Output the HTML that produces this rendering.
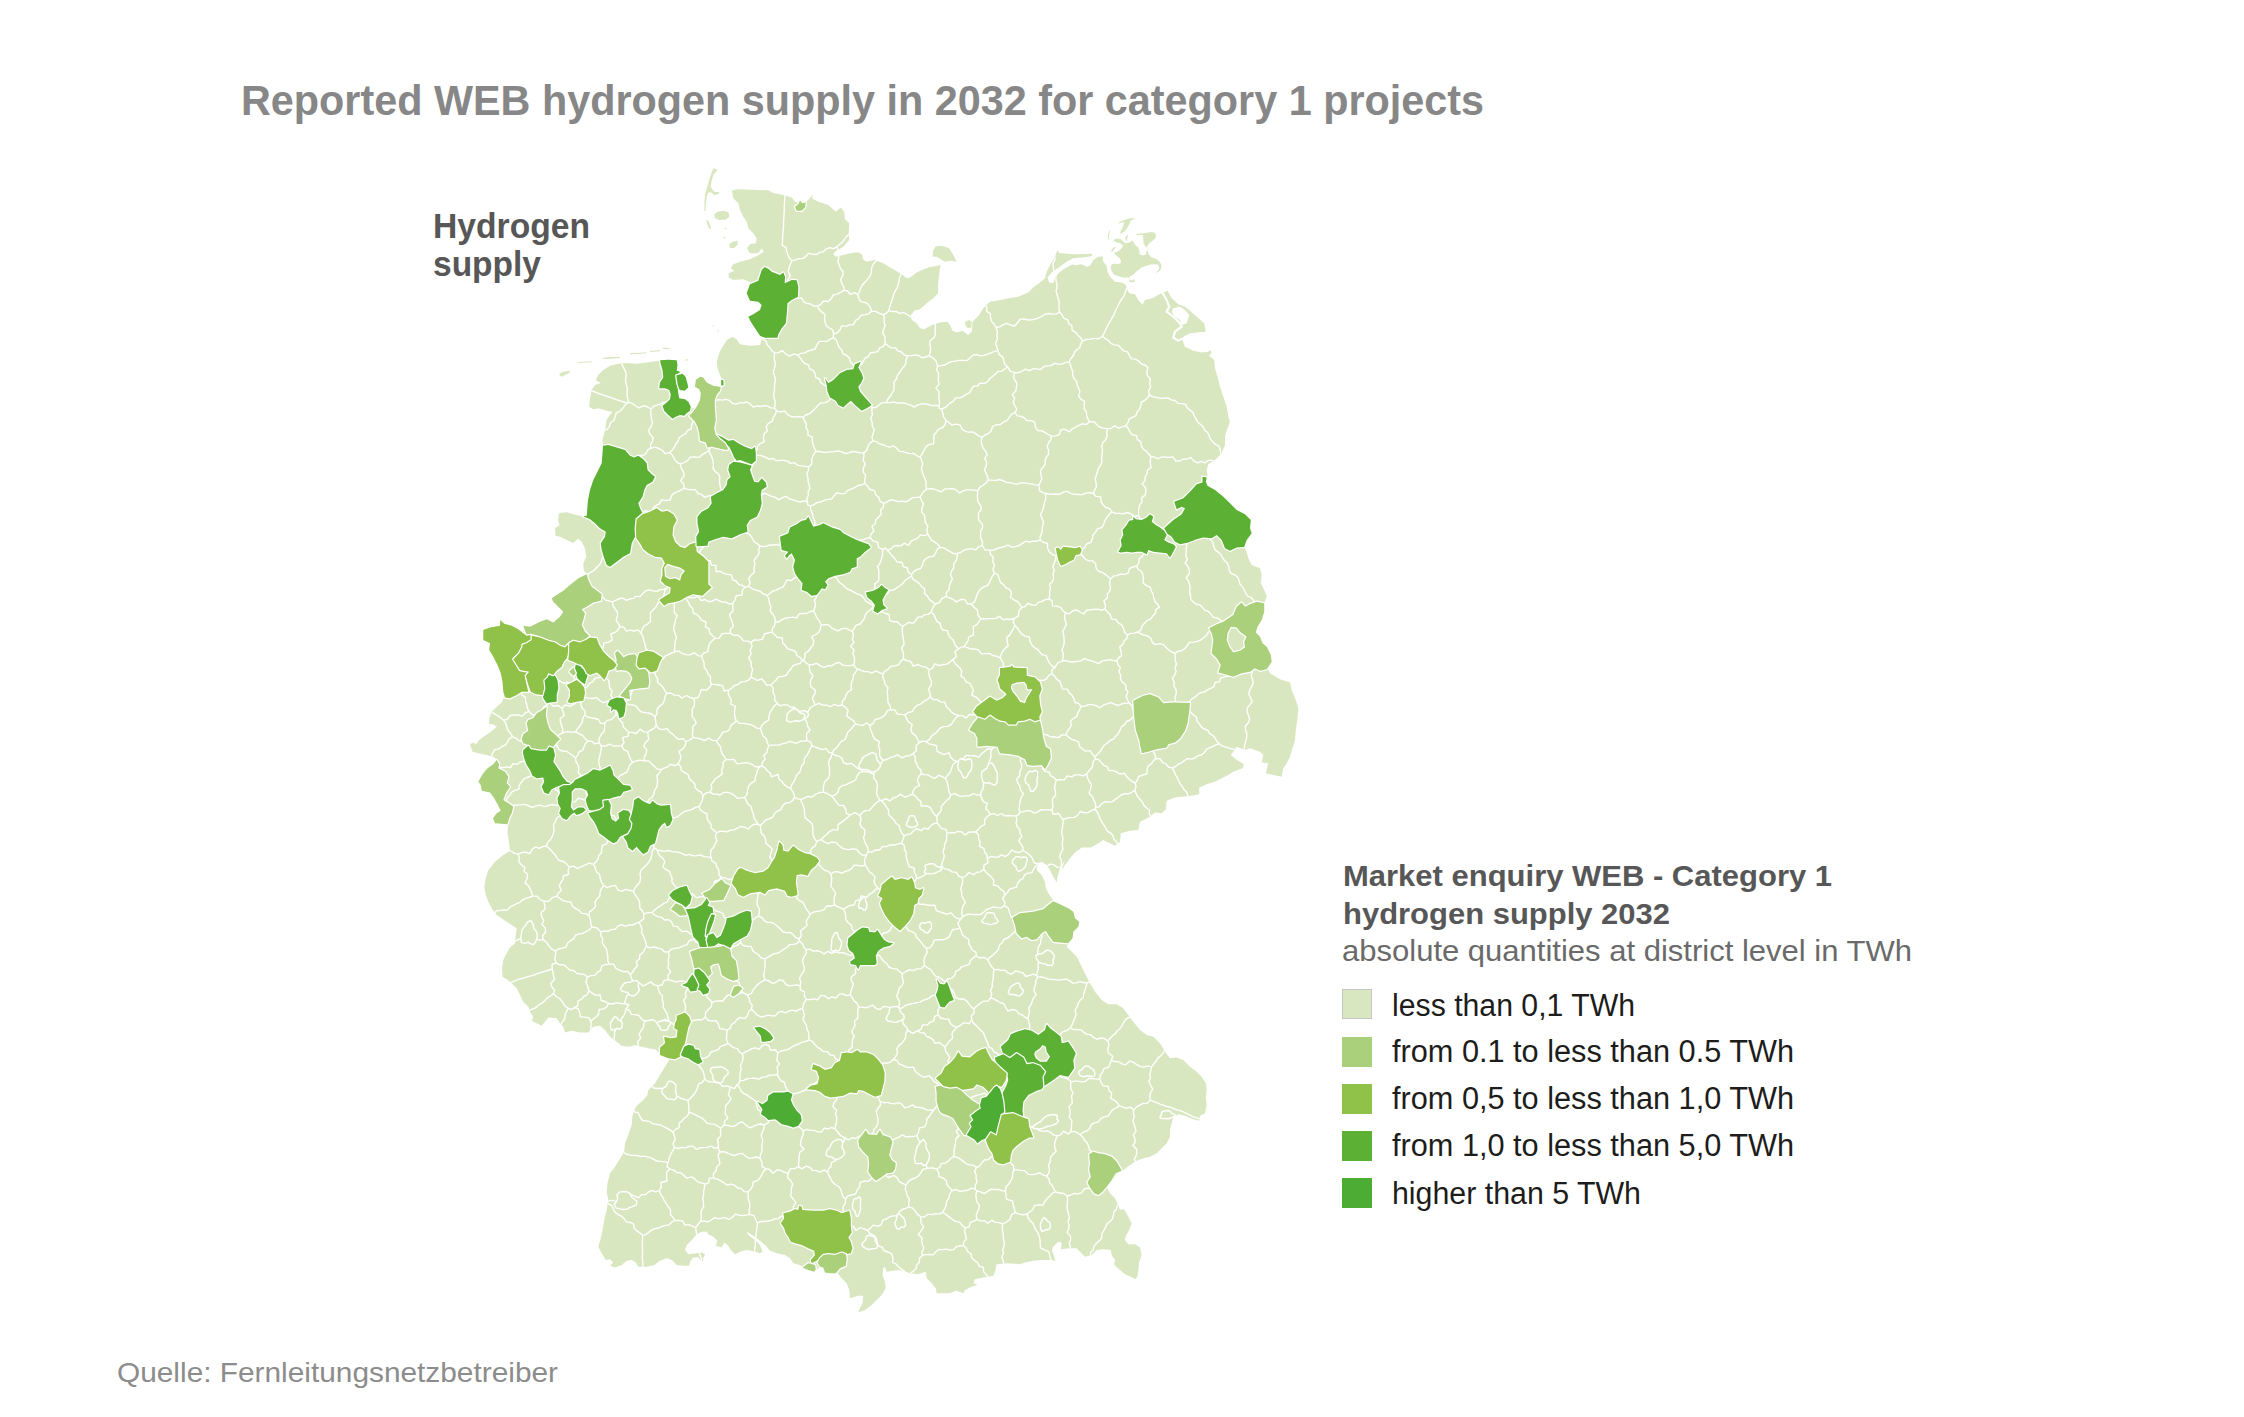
<!DOCTYPE html><html><head><meta charset="utf-8"><title>Reported WEB hydrogen supply</title>
<style>html,body{margin:0;padding:0;background:#fff}body{width:2244px;height:1417px;position:relative;overflow:hidden;font-family:"Liberation Sans",sans-serif}.t{position:absolute;white-space:nowrap;line-height:1;transform-origin:0 0}.sw{position:absolute;left:1342px;width:30px;height:30px}</style></head><body>
<svg width="2244" height="1417" viewBox="0 0 2244 1417" style="position:absolute;left:0;top:0">
<defs><clipPath id="land"><path d="M732.0 190.5 L736.7 189.2 L746.7 189.5 L758.3 190.0 L768.3 190.3 L773.3 193.0 L783.3 195.0 L791.7 197.5 L795.0 201.7 L801.7 203.3 L808.3 200.0 L813.3 193.7 L811.7 198.3 L818.3 201.7 L828.3 205.0 L835.8 211.7 L840.8 207.5 L844.2 211.7 L845.0 219.2 L849.2 223.3 L848.7 233.3 L849.2 240.0 L843.3 246.7 L835.0 251.7 L833.3 254.2 L835.8 256.7 L843.3 255.0 L851.7 253.0 L858.3 252.2 L862.5 255.0 L863.0 259.2 L866.7 261.7 L874.2 260.0 L883.3 263.3 L893.3 269.2 L901.7 274.2 L906.7 278.3 L910.0 277.5 L916.7 272.5 L923.3 269.2 L930.0 267.0 L935.0 266.3 L940.8 265.0 L939.7 270.0 L938.3 281.7 L938.0 293.3 L933.3 298.3 L926.7 303.3 L920.0 309.2 L915.0 310.3 L910.8 315.0 L911.7 320.0 L916.7 323.3 L920.0 328.3 L924.2 329.2 L931.7 325.0 L940.0 322.5 L947.5 321.7 L950.0 325.0 L952.5 330.8 L956.7 332.5 L962.5 330.8 L968.3 335.0 L971.7 331.7 L972.5 321.7 L975.0 319.2 L979.2 315.0 L983.3 308.3 L990.0 301.7 L1000.0 300.0 L1010.0 298.0 L1018.3 296.7 L1028.3 292.5 L1033.3 287.5 L1040.0 282.5 L1045.0 278.3 L1046.7 271.7 L1050.0 265.0 L1055.0 256.7 L1057.5 250.0 L1059.2 253.0 L1073.3 254.2 L1092.5 253.7 L1091.7 256.3 L1081.7 257.5 L1073.3 258.3 L1066.7 261.7 L1060.0 266.7 L1052.5 271.7 L1047.5 277.5 L1049.2 282.5 L1053.3 283.3 L1055.0 278.3 L1058.3 273.3 L1065.0 268.3 L1072.5 264.2 L1075.0 265.3 L1081.7 264.2 L1086.7 266.7 L1090.0 265.8 L1093.3 260.0 L1098.3 256.7 L1102.5 256.2 L1103.3 261.7 L1106.7 265.8 L1107.5 271.7 L1110.0 276.7 L1115.0 281.7 L1121.7 282.5 L1125.8 285.0 L1127.5 290.0 L1129.2 293.3 L1135.0 294.2 L1138.3 300.0 L1142.5 304.7 L1145.0 300.0 L1153.3 298.0 L1159.2 294.2 L1162.5 293.0 L1167.5 290.8 L1171.7 298.3 L1178.3 304.2 L1185.0 306.7 L1190.0 310.8 L1196.7 316.7 L1204.2 323.3 L1205.8 331.7 L1196.7 332.5 L1190.0 333.3 L1185.0 335.8 L1181.7 338.3 L1185.0 346.7 L1193.3 350.8 L1201.7 352.5 L1208.3 351.7 L1210.0 350.0 L1211.7 352.5 L1209.2 355.8 L1214.2 360.0 L1215.0 368.3 L1217.5 376.7 L1220.0 386.7 L1223.3 396.7 L1226.7 406.7 L1228.3 416.7 L1230.0 421.7 L1227.5 428.3 L1225.0 436.0 L1225.0 436.7 L1225.0 445.0 L1221.7 453.3 L1215.0 460.0 L1208.3 464.2 L1206.7 470.0 L1207.5 475.8 L1205.8 481.7 L1207.5 485.8 L1215.0 490.0 L1223.3 496.7 L1230.0 503.3 L1236.7 510.0 L1245.0 514.2 L1250.8 520.0 L1250.0 528.3 L1251.7 533.3 L1246.7 540.0 L1244.2 546.7 L1246.7 551.7 L1248.3 558.3 L1251.7 565.0 L1260.0 568.3 L1261.7 575.0 L1260.8 583.3 L1265.0 591.7 L1266.7 596.7 L1264.2 603.3 L1264.2 611.7 L1261.7 620.0 L1257.5 626.7 L1255.8 632.5 L1260.0 636.7 L1262.5 643.3 L1266.7 650.0 L1270.0 656.0 L1270.8 655.0 L1271.7 661.7 L1267.5 668.3 L1270.0 673.3 L1280.0 679.2 L1290.0 682.5 L1291.7 690.0 L1295.8 700.0 L1298.3 708.3 L1297.5 718.3 L1295.8 730.0 L1295.0 740.0 L1292.5 748.3 L1290.0 756.7 L1286.7 763.3 L1283.3 768.3 L1281.7 776.7 L1273.3 775.0 L1265.8 773.3 L1268.3 763.3 L1261.7 762.5 L1263.3 755.0 L1260.0 751.7 L1250.0 748.3 L1245.0 750.0 L1236.7 746.7 L1230.8 755.0 L1236.7 760.0 L1244.2 764.2 L1242.5 768.3 L1233.3 771.7 L1228.3 775.0 L1221.7 778.3 L1215.0 781.7 L1206.7 784.2 L1199.2 787.5 L1199.2 794.2 L1191.7 795.8 L1181.7 796.7 L1175.0 797.5 L1166.7 800.8 L1165.8 809.2 L1161.7 813.3 L1155.0 812.5 L1150.0 816.7 L1145.0 819.2 L1140.0 821.7 L1138.3 830.0 L1130.0 830.8 L1120.8 833.3 L1120.0 841.7 L1115.0 845.8 L1108.3 842.5 L1103.3 840.0 L1096.7 844.2 L1090.8 847.5 L1081.7 847.5 L1075.0 852.5 L1070.0 858.3 L1065.0 865.0 L1060.8 871.7 L1065.0 860.0 L1060.0 868.3 L1057.5 876.7 L1056.7 882.5 L1053.3 876.7 L1050.0 870.0 L1046.7 865.0 L1041.7 861.7 L1037.5 863.3 L1036.7 870.0 L1041.7 875.0 L1045.0 881.7 L1045.8 888.3 L1048.3 893.3 L1052.5 899.2 L1055.0 901.7 L1060.0 904.2 L1068.3 908.3 L1073.3 911.7 L1075.0 918.3 L1079.2 921.7 L1078.3 926.7 L1073.3 931.7 L1072.5 938.3 L1068.3 943.3 L1066.7 946.7 L1071.7 951.7 L1076.7 956.7 L1080.0 963.3 L1083.3 970.0 L1086.7 976.7 L1090.0 983.3 L1095.0 991.7 L1101.7 1000.0 L1108.3 1004.2 L1116.7 1004.2 L1123.3 1008.3 L1128.3 1015.0 L1133.3 1021.7 L1140.0 1030.0 L1146.7 1035.0 L1153.3 1036.7 L1160.0 1043.3 L1165.0 1051.7 L1170.0 1058.3 L1176.7 1057.5 L1183.3 1060.0 L1190.0 1066.7 L1196.7 1071.7 L1201.7 1076.7 L1205.8 1083.3 L1206.7 1090.0 L1205.8 1096.7 L1206.7 1105.0 L1205.0 1113.3 L1200.0 1115.8 L1199.2 1120.8 L1193.3 1119.2 L1185.0 1115.8 L1178.3 1114.2 L1173.3 1116.7 L1171.7 1123.3 L1170.0 1130.0 L1170.0 1136.7 L1166.7 1143.3 L1161.7 1148.3 L1156.7 1153.3 L1150.0 1156.7 L1143.3 1158.3 L1136.7 1160.8 L1130.0 1165.0 L1123.3 1170.0 L1116.7 1175.0 L1111.7 1180.0 L1106.7 1186.7 L1110.0 1193.3 L1115.0 1198.3 L1118.3 1205.0 L1120.0 1210.0 L1124.2 1209.2 L1128.3 1216.7 L1131.7 1223.3 L1129.2 1230.0 L1125.8 1235.8 L1125.0 1240.0 L1128.3 1244.2 L1135.0 1244.2 L1140.0 1247.5 L1141.7 1255.0 L1139.2 1261.7 L1138.3 1270.0 L1137.5 1276.7 L1135.0 1279.2 L1130.8 1276.7 L1125.0 1274.2 L1120.0 1270.0 L1114.2 1265.0 L1115.0 1260.0 L1111.7 1255.0 L1110.8 1250.0 L1103.3 1249.2 L1096.7 1250.0 L1091.7 1255.0 L1085.0 1256.7 L1080.0 1251.7 L1076.7 1248.3 L1068.3 1248.3 L1060.8 1249.2 L1061.7 1242.5 L1058.3 1241.7 L1053.3 1246.7 L1051.7 1250.0 L1054.2 1256.7 L1055.8 1260.8 L1050.0 1260.0 L1043.3 1260.0 L1033.3 1260.8 L1025.0 1262.5 L1020.0 1264.2 L1006.7 1263.3 L996.7 1264.2 L995.0 1271.7 L993.3 1275.8 L983.3 1277.5 L975.0 1279.2 L973.3 1283.3 L977.5 1285.0 L971.7 1286.7 L965.0 1290.0 L963.3 1293.3 L956.7 1290.8 L949.2 1293.3 L936.7 1293.3 L935.8 1288.3 L931.7 1283.3 L926.7 1278.3 L925.8 1271.7 L918.3 1274.2 L910.0 1273.3 L900.0 1270.0 L893.3 1270.8 L886.7 1271.7 L885.0 1266.7 L883.3 1268.3 L882.5 1275.0 L885.0 1281.7 L885.8 1288.3 L881.7 1295.0 L876.7 1300.0 L871.7 1305.0 L865.0 1310.0 L858.3 1312.5 L860.0 1308.3 L862.5 1303.3 L863.3 1295.8 L858.3 1295.8 L850.0 1298.3 L849.2 1290.0 L846.7 1283.3 L841.7 1278.3 L837.5 1273.3 L833.3 1274.2 L825.0 1272.5 L823.3 1267.5 L820.0 1266.7 L815.0 1271.7 L808.3 1270.0 L802.5 1267.5 L800.0 1265.0 L793.3 1263.3 L790.0 1258.3 L785.0 1255.0 L776.7 1253.3 L770.0 1250.8 L765.8 1245.8 L760.0 1240.8 L753.3 1235.8 L746.7 1231.7 L748.3 1235.0 L755.0 1240.0 L760.0 1245.0 L762.5 1251.7 L760.0 1253.3 L751.7 1250.8 L746.7 1250.0 L740.0 1251.7 L735.0 1254.2 L730.8 1250.0 L728.3 1245.8 L724.2 1242.5 L721.7 1247.5 L715.8 1245.8 L717.5 1240.8 L713.3 1236.7 L708.3 1234.2 L706.7 1231.7 L701.7 1231.7 L696.7 1234.2 L691.7 1240.0 L686.7 1245.0 L685.0 1250.0 L688.3 1254.2 L696.7 1253.3 L701.7 1252.5 L705.0 1254.2 L703.3 1258.3 L702.5 1261.7 L698.3 1257.5 L693.3 1257.5 L690.0 1261.7 L689.2 1265.8 L683.3 1265.8 L676.7 1265.0 L671.7 1260.0 L666.7 1258.3 L660.0 1260.8 L654.2 1265.0 L646.7 1266.7 L638.3 1266.7 L635.8 1262.5 L631.7 1260.0 L626.7 1260.8 L621.7 1265.0 L615.0 1267.5 L610.0 1265.8 L613.3 1262.5 L610.0 1259.2 L605.8 1260.0 L601.7 1253.3 L598.3 1246.7 L600.8 1238.3 L602.5 1230.0 L604.2 1220.0 L606.7 1210.0 L608.3 1200.0 L606.7 1191.7 L607.5 1183.3 L610.0 1173.3 L615.0 1166.7 L619.2 1160.0 L624.2 1151.7 L625.0 1143.3 L628.3 1135.0 L631.7 1125.0 L632.5 1115.0 L635.8 1106.7 L643.3 1100.0 L647.5 1095.0 L648.3 1090.0 L655.0 1083.3 L660.0 1075.0 L665.0 1066.7 L669.2 1060.0 L663.3 1056.7 L660.0 1055.0 L658.3 1051.7 L655.0 1049.2 L648.3 1048.3 L641.7 1046.7 L635.0 1045.0 L628.3 1046.7 L621.7 1045.8 L616.7 1041.7 L610.0 1036.7 L605.0 1030.0 L600.0 1025.8 L593.3 1026.7 L588.3 1032.5 L580.0 1032.5 L571.7 1030.8 L565.0 1032.5 L563.3 1026.7 L560.0 1023.3 L556.7 1018.3 L548.3 1017.5 L545.0 1021.7 L541.7 1025.8 L535.0 1022.5 L531.7 1020.8 L533.3 1016.7 L530.8 1013.3 L528.3 1006.7 L523.3 1001.7 L520.0 995.0 L516.7 988.3 L511.7 983.3 L506.7 979.2 L502.5 976.7 L502.0 968.3 L503.3 960.0 L506.7 953.3 L510.0 947.5 L515.0 943.3 L515.8 935.0 L516.7 928.3 L511.7 925.0 L505.0 920.8 L496.7 915.0 L491.7 908.3 L488.3 901.7 L485.8 895.0 L484.2 886.7 L485.8 878.3 L488.3 870.0 L490.0 868.3 L495.0 861.7 L503.3 855.0 L510.0 850.8 L509.2 843.3 L507.5 833.3 L508.0 824.7 L495.0 823.3 L493.0 818.3 L496.7 813.3 L500.8 810.8 L497.5 804.2 L494.2 798.3 L490.0 792.5 L481.7 790.8 L480.8 785.0 L478.3 781.7 L482.5 774.2 L487.5 768.3 L493.3 764.2 L497.5 760.0 L493.3 756.7 L486.7 755.0 L478.3 753.3 L472.5 751.7 L470.0 744.2 L473.3 742.5 L475.8 744.2 L479.2 740.0 L483.3 736.7 L490.0 732.5 L496.7 726.7 L493.3 724.2 L489.2 724.2 L489.2 718.3 L491.7 711.7 L496.7 706.7 L501.7 702.5 L504.2 696.7 L503.3 690.0 L502.5 681.7 L500.8 673.3 L497.5 665.0 L493.3 656.7 L489.2 650.0 L490.0 643.3 L483.3 640.0 L483.3 630.0 L490.0 627.5 L500.0 625.8 L500.3 620.0 L504.2 623.7 L511.7 625.8 L518.3 629.2 L523.3 633.3 L523.3 625.8 L530.0 626.7 L540.0 621.7 L546.7 619.2 L553.3 622.5 L560.0 616.7 L563.3 611.7 L558.3 606.7 L553.3 601.7 L551.7 598.3 L556.7 595.0 L563.3 590.8 L570.0 585.0 L578.3 578.3 L586.7 574.2 L583.7 570.0 L583.3 563.3 L586.3 556.7 L585.0 548.3 L581.7 541.7 L578.0 538.7 L573.3 543.0 L565.0 539.2 L560.0 536.7 L555.5 535.8 L555.0 528.3 L559.7 525.0 L558.0 520.0 L559.2 513.0 L566.7 512.2 L573.3 514.2 L582.5 516.3 L586.7 516.3 L588.0 500.0 L590.0 490.0 L593.3 480.0 L597.5 471.7 L601.7 463.3 L602.5 453.3 L603.0 445.0 L602.5 440.0 L605.0 430.0 L606.7 420.0 L609.2 415.8 L612.5 412.0 L606.7 410.8 L598.3 408.3 L593.3 409.2 L589.2 407.0 L590.0 398.3 L591.7 390.0 L595.0 385.0 L600.8 383.0 L595.8 380.3 L598.3 375.0 L603.3 370.0 L610.0 365.8 L618.3 363.7 L626.7 363.0 L636.7 363.7 L646.7 362.5 L658.3 360.8 L668.3 359.7 L676.7 360.3 L677.5 365.0 L677.0 370.0 L680.3 371.3 L682.5 374.2 L685.0 377.5 L686.7 383.3 L687.5 387.5 L684.2 390.0 L680.0 391.7 L679.2 396.7 L682.5 399.2 L688.3 401.7 L690.8 406.7 L692.5 408.3 L696.7 406.7 L700.0 400.0 L700.8 393.3 L699.2 389.2 L695.0 387.5 L695.3 380.8 L699.7 376.7 L703.3 377.5 L706.7 382.5 L713.3 385.8 L720.8 387.0 L722.5 380.0 L720.0 375.0 L717.5 368.3 L716.7 361.7 L719.2 353.3 L722.5 346.7 L726.7 340.0 L732.5 336.7 L736.7 339.2 L740.0 344.2 L750.0 345.8 L760.0 345.0 L762.0 338.7 L762.5 339.2 L760.0 335.8 L755.0 328.3 L750.8 321.7 L748.3 316.7 L753.3 314.2 L760.0 310.0 L761.7 305.0 L758.3 301.7 L750.0 300.8 L746.7 293.3 L750.0 284.2 L750.0 282.0 L743.3 279.2 L733.3 280.0 L728.7 277.5 L728.7 273.3 L734.2 270.8 L730.8 268.3 L733.3 264.2 L740.0 261.7 L750.0 259.2 L758.3 255.3 L763.7 251.7 L761.7 248.3 L758.3 253.3 L750.0 253.3 L747.0 248.3 L750.0 244.2 L755.8 243.3 L756.7 238.3 L753.3 233.3 L748.3 228.3 L746.7 221.7 L743.3 216.7 L740.0 210.0 L738.3 203.3 L733.3 198.3 L732.0 190.8Z"/></clipPath></defs>
<g fill="#d9e7c1" stroke="none">
<path d="M732.0 190.5 L736.7 189.2 L746.7 189.5 L758.3 190.0 L768.3 190.3 L773.3 193.0 L783.3 195.0 L791.7 197.5 L795.0 201.7 L801.7 203.3 L808.3 200.0 L813.3 193.7 L811.7 198.3 L818.3 201.7 L828.3 205.0 L835.8 211.7 L840.8 207.5 L844.2 211.7 L845.0 219.2 L849.2 223.3 L848.7 233.3 L849.2 240.0 L843.3 246.7 L835.0 251.7 L833.3 254.2 L835.8 256.7 L843.3 255.0 L851.7 253.0 L858.3 252.2 L862.5 255.0 L863.0 259.2 L866.7 261.7 L874.2 260.0 L883.3 263.3 L893.3 269.2 L901.7 274.2 L906.7 278.3 L910.0 277.5 L916.7 272.5 L923.3 269.2 L930.0 267.0 L935.0 266.3 L940.8 265.0 L939.7 270.0 L938.3 281.7 L938.0 293.3 L933.3 298.3 L926.7 303.3 L920.0 309.2 L915.0 310.3 L910.8 315.0 L911.7 320.0 L916.7 323.3 L920.0 328.3 L924.2 329.2 L931.7 325.0 L940.0 322.5 L947.5 321.7 L950.0 325.0 L952.5 330.8 L956.7 332.5 L962.5 330.8 L968.3 335.0 L971.7 331.7 L972.5 321.7 L975.0 319.2 L979.2 315.0 L983.3 308.3 L990.0 301.7 L1000.0 300.0 L1010.0 298.0 L1018.3 296.7 L1028.3 292.5 L1033.3 287.5 L1040.0 282.5 L1045.0 278.3 L1046.7 271.7 L1050.0 265.0 L1055.0 256.7 L1057.5 250.0 L1059.2 253.0 L1073.3 254.2 L1092.5 253.7 L1091.7 256.3 L1081.7 257.5 L1073.3 258.3 L1066.7 261.7 L1060.0 266.7 L1052.5 271.7 L1047.5 277.5 L1049.2 282.5 L1053.3 283.3 L1055.0 278.3 L1058.3 273.3 L1065.0 268.3 L1072.5 264.2 L1075.0 265.3 L1081.7 264.2 L1086.7 266.7 L1090.0 265.8 L1093.3 260.0 L1098.3 256.7 L1102.5 256.2 L1103.3 261.7 L1106.7 265.8 L1107.5 271.7 L1110.0 276.7 L1115.0 281.7 L1121.7 282.5 L1125.8 285.0 L1127.5 290.0 L1129.2 293.3 L1135.0 294.2 L1138.3 300.0 L1142.5 304.7 L1145.0 300.0 L1153.3 298.0 L1159.2 294.2 L1162.5 293.0 L1167.5 290.8 L1171.7 298.3 L1178.3 304.2 L1185.0 306.7 L1190.0 310.8 L1196.7 316.7 L1204.2 323.3 L1205.8 331.7 L1196.7 332.5 L1190.0 333.3 L1185.0 335.8 L1181.7 338.3 L1185.0 346.7 L1193.3 350.8 L1201.7 352.5 L1208.3 351.7 L1210.0 350.0 L1211.7 352.5 L1209.2 355.8 L1214.2 360.0 L1215.0 368.3 L1217.5 376.7 L1220.0 386.7 L1223.3 396.7 L1226.7 406.7 L1228.3 416.7 L1230.0 421.7 L1227.5 428.3 L1225.0 436.0 L1225.0 436.7 L1225.0 445.0 L1221.7 453.3 L1215.0 460.0 L1208.3 464.2 L1206.7 470.0 L1207.5 475.8 L1205.8 481.7 L1207.5 485.8 L1215.0 490.0 L1223.3 496.7 L1230.0 503.3 L1236.7 510.0 L1245.0 514.2 L1250.8 520.0 L1250.0 528.3 L1251.7 533.3 L1246.7 540.0 L1244.2 546.7 L1246.7 551.7 L1248.3 558.3 L1251.7 565.0 L1260.0 568.3 L1261.7 575.0 L1260.8 583.3 L1265.0 591.7 L1266.7 596.7 L1264.2 603.3 L1264.2 611.7 L1261.7 620.0 L1257.5 626.7 L1255.8 632.5 L1260.0 636.7 L1262.5 643.3 L1266.7 650.0 L1270.0 656.0 L1270.8 655.0 L1271.7 661.7 L1267.5 668.3 L1270.0 673.3 L1280.0 679.2 L1290.0 682.5 L1291.7 690.0 L1295.8 700.0 L1298.3 708.3 L1297.5 718.3 L1295.8 730.0 L1295.0 740.0 L1292.5 748.3 L1290.0 756.7 L1286.7 763.3 L1283.3 768.3 L1281.7 776.7 L1273.3 775.0 L1265.8 773.3 L1268.3 763.3 L1261.7 762.5 L1263.3 755.0 L1260.0 751.7 L1250.0 748.3 L1245.0 750.0 L1236.7 746.7 L1230.8 755.0 L1236.7 760.0 L1244.2 764.2 L1242.5 768.3 L1233.3 771.7 L1228.3 775.0 L1221.7 778.3 L1215.0 781.7 L1206.7 784.2 L1199.2 787.5 L1199.2 794.2 L1191.7 795.8 L1181.7 796.7 L1175.0 797.5 L1166.7 800.8 L1165.8 809.2 L1161.7 813.3 L1155.0 812.5 L1150.0 816.7 L1145.0 819.2 L1140.0 821.7 L1138.3 830.0 L1130.0 830.8 L1120.8 833.3 L1120.0 841.7 L1115.0 845.8 L1108.3 842.5 L1103.3 840.0 L1096.7 844.2 L1090.8 847.5 L1081.7 847.5 L1075.0 852.5 L1070.0 858.3 L1065.0 865.0 L1060.8 871.7 L1065.0 860.0 L1060.0 868.3 L1057.5 876.7 L1056.7 882.5 L1053.3 876.7 L1050.0 870.0 L1046.7 865.0 L1041.7 861.7 L1037.5 863.3 L1036.7 870.0 L1041.7 875.0 L1045.0 881.7 L1045.8 888.3 L1048.3 893.3 L1052.5 899.2 L1055.0 901.7 L1060.0 904.2 L1068.3 908.3 L1073.3 911.7 L1075.0 918.3 L1079.2 921.7 L1078.3 926.7 L1073.3 931.7 L1072.5 938.3 L1068.3 943.3 L1066.7 946.7 L1071.7 951.7 L1076.7 956.7 L1080.0 963.3 L1083.3 970.0 L1086.7 976.7 L1090.0 983.3 L1095.0 991.7 L1101.7 1000.0 L1108.3 1004.2 L1116.7 1004.2 L1123.3 1008.3 L1128.3 1015.0 L1133.3 1021.7 L1140.0 1030.0 L1146.7 1035.0 L1153.3 1036.7 L1160.0 1043.3 L1165.0 1051.7 L1170.0 1058.3 L1176.7 1057.5 L1183.3 1060.0 L1190.0 1066.7 L1196.7 1071.7 L1201.7 1076.7 L1205.8 1083.3 L1206.7 1090.0 L1205.8 1096.7 L1206.7 1105.0 L1205.0 1113.3 L1200.0 1115.8 L1199.2 1120.8 L1193.3 1119.2 L1185.0 1115.8 L1178.3 1114.2 L1173.3 1116.7 L1171.7 1123.3 L1170.0 1130.0 L1170.0 1136.7 L1166.7 1143.3 L1161.7 1148.3 L1156.7 1153.3 L1150.0 1156.7 L1143.3 1158.3 L1136.7 1160.8 L1130.0 1165.0 L1123.3 1170.0 L1116.7 1175.0 L1111.7 1180.0 L1106.7 1186.7 L1110.0 1193.3 L1115.0 1198.3 L1118.3 1205.0 L1120.0 1210.0 L1124.2 1209.2 L1128.3 1216.7 L1131.7 1223.3 L1129.2 1230.0 L1125.8 1235.8 L1125.0 1240.0 L1128.3 1244.2 L1135.0 1244.2 L1140.0 1247.5 L1141.7 1255.0 L1139.2 1261.7 L1138.3 1270.0 L1137.5 1276.7 L1135.0 1279.2 L1130.8 1276.7 L1125.0 1274.2 L1120.0 1270.0 L1114.2 1265.0 L1115.0 1260.0 L1111.7 1255.0 L1110.8 1250.0 L1103.3 1249.2 L1096.7 1250.0 L1091.7 1255.0 L1085.0 1256.7 L1080.0 1251.7 L1076.7 1248.3 L1068.3 1248.3 L1060.8 1249.2 L1061.7 1242.5 L1058.3 1241.7 L1053.3 1246.7 L1051.7 1250.0 L1054.2 1256.7 L1055.8 1260.8 L1050.0 1260.0 L1043.3 1260.0 L1033.3 1260.8 L1025.0 1262.5 L1020.0 1264.2 L1006.7 1263.3 L996.7 1264.2 L995.0 1271.7 L993.3 1275.8 L983.3 1277.5 L975.0 1279.2 L973.3 1283.3 L977.5 1285.0 L971.7 1286.7 L965.0 1290.0 L963.3 1293.3 L956.7 1290.8 L949.2 1293.3 L936.7 1293.3 L935.8 1288.3 L931.7 1283.3 L926.7 1278.3 L925.8 1271.7 L918.3 1274.2 L910.0 1273.3 L900.0 1270.0 L893.3 1270.8 L886.7 1271.7 L885.0 1266.7 L883.3 1268.3 L882.5 1275.0 L885.0 1281.7 L885.8 1288.3 L881.7 1295.0 L876.7 1300.0 L871.7 1305.0 L865.0 1310.0 L858.3 1312.5 L860.0 1308.3 L862.5 1303.3 L863.3 1295.8 L858.3 1295.8 L850.0 1298.3 L849.2 1290.0 L846.7 1283.3 L841.7 1278.3 L837.5 1273.3 L833.3 1274.2 L825.0 1272.5 L823.3 1267.5 L820.0 1266.7 L815.0 1271.7 L808.3 1270.0 L802.5 1267.5 L800.0 1265.0 L793.3 1263.3 L790.0 1258.3 L785.0 1255.0 L776.7 1253.3 L770.0 1250.8 L765.8 1245.8 L760.0 1240.8 L753.3 1235.8 L746.7 1231.7 L748.3 1235.0 L755.0 1240.0 L760.0 1245.0 L762.5 1251.7 L760.0 1253.3 L751.7 1250.8 L746.7 1250.0 L740.0 1251.7 L735.0 1254.2 L730.8 1250.0 L728.3 1245.8 L724.2 1242.5 L721.7 1247.5 L715.8 1245.8 L717.5 1240.8 L713.3 1236.7 L708.3 1234.2 L706.7 1231.7 L701.7 1231.7 L696.7 1234.2 L691.7 1240.0 L686.7 1245.0 L685.0 1250.0 L688.3 1254.2 L696.7 1253.3 L701.7 1252.5 L705.0 1254.2 L703.3 1258.3 L702.5 1261.7 L698.3 1257.5 L693.3 1257.5 L690.0 1261.7 L689.2 1265.8 L683.3 1265.8 L676.7 1265.0 L671.7 1260.0 L666.7 1258.3 L660.0 1260.8 L654.2 1265.0 L646.7 1266.7 L638.3 1266.7 L635.8 1262.5 L631.7 1260.0 L626.7 1260.8 L621.7 1265.0 L615.0 1267.5 L610.0 1265.8 L613.3 1262.5 L610.0 1259.2 L605.8 1260.0 L601.7 1253.3 L598.3 1246.7 L600.8 1238.3 L602.5 1230.0 L604.2 1220.0 L606.7 1210.0 L608.3 1200.0 L606.7 1191.7 L607.5 1183.3 L610.0 1173.3 L615.0 1166.7 L619.2 1160.0 L624.2 1151.7 L625.0 1143.3 L628.3 1135.0 L631.7 1125.0 L632.5 1115.0 L635.8 1106.7 L643.3 1100.0 L647.5 1095.0 L648.3 1090.0 L655.0 1083.3 L660.0 1075.0 L665.0 1066.7 L669.2 1060.0 L663.3 1056.7 L660.0 1055.0 L658.3 1051.7 L655.0 1049.2 L648.3 1048.3 L641.7 1046.7 L635.0 1045.0 L628.3 1046.7 L621.7 1045.8 L616.7 1041.7 L610.0 1036.7 L605.0 1030.0 L600.0 1025.8 L593.3 1026.7 L588.3 1032.5 L580.0 1032.5 L571.7 1030.8 L565.0 1032.5 L563.3 1026.7 L560.0 1023.3 L556.7 1018.3 L548.3 1017.5 L545.0 1021.7 L541.7 1025.8 L535.0 1022.5 L531.7 1020.8 L533.3 1016.7 L530.8 1013.3 L528.3 1006.7 L523.3 1001.7 L520.0 995.0 L516.7 988.3 L511.7 983.3 L506.7 979.2 L502.5 976.7 L502.0 968.3 L503.3 960.0 L506.7 953.3 L510.0 947.5 L515.0 943.3 L515.8 935.0 L516.7 928.3 L511.7 925.0 L505.0 920.8 L496.7 915.0 L491.7 908.3 L488.3 901.7 L485.8 895.0 L484.2 886.7 L485.8 878.3 L488.3 870.0 L490.0 868.3 L495.0 861.7 L503.3 855.0 L510.0 850.8 L509.2 843.3 L507.5 833.3 L508.0 824.7 L495.0 823.3 L493.0 818.3 L496.7 813.3 L500.8 810.8 L497.5 804.2 L494.2 798.3 L490.0 792.5 L481.7 790.8 L480.8 785.0 L478.3 781.7 L482.5 774.2 L487.5 768.3 L493.3 764.2 L497.5 760.0 L493.3 756.7 L486.7 755.0 L478.3 753.3 L472.5 751.7 L470.0 744.2 L473.3 742.5 L475.8 744.2 L479.2 740.0 L483.3 736.7 L490.0 732.5 L496.7 726.7 L493.3 724.2 L489.2 724.2 L489.2 718.3 L491.7 711.7 L496.7 706.7 L501.7 702.5 L504.2 696.7 L503.3 690.0 L502.5 681.7 L500.8 673.3 L497.5 665.0 L493.3 656.7 L489.2 650.0 L490.0 643.3 L483.3 640.0 L483.3 630.0 L490.0 627.5 L500.0 625.8 L500.3 620.0 L504.2 623.7 L511.7 625.8 L518.3 629.2 L523.3 633.3 L523.3 625.8 L530.0 626.7 L540.0 621.7 L546.7 619.2 L553.3 622.5 L560.0 616.7 L563.3 611.7 L558.3 606.7 L553.3 601.7 L551.7 598.3 L556.7 595.0 L563.3 590.8 L570.0 585.0 L578.3 578.3 L586.7 574.2 L583.7 570.0 L583.3 563.3 L586.3 556.7 L585.0 548.3 L581.7 541.7 L578.0 538.7 L573.3 543.0 L565.0 539.2 L560.0 536.7 L555.5 535.8 L555.0 528.3 L559.7 525.0 L558.0 520.0 L559.2 513.0 L566.7 512.2 L573.3 514.2 L582.5 516.3 L586.7 516.3 L588.0 500.0 L590.0 490.0 L593.3 480.0 L597.5 471.7 L601.7 463.3 L602.5 453.3 L603.0 445.0 L602.5 440.0 L605.0 430.0 L606.7 420.0 L609.2 415.8 L612.5 412.0 L606.7 410.8 L598.3 408.3 L593.3 409.2 L589.2 407.0 L590.0 398.3 L591.7 390.0 L595.0 385.0 L600.8 383.0 L595.8 380.3 L598.3 375.0 L603.3 370.0 L610.0 365.8 L618.3 363.7 L626.7 363.0 L636.7 363.7 L646.7 362.5 L658.3 360.8 L668.3 359.7 L676.7 360.3 L677.5 365.0 L677.0 370.0 L680.3 371.3 L682.5 374.2 L685.0 377.5 L686.7 383.3 L687.5 387.5 L684.2 390.0 L680.0 391.7 L679.2 396.7 L682.5 399.2 L688.3 401.7 L690.8 406.7 L692.5 408.3 L696.7 406.7 L700.0 400.0 L700.8 393.3 L699.2 389.2 L695.0 387.5 L695.3 380.8 L699.7 376.7 L703.3 377.5 L706.7 382.5 L713.3 385.8 L720.8 387.0 L722.5 380.0 L720.0 375.0 L717.5 368.3 L716.7 361.7 L719.2 353.3 L722.5 346.7 L726.7 340.0 L732.5 336.7 L736.7 339.2 L740.0 344.2 L750.0 345.8 L760.0 345.0 L762.0 338.7 L762.5 339.2 L760.0 335.8 L755.0 328.3 L750.8 321.7 L748.3 316.7 L753.3 314.2 L760.0 310.0 L761.7 305.0 L758.3 301.7 L750.0 300.8 L746.7 293.3 L750.0 284.2 L750.0 282.0 L743.3 279.2 L733.3 280.0 L728.7 277.5 L728.7 273.3 L734.2 270.8 L730.8 268.3 L733.3 264.2 L740.0 261.7 L750.0 259.2 L758.3 255.3 L763.7 251.7 L761.7 248.3 L758.3 253.3 L750.0 253.3 L747.0 248.3 L750.0 244.2 L755.8 243.3 L756.7 238.3 L753.3 233.3 L748.3 228.3 L746.7 221.7 L743.3 216.7 L740.0 210.0 L738.3 203.3 L733.3 198.3 L732.0 190.8Z"/>
<path d="M713.4 168.3 L717.5 170.0 L713.4 174.7 L711.6 181.1 L710.6 186.6 L712.9 190.3 L715.2 192.1 L719.8 192.1 L717.5 194.4 L714.3 194.9 L711.6 192.5 L708.5 192.5 L706.8 196.0 L706.0 203.0 L705.4 211.0 L704.3 211.0 L704.6 200.0 L705.1 194.0 L707.0 187.5 L709.7 178.3 L712.9 169.2Z"/>
<path d="M714.2 214.2 L717.5 211.7 L724.2 210.8 L728.7 212.5 L729.2 216.7 L725.8 219.7 L719.2 220.0 L715.0 218.3Z"/>
<path d="M706.3 220.3 L708.3 220.8 L710.0 225.0 L711.3 229.2 L709.2 228.3 L707.2 224.2Z"/>
<path d="M729.2 244.2 L732.5 241.7 L737.5 240.8 L737.5 245.0 L734.2 248.0 L730.0 248.0Z"/>
<path d="M724.7 227.5 L726.7 228.3 L725.3 229.7Z"/>
<path d="M723.3 236.7 L725.8 237.5 L724.2 238.7Z"/>
<path d="M712.5 325.0 L714.2 325.8 L713.0 327.0Z"/>
<path d="M717.5 330.0 L719.2 330.3 L718.0 332.0Z"/>
<path d="M559.2 373.7 L563.3 371.7 L570.0 370.8 L569.2 373.0 L565.0 375.0 L562.5 376.7 L560.0 375.8Z"/>
<path d="M578.3 362.0 L591.7 361.3 L591.7 362.3 L578.3 363.0Z"/>
<path d="M602.5 358.0 L610.8 357.0 L620.0 356.7 L620.0 358.0 L610.8 358.7 L602.5 359.0Z"/>
<path d="M630.0 353.3 L646.7 352.2 L646.7 353.3 L630.0 354.5Z"/>
<path d="M650.0 351.0 L660.0 350.0 L660.0 351.2 L650.0 352.0Z"/>
<path d="M662.5 348.0 L666.7 347.5 L670.8 348.7 L666.7 349.3 L663.0 349.0Z"/>
<path d="M685.0 359.7 L688.3 359.0 L688.3 360.3 L685.3 360.8Z"/>
<path d="M932.5 256.7 L933.3 250.0 L935.8 246.3 L941.7 245.8 L949.2 248.3 L953.3 255.0 L956.7 261.7 L950.0 260.8 L945.0 261.7 L940.8 259.2 L936.7 256.7Z"/>
<path d="M965.0 321.7 L969.2 320.0 L971.7 321.7 L971.3 327.5 L967.5 328.3 L965.3 325.0Z"/>
<path d="M1113.4 239.9 L1116.6 238.6 L1120.4 238.9 L1123.0 241.1 L1124.9 243.0 L1128.0 243.0 L1130.6 241.8 L1132.5 240.5 L1133.8 243.0 L1135.7 245.6 L1138.2 247.5 L1139.5 251.3 L1139.5 254.5 L1143.3 255.4 L1145.8 254.5 L1146.8 250.7 L1147.1 248.1 L1147.7 251.3 L1149.0 254.5 L1150.9 257.0 L1154.1 258.3 L1156.6 258.9 L1158.5 260.8 L1160.4 262.7 L1161.4 265.3 L1161.1 268.4 L1159.8 271.0 L1157.3 272.6 L1156.0 272.3 L1158.5 270.4 L1159.2 267.2 L1157.9 264.6 L1155.4 264.3 L1150.9 264.6 L1145.8 265.9 L1142.0 267.2 L1139.5 269.1 L1136.9 271.0 L1134.4 273.5 L1131.8 275.4 L1129.3 276.7 L1129.6 279.9 L1131.8 280.5 L1133.1 279.3 L1135.0 279.9 L1134.4 282.1 L1131.2 282.4 L1129.3 281.8 L1128.7 277.3 L1125.5 277.7 L1121.7 277.3 L1117.9 276.1 L1114.1 274.8 L1111.5 271.0 L1110.6 267.2 L1111.5 264.6 L1114.1 263.7 L1117.9 264.0 L1120.4 263.4 L1121.0 260.8 L1119.8 258.3 L1117.9 257.0 L1115.3 254.5 L1114.1 252.6 L1116.6 251.9 L1119.1 250.7 L1121.7 248.1 L1123.0 246.2 L1121.7 244.3 L1119.8 243.0 L1116.6 242.4 L1114.1 241.1Z"/>
<path d="M1110.9 251.3 L1113.4 247.5 L1116.0 246.8 L1114.7 248.8 L1112.2 251.9Z"/>
<path d="M1136.3 234.1 L1143.3 233.2 L1152.2 231.9 L1155.4 232.9 L1156.0 236.7 L1154.7 239.2 L1152.2 241.1 L1149.6 243.0 L1147.7 245.6 L1146.8 248.1 L1145.2 245.6 L1143.6 244.3 L1143.3 239.9 L1143.0 235.1 L1139.5 235.1 L1136.3 235.1Z"/>
<path d="M1117.2 223.7 L1120.4 221.4 L1125.5 219.5 L1130.6 218.3 L1135.0 217.9 L1133.1 219.5 L1130.6 220.8 L1129.6 223.3 L1128.0 226.5 L1126.1 229.7 L1123.6 232.2 L1120.4 234.1 L1120.4 231.6 L1122.3 228.4 L1123.6 224.6 L1124.2 222.1 L1120.4 223.0Z"/>
<path d="M1107.7 239.2 L1108.0 234.1 L1109.3 230.3 L1109.9 231.0 L1109.0 235.4 L1108.7 239.5Z"/>
<path d="M1125.5 237.3 L1128.0 234.1 L1127.7 236.7 L1126.8 240.5 L1125.8 241.1Z"/>
</g>
<g clip-path="url(#land)" fill="none" stroke="#fff" stroke-width="1.35" stroke-linejoin="round" stroke-linecap="round">
<path d="M-1954.1 -500.2 L-1950.8 -499.0 L-1947.5 -497.9 L-1944.2 -496.8 L-1940.9 -495.5 L-1937.6 -494.4 L-1934.2 -493.5 L-1931.0 -492.1 L-1927.7 -490.9 L-1924.4 -489.8 L-1921.1 -488.6 L-1917.8 -487.3 L-1914.6 -486.0 L-1911.2 -485.0 L-1907.8 -484.1 L-1904.6 -482.6 L-1901.3 -481.6 L-1897.8 -480.9 L-1894.6 -479.5 L-1891.3 -478.3 L-1888.0 -477.2 L-1884.7 -476.1 L-1881.4 -474.9 L-1878.3 -473.2 L-1874.9 -472.2 L-1871.5 -471.4 L-1868.3 -469.7 L-1865.0 -468.6 L-1861.6 -467.9 L-1858.3 -466.8 L-1855.0 -465.6 L-1851.7 -464.4 L-1848.3 -463.5 L-1844.9 -462.5 L-1841.8 -460.7 L-1838.5 -459.6 L-1835.1 -458.8 L-1832.0 -457.1 L-1828.7 -455.7 L-1825.3 -454.9 L-1822.0 -453.8 L-1818.6 -452.7 L-1815.4 -451.3 L-1812.0 -450.6 L-1808.5 -450.0 L-1805.4 -448.1 L-1802.1 -446.9 L-1798.6 -446.4 L-1795.5 -444.8 L-1792.3 -443.2 L-1789.0 -442.0 L-1785.7 -441.0 L-1782.3 -440.0 L-1779.2 -438.2 L-1775.8 -437.4 L-1772.2 -437.1 L-1769.1 -435.4 L-1765.8 -434.2 L-1762.3 -433.7 L-1759.0 -432.4 L-1755.8 -431.0 L-1752.6 -429.4 L-1749.3 -428.4 L-1745.8 -427.6 L-1742.9 -425.4 L-1739.6 -424.3 L-1735.9 -424.1 L-1732.8 -422.5 L-1729.5 -421.2 L-1726.0 -420.5 L-1722.6 -419.7 L-1719.3 -418.7 L-1716.2 -416.8 L-1712.8 -415.9 L-1709.3 -415.4 L-1706.4 -413.1 L-1703.2 -411.5 L-1699.7 -411.1 L-1696.4 -409.7 L-1693.3 -408.2 L-1689.9 -407.2 L-1686.4 -406.5 L-1682.9 -406.0 L-1679.9 -404.1 L-1676.5 -403.1 L-1672.8 -403.0 L-1669.8 -401.0 L-1666.7 -399.2 L-1663.3 -398.5 L-1660.0 -397.2 L-1656.8 -395.7 L-1653.7 -394.1 L-1650.3 -393.2 L-1646.6 -393.0 L-1643.6 -391.1 L-1640.3 -389.9 L-1636.5 -390.1 L-1633.4 -388.6 L-1630.2 -386.9 L-1626.9 -385.9 L-1623.5 -384.9 L-1620.2 -383.7 L-1617.3 -381.5 L-1614.0 -380.3 L-1610.3 -380.2 L-1607.3 -378.2 L-1604.2 -376.6 L-1600.4 -376.7 L-1597.1 -375.7 L-1593.8 -374.3 L-1590.6 -373.1 L-1587.1 -372.3 L-1583.6 -371.7 L-1580.7 -369.4 L-1577.6 -367.7 L-1573.9 -367.7 L-1570.9 -365.7 L-1567.9 -363.7 L-1564.3 -363.3 L-1560.9 -362.4 L-1557.5 -361.4 L-1554.4 -359.9 L-1550.9 -359.1 L-1547.2 -359.2 L-1544.2 -357.1 L-1541.1 -355.3 L-1537.4 -355.3 L-1534.3 -353.6 L-1531.3 -351.5 L-1528.0 -350.3 L-1524.7 -349.4 L-1521.2 -348.6 L-1518.2 -346.7 L-1514.9 -345.5 L-1511.0 -346.1 L-1507.8 -344.5 L-1504.8 -342.6 L-1501.1 -342.5 L-1497.8 -341.5 L-1494.7 -339.7 L-1491.6 -337.9 L-1488.3 -336.7 L-1484.7 -336.3 L-1481.8 -334.0 L-1478.7 -332.2 L-1474.9 -332.7 L-1471.6 -331.4 L-1468.5 -329.5 L-1464.9 -329.2 L-1461.4 -328.6 L-1458.1 -327.6 L-1455.1 -325.7 L-1451.9 -324.2 L-1448.1 -324.2 L-1445.2 -322.0 L-1442.4 -319.5 L-1438.6 -319.6 L-1435.3 -318.4 L-1432.3 -316.6 L-1428.9 -315.7 L-1425.4 -315.1 L-1421.7 -314.9 L-1418.7 -313.0 L-1415.5 -311.4 L-1411.6 -311.9 L-1408.6 -310.1 L-1405.8 -307.5 L-1402.2 -307.0 L-1398.9 -305.9 L-1395.8 -304.2 L-1392.7 -302.5 L-1389.3 -301.5 L-1385.5 -301.7 L-1382.4 -300.0 L-1379.4 -298.1 L-1375.4 -298.8 L-1372.1 -297.8 L-1369.2 -295.5 L-1365.8 -294.6 L-1362.4 -293.6 L-1359.1 -292.4 L-1356.2 -290.1 L-1353.1 -288.3 L-1349.3 -288.7 L-1346.1 -287.1 L-1343.3 -284.7 L-1339.4 -285.2 L-1335.9 -284.7 L-1332.7 -283.0 L-1329.4 -281.9 L-1326.0 -280.9 L-1322.5 -280.6 L-1319.5 -278.3 L-1316.7 -275.9 L-1312.9 -276.1 L-1309.7 -274.6 L-1306.9 -271.9 L-1303.3 -271.6 L-1299.8 -271.1 L-1296.5 -270.1 L-1293.2 -268.7 L-1289.9 -267.6 L-1286.0 -268.1 L-1282.9 -266.4 L-1280.2 -263.6 L-1276.4 -263.8 L-1273.1 -262.6 L-1270.3 -259.9 L-1267.0 -258.7 L-1263.6 -257.8 L-1260.2 -257.2 L-1257.0 -255.5 L-1253.9 -253.8 L-1249.9 -254.7 L-1246.5 -253.7 L-1243.7 -251.1 L-1240.0 -251.1 L-1236.5 -250.5 L-1233.6 -248.4 L-1230.5 -246.6 L-1227.3 -245.1 L-1223.7 -244.8 L-1220.6 -242.9 L-1217.8 -240.3 L-1213.9 -241.0 L-1210.4 -240.5 L-1207.5 -238.1 L-1203.9 -237.8 L-1200.3 -237.5 L-1196.9 -236.4 L-1193.9 -234.6 L-1190.9 -232.6 L-1187.1 -232.7 L-1184.0 -231.0 L-1181.4 -227.8 L-1177.7 -227.8 L-1174.2 -227.3 L-1171.2 -225.1 L-1167.8 -224.2 L-1164.3 -223.7 L-1160.6 -223.6 L-1157.4 -222.1 L-1154.5 -219.9 L-1150.6 -220.4 L-1147.3 -219.3 L-1144.8 -215.9 L-1141.3 -215.2 L-1137.8 -214.6 L-1134.8 -212.7 L-1131.6 -211.1 L-1128.4 -209.8 L-1124.5 -210.2 L-1121.2 -209.2 L-1118.3 -206.6 L-1114.4 -207.2 L-1110.8 -207.0 L-1108.1 -204.2 L-1104.8 -203.0 L-1101.3 -202.2 L-1098.1 -200.9 L-1095.1 -198.9 L-1092.2 -196.6 L-1088.3 -197.0 L-1084.9 -196.2 L-1082.2 -193.2 L-1078.4 -193.4 L-1074.6 -193.7 L-1071.6 -191.8 L-1068.3 -190.5 L-1065.0 -189.5 L-1061.4 -189.1 L-1058.3 -187.3 L-1055.7 -184.2 L-1052.0 -184.3 L-1048.5 -183.6 L-1045.9 -180.4 L-1042.4 -179.8 L-1038.7 -179.9 L-1035.4 -178.7 L-1032.1 -177.5 L-1028.8 -176.1 L-1025.0 -176.5 L-1021.6 -175.6 L-1019.1 -172.2 L-1015.5 -171.9 L-1011.9 -171.6 L-1009.3 -168.5 L-1006.1 -167.0 L-1002.6 -166.4 L-999.1 -165.7 L-995.9 -164.4 L-992.9 -162.3 L-988.9 -163.0 L-985.3 -162.9 L-982.6 -159.8 L-979.1 -159.4 L-975.4 -159.4 L-972.5 -157.1 L-969.4 -155.1 L-966.3 -153.5 L-962.7 -153.1 L-959.5 -151.8 L-956.8 -148.8 L-953.0 -149.1 L-949.1 -149.6 L-946.3 -146.9 L-942.9 -146.1 L-939.1 -146.3 L-935.8 -145.1 L-932.7 -143.4 L-929.8 -141.2 L-926.2 -140.9 L-922.8 -140.0 L-920.3 -136.4 L-916.8 -135.8 L-913.0 -136.2 L-910.1 -133.8 L-906.8 -132.7 L-903.2 -132.4 L-899.6 -132.2 L-896.2 -131.2 L-893.4 -128.6 L-889.7 -128.5 L-886.1 -128.4 L-883.6 -124.7 L-880.4 -123.3 L-876.7 -123.3 L-873.7 -121.3 L-870.6 -119.7 L-867.3 -118.4 L-863.5 -118.6 L-859.9 -118.2 L-857.2 -115.4 L-853.5 -115.4 L-849.6 -116.0 L-846.9 -113.1 L-843.8 -111.4 L-840.2 -110.9 L-837.0 -109.4 L-834.0 -107.6 L-831.1 -105.2 L-827.4 -105.1 L-823.7 -105.1 L-821.1 -102.1 L-817.5 -101.6 L-813.5 -102.6 L-810.4 -100.7 L-807.3 -99.1 L-803.9 -98.2 L-800.4 -97.5 L-797.1 -96.2 L-794.6 -92.9 L-791.1 -92.3 L-787.3 -92.5 L-784.7 -89.3 L-781.5 -88.0 L-777.6 -88.6 L-774.2 -87.5 L-771.0 -86.2 L-767.7 -84.9 L-764.0 -84.8 L-760.4 -84.5 L-757.9 -81.1 L-754.6 -80.0 L-750.8 -80.3 L-748.1 -77.4 L-745.1 -75.3 L-741.5 -74.9 L-738.1 -74.2 L-734.7 -73.2 L-731.7 -71.1 L-728.0 -71.2 L-724.1 -71.9 L-721.4 -68.9 L-718.2 -67.5 L-714.3 -68.0 L-711.3 -65.9 L-708.4 -63.6 L-705.2 -62.1 L-701.8 -61.4 L-698.3 -60.6 L-695.6 -57.7 L-692.1 -57.2 L-688.0 -58.4 L-685.1 -56.0 L-681.9 -54.5 L-678.0 -54.9 L-674.7 -53.8 L-671.6 -52.1 L-668.7 -49.9 L-665.3 -49.1 L-661.7 -48.8 L-659.1 -45.3 L-656.0 -43.8 L-651.9 -44.8 L-648.9 -42.8 L-645.8 -41.1 L-642.1 -41.1 L-638.5 -40.7 L-635.1 -40.0 L-632.2 -37.5 L-628.8 -36.6 L-625.0 -37.0 L-622.4 -33.8 L-619.5 -31.5 L-615.7 -31.8 L-612.5 -30.1 L-609.5 -28.3 L-606.2 -27.1 L-602.5 -26.9 L-598.8 -27.1 L-596.0 -24.5 L-592.6 -23.5 L-588.5 -24.6 L-585.7 -22.1 L-582.8 -19.7 L-579.2 -19.4 L-576.0 -18.0 L-572.9 -16.3 L-570.0 -14.0 L-566.5 -13.2 L-562.6 -13.8 L-559.8 -11.3 L-556.6 -9.8 L-552.4 -11.1 L-549.2 -9.7 L-546.2 -7.6 L-542.8 -6.8 L-539.4 -5.9 L-536.1 -4.9 L-533.4 -1.9 L-530.2 -0.3 L-526.3 -1.0 L-523.5 1.5 L-520.5 3.7 L-516.5 2.9 L-513.1 3.6 L-509.9 5.1 L-506.6 6.3 L-503.1 6.9 L-499.4 6.9 L-496.7 9.8 L-493.7 11.9 L-489.8 11.3 L-486.9 13.6 L-484.1 16.2 L-480.5 16.5 L-477.0 17.2 L-473.6 18.1 L-470.5 19.9 L-467.1 20.6 L-463.0 19.6 L-460.1 21.9 L-457.2 24.2 L-453.3 23.6 L-450.2 25.3 L-447.4 27.9 L-444.1 29.2 L-440.8 30.2 L-437.2 30.7 L-434.4 33.1 L-431.1 34.5 L-426.9 33.2 L-423.8 34.8 L-420.9 37.1 L-417.0 36.6 L-413.6 37.5 L-410.6 39.3 L-407.5 41.3 L-404.3 42.7 L-400.6 42.8 L-397.9 45.5 L-395.0 47.8 L-390.9 46.8 L-387.6 48.1 L-384.7 50.3 L-381.0 50.4 L-377.4 50.7 L-374.0 51.4 L-371.0 53.5 L-367.9 55.2 L-364.0 54.6 L-361.1 57.1 L-358.5 60.1 L-354.7 59.9 L-351.4 61.0 L-348.4 63.1 L-345.0 64.1 L-341.5 64.6 L-337.7 64.4 L-334.7 66.3 L-331.6 68.2 L-327.5 67.1 L-324.4 68.8 L-321.8 71.9 L-318.2 72.3 L-314.9 73.3 L-311.8 75.1 L-308.8 77.1 L-305.5 78.3 L-301.6 77.7 L-298.5 79.5 L-295.5 81.7 L-291.5 80.6 L-288.0 81.4 L-285.2 83.8 L-281.8 84.7 L-278.4 85.6 L-275.0 86.7 L-272.2 89.1 L-269.2 91.3 L-265.3 90.7 L-262.2 92.3 L-259.4 95.0 L-255.5 94.5 L-251.9 94.8 L-248.8 96.4 L-245.5 97.6 L-242.1 98.5 L-238.4 98.5 L-235.4 100.7 L-232.7 103.5 L-228.9 103.1 L-225.6 104.5 L-223.0 107.6 L-219.4 108.0 L-215.9 108.4 L-212.5 109.5 L-209.3 110.9 L-206.0 112.1 L-202.1 111.3 L-198.9 112.8 L-196.2 115.7 L-192.4 115.5 L-189.0 116.4 L-186.3 119.2 L-183.1 120.6 L-179.7 121.6 L-176.2 122.2 L-173.1 124.0 L-170.1 125.9 L-166.0 124.9 L-162.6 125.7 L-159.8 128.4 L-156.1 128.4 L-152.5 128.8 L-149.5 130.8 L-146.4 132.6 L-143.3 134.2 L-139.7 134.5 L-136.6 136.3 L-133.9 139.1 L-130.0 138.6 L-126.4 139.0 L-123.6 141.5 L-120.0 141.9 L-116.4 142.1 L-113.0 143.0 L-109.9 144.7 L-106.8 146.7 L-103.1 146.6 L-99.9 148.1 L-97.4 151.4 L-93.7 151.6 L-90.2 152.1 L-87.2 154.3 L-83.9 155.4 L-80.4 156.0 L-76.7 156.0 L-73.5 157.3 L-70.5 159.6 L-66.7 159.1 L-63.3 160.0 L-60.7 163.1 L-57.3 164.0 L-53.8 164.7 L-50.7 166.5 L-47.6 168.2 L-44.4 169.6 L-40.6 169.4 L-37.2 170.4 L-34.4 172.9 L-30.6 172.5 L-26.9 172.6 L-24.1 175.1 L-20.8 176.3 L-17.3 177.1 L-14.0 178.3 L-11.0 180.2 L-8.1 182.5 L-4.4 182.5 L-0.9 183.3 L1.8 186.1 L5.5 186.2 L9.2 186.1 L12.3 187.7 L15.6 189.0 L19.0 190.0 L22.5 190.4 L25.7 191.9 L28.4 194.8 L32.0 195.0 L35.5 195.7 L38.2 198.6 L41.6 199.5 L45.2 199.7 L48.6 200.8 L51.8 202.0 L55.1 203.4 L58.8 203.3 L62.3 204.0 L65.0 206.9 L68.5 207.4 L72.1 207.8 L74.9 210.4 L78.0 212.0 L81.4 212.9 L84.9 213.7 L88.1 215.0 L91.1 217.0 L94.9 216.8 L98.6 216.9 L101.4 219.5 L104.8 220.2 L108.5 220.4 L111.5 222.2 L114.6 224.0 L117.8 225.5 L121.3 226.2 L124.6 227.4 L127.4 230.0 L131.0 230.3 L134.7 230.2 L137.6 232.5 L141.0 233.4 L144.7 233.6 L148.0 234.6 L151.2 236.0 L154.3 238.0 L157.8 238.5 L161.2 239.4 L163.9 242.3 L167.3 243.3 L170.9 243.4 L174.0 245.3 L177.2 246.6 L180.7 247.2 L184.3 247.7 L187.6 248.6 L190.6 250.7 L194.2 251.2 L197.8 251.5 L200.5 254.2 L203.7 255.6 L207.3 256.1 L210.4 257.7 L213.6 259.3 L216.8 260.7 L220.4 261.1 L223.9 261.6 L226.8 263.8 L230.4 264.3 L234.1 264.2 L237.1 266.4 L240.2 267.9 L243.7 268.6 L247.0 269.9 L250.1 271.4 L253.1 273.5 L256.6 274.1 L260.2 274.5 L263.1 276.8 L266.5 277.7 L270.2 277.6 L273.4 279.1 L276.7 280.4 L280.0 281.4 L283.5 282.2 L286.8 283.4 L289.6 285.8 L293.0 286.8 L296.6 287.1 L299.5 289.4 L302.7 290.8 L306.3 291.0 L309.7 292.1 L313.0 293.3 L316.2 294.6 L319.7 295.1 L323.3 295.7 L326.2 298.0 L329.4 299.2 L333.0 299.5 L336.0 301.6 L339.2 303.3 L342.6 304.1 L345.9 305.1 L349.3 306.2 L352.4 307.9 L355.9 308.5 L359.6 308.6 L362.6 310.6 L365.8 311.9 L369.4 312.2 L372.6 313.7 L375.7 315.4 L378.9 316.8 L382.3 317.8 L385.7 318.7 L388.7 320.7 L392.0 321.7 L395.7 321.8 L398.9 323.5 L402.1 324.8 L405.7 325.2 L409.0 326.3 L412.2 327.6 L415.4 329.2 L418.7 330.3 L422.2 331.0 L425.2 333.1 L428.4 334.5 L432.0 334.8 L435.2 336.3 L438.4 337.7 L441.8 338.5 L445.2 339.3 L448.6 340.2 L451.8 341.9 L455.1 343.0 L458.6 343.4 L461.7 345.3 L464.8 347.0 L468.3 347.6 L471.6 348.9 L474.8 350.4 L478.0 351.6 L481.4 352.5 L484.9 353.1 L488.1 354.7 L491.4 355.9 L495.0 356.2 L498.1 357.8 L501.3 359.3 L504.7 360.2 L508.0 361.4 L511.2 362.8 L514.4 364.3 L517.7 365.4 L521.2 366.0 L524.4 367.6 L527.6 368.9 L531.2 369.4 L534.5 370.5 L537.7 371.9 L541.0 373.0 L544.4 374.0 L547.7 375.1 L550.9 376.7 L554.1 378.0 L557.6 378.8 L560.8 380.2 L564.0 381.6 L567.4 382.4 L570.8 383.5 L574.0 384.7 L577.3 385.9 L580.7 386.9 L584.1 387.8 L587.3 389.3 L590.5 390.6 L593.9 391.5 L597.2 392.8 L600.4 394.1 L603.7 395.2 L607.1 396.3 L610.4 397.4 L613.7 398.6 L617.0 399.8 L620.3 400.8 L623.6 402.0 L626.9 403.2 M571.5 469.8 L573.8 467.0 L575.1 463.4 L578.1 461.2 L580.8 458.7 L582.4 455.3 L586.1 453.8 L588.8 451.3 L590.0 447.6 L593.2 445.6 L594.4 441.9 L594.6 437.4 L598.7 436.0 L601.7 433.8 L603.3 430.5 L607.3 429.1 L609.5 426.3 L610.6 422.5 L613.8 420.5 L615.2 416.9 L616.2 413.0 L619.7 411.3 L622.4 408.8 L624.5 405.9 L626.9 403.2 M626.9 403.2 L628.6 402.3 M628.6 402.3 L627.8 398.9 L627.1 395.4 L627.1 391.8 L627.3 388.2 L626.4 384.8 L625.6 381.3 L625.6 377.8 L626.3 374.1 L625.2 370.7 L623.4 367.4 L621.9 364.0 L622.9 360.3 L622.8 356.8 L622.1 353.3 L620.3 350.0 L621.7 346.2 L622.3 342.6 L622.3 339.0 L619.2 335.8 L618.7 332.3 L618.4 328.8 L619.4 325.1 L616.8 321.9 L616.2 318.4 L616.0 314.9 L618.4 311.0 L617.3 307.6 L616.3 304.1 L614.4 300.8 L615.6 297.1 L614.7 293.7 L613.8 290.2 L611.5 287.0 L612.3 283.3 L612.7 279.7 L613.0 276.1 L611.3 272.7 L611.1 269.2 L610.9 265.6 L610.8 262.1 L609.7 258.7 L609.2 255.2 M628.6 402.3 L632.3 403.4 L635.7 406.0 L639.1 407.9 L643.9 405.7 L647.6 407.0 L651.0 409.0 M696.0 329.9 L696.9 333.5 L695.2 337.2 L694.9 340.9 L696.0 344.5 L695.7 348.2 L698.7 351.8 L695.7 355.5 L694.3 359.1 L695.7 362.8 L695.0 366.5 L698.1 370.1 L696.7 373.8 L695.2 377.4 L695.8 381.1 L696.0 384.8 M651.0 409.1 L653.6 406.2 L657.2 405.2 L660.7 403.9 L663.9 402.2 L667.7 401.6 L670.9 399.7 L673.9 397.7 L677.2 396.0 L679.1 391.9 L681.8 389.2 L686.2 389.6 L689.9 388.8 L693.0 386.9 L696.0 384.8 M1019.5 -20.8 L1019.9 -17.3 L1020.2 -13.8 L1020.8 -10.3 L1021.6 -6.8 L1022.0 -3.3 L1022.0 0.2 L1021.1 3.9 L1022.2 7.3 L1024.3 10.6 L1024.6 14.1 L1024.4 17.7 L1023.8 21.3 L1024.3 24.8 L1025.5 28.2 L1025.1 31.8 L1026.8 35.2 L1028.3 38.6 L1027.3 42.2 L1026.4 45.9 L1025.8 49.5 L1028.4 52.8 L1031.0 56.0 L1029.7 59.7 L1029.4 63.3 L1029.5 66.8 L1029.6 70.4 L1030.5 73.8 L1030.7 77.4 L1033.4 80.6 L1034.5 84.0 L1031.4 87.9 L1030.8 91.6 L1032.1 95.0 L1034.9 98.2 L1036.6 101.5 L1034.4 105.4 L1034.9 108.9 L1035.5 112.3 L1034.3 116.0 L1035.7 119.4 L1037.3 122.8 L1039.7 126.1 L1039.3 129.7 L1035.4 133.7 L1036.4 137.1 L1039.2 140.3 L1040.6 143.7 L1041.3 147.2 L1039.8 150.9 L1040.6 154.4 L1040.7 157.9 L1039.0 161.7 L1041.7 164.9 L1044.4 168.1 L1044.7 171.7 L1043.2 175.4 L1040.5 179.3 L1043.0 182.5 L1045.7 185.8 L1045.3 189.4 L1046.2 192.8 L1045.9 196.4 L1045.9 200.0 L1045.5 203.6 L1044.7 207.2 L1048.4 210.3 L1050.4 213.6 L1048.7 217.4 L1047.6 221.1 L1047.0 224.7 L1049.4 228.0 L1051.0 231.3 L1050.3 235.0 L1051.7 238.4 L1051.7 241.9 L1050.7 245.6 L1050.8 249.1 L1051.5 252.6 L1054.5 255.8 L1055.1 259.3 L1053.0 263.1 L1053.2 266.6 L1053.9 270.1 L1055.1 273.5 L1055.9 276.9 L1055.9 280.5 L1057.0 283.9 L1056.9 287.5 L1056.1 291.1 L1057.0 294.6 L1058.1 298.0 L1059.1 301.4 L1059.1 305.0 L1058.9 308.6 L1059.6 312.0 M1059.6 312.0 L1056.3 313.8 L1052.6 314.1 L1048.8 313.5 L1045.2 314.1 L1041.9 316.2 L1038.6 318.0 L1035.1 319.0 L1031.6 319.9 L1027.9 320.0 L1023.9 318.8 L1020.2 319.2 L1017.4 323.0 L1014.4 326.0 L1010.4 324.9 L1006.3 323.3 L1002.9 324.8 L999.6 326.8 L996.0 327.5 M996.0 327.5 L994.2 324.2 L991.5 321.4 L990.5 317.8 L990.3 313.6 L986.7 311.4 L986.9 307.0 L983.7 304.5 L980.3 302.1 L979.8 298.2 L976.8 295.6 L975.8 291.9 L974.5 288.3 L972.5 285.1 M1185.5 404.3 L1187.1 407.5 L1189.7 410.0 L1192.7 412.1 L1194.1 415.5 L1195.9 418.6 L1197.5 421.9 L1200.3 424.3 L1203.1 426.6 L1204.4 430.0 L1207.4 432.2 L1209.1 435.4 L1210.3 438.9 L1212.7 441.6 L1215.1 444.2 L1218.7 446.0 L1220.1 449.3 L1220.7 453.3 L1223.4 455.7 L1225.9 458.3 L1228.5 460.8 L1230.2 463.9 M784.1 293.4 L784.0 289.5 L783.9 285.6 L787.5 282.7 L788.4 279.0 L790.2 275.6 L788.2 271.3 L789.2 267.7 L790.3 264.1 L792.0 260.7 M784.1 293.4 L780.6 295.5 L777.6 298.4 L774.9 301.7 L771.1 303.6 M792.0 260.7 L789.3 258.1 L787.9 254.7 L786.6 251.3 L786.0 247.4 L782.3 245.5 M752.3 325.2 L755.0 322.8 L757.8 320.5 L759.3 317.0 L762.1 314.7 L763.2 310.9 L765.5 308.2 L769.6 306.9 L771.1 303.6 M933.0 -2416.8 L932.7 -2413.3 L932.5 -2409.8 L932.4 -2406.3 L932.2 -2402.8 L931.9 -2399.3 L931.9 -2395.8 L931.8 -2392.3 L931.4 -2388.8 L931.2 -2385.3 L931.0 -2381.8 L930.7 -2378.3 L930.5 -2374.8 L930.1 -2371.4 L930.0 -2367.9 L930.1 -2364.3 L929.7 -2360.9 L929.6 -2357.4 L929.6 -2353.8 L929.4 -2350.3 L929.2 -2346.8 L928.8 -2343.4 L928.5 -2339.9 L928.5 -2336.4 L928.1 -2332.9 L927.6 -2329.4 L927.6 -2325.9 L927.5 -2322.4 L927.4 -2318.9 L927.3 -2315.4 L927.0 -2311.9 L927.2 -2308.4 L927.0 -2304.8 L926.4 -2301.4 L926.3 -2297.9 L926.1 -2294.4 L925.7 -2290.9 L925.4 -2287.4 L924.9 -2283.9 L925.0 -2280.4 L925.2 -2276.9 L924.7 -2273.4 L924.6 -2269.9 L924.8 -2266.4 L924.6 -2262.9 L924.5 -2259.4 L923.9 -2255.9 L923.5 -2252.4 L923.6 -2248.9 L923.0 -2245.4 L922.5 -2241.9 L922.6 -2238.4 L922.5 -2234.9 L922.5 -2231.4 L922.3 -2227.9 L922.0 -2224.4 L922.4 -2220.9 L922.2 -2217.4 L921.5 -2213.9 L921.4 -2210.4 L921.1 -2206.9 L920.8 -2203.4 L920.4 -2199.9 L919.7 -2196.5 L920.0 -2192.9 L920.2 -2189.4 L919.7 -2185.9 L919.8 -2182.4 L919.9 -2178.9 L919.8 -2175.4 L919.7 -2171.9 L918.8 -2168.4 L918.6 -2164.9 L918.7 -2161.4 L917.9 -2158.0 L917.4 -2154.5 L917.5 -2151.0 L917.4 -2147.5 L917.6 -2143.9 L917.3 -2140.4 L917.1 -2137.0 L917.7 -2133.4 L917.3 -2129.9 L916.6 -2126.5 L916.5 -2122.9 L916.0 -2119.5 L915.8 -2116.0 L915.4 -2112.5 L914.6 -2109.0 L915.1 -2105.5 L915.3 -2102.0 L914.7 -2098.5 L914.9 -2095.0 L915.0 -2091.4 L914.9 -2087.9 L914.8 -2084.4 L913.8 -2081.0 L913.6 -2077.5 L913.8 -2074.0 L912.8 -2070.5 L912.4 -2067.0 L912.5 -2063.5 L912.5 -2060.0 L912.8 -2056.5 L912.3 -2053.0 L912.2 -2049.5 L912.9 -2045.9 L912.4 -2042.5 L911.7 -2039.0 L911.5 -2035.5 L911.0 -2032.0 L910.9 -2028.5 L910.3 -2025.0 L909.5 -2021.6 L910.2 -2018.0 L910.3 -2014.5 L909.8 -2011.0 L910.0 -2007.5 L910.0 -2004.0 L910.1 -2000.5 L909.9 -1997.0 L908.8 -1993.5 L908.7 -1990.0 L908.8 -1986.5 L907.8 -1983.1 L907.5 -1979.6 L907.4 -1976.1 L907.5 -1972.5 L907.9 -1969.0 L907.3 -1965.5 L907.3 -1962.0 L908.1 -1958.5 L907.4 -1955.0 L906.8 -1951.5 L906.5 -1948.0 L906.0 -1944.5 L906.0 -1941.0 L905.2 -1937.6 L904.5 -1934.1 L905.3 -1930.6 L905.3 -1927.0 L904.8 -1923.6 L905.1 -1920.0 L905.1 -1916.5 L905.3 -1913.0 L905.0 -1909.5 L903.7 -1906.1 L903.9 -1902.6 L903.8 -1899.0 L902.7 -1895.6 L902.5 -1892.1 L902.3 -1888.6 L902.6 -1885.1 L903.0 -1881.5 L902.3 -1878.1 L902.4 -1874.6 L903.2 -1871.0 L902.5 -1867.5 L901.9 -1864.1 L901.5 -1860.6 L901.0 -1857.1 L901.1 -1853.6 L900.1 -1850.1 L899.4 -1846.7 L900.4 -1843.1 L900.3 -1839.6 L900.0 -1836.1 L900.2 -1832.6 L900.1 -1829.1 L900.6 -1825.5 L900.1 -1822.0 L898.7 -1818.6 L899.0 -1815.1 L898.8 -1811.6 L897.7 -1808.1 L897.5 -1804.6 L897.3 -1801.1 L897.7 -1797.6 L898.1 -1794.1 L897.2 -1790.6 L897.6 -1787.1 L898.3 -1783.5 L897.5 -1780.1 L897.0 -1776.6 L896.5 -1773.1 L896.1 -1769.6 L896.2 -1766.1 L895.0 -1762.7 L894.5 -1759.2 L895.5 -1755.6 L895.3 -1752.1 L895.1 -1748.6 L895.3 -1745.1 L895.2 -1741.6 L895.8 -1738.1 L895.0 -1734.6 L893.7 -1731.2 L894.1 -1727.6 L893.7 -1724.1 L892.8 -1720.7 L892.5 -1717.2 L892.2 -1713.7 L892.9 -1710.1 L893.2 -1706.6 L892.2 -1703.2 L892.8 -1699.6 L893.4 -1696.1 L892.6 -1692.6 L892.2 -1689.1 L891.4 -1685.7 L891.1 -1682.2 L891.3 -1678.7 L889.9 -1675.2 L889.6 -1671.7 L890.5 -1668.2 L890.3 -1664.7 L890.3 -1661.2 L890.3 -1657.7 L890.2 -1654.1 L891.0 -1650.6 L890.0 -1647.1 L888.8 -1643.7 L889.2 -1640.2 L888.7 -1636.7 L887.8 -1633.2 L887.5 -1629.7 L887.1 -1626.2 L888.0 -1622.7 L888.2 -1619.2 L887.2 -1615.7 L888.0 -1612.2 L888.4 -1608.6 L887.7 -1605.2 L887.3 -1601.7 L886.3 -1598.2 L886.2 -1594.7 L886.3 -1591.2 L884.8 -1587.8 L884.7 -1584.3 L885.6 -1580.7 L885.3 -1577.2 L885.4 -1573.7 L885.3 -1570.2 L885.3 -1566.7 L886.2 -1563.1 L884.9 -1559.7 L883.8 -1556.2 L884.3 -1552.7 L883.6 -1549.2 L882.9 -1545.8 L882.5 -1542.3 L882.1 -1538.8 L883.2 -1535.2 L883.2 -1531.7 L882.3 -1528.2 L883.2 -1524.7 L883.4 -1521.2 L882.8 -1517.7 L882.3 -1514.2 L881.2 -1510.8 L881.3 -1507.2 L881.3 -1503.7 L879.7 -1500.3 L879.8 -1496.8 L880.6 -1493.2 L880.4 -1489.7 L880.6 -1486.2 L880.3 -1482.7 L880.5 -1479.2 L881.3 -1475.7 L879.9 -1472.2 L878.9 -1468.8 L879.3 -1465.2 L878.5 -1461.8 L878.0 -1458.3 L877.5 -1454.8 L877.2 -1451.3 L878.4 -1447.7 L878.2 -1444.2 L877.4 -1440.8 L878.4 -1437.2 L878.4 -1433.7 L877.9 -1430.2 L877.3 -1426.7 L876.2 -1423.3 L876.5 -1419.8 L876.3 -1416.3 L874.6 -1412.9 L874.9 -1409.3 L875.6 -1405.8 L875.5 -1402.3 L875.7 -1398.8 L875.2 -1395.3 L875.7 -1391.7 L876.4 -1388.2 L874.8 -1384.8 L874.1 -1381.3 L874.3 -1377.8 L873.5 -1374.3 L873.1 -1370.8 L872.4 -1367.4 L872.2 -1363.9 L873.6 -1360.3 L873.1 -1356.8 L872.5 -1353.3 L873.5 -1349.8 L873.4 -1346.2 L873.1 -1342.8 L872.3 -1339.3 L871.1 -1335.8 L871.6 -1332.3 L871.2 -1328.8 L869.6 -1325.4 L870.1 -1321.9 L870.5 -1318.3 L870.6 -1314.8 L870.8 -1311.3 L870.2 -1307.8 L870.8 -1304.3 L871.4 -1300.7 L869.7 -1297.3 L869.2 -1293.8 L869.3 -1290.3 L868.5 -1286.9 L868.3 -1283.4 L867.3 -1279.9 L867.3 -1276.4 L868.7 -1272.8 L868.1 -1269.3 L867.7 -1265.9 L868.6 -1262.3 L868.4 -1258.8 L868.2 -1255.3 L867.3 -1251.8 L866.1 -1248.4 L866.8 -1244.8 L866.1 -1241.4 L864.7 -1237.9 L865.2 -1234.4 L865.5 -1230.9 L865.7 -1227.4 L865.9 -1223.8 L865.2 -1220.4 L866.0 -1216.8 L866.4 -1213.3 L864.7 -1209.9 L864.3 -1206.4 L864.2 -1202.9 L863.6 -1199.4 L863.3 -1195.9 L862.2 -1192.5 L862.5 -1188.9 L863.8 -1185.3 L863.1 -1181.9 L862.9 -1178.4 L863.6 -1174.8 L863.4 -1171.3 L863.4 -1167.8 L862.2 -1164.4 L861.2 -1160.9 L861.9 -1157.4 L861.0 -1153.9 L859.8 -1150.5 L860.3 -1146.9 L860.5 -1143.4 L860.9 -1139.9 L860.9 -1136.4 L860.2 -1132.9 L861.2 -1129.3 L861.4 -1125.8 L859.7 -1122.4 L859.4 -1118.9 L859.1 -1115.4 L858.6 -1111.9 L858.4 -1108.4 L857.2 -1105.0 L857.7 -1101.5 L858.9 -1097.9 L858.0 -1094.4 L858.0 -1090.9 L858.6 -1087.4 L858.4 -1083.9 L858.5 -1080.4 L857.1 -1076.9 L856.2 -1073.5 L857.0 -1069.9 L855.9 -1066.5 L854.9 -1063.0 L855.4 -1059.5 L855.5 -1056.0 L856.1 -1052.4 L855.9 -1048.9 L855.2 -1045.5 L856.4 -1041.9 L856.3 -1038.4 L854.8 -1034.9 L854.5 -1031.5 L854.0 -1028.0 L853.8 -1024.5 L853.4 -1021.0 L852.1 -1017.5 L852.9 -1014.0 L853.9 -1010.4 L853.1 -1007.0 L853.2 -1003.4 L853.6 -999.9 L853.5 -996.4 L853.6 -992.9 L852.0 -989.5 L851.3 -986.0 L852.1 -982.5 L850.9 -979.0 L850.1 -975.6 L850.4 -972.0 L850.5 -968.5 L851.3 -965.0 L850.9 -961.5 L850.3 -958.0 L851.6 -954.4 L851.2 -950.9 L849.8 -947.5 L849.6 -944.0 L849.0 -940.5 L848.9 -937.0 L848.4 -933.5 L847.1 -930.1 L848.1 -926.5 L848.9 -923.0 L848.1 -919.5 L848.4 -916.0 L848.5 -912.5 L848.6 -909.0 L848.6 -905.4 L846.9 -902.0 L846.5 -898.5 L847.1 -895.0 L845.8 -891.6 L845.2 -888.1 L845.4 -884.6 L845.6 -881.0 L846.5 -877.5 L845.9 -874.0 L845.4 -870.5 L846.7 -866.9 L846.1 -863.5 L844.9 -860.0 L844.6 -856.5 L843.9 -853.1 L844.0 -849.5 L843.4 -846.1 L842.2 -842.6 L843.3 -839.1 L843.9 -835.5 L843.2 -832.0 L843.5 -828.5 L843.5 -825.0 L843.7 -821.5 L843.6 -818.0 L841.8 -814.6 L841.6 -811.1 L842.1 -807.5 L840.8 -804.1 L840.4 -800.6 L840.4 -797.1 L840.7 -793.6 L841.6 -790.0 L840.8 -786.6 L840.6 -783.1 L841.7 -779.5 L841.0 -776.0 L840.0 -772.6 L839.6 -769.1 L838.9 -765.6 L839.2 -762.1 L838.4 -758.6 L837.3 -755.2 L838.5 -751.6 L838.8 -748.1 L838.3 -744.6 L838.6 -741.1 L838.4 -737.6 L838.8 -734.0 L838.6 -730.5 L836.8 -727.1 L836.8 -723.6 L837.0 -720.1 L835.8 -716.6 L835.6 -713.1 L835.4 -709.6 L835.8 -706.1 L836.7 -702.6 L835.7 -699.1 L835.7 -695.6 L836.7 -692.0 L835.9 -688.6 L835.2 -685.1 L834.6 -681.6 L833.9 -678.1 L834.3 -674.6 L833.3 -671.2 L832.4 -667.7 L833.6 -664.1 L833.8 -660.6 L833.5 -657.1 L833.7 -653.6 L833.4 -650.1 L834.0 -646.6 L833.5 -643.1 L831.8 -639.7 L831.9 -636.1 L831.9 -632.6 L830.9 -629.2 L830.7 -625.7 L830.4 -622.2 L831.0 -618.6 L831.7 -615.1 L830.7 -611.6 L830.9 -608.1 L831.7 -604.6 L830.9 -601.1 L830.3 -597.6 L829.5 -594.2 L829.0 -590.7 L829.4 -587.2 L828.3 -583.7 L827.6 -580.2 L828.7 -576.7 L828.8 -573.1 L828.6 -569.6 L828.7 -566.1 L828.4 -562.6 L829.1 -559.1 L828.4 -555.6 L826.8 -552.2 L827.1 -548.7 L826.9 -545.2 L826.0 -541.7 L825.8 -538.2 L825.4 -534.7 L826.2 -531.2 L826.8 -527.6 L825.7 -524.2 L826.0 -520.7 L826.7 -517.1 L825.9 -513.6 L825.4 -510.2 L824.5 -506.7 L824.1 -503.2 L824.5 -499.7 L823.3 -496.2 L822.8 -492.8 L823.8 -489.2 L823.8 -485.7 L823.8 -482.2 L823.7 -478.7 L823.4 -475.2 L824.1 -471.6 L823.3 -468.2 L821.9 -464.7 L822.2 -461.2 L821.8 -457.7 L821.2 -454.3 L820.9 -450.8 L820.5 -447.3 L821.4 -443.7 L821.7 -440.2 L820.7 -436.7 L821.2 -433.2 L821.6 -429.7 L820.9 -426.2 L820.4 -422.7 L819.4 -419.3 L819.2 -415.8 L819.6 -412.2 L818.3 -408.8 L818.0 -405.3 L818.9 -401.7 L818.8 -398.2 L818.9 -394.7 L818.6 -391.2 L818.5 -387.7 L819.2 -384.2 L818.2 -380.7 L817.0 -377.3 L817.3 -373.8 L816.8 -370.3 L816.3 -366.8 L816.0 -363.3 L815.6 -359.8 L816.5 -356.2 L816.7 -352.7 L815.8 -349.3 L816.3 -345.7 L816.5 -342.2 L815.9 -338.7 L815.5 -335.2 L814.4 -331.8 L814.4 -328.3 L814.6 -324.8 L813.3 -321.3 L813.3 -317.8 L813.9 -314.3 L813.8 -310.8 L814.0 -307.3 L813.6 -303.8 L813.5 -300.3 L814.2 -296.7 L813.1 -293.3 L812.1 -289.8 L812.3 -286.3 L811.8 -282.8 L811.5 -279.3 L811.1 -275.8 L810.7 -272.3 L811.7 -268.8 L811.6 -265.3 L810.9 -261.8 L811.4 -258.3 L811.4 -254.8 L810.9 -251.3 L810.5 -247.8 L809.4 -244.3 L809.5 -240.8 L809.6 -237.3 L808.4 -233.9 L808.5 -230.4 L808.9 -226.8 L808.9 -223.3 L809.1 -219.8 L808.5 -216.3 L808.6 -212.8 L809.1 -209.3 L808.0 -205.8 L807.3 -202.3 L807.3 -198.8 L806.8 -195.4 L806.6 -191.9 L806.1 -188.4 L805.8 -184.9 L806.8 -181.3 L806.6 -177.8 L806.0 -174.3 L806.4 -170.8 L806.3 -167.3 L806.0 -163.8 L805.4 -160.3 L804.5 -156.9 L804.7 -153.4 L804.6 -149.9 L803.5 -146.4 L803.7 -142.9 L803.9 -139.4 L804.0 -135.8 L804.1 -132.3 L803.5 -128.9 L803.7 -125.3 L804.0 -121.8 L803.0 -118.4 L802.4 -114.9 L802.3 -111.4 L801.9 -107.9 L801.8 -104.4 L801.2 -100.9 L801.0 -97.4 L801.8 -93.9 L801.5 -90.4 L801.1 -86.9 L801.4 -83.4 L801.2 -79.9 L801.0 -76.4 L800.4 -72.9 L799.5 -69.4 L799.8 -65.9 L799.6 -62.4 L798.7 -58.9 L798.9 -55.4 L799.0 -51.9 L799.1 -48.4 L799.1 -44.9 L798.5 -41.4 L798.7 -37.9 L798.9 -34.4 L797.9 -30.9 L797.5 -27.4 L797.3 -23.9 L797.0 -20.4 L796.9 -16.9 L796.3 -13.4 L796.2 -9.9 L796.9 -6.4 L796.5 -2.9 L796.2 0.6 L796.3 4.1 L796.1 7.6 L796.0 11.1 L795.4 14.6 L794.7 18.0 L794.9 21.6 L794.6 25.1 L793.9 28.5 L794.0 32.0 L794.0 35.6 L794.1 39.1 L794.1 42.6 L793.5 46.1 L793.8 49.6 L793.8 53.1 L793.0 56.6 L792.6 60.0 L792.4 63.5 L792.1 67.0 L792.0 70.5 L791.4 74.0 L791.4 77.5 L791.8 81.1 L791.5 84.5 L791.3 88.0 L791.3 91.6 L791.1 95.1 L791.0 98.6 L790.4 102.0 L789.8 105.5 L790.0 109.0 L789.6 112.5 L789.2 116.0 L789.2 119.5 L789.1 123.0 L789.2 126.5 L789.0 130.0 L788.6 133.5 L788.7 137.0 L788.6 140.5 L788.0 144.0 L787.7 147.5 L787.5 151.0 L787.3 154.5 L787.1 158.0 L786.6 161.5 L786.6 165.0 L786.8 168.5 L786.5 172.0 L786.3 175.5 L786.2 179.0 L786.0 182.5 L785.9 186.0 L785.4 189.5 L785.0 193.0 L785.0 196.5 L784.7 200.0 L784.4 203.5 L784.3 207.0 L784.2 210.5 L784.1 214.0 L783.9 217.5 L783.6 221.0 L783.6 224.5 L783.4 228.0 L783.0 231.5 L782.8 235.0 L782.6 238.5 L782.4 242.0 L782.3 245.5 M757.4 1223.1 L757.2 1226.6 L756.5 1230.1 L756.2 1233.6 L755.6 1237.1 L755.2 1240.6 L755.5 1244.2 L754.8 1247.7 L754.6 1251.2 L755.6 1254.9 L754.6 1258.3 L753.5 1261.8 L754.2 1265.4 L753.0 1268.8 L751.5 1272.2 L751.8 1275.8 L751.1 1279.3 L751.0 1282.9 L751.5 1286.5 L750.8 1289.9 L751.6 1293.6 L752.1 1297.2 L749.9 1300.5 L749.8 1304.1 L750.3 1307.7 L747.6 1311.0 L747.0 1314.4 L748.0 1318.1 L746.9 1321.5 L747.1 1325.1 L747.9 1328.7 L747.4 1332.3 L748.2 1335.9 L747.4 1339.4 L745.5 1342.7 L746.3 1346.4 L745.2 1349.8 L742.5 1353.1 L743.7 1356.8 L744.2 1360.4 L742.6 1363.8 L743.7 1367.4 L744.5 1371.1 L743.6 1374.5 L743.8 1378.1 L742.6 1381.5 L741.5 1385.0 L741.9 1388.6 L739.9 1391.9 L738.9 1395.4 L740.7 1399.1 L739.8 1402.6 L738.9 1406.1 L740.7 1409.8 L740.3 1413.3 L739.1 1416.7 L739.2 1420.3 L738.2 1423.8 L737.4 1427.2 L737.1 1430.8 L735.9 1434.2 L736.1 1437.8 L736.7 1441.4 L735.6 1444.8 L735.8 1448.4 L736.4 1452.0 L735.3 1455.5 L734.8 1459.0 L734.7 1462.5 L733.9 1466.0 L733.5 1469.5 L733.4 1473.0 M757.4 1223.1 L760.7 1221.4 L764.3 1221.5 L767.9 1221.0 L771.4 1220.4 L774.7 1218.8 L778.3 1218.6 L781.4 1216.1 L785.1 1216.4 L788.9 1216.9 L792.2 1215.2 L795.6 1214.2 M737.8 1577.5 L738.7 1574.1 L740.1 1570.8 L740.6 1567.3 L740.9 1563.8 L742.2 1560.5 L742.9 1557.0 L744.5 1553.8 L746.0 1550.6 L745.8 1546.9 L746.5 1543.4 L747.2 1540.0 L748.3 1536.6 L750.4 1533.5 L751.4 1530.2 L751.8 1526.6 L751.5 1522.9 L752.4 1519.5 L754.1 1516.3 L755.3 1513.0 L757.5 1510.0 L757.2 1506.3 L756.4 1502.4 L758.4 1499.3 L758.8 1495.8 L761.1 1492.8 L763.4 1489.7 L761.8 1485.7 L762.6 1482.2 L763.3 1478.8 L764.0 1475.3 L767.4 1472.6 L768.2 1469.2 L767.8 1465.4 L768.0 1461.8 L768.1 1458.2 L770.3 1455.2 L772.3 1452.1 L773.9 1448.9 L773.6 1445.2 L772.6 1441.2 L774.4 1438.1 L775.2 1434.7 L777.6 1431.7 L780.1 1428.7 L778.1 1424.5 L778.7 1421.1 L779.7 1417.7 L780.0 1414.1 L784.1 1411.6 L784.8 1408.1 L783.7 1404.2 L784.7 1400.8 L784.2 1397.1 L786.4 1394.0 L789.2 1391.1 L789.9 1387.6 L790.0 1384.0 L789.2 1380.2 L790.2 1376.8 L791.9 1373.6 L794.1 1370.6 L796.1 1367.5 L794.7 1363.5 L794.9 1359.9 L796.2 1356.6 L796.5 1353.0 L800.3 1350.4 L801.1 1347.0 L799.9 1343.0 L801.2 1339.8 L800.8 1336.0 L802.6 1332.8 L805.8 1330.1 L805.7 1326.4 L806.2 1322.9 L806.1 1319.2 L806.4 1315.7 L808.6 1312.6 L810.4 1309.4 L811.7 1306.2 L811.4 1302.4 L811.4 1298.8 L812.6 1295.5 L813.5 1292.1 L816.1 1289.1 L817.0 1285.7 L816.4 1281.9 L817.6 1278.6 L817.7 1275.0 L819.1 1271.8 L821.6 1268.8 L821.7 1265.2 L822.3 1261.7 L823.0 1258.2 L823.3 1254.7 L825.0 1251.5 L826.3 1248.2 L827.1 1244.8 L827.8 1241.3 L828.5 1237.9 L829.5 1234.5 M795.6 1214.2 L798.7 1216.1 L802.3 1217.0 L805.5 1218.6 L809.0 1219.9 L810.9 1223.7 L812.5 1228.0 L816.5 1228.4 L820.7 1228.3 L823.7 1230.3 L826.9 1232.0 L829.5 1234.5 M909.0 1277.6 L907.4 1274.1 L904.8 1271.4 L901.7 1269.3 L898.7 1267.0 L896.3 1264.2 L892.6 1262.5 L893.0 1257.3 L891.4 1253.7 L887.8 1252.0 L883.8 1250.5 L882.1 1247.1 L878.1 1245.7 L877.1 1241.7 L876.1 1237.7 L873.4 1235.0 L869.8 1233.3 L867.6 1230.3 M867.6 1230.3 L864.0 1229.0 L860.4 1227.5 L856.0 1230.5 L853.0 1226.1 L849.2 1225.7 L845.4 1225.3 L841.5 1225.3 M841.5 1225.3 L839.0 1228.2 L835.2 1229.5 L831.8 1231.2 L829.5 1234.5 M757.4 1223.1 L755.5 1219.5 L753.9 1215.6 L749.5 1214.4 M765.8 1168.8 L769.6 1169.3 L772.8 1173.2 L777.3 1169.9 L781.1 1170.5 L784.7 1172.3 L788.4 1173.2 M765.8 1168.8 L763.3 1171.5 L761.7 1174.8 L759.9 1178.0 L757.4 1180.7 L753.2 1182.0 L752.5 1186.1 L750.8 1189.3 L748.1 1191.8 M795.6 1214.2 L793.8 1210.6 L793.1 1206.9 L795.8 1202.6 L793.4 1199.2 L790.6 1195.9 L791.4 1191.9 L791.4 1188.0 L792.7 1184.0 L790.4 1180.5 L787.5 1177.2 L788.4 1173.2 M749.5 1214.4 L749.0 1210.6 L749.8 1206.8 L749.5 1203.1 L748.5 1199.3 L748.0 1195.6 L748.1 1191.8 M908.8 1206.8 L905.6 1208.5 L902.0 1209.5 L899.2 1212.0 L897.2 1215.8 L892.9 1215.8 L889.4 1216.9 L886.4 1219.0 L882.8 1220.1 L881.2 1224.6 L877.9 1226.3 L873.1 1225.1 L870.6 1228.1 L867.6 1230.3 M908.8 1206.8 L912.7 1208.2 L915.2 1211.1 L917.5 1214.4 L920.7 1216.7 M909.0 1277.6 L909.7 1273.7 L913.0 1271.4 L915.9 1268.8 L916.7 1264.9 L919.3 1262.2 L919.6 1258.0 L922.5 1255.4 M922.5 1255.4 L921.8 1251.9 L923.9 1248.3 L922.5 1244.8 L921.9 1241.3 L921.9 1237.8 L918.3 1234.4 L921.0 1230.8 L923.8 1227.1 L921.2 1223.7 L920.8 1220.2 L920.7 1216.7 M-2285.8 1855.9 L-2282.5 1854.8 L-2279.1 1853.9 L-2275.7 1852.9 L-2272.4 1851.8 L-2269.0 1850.8 L-2265.7 1849.6 L-2262.5 1848.3 L-2259.0 1847.7 L-2255.7 1846.6 L-2252.3 1845.5 L-2248.9 1844.8 L-2245.7 1843.2 L-2242.4 1842.1 L-2239.0 1841.2 L-2235.6 1840.2 L-2232.3 1839.2 L-2228.8 1838.7 L-2225.6 1837.1 L-2222.4 1835.8 L-2218.9 1835.1 L-2215.7 1833.5 L-2212.2 1833.1 L-2208.8 1832.3 L-2205.5 1831.0 L-2202.3 1829.7 L-2198.8 1828.8 L-2195.7 1827.1 L-2192.2 1826.6 L-2188.6 1826.3 L-2185.5 1824.5 L-2182.0 1824.0 L-2178.8 1822.4 L-2175.6 1820.9 L-2172.2 1820.1 L-2168.7 1819.7 L-2165.4 1818.3 L-2161.9 1817.8 L-2158.6 1816.6 L-2155.7 1814.3 L-2152.1 1814.2 L-2148.8 1812.9 L-2145.4 1812.1 L-2141.8 1811.6 L-2138.6 1810.4 L-2135.5 1808.4 L-2132.1 1807.7 L-2128.7 1806.6 L-2125.5 1805.2 L-2121.6 1805.8 L-2118.6 1803.9 L-2115.3 1802.6 L-2112.0 1801.6 L-2108.8 1800.0 L-2105.4 1799.0 L-2101.7 1799.1 L-2098.4 1798.0 L-2095.3 1796.2 L-2091.7 1796.0 L-2088.9 1793.2 L-2085.4 1792.8 L-2081.8 1792.6 L-2078.5 1791.3 L-2075.0 1790.6 L-2071.7 1789.6 L-2068.7 1787.5 L-2065.4 1786.0 L-2061.7 1786.4 L-2058.6 1784.4 L-2054.9 1784.7 L-2051.5 1783.6 L-2048.6 1781.2 L-2045.2 1780.3 L-2041.8 1779.4 L-2038.5 1778.2 L-2035.0 1777.9 L-2031.3 1777.9 L-2028.6 1774.9 L-2025.0 1774.6 L-2021.8 1772.9 L-2018.7 1771.4 L-2014.8 1771.9 L-2011.4 1771.0 L-2008.3 1769.4 L-2004.9 1768.3 L-2001.7 1767.1 L-1998.8 1764.5 L-1994.8 1765.6 L-1991.5 1764.4 L-1988.2 1763.1 L-1984.6 1763.0 L-1981.8 1760.3 L-1978.5 1758.9 L-1975.0 1758.5 L-1971.4 1758.1 L-1968.2 1756.6 L-1964.4 1757.2 L-1961.6 1754.3 L-1958.5 1752.6 L-1954.8 1752.6 L-1951.8 1750.6 L-1948.0 1750.9 L-1944.5 1750.5 L-1941.3 1748.7 L-1938.4 1746.5 L-1934.7 1746.4 L-1931.8 1744.0 L-1928.1 1744.0 L-1924.3 1744.6 L-1921.5 1741.9 L-1917.9 1741.5 L-1914.8 1739.7 L-1911.7 1737.8 L-1908.2 1737.3 L-1904.3 1738.0 L-1901.3 1735.8 L-1897.8 1735.5 L-1894.5 1734.2 L-1891.9 1730.8 L-1888.0 1731.6 L-1884.6 1730.6 L-1881.2 1729.8 L-1877.7 1729.4 L-1874.4 1728.2 L-1871.7 1725.0 L-1868.1 1724.9 L-1864.6 1724.3 L-1861.5 1722.5 L-1857.3 1724.1 L-1854.4 1721.5 L-1851.3 1719.7 L-1848.0 1718.7 L-1844.7 1717.4 L-1841.5 1716.1 L-1837.4 1717.2 L-1834.2 1715.9 L-1831.3 1713.3 L-1827.6 1713.6 L-1825.0 1710.2 L-1821.3 1710.0 L-1817.5 1710.4 L-1814.2 1709.3 L-1811.0 1707.9 L-1807.5 1707.3 L-1804.7 1704.5 L-1801.6 1702.9 L-1797.4 1704.5 L-1794.5 1701.9 L-1790.7 1702.5 L-1787.4 1701.3 L-1784.6 1698.3 L-1781.3 1697.2 L-1777.7 1697.1 L-1774.4 1695.8 L-1770.8 1695.6 L-1767.0 1696.1 L-1764.7 1691.8 L-1761.0 1691.8 L-1757.8 1690.3 L-1754.6 1688.7 L-1750.6 1689.7 L-1747.2 1689.1 L-1744.2 1686.7 L-1741.0 1685.4 L-1737.6 1684.6 L-1734.9 1681.4 L-1730.5 1683.5 L-1727.2 1682.3 L-1724.1 1680.6 L-1720.5 1680.3 L-1717.7 1677.6 L-1714.6 1675.8 L-1710.9 1676.1 L-1707.1 1676.2 L-1704.2 1673.9 L-1700.2 1675.1 L-1697.6 1671.5 L-1694.6 1669.4 L-1690.7 1670.1 L-1687.6 1668.4 L-1683.9 1668.5 L-1680.3 1668.3 L-1677.2 1666.3 L-1674.5 1663.1 L-1670.6 1664.0 L-1667.8 1661.3 L-1664.0 1661.7 L-1660.0 1662.7 L-1657.4 1659.4 L-1654.0 1658.5 L-1650.8 1657.0 L-1647.7 1655.2 L-1644.2 1654.5 L-1640.0 1656.4 L-1637.3 1653.3 L-1633.8 1652.8 L-1630.4 1651.6 L-1628.0 1647.8 L-1623.9 1649.0 L-1620.4 1648.5 L-1617.0 1647.6 L-1613.6 1646.7 L-1610.2 1645.9 L-1607.8 1641.7 L-1604.0 1642.2 L-1600.4 1642.2 L-1597.4 1640.1 L-1593.1 1641.9 L-1590.3 1639.1 L-1587.4 1636.7 L-1584.1 1635.7 L-1580.5 1635.3 L-1577.4 1633.5 L-1573.2 1635.3 L-1570.0 1633.7 L-1567.4 1630.2 L-1563.5 1630.9 L-1560.9 1627.5 L-1557.3 1627.5 L-1553.3 1628.3 L-1550.0 1627.4 L-1547.1 1624.9 L-1543.5 1624.7 L-1540.7 1621.7 L-1537.6 1620.0 L-1533.1 1622.5 L-1530.3 1619.7 L-1526.6 1619.9 L-1523.3 1618.6 L-1520.6 1615.6 L-1517.4 1614.0 L-1513.4 1615.0 L-1510.2 1613.6 L-1506.7 1613.1 L-1502.8 1613.9 L-1500.7 1608.7 L-1497.0 1608.8 L-1493.7 1607.8 L-1490.4 1606.5 L-1486.5 1607.2 L-1482.9 1607.1 L-1480.3 1603.8 L-1477.1 1602.3 L-1473.4 1602.2 L-1470.9 1598.6 L-1466.3 1601.4 L-1463.0 1600.3 L-1460.1 1598.0 L-1456.6 1597.3 L-1453.6 1595.1 L-1450.7 1592.9 L-1446.7 1593.8 L-1442.8 1594.4 L-1440.2 1591.2 L-1436.1 1592.5 L-1433.6 1588.7 L-1430.6 1586.5 L-1426.6 1587.6 L-1423.3 1586.5 L-1419.8 1585.9 L-1416.1 1585.9 L-1413.2 1583.7 L-1410.7 1579.8 L-1406.5 1581.7 L-1403.6 1579.0 L-1399.8 1579.4 L-1395.8 1580.4 L-1393.2 1577.0 L-1390.1 1575.3 L-1386.7 1574.3 L-1383.5 1572.9 L-1380.1 1571.9 L-1375.6 1574.6 L-1373.2 1570.7 L-1369.8 1569.8 L-1366.4 1568.8 L-1363.9 1565.2 L-1359.9 1566.4 L-1356.1 1566.7 L-1352.8 1565.3 L-1349.7 1563.7 L-1346.1 1563.5 L-1343.9 1558.6 L-1339.9 1559.7 L-1336.1 1560.1 L-1333.2 1557.8 L-1329.1 1559.2 L-1326.2 1556.6 L-1323.5 1553.7 L-1320.1 1552.7 L-1316.2 1553.4 L-1313.3 1551.0 L-1309.0 1553.1 L-1305.9 1551.2 L-1303.5 1547.1 L-1299.6 1547.9 L-1296.8 1545.2 L-1293.1 1545.1 L-1289.2 1546.0 L-1285.7 1545.4 L-1283.2 1541.7 L-1279.4 1542.0 L-1276.7 1539.1 L-1273.5 1537.4 L-1268.9 1540.4 L-1266.1 1537.6 L-1262.6 1537.1 L-1259.4 1535.7 L-1256.5 1533.0 L-1253.5 1531.0 L-1249.2 1533.1 L-1246.0 1531.4 L-1242.7 1530.5 L-1238.7 1531.3 L-1236.8 1525.9 L-1233.1 1525.9 L-1229.5 1525.5 L-1226.2 1524.6 L-1222.5 1524.5 L-1218.7 1525.0 L-1216.3 1520.9 L-1213.2 1519.2 L-1209.3 1519.8 L-1206.7 1516.3 L-1202.2 1519.1 L-1198.8 1518.1 L-1196.0 1515.4 L-1192.8 1514.0 L-1189.5 1512.8 L-1186.6 1510.2 L-1182.5 1511.5 L-1178.5 1512.5 L-1176.2 1508.4 L-1172.1 1509.7 L-1169.6 1505.9 L-1166.6 1503.8 L-1162.5 1505.0 L-1158.9 1504.8 L-1155.8 1503.3 L-1152.1 1503.2 L-1149.1 1501.1 L-1146.8 1496.7 L-1142.3 1499.3 L-1139.4 1497.0 L-1135.7 1497.1 L-1131.8 1497.8 L-1129.1 1494.5 L-1126.3 1492.0 L-1122.7 1491.8 L-1119.3 1490.8 L-1116.0 1489.5 L-1111.4 1492.5 L-1109.1 1488.0 L-1105.9 1486.7 L-1102.4 1486.0 L-1099.7 1483.0 L-1095.8 1483.8 L-1091.8 1484.7 L-1088.7 1483.0 L-1085.8 1480.5 L-1082.0 1480.9 L-1079.9 1475.9 L-1075.8 1477.2 L-1071.9 1478.1 L-1069.0 1475.7 L-1065.1 1476.2 L-1062.2 1474.0 L-1059.5 1470.8 L-1056.1 1469.9 L-1051.9 1471.6 L-1049.2 1468.6 L-1044.9 1470.6 L-1041.8 1468.6 L-1039.5 1464.2 L-1035.6 1464.9 L-1032.5 1463.2 L-1029.0 1462.8 L-1025.1 1463.5 L-1021.5 1463.2 L-1019.3 1458.4 L-1015.4 1459.1 L-1012.5 1456.7 L-1009.4 1455.1 L-1004.7 1458.2 L-1001.9 1455.6 L-998.7 1454.1 L-995.4 1452.7 L-992.4 1450.7 L-989.5 1448.2 L-984.9 1451.2 L-981.8 1449.3 L-978.6 1447.7 L-974.8 1448.4 L-972.7 1443.2 L-969.1 1443.0 L-965.3 1443.3 L-961.8 1442.8 L-958.5 1441.7 L-954.6 1442.5 L-952.4 1437.9 L-949.2 1436.2 L-945.1 1437.5 L-942.5 1434.3 L-938.1 1436.7 L-934.7 1435.7 L-932.0 1432.7 L-928.9 1430.7 L-925.3 1430.5 L-922.5 1427.8 L-918.4 1429.2 L-914.3 1430.4 L-912.1 1425.7 L-908.2 1426.5 L-905.5 1423.3 L-902.5 1421.5 L-898.5 1422.5 L-894.6 1423.1 L-891.7 1420.5 L-888.1 1420.3 L-885.1 1418.4 L-882.8 1413.9 L-878.2 1416.9 L-875.1 1415.1 L-871.5 1414.7 L-867.8 1414.9 L-865.0 1412.0 L-862.4 1408.8 L-858.5 1409.3 L-855.0 1408.9 L-851.9 1407.1 L-847.3 1410.0 L-845.1 1405.4 L-842.0 1403.7 L-838.4 1403.2 L-835.4 1401.1 L-831.7 1401.3 L-827.6 1402.6 L-824.6 1400.5 L-821.9 1397.3 L-818.0 1398.2 L-815.8 1393.5 L-811.7 1394.9 L-807.7 1396.0 L-804.8 1393.6 L-801.3 1393.0 L-798.1 1391.3 L-795.4 1388.2 L-792.1 1387.3 L-787.6 1389.8 L-785.0 1386.3 L-780.9 1387.8 L-777.8 1385.8 L-775.5 1381.5 L-771.7 1382.0 L-768.2 1381.4 L-764.8 1380.6 L-761.0 1380.9 L-757.4 1380.8 L-755.4 1375.3 L-751.4 1376.3 L-748.3 1374.5 L-745.1 1373.0 L-740.7 1375.6 L-737.7 1373.4 L-734.7 1371.1 L-731.5 1369.7 L-728.2 1368.5 L-725.4 1365.7 L-720.7 1369.1 L-717.6 1367.1 L-714.7 1364.9 L-710.9 1365.3 L-708.6 1360.8 L-705.1 1360.3 L-701.1 1361.1 L-697.6 1360.9 L-694.5 1358.8 L-690.6 1359.8 L-688.4 1355.1 L-685.2 1353.5 L-681.0 1355.2 L-678.2 1352.5 L-674.0 1354.0 L-670.7 1353.0 L-667.9 1350.0 L-665.1 1347.4 L-661.1 1348.4 L-658.3 1345.7 L-654.2 1346.9 L-650.2 1347.9 L-648.1 1343.0 L-644.4 1343.3 L-641.4 1340.9 L-638.2 1339.3 L-634.4 1340.0 L-630.3 1341.2 L-627.7 1337.7 L-624.2 1337.2 L-621.0 1335.7 L-618.7 1331.5 L-614.1 1334.5 L-610.8 1333.2 L-607.4 1332.2 L-603.9 1331.7 L-600.9 1329.6 L-598.4 1325.9 L-594.4 1327.0 L-590.7 1326.9 L-587.8 1324.7 L-583.3 1327.2 L-581.0 1322.7 L-578.0 1320.7 L-574.4 1320.5 L-571.1 1319.4 L-567.6 1318.7 L-563.5 1320.2 L-560.6 1317.9 L-558.0 1314.2 L-554.0 1315.5 L-551.6 1311.4 L-547.5 1312.6 L-543.5 1313.6 L-540.6 1311.3 L-537.4 1309.6 L-534.1 1308.7 L-531.3 1305.8 L-527.9 1304.8 L-523.4 1307.7 L-520.8 1304.0 L-516.9 1304.8 L-513.9 1302.9 L-511.4 1299.1 L-507.7 1299.2 L-503.9 1299.6 L-500.6 1298.4 L-497.0 1298.0 L-493.4 1298.0 L-491.4 1292.5 L-487.4 1293.5 L-484.1 1292.4 L-480.9 1291.0 L-476.7 1292.8 L-473.5 1291.0 L-470.8 1288.0 L-467.6 1286.7 L-464.0 1286.4 L-461.2 1283.4 L-456.5 1286.7 L-453.5 1284.7 L-450.7 1282.1 L-447.0 1282.0 L-444.4 1278.7 L-441.0 1277.9 L-437.0 1278.9 L-433.3 1278.8 L-430.6 1275.8 L-426.6 1276.8 L-424.3 1272.5 L-421.1 1271.0 L-416.8 1272.9 L-413.8 1270.7 L-410.1 1271.1 L-406.7 1270.2 L-403.9 1267.4 L-401.1 1264.5 L-396.9 1266.3 L-394.0 1263.7 L-390.1 1264.4 L-386.2 1265.1 L-384.0 1260.5 L-380.5 1260.1 L-377.3 1258.6 L-374.0 1257.4 L-370.3 1257.4 L-366.2 1258.9 L-363.8 1254.9 L-360.3 1254.1 L-357.0 1253.1 L-354.4 1249.5 L-350.0 1251.9 L-346.6 1251.1 L-343.4 1249.6 L-340.1 1248.4 L-336.8 1247.1 L-334.3 1243.3 L-330.2 1244.7 L-326.5 1244.9 L-323.6 1242.4 L-319.4 1244.0 L-317.0 1240.1 L-314.0 1238.0 L-310.4 1237.9 L-306.8 1237.7 L-303.5 1236.2 L-299.5 1237.5 L-296.5 1235.1 L-294.0 1231.4 L-290.0 1232.7 L-287.3 1229.6 L-283.4 1230.3 L-279.5 1230.9 L-276.4 1229.0 L-273.6 1226.4 L-270.0 1226.0 L-267.1 1223.6 L-263.8 1222.6 L-259.2 1225.3 L-256.7 1221.7 L-253.1 1221.6 L-249.9 1219.9 L-247.2 1216.9 L-243.6 1216.6 L-239.6 1217.6 L-236.5 1216.1 L-233.1 1215.1 L-229.4 1215.1 L-227.3 1210.0 L-223.4 1210.9 L-219.9 1210.3 L-216.6 1209.1 L-212.7 1209.7 L-209.5 1208.4 L-206.8 1205.1 L-203.5 1204.0 L-199.8 1204.3 L-197.0 1201.4 L-192.5 1204.0 L-189.4 1202.1 L-186.6 1199.3 L-183.1 1198.8 L-180.1 1196.7 L-176.8 1195.6 L-172.8 1196.5 L-169.2 1196.5 L-166.6 1192.9 L-162.7 1193.7 L-160.2 1190.1 L-156.9 1188.8 L-152.7 1190.4 L-149.6 1188.8 L-146.1 1188.1 L-142.7 1187.2 L-139.8 1184.8 L-137.0 1181.9 L-132.7 1184.0 L-129.8 1181.7 L-126.1 1181.8 L-122.3 1182.0 L-119.9 1178.1 L-116.5 1177.1 L-113.1 1176.4 L-109.7 1175.5 L-106.2 1174.9 L-102.1 1176.2 L-99.7 1172.1 L-96.4 1171.2 L-92.9 1170.5 L-90.1 1167.7 L-85.9 1169.3 L-82.4 1168.8 L-79.3 1167.0 L-76.2 1165.2 L-72.7 1164.6 L-70.2 1161.1 L-66.1 1162.4 L-62.4 1162.6 L-59.5 1160.0 L-55.6 1160.7 L-52.9 1157.6 L-49.9 1155.6 L-46.3 1155.4 L-42.5 1155.7 L-39.4 1153.7 L-35.5 1154.6 L-32.6 1152.3 L-29.9 1148.9 L-25.9 1150.0 L-22.9 1147.8 L-19.2 1147.9 L-15.5 1148.0 L-12.4 1146.4 L-9.6 1143.4 L-6.0 1143.4 L-2.9 1141.5 L0.5 1140.5 L4.8 1142.5 L7.4 1139.4 L10.8 1138.5 L14.1 1137.1 L17.1 1135.0 L20.5 1134.1 L24.5 1135.4 L27.7 1133.6 L30.9 1132.1 L34.5 1132.1 L36.9 1127.9 L40.7 1128.4 L44.3 1128.1 L47.6 1127.0 L51.1 1126.6 L54.5 1125.7 L57.2 1122.5 L60.6 1121.5 L64.4 1122.0 L67.3 1119.5 L71.4 1121.1 L74.6 1119.3 L77.4 1116.7 L80.8 1115.9 L84.2 1114.8 L87.4 1113.4 L91.2 1114.0 L94.8 1113.7 L97.4 1110.3 L101.2 1110.6 L104.0 1107.9 L107.3 1106.8 L111.3 1107.7 L114.6 1106.6 L117.8 1105.1 L121.2 1104.2 L124.3 1102.4 L127.2 1099.8 L131.4 1101.5 L134.5 1099.6 L138.0 1099.1 L141.5 1098.7 L144.3 1095.8 L147.5 1094.4 L151.1 1094.2 L154.5 1093.4 L157.9 1092.3 L161.8 1093.1 L164.3 1089.6 L167.7 1088.5 L171.2 1088.0 L174.2 1086.0 L178.1 1086.6 L181.6 1086.1 L184.7 1084.2 L187.8 1082.3 L191.3 1082.1 L194.1 1079.2 L198.0 1080.0 L201.7 1079.9 L204.6 1077.6 L208.2 1077.3 L211.2 1075.2 L214.3 1073.4 L217.9 1073.0 L221.7 1073.4 L224.7 1071.2 L228.4 1071.4 L231.5 1069.5 L234.3 1066.8 L238.1 1067.3 L241.3 1065.9 L244.9 1065.4 L248.4 1065.0 L251.6 1063.7 L254.4 1060.8 L258.1 1060.9 L261.4 1059.5 L264.7 1058.4 L268.6 1059.3 L271.5 1056.9 L274.8 1055.6 L278.1 1054.4 L281.4 1053.1 L284.7 1051.9 L288.6 1052.7 L291.7 1050.9 L294.9 1049.3 L298.4 1049.0 L301.2 1046.1 L304.8 1046.0 L308.4 1045.7 L311.7 1044.6 L315.1 1043.5 L318.5 1042.8 L321.4 1040.2 L324.8 1039.3 L328.5 1039.5 L331.6 1037.6 L335.3 1037.9 L338.5 1036.4 L341.6 1034.3 L344.9 1033.3 L348.4 1032.7 L351.6 1031.3 L355.2 1031.2 L358.7 1030.6 L361.6 1027.9 L365.2 1027.7 L368.3 1025.9 L371.6 1024.9 L375.3 1024.9 L378.7 1024.0 L381.8 1022.3 L385.2 1021.3 L388.5 1020.0 L391.5 1018.1 L395.4 1018.7 L398.6 1017.3 L402.0 1016.3 L405.4 1015.4 L408.5 1013.6 L411.7 1012.2 L415.3 1011.9 L418.7 1011.1 L421.9 1009.7 L425.6 1009.6 L428.5 1007.3 L431.8 1006.2 L435.3 1005.5 L438.6 1004.3 L442.1 1003.7 L445.5 1003.1 L448.7 1001.5 L451.9 999.9 L455.4 999.4 L458.5 997.7 L462.1 997.4 L465.6 996.8 L468.7 995.1 L472.1 994.2 L475.4 992.9 L478.6 991.6 L482.1 990.8 L485.6 990.4 L488.8 988.8 L492.2 988.1 L495.5 986.8 L498.7 985.2 L502.2 984.7 L505.5 983.7 L508.9 982.7 L512.3 981.8 L515.6 980.7 L518.8 979.1 L522.2 978.4 L525.6 977.3 L528.9 976.3 L532.3 975.6 L535.6 974.3 L538.9 973.1 L542.3 972.1 L545.6 971.1 L549.0 970.0 L552.3 969.0 M555.6 951.2 L551.8 949.1 L548.9 945.9 L546.5 942.2 L543.1 939.6 M555.6 951.2 L555.6 955.1 L554.8 959.1 L556.2 962.9 M439.1 939.6 L442.7 940.3 L446.3 939.5 L449.9 939.2 L453.5 939.1 L457.1 939.3 L460.6 938.0 L464.2 938.6 L467.8 941.8 L471.4 939.8 L475.0 939.9 L478.6 942.3 L482.1 939.5 L485.7 938.2 L489.3 938.3 L492.9 939.0 L496.5 938.5 L500.1 938.0 L503.6 942.0 L507.2 941.2 L510.8 939.1 L514.4 941.4 L518.0 939.9 L521.6 938.1 L525.2 938.5 L528.7 939.2 L532.3 939.6 L535.9 939.1 L539.5 940.1 L543.1 939.6 M552.3 969.0 L552.0 964.5 L556.2 962.9 M2704.8 1683.1 L2701.5 1682.0 L2698.2 1680.8 L2695.0 1679.3 L2691.7 1678.2 L2688.4 1677.0 L2685.2 1675.5 L2681.9 1674.2 L2678.8 1672.7 L2675.4 1671.6 L2671.9 1671.0 L2668.7 1669.5 L2665.4 1668.3 L2662.0 1667.5 L2658.7 1666.3 L2655.3 1665.4 L2652.3 1663.5 L2649.2 1661.7 L2645.8 1660.9 L2642.6 1659.4 L2639.5 1657.8 L2636.2 1656.6 L2632.9 1655.3 L2629.3 1655.1 L2625.8 1654.2 L2622.8 1652.3 L2619.3 1651.7 L2616.0 1650.6 L2612.7 1649.3 L2609.5 1647.8 L2606.7 1645.3 L2603.4 1644.2 L2599.9 1643.6 L2596.9 1641.6 L2593.6 1640.5 L2590.2 1639.5 L2586.7 1638.9 L2582.9 1638.9 L2579.9 1637.0 L2576.8 1635.3 L2573.3 1634.8 L2570.1 1633.1 L2567.0 1631.6 L2564.1 1629.4 L2561.1 1627.2 L2557.4 1627.3 L2554.1 1626.2 L2551.0 1624.4 L2547.4 1623.9 L2544.0 1623.0 L2540.3 1623.0 L2536.9 1622.0 L2534.2 1619.1 L2530.8 1618.2 L2527.5 1617.1 L2524.5 1615.1 L2521.4 1613.5 L2518.6 1611.0 L2515.1 1610.4 L2511.2 1610.9 L2508.1 1608.9 L2504.7 1608.0 L2501.2 1607.5 L2497.8 1606.7 L2494.1 1606.4 L2491.4 1603.7 L2488.6 1601.1 L2485.0 1600.8 L2482.0 1598.9 L2478.9 1597.1 L2475.8 1595.5 L2472.6 1593.9 L2468.5 1594.9 L2465.0 1594.2 L2462.1 1592.1 L2458.4 1591.8 L2455.1 1590.8 L2451.7 1589.9 L2448.5 1588.3 L2446.2 1584.6 L2442.8 1583.6 L2439.3 1583.1 L2436.4 1580.9 L2433.0 1579.8 L2429.8 1578.3 L2426.1 1578.3 L2422.0 1579.3 L2419.1 1577.0 L2416.0 1575.4 L2412.4 1575.0 L2409.3 1573.3 L2406.0 1572.1 L2403.4 1569.0 L2400.7 1566.2 L2396.8 1566.8 L2393.5 1565.4 L2390.4 1563.8 L2386.9 1563.2 L2383.5 1562.2 L2379.4 1563.3 L2375.9 1562.5 L2373.4 1559.1 L2370.0 1558.4 L2366.7 1557.1 L2363.7 1555.2 L2360.6 1553.4 L2358.2 1549.9 L2354.6 1549.6 L2350.6 1550.3 L2347.6 1548.3 L2344.1 1547.7 L2340.6 1547.0 L2337.0 1546.6 L2333.0 1547.2 L2330.5 1543.8 L2327.8 1541.1 L2324.2 1540.8 L2321.3 1538.6 L2318.1 1537.1 L2315.3 1534.7 L2312.3 1532.6 L2307.9 1534.4 L2304.4 1533.8 L2301.4 1531.8 L2297.7 1531.7 L2294.4 1530.5 L2290.7 1530.5 L2287.5 1528.9 L2285.5 1524.4 L2282.1 1523.4 L2278.6 1522.6 L2275.7 1520.4 L2272.4 1519.4 L2269.5 1517.1 L2265.6 1517.5 L2261.2 1519.1 L2258.4 1516.8 L2255.1 1515.5 L2251.6 1514.9 L2248.5 1513.3 L2244.9 1512.8 L2242.6 1508.9 L2240.1 1505.8 L2236.1 1506.3 L2233.0 1504.7 L2229.7 1503.4 L2226.3 1502.5 L2223.1 1501.1 L2218.6 1503.2 L2215.1 1502.5 L2212.6 1499.3 L2209.1 1498.6 L2206.0 1496.9 L2202.8 1495.5 L2199.7 1493.6 L2197.6 1489.2 L2194.0 1489.0 L2190.0 1489.6 L2187.0 1487.7 L2183.4 1487.3 L2180.1 1486.1 L2176.3 1486.2 L2172.1 1487.5 L2169.7 1484.0 L2166.9 1481.4 L2163.4 1480.7 L2160.5 1478.4 L2157.2 1477.3 L2154.7 1474.2 L2151.8 1471.7 L2147.4 1473.7 L2143.9 1473.0 L2140.6 1471.6 L2137.0 1471.3 L2133.8 1469.9 L2129.7 1470.8 L2126.6 1469.2 L2124.6 1464.5 L2121.2 1463.5 L2118.0 1462.1 L2114.9 1460.3 L2111.6 1459.2 L2109.1 1456.0 L2105.1 1456.7 L2100.7 1458.5 L2097.7 1456.4 L2094.3 1455.6 L2091.0 1454.4 L2087.6 1453.3 L2083.9 1453.4 L2081.8 1449.0 L2079.3 1445.8 L2075.5 1445.9 L2072.4 1444.1 L2069.0 1443.3 L2065.8 1441.7 L2062.7 1440.1 L2058.0 1442.7 L2054.4 1442.1 L2051.7 1439.4 L2048.3 1438.7 L2045.3 1436.6 L2041.8 1436.0 L2038.8 1433.9 L2036.9 1429.0 L2033.3 1428.6 L2029.5 1428.7 L2026.4 1427.2 L2022.7 1427.0 L2019.7 1425.0 L2015.7 1425.7 L2011.4 1427.3 L2008.9 1424.0 L2005.9 1421.8 L2002.7 1420.5 L1999.8 1418.4 L1996.2 1417.8 L1994.0 1413.9 L1991.2 1411.2 L1986.8 1412.9 L1983.4 1412.1 L1979.9 1411.4 L1976.4 1410.7 L1973.3 1409.1 L1968.9 1410.8 L1965.7 1409.3 L1963.6 1404.9 L1960.4 1403.7 L1957.4 1401.7 L1954.1 1400.5 L1950.9 1399.1 L1948.6 1395.3 L1944.5 1396.0 L1940.2 1397.6 L1937.1 1395.9 L1933.5 1395.5 L1930.4 1393.8 L1926.9 1393.2 L1923.0 1393.7 L1920.9 1389.2 L1918.3 1386.1 L1914.8 1385.5 L1911.8 1383.6 L1908.2 1383.3 L1905.3 1381.0 L1902.2 1379.3 L1897.4 1382.0 L1893.9 1381.4 L1890.9 1379.5 L1887.5 1378.5 L1884.6 1376.2 L1880.8 1376.3 L1877.9 1374.2 L1876.0 1369.2 L1872.5 1368.5 L1869.0 1367.9 L1865.7 1366.9 L1862.0 1366.6 L1859.3 1364.1 L1855.1 1365.0 L1850.8 1366.7 L1848.1 1363.9 L1845.0 1362.2 L1842.0 1360.2 L1838.9 1358.4 L1835.3 1358.2 L1833.2 1353.9 L1830.4 1351.2 L1826.3 1352.2 L1822.9 1351.3 L1819.2 1351.2 L1815.9 1349.9 L1812.8 1348.4 L1808.2 1350.5 L1805.0 1349.0 L1802.7 1345.4 L1799.5 1343.9 L1796.7 1341.4 L1793.2 1340.8 L1790.0 1339.1 L1787.9 1335.0 L1783.9 1335.5 L1779.8 1336.4 L1776.5 1335.4 L1772.8 1335.2 L1769.9 1333.0 L1766.2 1332.9 L1762.2 1333.6 L1760.0 1329.4 L1757.3 1326.7 L1754.1 1325.3 L1751.0 1323.4 L1747.3 1323.4 L1744.7 1320.5 L1741.6 1318.8 L1737.0 1321.0 L1733.5 1320.4 L1730.1 1319.4 L1726.8 1318.1 L1724.0 1315.8 L1720.0 1316.5 L1717.1 1314.3 L1715.0 1309.7 L1711.7 1308.7 L1708.5 1307.3 L1704.9 1306.8 L1701.4 1306.3 L1698.7 1303.3 L1694.6 1304.4 L1690.4 1305.7 L1687.4 1303.6 L1684.1 1302.3 L1681.3 1299.8 L1678.1 1298.5 L1674.4 1298.3 L1672.3 1294.1 L1669.5 1291.5 L1665.7 1291.6 L1662.3 1290.6 L1658.5 1290.9 L1655.4 1289.2 L1652.2 1287.7 L1647.7 1289.7 L1644.5 1288.4 L1641.7 1285.7 L1638.6 1284.0 L1635.9 1281.3 L1632.3 1281.0 L1629.2 1279.2 L1627.0 1275.1 L1623.2 1275.3 L1619.4 1275.4 L1615.9 1274.9 L1612.2 1274.8 L1609.4 1272.3 L1605.6 1272.5 L1601.6 1273.0 L1599.2 1269.5 L1596.3 1267.2 L1593.3 1265.1 L1590.2 1263.5 L1586.5 1263.5 L1583.9 1260.3 L1580.8 1258.6 L1576.5 1260.1 L1573.0 1259.5 L1569.4 1259.1 L1566.3 1257.6 L1563.3 1255.4 L1559.3 1256.2 L1556.3 1254.1 L1554.0 1250.3 L1550.8 1248.9 L1547.8 1247.0 L1544.1 1246.8 L1540.7 1245.9 L1538.0 1243.0 L1534.0 1243.7 L1530.0 1244.4 L1526.8 1243.1 L1523.4 1242.1 L1520.7 1239.4 L1517.3 1238.4 L1513.6 1238.2 L1511.3 1234.4 L1508.5 1232.1 L1505.0 1231.3 L1501.7 1230.2 L1497.8 1230.6 L1494.8 1228.6 L1491.6 1227.2 L1487.3 1228.7 L1484.0 1227.5 L1480.9 1225.8 L1477.9 1223.9 L1475.1 1221.2 L1471.4 1221.1 L1468.4 1219.2 L1466.0 1215.7 L1462.4 1215.2 L1458.9 1214.6 L1455.2 1214.5 L1451.6 1214.1 L1448.8 1211.7 L1445.0 1211.8 L1441.2 1212.0 L1438.4 1209.4 L1435.4 1207.6 L1432.5 1205.1 L1429.3 1203.7 L1425.7 1203.5 L1423.1 1200.5 L1419.9 1198.9 L1416.0 1199.3 L1412.5 1198.6 L1408.8 1198.6 L1405.7 1196.8 L1402.7 1195.0 L1398.7 1195.5 L1395.7 1193.6 L1393.0 1190.9 L1389.9 1189.2 L1386.9 1187.0 L1383.3 1186.8 L1380.0 1185.7 L1377.2 1183.1 L1373.4 1183.3 L1369.7 1183.2 L1366.2 1182.4 L1362.8 1181.6 L1360.0 1179.0 L1356.6 1178.2 L1353.0 1177.7 L1350.4 1174.7 L1347.4 1172.8 L1344.2 1171.3 L1340.9 1170.2 L1337.1 1170.3 L1334.1 1168.3 L1330.9 1167.0 L1326.9 1167.5 L1323.6 1166.5 L1320.3 1165.4 L1317.2 1163.5 L1314.3 1161.2 L1310.7 1161.0 L1307.6 1159.1 L1304.9 1156.5 L1301.5 1155.5 L1298.2 1154.4 L1294.5 1154.1 L1291.1 1153.4 L1288.1 1151.3 L1284.4 1151.1 L1280.9 1150.7 L1277.8 1148.9 L1274.6 1147.5 L1271.7 1145.2 L1268.4 1143.9 L1264.9 1143.3 L1262.1 1140.9 L1258.9 1139.5 L1255.4 1138.9 L1251.9 1138.0 L1248.3 1137.7 L1245.2 1136.1 L1242.0 1134.6 L1238.4 1134.4 L1235.2 1132.8 L1232.1 1131.0 L1229.0 1129.4 L1225.9 1127.5 L1222.4 1126.9 L1219.2 1125.6 L1216.1 1123.8 L1212.6 1123.1 L1209.2 1122.3 L1205.8 1121.5 L1202.4 1120.5 L1199.4 1118.6 L1196.0 1117.6 L1192.6 1116.7 L1189.6 1114.8 L1186.4 1113.4 L1183.2 1111.9 L1179.9 1110.7 L1176.4 1109.9 L1173.3 1108.4 L1170.0 1107.2 L1166.5 1106.4 L1163.2 1105.2 L1159.9 1104.1 L1156.7 1102.6 L1153.5 1101.3 L1150.2 1100.1 M1150.2 1100.1 L1149.8 1096.4 L1150.5 1092.7 L1152.8 1089.1 L1150.5 1085.3 L1148.9 1081.5 L1150.4 1077.9 L1149.8 1074.2 L1150.8 1070.5 L1151.6 1066.8 M1151.6 1066.8 L1153.7 1064.0 L1156.1 1061.3 L1157.8 1058.1 L1160.7 1055.9 L1163.0 1053.1 L1164.8 1050.0 L1168.3 1048.3 L1169.8 1044.9 L1171.9 1042.0 L1175.0 1039.9 L1175.4 1035.7 L1178.4 1033.5 L1180.8 1030.9 L1181.5 1026.9 L1185.8 1025.8 L1187.4 1022.5 L1189.4 1019.5 L1193.8 1018.5 L1194.2 1014.2 L1197.1 1012.0 L1200.1 1009.8 L1199.8 1004.9 L1203.7 1003.5 L1205.2 1000.2 L1206.1 996.3 L1210.9 995.6 L1211.6 991.5 L1214.4 989.2 L1218.5 988.0 L1218.6 983.5 L1222.4 982.0 L1224.5 979.1 L1224.8 974.7 L1228.8 973.4 L1229.6 969.5 L1231.5 966.3 L1235.4 965.0 L1236.2 961.0 L1239.5 959.1 L1242.5 956.9 L1243.5 953.2 L1247.0 951.4 L1248.7 948.2 L1250.3 944.9 L1253.3 942.7 L1254.7 939.3 L1257.1 936.7 L1259.7 934.2 L1261.9 931.4 M936.7 319.4 L933.0 318.9 L929.2 318.7 L925.9 315.8 L922.0 316.2 L918.2 316.3 L914.7 314.7 L910.5 316.7 L907.1 314.5 L903.6 312.7 L899.7 313.4 L896.2 311.3 L892.4 311.5 L888.7 310.9 M941.8 147.4 L940.5 150.6 L939.7 154.1 L938.8 157.5 L937.7 160.8 L936.6 164.1 L936.0 167.6 L935.0 171.0 L933.5 174.2 L931.5 177.2 L930.4 180.6 L929.4 183.9 L928.3 187.3 L926.7 190.4 L926.1 193.9 L926.0 197.6 L925.8 201.2 L924.1 204.3 L922.9 207.6 L921.9 211.0 L921.0 214.4 L918.6 217.3 L916.7 220.4 L915.5 223.7 L915.4 227.3 L914.2 230.6 L913.2 234.0 L912.4 237.4 L912.8 241.2 L911.8 244.6 L910.2 247.8 L908.1 250.8 L907.4 254.3 L906.0 257.5 L904.3 260.6 L902.3 263.7 L902.0 267.3 L901.6 270.8 L901.0 274.3 L899.5 277.5 L899.0 281.0 L898.2 284.5 L897.2 287.8 L895.2 290.9 L893.9 294.1 L892.7 297.4 L891.9 300.8 L890.5 304.1 L889.5 307.5 L888.7 310.9 M836.9 246.8 L839.5 244.5 L842.3 242.3 L844.4 239.5 L846.4 236.5 L849.2 234.4 L851.7 231.9 L854.6 229.8 L856.8 227.1 L860.0 225.4 L863.7 224.2 L865.7 221.2 L868.2 218.8 L870.3 215.9 L873.0 213.7 L875.1 210.8 L876.2 206.8 L879.4 205.1 L882.1 202.8 L885.1 201.0 L887.7 198.6 L890.4 196.4 L894.6 195.7 L896.6 192.7 L898.8 189.9 L900.9 187.1 L903.3 184.5 L905.9 182.2 L907.0 178.3 L909.9 176.2 L913.0 174.4 L915.8 172.2 L918.7 170.2 L921.0 167.6 L924.4 166.1 L926.9 163.6 L929.0 160.7 L931.4 158.2 L933.8 155.6 L936.4 153.3 M836.9 246.8 L833.7 248.6 L829.6 247.7 L826.2 249.1 L823.3 251.8 L819.7 252.4 L816.5 254.5 L812.7 254.4 L808.6 253.1 L805.8 256.4 L802.7 258.6 L798.9 258.7 L795.5 259.9 L792.0 260.7 M724.1 1125.0 L724.6 1121.2 L727.9 1117.8 L725.2 1113.5 L725.4 1109.6 L725.5 1105.8 L728.7 1102.4 L731.1 1098.9 L728.3 1094.5 L729.5 1090.8 L730.4 1087.1 M724.1 1125.0 L722.5 1126.8 L720.6 1128.0 M687.9 1100.4 L690.8 1097.8 L693.5 1095.0 L695.7 1091.9 L697.4 1088.3 L698.5 1084.2 L702.2 1082.3 L704.7 1079.3 M687.9 1100.4 L688.7 1104.3 L688.9 1108.3 L689.0 1112.2 M689.0 1112.2 L692.3 1113.4 L695.5 1114.9 L698.6 1116.7 L701.9 1117.9 L704.6 1120.4 L707.1 1123.2 L710.8 1123.9 L714.6 1124.2 L717.6 1126.1 L720.6 1128.0 M704.7 1079.3 L708.0 1081.5 L712.0 1081.8 L715.7 1082.6 L719.6 1083.0 L722.6 1086.5 L726.8 1085.8 L730.4 1087.1 M724.1 1125.0 L727.7 1125.4 L731.4 1126.5 L735.0 1126.0 L738.7 1123.0 L742.3 1121.9 L746.0 1125.1 L749.6 1127.8 L753.2 1126.7 L756.9 1124.7 L760.5 1124.0 L764.2 1125.0 M764.2 1125.0 L768.3 1122.6 L770.2 1118.2 M730.4 1087.1 L734.6 1088.7 L736.8 1084.8 M770.2 1118.2 L768.4 1114.8 L766.0 1112.0 L761.6 1111.4 L757.9 1109.9 L756.9 1105.8 L756.0 1101.6 L753.2 1099.2 L750.1 1097.2 L747.1 1095.1 L743.7 1093.4 L741.0 1090.9 L739.5 1087.3 L736.8 1084.8 M845.4 1199.3 L843.0 1196.6 L841.7 1193.1 L840.7 1189.5 L838.8 1186.5 L835.2 1184.5 L832.5 1182.0 L830.7 1178.9 L829.2 1175.6 L827.6 1172.3 M845.4 1199.3 L847.6 1196.2 L851.5 1195.0 L855.6 1194.0 L857.1 1190.1 L859.4 1187.1 L860.3 1182.4 L864.1 1181.1 L869.0 1181.0 L871.7 1178.5 L874.7 1176.3 L876.1 1172.2 L879.4 1170.2 M827.6 1172.3 L828.6 1168.9 L831.1 1166.2 L831.5 1162.5 L835.7 1160.7 L835.7 1156.7 L837.2 1153.6 L838.0 1150.1 L839.6 1146.9 L841.0 1143.7 L843.8 1141.2 L844.9 1137.8 M879.4 1170.2 L879.2 1166.5 L879.3 1162.8 L876.7 1159.6 L873.7 1156.4 L876.8 1152.2 L876.4 1148.5 L875.8 1144.9 L874.1 1141.6 M844.9 1137.8 L848.2 1140.0 L852.0 1137.8 L855.5 1138.5 L859.3 1136.0 L862.5 1140.3 L866.0 1140.7 L869.5 1141.1 L873.2 1140.4 M874.1 1141.6 L873.2 1140.4 M788.4 1173.2 L790.3 1168.7 L795.1 1168.6 L798.5 1166.5 M798.5 1166.5 L801.8 1168.9 L806.1 1166.2 L809.7 1167.3 L812.8 1170.4 L816.6 1170.7 L820.0 1172.2 L824.3 1169.9 L827.6 1172.3 M841.5 1225.3 L842.9 1221.7 L843.1 1218.0 L842.9 1214.1 L843.1 1210.4 L843.0 1206.6 L845.5 1203.1 L845.4 1199.3 M906.0 1185.0 L902.6 1183.4 L899.2 1181.6 L897.1 1177.6 L893.9 1175.4 L888.4 1177.5 L885.3 1175.3 L882.2 1172.9 L879.4 1170.2 M906.0 1185.0 L905.3 1188.8 L906.3 1192.4 L907.3 1195.9 L909.5 1199.3 L908.7 1203.1 L908.8 1206.8 M733.4 1473.0 L732.9 1469.5 L732.5 1466.0 L732.2 1462.4 L730.6 1459.1 L729.9 1455.6 L730.4 1452.0 L729.7 1448.5 L729.7 1444.9 L729.3 1441.4 L726.9 1438.1 L726.4 1434.6 L727.1 1430.9 L726.6 1427.4 L726.9 1423.8 L725.9 1420.3 L723.4 1417.1 L723.1 1413.6 L723.7 1409.9 L723.7 1406.3 L723.9 1402.7 L722.3 1399.3 L720.2 1396.1 L719.8 1392.5 L720.2 1388.9 L721.0 1385.2 L720.7 1381.6 L718.6 1378.4 L717.3 1375.0 L716.4 1371.5 L716.7 1367.9 L718.4 1364.0 L717.2 1360.6 L715.1 1357.4 L714.4 1353.9 L712.9 1350.5 L713.5 1346.8 L715.6 1342.9 L713.6 1339.6 L711.8 1336.3 L711.4 1332.8 L709.4 1329.5 L710.5 1325.7 L712.5 1321.8 L710.0 1318.7 L708.7 1315.3 L708.2 1311.7 L706.1 1308.5 L707.6 1304.6 L709.1 1300.8 L706.4 1297.6 L705.6 1294.2 L704.9 1290.7 L703.0 1287.4 L704.7 1283.6 L705.4 1279.9 L703.1 1276.6 L702.5 1273.1 L701.5 1269.7 L700.3 1266.3 L701.5 1262.5 L701.5 1258.9 L700.0 1255.6 L699.3 1252.1 L698.3 1248.6 L697.7 1245.1 L698.1 1241.5 L697.7 1238.0 L696.8 1234.5 L696.1 1231.0 L695.6 1227.5 M749.5 1214.4 L746.1 1215.1 L742.6 1215.7 L739.0 1215.2 L735.3 1214.2 L732.2 1217.5 L728.9 1219.5 L725.1 1217.7 L721.6 1218.2 L718.1 1218.6 L714.4 1217.6 L711.2 1220.0 L707.9 1221.8 L704.2 1220.9 L700.7 1221.3 M695.6 1227.5 L698.0 1224.3 L700.7 1221.3 M439.1 939.6 L442.5 938.3 L445.5 936.5 L449.1 935.8 L452.4 934.3 L455.5 932.5 L457.8 929.2 L461.4 928.3 L464.7 927.1 L468.3 926.3 L470.9 923.6 L474.9 923.7 L478.5 923.0 L481.9 922.0 L484.0 918.0 L487.3 916.5 L490.5 914.9 L493.9 914.0 L496.4 910.9 L500.1 910.4 L503.8 910.0 L507.7 909.9 L510.2 906.9 L513.4 905.3 L516.6 903.6 L519.9 902.4 L522.6 899.8 L525.9 898.4 L529.3 897.3 L532.7 896.0 M543.1 939.6 L542.6 935.7 L545.6 932.0 L545.3 928.1 L542.0 924.2 L543.8 920.4 L541.6 916.5 L541.2 912.6 L545.2 908.9 L544.6 905.0 L543.9 901.1 M532.7 896.0 L537.1 896.1 L540.1 899.5 L543.9 901.1 M687.9 1100.4 L684.4 1099.4 L680.8 1098.4 L677.8 1096.3 L674.5 1094.8 L671.2 1093.0 L667.9 1091.5 L664.6 1090.0 L661.4 1088.2 L657.3 1088.5 L653.6 1088.0 L651.0 1084.7 L647.4 1083.7 L643.7 1083.1 L641.1 1080.0 L637.6 1078.7 L634.0 1078.0 M672.9 1132.1 L675.4 1129.4 L679.1 1127.7 L679.2 1123.1 L682.1 1120.8 L684.5 1118.0 L687.6 1115.8 L689.0 1112.2 M672.9 1132.1 L670.0 1129.9 L666.8 1128.2 L663.6 1126.5 L660.4 1124.9 L656.6 1124.3 L653.0 1123.7 L649.9 1121.7 L646.3 1120.8 L642.5 1120.5 L640.1 1117.0 L638.2 1112.8 L634.7 1111.8 L631.1 1111.0 L628.4 1108.1 L625.1 1106.8 L620.8 1107.2 L617.2 1106.4 L613.9 1104.9 L610.5 1103.8 L607.7 1101.3 L605.0 1098.6 L601.7 1097.2 L598.4 1095.7 L595.1 1094.2 M704.7 1079.3 L704.2 1075.4 L703.2 1071.6 L701.2 1068.2 L698.6 1065.0 L698.4 1060.9 M742.4 1054.0 L739.4 1051.9 L737.4 1048.6 L733.6 1047.6 L730.7 1045.6 L727.9 1043.3 M742.4 1054.0 L743.2 1057.9 L742.3 1061.7 L740.4 1065.3 L741.3 1069.3 L740.0 1073.0 L740.0 1076.9 L739.9 1080.7 M739.9 1080.7 L739.0 1083.3 L736.8 1084.8 M698.4 1060.9 L701.5 1058.6 L705.4 1057.8 L708.8 1056.0 L710.9 1052.1 L714.6 1050.8 L718.3 1049.5 L720.8 1046.2 L724.7 1045.2 L727.9 1043.3 M634.0 1078.0 L636.4 1074.8 L639.9 1073.4 L643.8 1072.6 L646.1 1069.4 L650.1 1068.7 L654.1 1067.9 L655.1 1062.7 L657.8 1060.2 L661.7 1059.3 L663.3 1055.1 L666.8 1053.6 L671.5 1053.9 L674.1 1051.1 L677.1 1048.8 L680.0 1046.6 M698.4 1060.9 L694.7 1059.4 L693.3 1054.9 L689.4 1053.5 L684.7 1053.2 L683.4 1048.5 L680.0 1046.6 M747.1 994.8 L749.3 998.1 L749.6 1001.9 L752.2 1005.1 L751.4 1009.2 M747.1 994.8 L745.0 993.7 L742.9 992.5 M751.4 1009.2 L748.7 1011.6 L747.5 1015.6 L745.1 1018.3 L739.7 1017.5 L736.8 1019.6 L734.7 1022.6 L731.6 1024.5 L730.1 1028.2 L727.2 1030.3 M742.9 992.5 L739.4 993.4 L736.0 994.8 L732.5 995.6 L728.4 994.8 L725.5 997.5 L722.8 1001.0 L719.0 1000.8 L715.3 1001.2 L711.9 1002.4 M711.9 1002.4 L711.4 1006.6 L708.3 1009.6 L705.5 1012.8 L705.3 1017.2 M705.3 1017.2 L707.8 1020.0 L711.4 1021.1 L715.9 1020.7 L718.4 1023.7 L719.6 1028.7 L723.6 1029.2 L727.2 1030.3 M751.4 1009.2 L754.5 1012.2 L757.5 1015.2 L761.4 1017.1 M742.4 1054.0 L745.3 1051.9 L748.6 1050.6 L751.6 1048.6 L755.1 1047.8 L759.5 1049.1 L762.0 1045.9 L765.1 1044.1 M727.2 1030.3 L726.8 1034.7 L726.4 1039.0 L727.9 1043.3 M765.8 1168.8 L761.9 1166.4 L761.9 1161.9 L760.0 1158.4 M760.0 1158.4 L760.4 1154.7 L762.1 1151.1 L761.8 1147.3 L762.1 1143.6 L762.7 1139.9 L761.2 1135.9 L762.2 1132.3 L764.0 1128.7 L764.2 1125.0 M798.5 1166.5 L798.7 1162.9 L798.9 1159.4 L799.1 1155.8 L799.8 1152.3 L803.9 1149.2 L800.4 1145.2 L800.8 1141.6 L801.6 1138.1 L803.2 1134.7 L803.2 1131.2 M770.2 1118.2 L774.0 1117.2 L777.4 1115.2 L780.4 1112.2 L784.8 1112.8 M803.2 1131.2 L800.8 1128.2 L797.8 1126.1 L796.1 1122.5 L793.0 1120.3 L789.1 1119.1 L788.1 1114.8 L784.8 1112.8 M844.9 1137.8 L840.7 1135.7 L837.9 1132.3 L835.1 1128.8 M803.2 1131.2 L806.6 1129.3 L810.2 1130.1 L813.8 1130.4 L817.5 1131.7 L821.1 1132.2 L824.3 1128.2 L828.0 1129.0 L831.4 1127.5 L835.1 1128.8 M659.2 1190.7 L660.6 1194.1 L662.7 1197.3 L664.3 1200.7 L666.4 1203.8 L668.4 1207.0 L670.6 1210.1 L670.4 1214.5 L673.0 1217.4 L675.0 1220.5 M659.2 1190.7 L655.7 1191.9 L651.7 1190.4 L648.4 1192.1 L645.2 1194.7 L641.5 1194.6 L638.5 1197.9 L634.3 1195.8 L630.3 1194.3 L627.2 1197.1 L623.6 1197.9 L620.4 1200.0 L617.1 1201.8 L613.0 1200.3 L609.4 1200.6 L606.0 1202.1 M675.0 1220.5 L671.8 1222.0 L669.2 1224.9 L665.5 1225.4 L662.0 1226.3 L658.8 1228.0 L655.2 1228.6 L651.8 1229.9 L648.9 1232.2 L646.0 1234.3 L642.5 1235.3 M606.0 1202.1 L608.9 1204.2 L612.1 1205.9 L613.5 1209.6 L615.6 1212.6 L618.4 1214.7 L621.6 1216.4 L624.3 1218.7 L626.2 1221.9 L630.4 1222.5 L633.6 1224.2 L634.3 1228.6 L637.0 1230.9 L640.0 1232.9 L642.5 1235.3 M642.5 2652.4 L642.4 2648.9 L642.5 2645.4 L642.6 2641.9 L642.3 2638.4 L642.4 2634.9 L642.7 2631.4 L642.8 2627.9 L642.6 2624.4 L642.5 2620.9 L642.4 2617.4 L642.5 2613.9 L642.5 2610.4 L642.1 2606.8 L642.0 2603.3 L642.8 2599.8 L643.1 2596.3 L642.5 2592.8 L642.5 2589.3 L642.9 2585.8 L642.7 2582.3 L642.2 2578.8 L642.0 2575.3 L642.0 2571.8 L642.5 2568.3 L642.8 2564.8 L642.4 2561.2 L642.4 2557.7 L643.3 2554.2 L643.3 2550.7 L642.1 2547.2 L641.9 2543.7 L642.5 2540.2 L642.4 2536.7 L642.0 2533.2 L642.2 2529.7 L642.6 2526.2 L643.3 2522.7 L643.4 2519.2 L642.4 2515.6 L642.1 2512.1 L642.9 2508.6 L642.6 2505.1 L641.3 2501.6 L641.7 2498.1 L642.8 2494.6 L643.0 2491.1 L642.8 2487.6 L642.7 2484.1 L642.8 2480.6 L643.1 2477.1 L642.8 2473.5 L641.4 2470.0 L641.3 2466.5 L642.8 2463.0 L642.8 2459.5 L641.8 2456.0 L642.6 2452.5 L643.7 2449.0 L643.4 2445.5 L642.6 2442.0 L642.0 2438.5 L641.9 2435.0 L642.4 2431.5 L642.4 2427.9 L641.3 2424.4 L642.0 2420.9 L643.9 2417.4 L643.6 2413.9 L642.2 2410.4 L642.6 2406.9 L643.1 2403.4 L642.4 2399.9 L641.6 2396.4 L641.4 2392.9 L641.9 2389.4 L643.2 2385.9 L643.3 2382.3 L642.2 2378.8 L642.7 2375.3 L644.1 2371.8 L643.0 2368.3 L641.1 2364.8 L641.6 2361.3 L642.4 2357.8 L642.2 2354.3 L642.1 2350.8 L642.3 2347.3 L643.0 2343.8 L644.1 2340.3 L643.5 2336.7 L641.6 2333.2 L641.8 2329.7 L643.1 2326.2 L642.0 2322.7 L640.7 2319.2 L642.0 2315.7 L643.4 2312.2 L643.4 2308.7 L643.1 2305.2 L642.6 2301.7 L642.7 2298.2 L643.3 2294.7 L642.2 2291.1 L640.4 2287.6 L641.5 2284.1 L643.5 2280.6 L642.8 2277.1 L641.9 2273.6 L643.3 2270.1 L644.0 2266.6 L643.2 2263.1 L642.2 2259.6 L641.3 2256.1 L641.6 2252.6 L642.7 2249.1 L642.2 2245.5 L641.1 2242.0 L642.9 2238.5 L644.8 2235.0 L643.4 2231.5 L641.9 2228.0 L642.5 2224.5 L642.7 2221.0 L641.9 2217.5 L641.3 2214.0 L641.2 2210.5 L642.4 2207.0 L644.1 2203.5 L643.4 2199.9 L641.9 2196.4 L643.2 2192.9 L644.1 2189.4 L641.9 2185.9 L640.5 2182.4 L641.6 2178.9 L642.5 2175.4 L642.5 2171.9 L642.5 2168.4 L642.5 2164.9 L643.5 2161.4 L644.5 2157.9 L642.7 2154.3 L640.7 2150.8 L642.0 2147.3 L643.0 2143.8 L641.4 2140.3 L641.0 2136.8 L642.9 2133.3 L643.9 2129.8 L643.7 2126.3 L643.0 2122.8 L642.1 2119.3 L642.5 2115.8 L643.1 2112.3 L641.2 2108.7 L640.1 2105.2 L642.5 2101.7 L644.1 2098.2 L642.7 2094.7 L642.4 2091.2 L643.7 2087.7 L643.7 2084.2 L642.7 2080.7 L641.5 2077.2 L640.7 2073.7 L641.9 2070.2 L643.2 2066.7 L642.0 2063.1 L641.5 2059.6 L644.1 2056.1 L644.9 2052.6 L642.6 2049.1 L641.6 2045.6 L642.3 2042.1 L642.2 2038.6 L641.8 2035.1 L641.4 2031.6 L641.4 2028.1 L643.4 2024.6 L644.7 2021.1 L642.9 2017.5 L641.8 2014.0 L643.5 2010.5 L643.4 2007.0 L640.9 2003.5 L640.5 2000.0 L642.0 1996.5 L642.8 1993.0 L643.1 1989.5 L642.8 1986.0 L642.6 1982.5 L644.0 1979.0 L644.2 1975.5 L641.4 1971.9 L640.3 1968.4 L642.4 1964.9 L642.8 1961.4 L641.3 1957.9 L641.9 1954.4 L643.6 1950.9 L644.1 1947.4 L643.7 1943.9 L642.4 1940.4 L641.5 1936.9 L642.6 1933.4 L642.7 1929.9 L640.6 1926.3 L640.7 1922.8 L643.6 1919.3 L644.2 1915.8 L642.6 1912.3 L642.7 1908.8 L643.5 1905.3 L643.1 1901.8 L642.2 1898.3 L640.9 1894.8 L640.6 1891.3 L642.7 1887.8 L643.6 1884.2 L641.9 1880.7 L642.3 1877.2 L644.7 1873.7 L644.1 1870.2 L641.7 1866.7 L641.4 1863.2 L642.0 1859.7 L642.1 1856.2 L642.0 1852.7 L641.6 1849.2 L642.1 1845.7 L644.4 1842.2 L644.5 1838.6 L642.0 1835.1 L641.8 1831.6 L643.4 1828.1 L642.4 1824.6 L640.6 1821.1 L641.1 1817.6 L642.5 1814.1 L643.3 1810.6 L643.6 1807.1 L642.7 1803.6 L642.6 1800.1 L644.0 1796.6 L643.2 1793.0 L640.4 1789.5 L640.7 1786.0 L642.9 1782.5 L642.6 1779.0 L641.7 1775.5 L642.7 1772.0 L643.8 1768.5 L644.0 1765.0 L643.2 1761.5 L641.5 1758.0 L641.2 1754.5 L642.8 1751.0 L642.3 1747.4 L640.5 1743.9 L641.9 1740.4 L644.4 1736.9 L643.8 1733.4 L642.5 1729.9 L642.7 1726.4 L642.9 1722.9 L642.6 1719.4 L641.8 1715.9 L640.6 1712.4 L641.3 1708.9 L643.7 1705.4 L643.5 1701.8 L641.9 1698.3 L643.0 1694.8 L644.4 1691.3 L643.0 1687.8 L641.3 1684.3 L641.4 1680.8 L641.9 1677.3 L642.4 1673.8 L642.4 1670.3 L641.9 1666.8 L642.9 1663.3 L644.7 1659.8 L643.6 1656.2 L641.4 1652.7 L642.0 1649.2 L643.0 1645.7 L641.8 1642.2 L641.0 1638.7 L641.9 1635.2 L643.0 1631.7 L643.7 1628.2 L643.5 1624.7 L642.3 1621.2 L642.6 1617.7 L643.7 1614.2 L642.1 1610.6 L640.3 1607.1 L641.7 1603.6 L643.2 1600.1 L642.6 1596.6 L642.3 1593.1 L643.1 1589.6 L643.5 1586.1 L643.5 1582.6 L642.5 1579.1 L641.0 1575.6 L641.6 1572.1 L643.0 1568.6 L642.1 1565.0 L641.2 1561.5 L643.0 1558.0 L644.3 1554.5 L643.2 1551.0 L642.4 1547.5 L642.4 1544.0 L642.4 1540.5 L642.4 1537.0 L641.7 1533.5 L641.0 1530.0 L642.4 1526.5 L644.0 1523.0 L643.0 1519.4 L642.1 1515.9 L643.2 1512.4 L643.6 1508.9 L642.1 1505.4 L641.3 1501.9 L641.6 1498.4 L642.2 1494.9 L642.8 1491.4 L642.6 1487.9 L642.2 1484.4 L643.3 1480.9 L644.2 1477.4 L642.5 1473.8 L641.3 1470.3 L642.3 1466.8 L642.6 1463.3 L641.8 1459.8 L641.8 1456.3 L642.5 1452.8 L643.2 1449.3 L643.6 1445.8 L642.9 1442.3 L642.0 1438.8 L642.6 1435.3 L643.0 1431.8 L641.6 1428.2 L641.1 1424.7 L642.5 1421.2 L643.2 1417.7 L642.7 1414.2 L642.7 1410.7 L642.9 1407.2 L643.1 1403.7 L643.0 1400.2 L642.0 1396.7 L641.3 1393.2 L642.3 1389.7 L643.0 1386.2 L642.1 1382.6 L642.1 1379.1 L643.3 1375.6 L643.5 1372.1 L642.7 1368.6 L642.3 1365.1 L642.2 1361.6 L642.3 1358.1 L642.4 1354.6 L641.9 1351.1 L641.8 1347.6 L643.0 1344.1 L643.5 1340.6 L642.6 1337.0 L642.3 1333.5 L642.9 1330.0 L642.7 1326.5 L642.1 1323.0 L641.9 1319.5 L642.1 1316.0 L642.6 1312.5 L642.9 1309.0 L642.5 1305.5 L642.4 1302.0 L643.0 1298.5 L643.0 1294.9 L642.2 1291.4 L642.0 1287.9 L642.5 1284.4 L642.5 1280.9 L642.3 1277.4 L642.4 1273.9 L642.6 1270.4 L642.8 1266.9 L642.8 1263.4 L642.5 1259.9 L642.3 1256.4 L642.6 1252.9 L642.5 1249.3 L642.3 1245.8 L642.4 1242.3 L642.6 1238.8 L642.5 1235.3 M695.6 1227.5 L692.2 1226.1 L688.9 1224.6 L684.9 1225.2 L682.5 1220.9 L678.9 1220.3 L675.0 1220.5 M668.2 1162.6 L669.1 1158.5 L670.5 1154.6 L672.5 1151.1 L674.6 1147.5 M668.2 1162.6 L666.9 1166.4 L669.9 1169.1 M669.9 1169.1 L673.7 1170.1 L676.8 1172.5 L680.8 1172.8 L683.9 1175.4 L686.8 1178.2 L691.5 1176.9 L694.8 1178.9 L697.7 1181.9 L701.4 1182.9 L705.1 1184.2 M674.6 1147.5 L678.2 1148.5 L681.9 1147.4 L685.5 1147.9 L689.2 1146.3 L692.8 1145.9 L696.5 1149.6 L700.1 1147.7 L703.8 1147.6 L707.4 1147.4 L711.1 1146.2 L714.7 1148.1 L718.4 1147.5 M720.3 1151.8 L717.9 1155.2 L719.1 1159.5 L719.9 1163.7 L716.7 1166.9 L716.1 1170.7 L713.3 1174.0 L713.7 1178.1 M720.3 1151.8 L718.6 1150.0 L718.4 1147.5 M713.7 1178.1 L709.5 1178.2 L708.4 1182.8 L705.1 1184.2 M672.9 1132.1 L674.4 1135.8 L675.3 1139.6 L672.8 1143.8 L674.6 1147.5 M535.2 1132.2 L538.8 1132.6 L542.2 1133.9 L545.6 1135.2 L549.0 1136.4 L552.6 1136.5 L556.4 1136.3 L559.9 1137.2 L563.4 1137.7 L566.8 1139.2 L570.3 1139.8 L573.5 1141.9 L576.8 1143.4 L580.5 1143.5 L584.3 1143.1 L588.2 1142.1 L591.4 1144.0 L594.8 1145.4 L598.0 1147.3 L601.5 1148.1 L605.0 1149.0 L608.4 1150.3 L612.3 1149.4 L615.9 1149.4 L619.7 1149.3 L622.8 1151.8 L626.0 1154.0 L629.4 1154.9 L633.0 1155.5 L636.7 1155.3 L640.1 1156.3 L643.9 1156.2 L647.4 1156.9 L650.8 1157.9 L654.1 1159.6 L657.4 1161.1 L661.1 1161.3 L664.6 1161.8 L668.2 1162.6 M700.7 1221.3 L701.5 1217.6 L700.9 1213.8 L701.5 1210.1 L703.7 1206.6 L703.5 1202.8 L702.7 1199.0 L703.5 1195.3 L703.7 1191.5 L704.3 1187.8 L705.1 1184.2 M659.2 1190.7 L661.2 1187.2 L660.9 1182.5 L666.9 1181.0 L666.5 1176.3 L666.8 1172.0 L669.9 1169.1 M720.6 1128.0 L720.4 1131.9 L720.8 1135.9 L717.3 1139.5 L718.3 1143.5 L718.4 1147.5 M760.0 1158.4 L756.5 1157.0 L752.7 1158.0 L748.9 1158.2 L745.6 1156.1 L742.3 1153.4 L738.5 1153.9 L734.5 1155.7 L731.0 1154.5 L727.5 1153.0 L724.0 1151.7 L720.3 1151.8 M748.1 1191.8 L744.2 1191.6 L741.4 1188.6 L737.6 1188.0 L734.7 1185.3 L731.2 1184.2 L726.9 1185.0 L723.8 1182.7 L720.7 1180.6 L717.3 1179.2 L713.7 1178.1 M922.5 1255.4 L925.9 1254.7 L929.5 1254.5 L933.2 1254.9 L936.0 1251.8 L939.0 1249.3 L942.7 1249.7 L946.2 1249.1 L950.1 1250.2 L953.5 1249.7 L956.4 1246.7 L959.8 1245.9 L963.3 1245.5 M920.7 1216.7 L924.5 1216.9 L927.8 1214.2 L931.7 1214.7 L935.3 1213.6 L939.2 1214.1 L942.6 1212.3 M963.3 1245.5 L963.8 1242.0 L966.3 1238.7 L965.7 1235.0 L964.4 1231.2 L965.4 1227.8 M942.6 1212.3 L945.9 1214.4 L949.0 1216.9 L952.1 1219.3 L955.4 1221.4 L959.6 1222.2 L962.2 1225.4 L965.4 1227.8 M1002.6 1224.0 L1006.5 1222.0 L1010.0 1219.5 L1011.4 1214.6 L1015.4 1212.7 M1002.6 1224.0 L1002.3 1227.7 L1002.6 1231.3 L1003.4 1235.0 L1003.4 1238.6 L1004.2 1242.3 L1004.0 1246.0 L1002.8 1249.7 L1003.5 1253.3 L1001.8 1257.0 L1003.1 1260.7 L1003.8 1264.3 L1003.4 1268.0 L1006.2 1271.6 L1003.8 1275.3 L1005.7 1278.9 L1003.9 1282.7 L1003.8 1286.3 L1004.5 1290.0 L1003.9 1293.7 L1004.8 1297.3 M1027.3 1214.0 L1028.0 1217.7 L1030.1 1220.7 L1032.9 1223.3 L1034.3 1226.6 L1035.9 1229.9 L1038.0 1232.9 L1039.2 1236.3 L1040.1 1239.9 L1040.1 1243.9 L1040.5 1247.8 L1044.4 1249.8 L1048.7 1251.7 L1049.7 1255.3 L1050.5 1258.9 L1052.4 1262.0 L1053.3 1265.6 L1054.1 1269.2 L1054.7 1273.0 L1055.7 1276.5 L1059.4 1278.7 L1063.1 1280.9 L1063.9 1284.5 L1064.6 1288.2 L1066.2 1291.5 L1067.6 1294.8 L1069.2 1298.0 M1027.3 1214.0 L1023.2 1214.9 L1019.3 1214.2 L1015.4 1212.7 M963.3 1245.5 L966.2 1247.9 L967.6 1251.5 L970.9 1253.7 L971.7 1257.7 L974.3 1260.4 L977.5 1262.5 L979.1 1266.0 L983.3 1267.3 L983.6 1271.8 L986.3 1274.4 L988.1 1277.6 L990.1 1280.8 L994.1 1282.3 L995.6 1285.8 L998.4 1288.2 L1000.2 1291.5 L1002.0 1294.8 L1004.8 1297.3 M965.4 1227.8 L969.1 1226.8 L970.3 1222.3 L973.9 1221.1 L977.0 1219.3 M977.0 1219.3 L980.5 1220.9 L984.3 1220.8 L987.6 1223.3 L991.9 1220.4 L995.4 1222.3 L999.1 1222.7 L1002.6 1224.0 M1072.1 1286.8 L1072.0 1283.1 L1071.0 1279.6 L1071.8 1275.9 L1070.7 1272.3 L1070.6 1268.7 L1072.2 1264.9 L1071.1 1261.3 L1070.4 1257.7 L1069.4 1254.1 L1069.5 1250.5 L1070.4 1246.8 L1069.2 1243.2 L1070.8 1239.5 L1070.4 1235.9 L1067.0 1232.4 L1068.8 1228.7 L1069.1 1225.0 L1068.0 1221.5 L1069.4 1217.7 L1068.5 1214.1 L1067.6 1210.6 L1067.2 1206.9 L1067.2 1203.3 L1067.7 1199.6 L1067.1 1196.0 M1055.5 1191.9 L1059.5 1193.0 L1063.7 1193.5 L1067.1 1196.0 M1055.5 1191.9 L1052.1 1193.3 L1049.8 1196.3 L1047.1 1198.6 L1044.8 1201.5 L1043.0 1205.1 L1038.2 1204.8 L1034.4 1205.6 L1032.8 1209.5 L1030.0 1211.7 L1027.3 1214.0 M906.0 1185.0 L908.2 1181.6 L911.3 1179.4 L915.2 1178.0 L918.4 1176.0 L920.9 1172.9 L922.9 1169.3 L927.1 1168.4 M874.1 1141.6 L877.7 1140.8 L881.2 1139.8 L885.0 1141.1 L888.7 1141.5 L892.1 1139.8 L895.6 1138.6 L899.1 1137.1 L902.4 1134.9 L906.4 1137.1 L909.9 1136.3 L913.6 1136.6 L917.1 1135.4 M927.1 1168.4 L926.1 1164.7 L924.9 1161.1 L924.6 1157.1 L923.5 1153.5 L920.0 1150.5 L919.1 1146.8 L920.2 1142.5 L918.0 1139.1 L917.1 1135.4 M977.0 1219.3 L976.2 1215.8 L977.2 1212.2 L979.0 1208.7 L979.3 1205.2 L976.8 1201.6 L976.2 1198.1 L975.8 1194.5 L977.0 1191.0 M1015.4 1212.7 L1014.4 1208.8 L1013.2 1205.0 L1012.5 1200.9 L1006.6 1199.3 L1006.0 1195.2 L1005.5 1191.0 M1005.5 1191.0 L1002.0 1190.6 L998.4 1189.3 L994.8 1189.7 L991.3 1189.1 L987.7 1191.2 L984.1 1193.6 L980.6 1191.9 L977.0 1191.0 M1055.5 1191.9 L1053.8 1188.8 L1052.3 1185.4 L1049.6 1182.8 L1049.1 1179.0 L1046.7 1176.2 M1046.8 1176.2 L1043.2 1175.0 L1039.8 1172.9 L1035.8 1174.2 L1031.9 1174.6 L1028.2 1174.3 L1025.1 1170.9 L1021.4 1170.4 L1017.7 1169.8 L1014.0 1169.6 M1005.5 1191.0 L1005.9 1187.0 L1008.8 1184.1 L1010.8 1180.7 L1012.4 1177.2 L1012.7 1173.2 L1014.0 1169.6 M1005.0 1117.0 L1005.1 1120.5 L1004.4 1124.0 L1002.0 1127.3 L1003.1 1130.9 L1003.9 1134.5 L1002.7 1137.9 L1004.9 1141.6 L1003.3 1145.0 L1002.3 1148.4 M1005.0 1117.0 L1008.6 1118.0 L1011.8 1119.9 L1014.9 1122.2 L1018.8 1122.4 L1023.0 1121.7 L1026.3 1123.5 L1029.2 1126.4 L1032.8 1127.4 L1036.4 1128.4 L1039.5 1130.7 L1043.2 1131.4 L1047.3 1130.8 L1050.7 1132.4 L1053.7 1135.1 L1057.3 1135.9 M1046.8 1176.2 L1048.8 1172.8 L1049.4 1169.0 L1048.6 1164.9 L1050.3 1161.4 L1050.5 1157.6 L1052.8 1154.3 L1056.1 1151.2 L1054.6 1146.9 L1054.7 1143.0 L1055.8 1139.4 L1057.3 1135.9 M1014.0 1169.6 L1013.3 1165.4 L1010.0 1162.6 L1008.5 1158.8 L1005.9 1155.7 L1005.2 1151.5 L1002.3 1148.4 M532.7 896.0 L531.7 892.4 L530.1 889.1 L528.5 885.7 L525.1 882.9 L527.1 878.3 L527.6 874.3 L524.2 871.5 L524.8 867.4 L521.2 864.7 L518.8 861.6 L519.3 857.5 L518.2 854.0 M543.9 901.1 L548.8 901.4 L552.3 897.7 L556.6 896.3 M518.2 854.0 L521.6 852.6 L525.2 852.0 L529.5 853.7 L532.1 849.6 L535.2 846.9 L539.3 848.3 L542.7 846.7 L546.3 846.0 M546.3 846.0 L549.2 848.6 L551.9 851.3 L554.6 854.2 L556.7 857.6 L559.2 860.6 L563.6 861.5 L566.6 864.0 L569.2 866.9 M556.6 896.3 L558.2 893.2 L561.4 890.6 L559.4 885.9 L560.7 882.6 L562.9 879.7 L563.4 876.0 L568.5 874.3 L568.2 870.3 L569.2 866.9 M553.6 993.6 L556.5 996.7 L560.1 999.0 L562.7 1002.3 L564.9 1006.0 L568.4 1008.4 M553.6 993.6 L550.8 995.7 L547.7 997.5 L545.3 1000.1 L542.8 1002.6 L539.7 1004.3 L537.0 1006.6 L534.1 1008.6 L530.5 1009.7 L527.7 1011.8 L525.7 1015.0 L522.6 1016.7 L520.3 1019.5 L517.9 1022.2 L514.5 1023.6 L510.6 1024.2 L508.6 1027.4 L505.0 1028.5 L502.5 1031.0 L500.7 1034.4 L498.5 1037.4 L494.4 1037.8 L492.3 1040.9 L488.6 1041.8 L484.9 1042.8 L482.5 1045.4 L481.1 1049.4 L477.5 1050.5 L475.7 1054.0 L473.2 1056.4 L468.9 1056.6 L465.3 1057.6 L463.3 1060.9 L459.9 1062.2 L457.5 1064.8 L456.6 1069.5 L453.2 1070.9 L449.5 1071.8 L446.9 1074.1 L443.4 1075.4 L439.1 1075.5 L438.3 1080.3 L435.9 1083.0 L433.1 1085.1 L430.6 1087.7 L428.4 1090.5 L422.8 1088.9 L420.6 1091.9 L417.9 1094.2 L415.2 1096.4 L412.7 1099.0 L412.2 1104.2 L407.6 1103.9 L404.5 1105.6 L401.5 1107.5 L397.9 1108.6 L394.2 1109.5 L393.8 1114.8 L391.1 1117.0 L388.0 1118.8 L386.0 1121.9 L382.5 1123.2 L377.6 1122.5 L375.4 1125.4 L373.4 1128.6 L369.9 1129.8 L368.7 1134.2 L366.7 1137.3 L362.6 1137.7 L358.8 1138.5 L356.8 1141.7 L352.1 1141.3 L350.2 1144.6 L348.8 1148.6 L346.4 1151.3 L342.6 1152.1 L341.1 1156.0 L336.4 1155.6 L332.8 1156.6 L330.5 1159.4 L328.6 1162.8 L325.0 1163.9 L324.2 1168.6 L321.1 1170.4 L317.0 1170.8 L313.8 1172.4 L311.4 1175.0 L307.4 1175.5 L305.6 1179.0 L304.1 1182.9 L300.8 1184.3 L297.8 1186.2 L295.3 1188.7 L291.3 1189.3 L287.8 1190.4 L286.2 1194.2 L283.3 1196.2 L280.7 1198.6 L278.6 1201.7 L275.7 1203.7 L271.5 1204.0 L269.2 1206.8 L266.0 1208.4 L263.1 1210.4 L260.8 1213.2 L258.9 1216.4 L255.3 1217.5 L252.7 1220.0 L249.7 1221.8 L246.5 1223.3 L243.5 1225.3 L241.3 1228.2 L238.3 1230.1 L235.6 1232.3 L232.7 1234.3 M568.4 1008.4 L566.5 1011.4 L565.1 1014.7 L564.8 1018.5 L562.7 1021.5 L560.7 1024.5 L558.4 1027.3 L557.1 1030.7 L554.3 1033.3 L555.3 1037.7 L554.8 1041.5 L551.3 1043.7 L550.4 1047.3 L547.2 1049.7 L545.1 1052.6 L543.9 1056.0 L545.7 1060.9 L543.1 1063.6 L540.8 1066.4 L540.1 1070.0 L534.9 1071.5 L534.3 1075.2 L534.3 1079.1 L534.5 1083.2 L531.7 1085.8 L531.1 1089.5 L528.1 1092.0 L523.5 1093.7 L524.9 1098.4 L523.5 1101.7 L522.8 1105.3 L521.5 1108.6 L520.0 1111.9 L515.9 1113.9 L514.0 1116.9 L514.6 1121.2 L512.1 1123.9 L512.2 1127.9 L510.6 1131.1 L508.0 1133.8 L505.6 1136.6 L504.6 1140.1 L503.3 1143.4 L501.8 1146.7 M552.3 969.0 L552.9 972.5 L553.6 976.0 L554.5 979.5 L550.9 983.2 L551.7 986.7 L554.6 990.1 L553.6 993.6 M608.5 1003.5 L605.1 1001.5 L601.1 1000.5 L600.1 994.8 L595.2 995.1 L591.9 992.9 L588.7 990.6 M608.5 1003.5 L606.8 1006.8 L603.8 1008.9 L599.2 1009.4 L598.7 1014.0 L596.3 1016.7 L593.5 1018.8 L590.8 1021.2 M588.7 990.6 L587.5 994.5 L584.0 996.3 L581.6 999.1 L578.0 1001.0 L577.8 1005.6 L574.3 1007.5 M590.8 1021.2 L588.9 1017.9 L584.8 1017.2 L580.4 1016.9 L579.6 1012.3 L578.1 1008.6 L574.3 1007.5 M556.2 962.9 L559.5 964.9 L563.8 964.7 L566.8 967.3 L569.7 970.0 L573.7 970.6 L576.6 973.3 L580.5 974.0 L584.5 974.4 L587.5 977.1 M587.5 977.1 L585.8 981.8 L587.8 986.2 L588.7 990.6 M568.4 1008.4 L571.6 1009.6 L574.3 1007.5 M599.3 1069.1 L598.2 1065.5 L597.0 1061.9 L598.5 1057.9 L597.6 1054.2 L595.1 1050.9 L595.5 1047.0 L594.5 1043.4 L593.0 1039.8 L594.8 1035.7 L593.7 1032.1 L590.6 1028.9 L591.2 1025.0 L590.8 1021.2 M599.3 1069.1 L600.5 1065.6 L602.4 1062.4 L604.3 1059.3 L603.9 1055.1 L605.9 1051.9 L609.5 1049.5 L610.0 1045.7 L611.2 1042.2 L614.0 1039.4 L614.5 1035.7 L614.6 1031.7 L616.5 1028.5 L618.9 1025.5 L620.2 1022.1 L621.6 1018.6 L623.9 1015.6 L625.2 1012.2 L626.2 1008.6 M628.6 1079.1 L629.6 1075.7 L630.8 1072.3 L629.9 1068.4 L632.0 1065.3 L632.2 1061.7 L634.6 1058.7 L638.2 1056.0 L636.3 1051.8 L637.9 1048.6 L638.0 1044.9 L637.9 1041.2 L640.7 1038.3 L639.2 1034.2 L640.9 1031.0 L643.2 1027.9 L643.9 1024.4 L644.8 1021.0 M626.2 1008.6 L629.4 1010.6 L631.4 1014.3 L635.7 1014.6 L639.3 1015.8 L641.6 1019.0 L644.7 1021.0 M608.5 1003.5 L612.5 1004.0 L616.5 1002.7 L620.5 1003.7 L624.5 1003.5 M626.2 1008.6 L629.0 1004.9 L624.5 1003.5 M571.5 469.8 L575.0 470.8 L578.4 471.9 L582.0 472.9 L584.0 477.2 L586.6 480.2 L591.2 478.8 L595.1 479.1 L598.1 481.2 L601.1 483.2 M651.0 409.1 L650.8 412.6 L651.1 416.2 L651.7 419.7 L652.3 423.3 L650.9 426.8 L648.5 430.4 L649.8 433.9 L653.0 437.5 L652.6 441.0 L650.4 444.6 L651.0 448.1 M601.1 483.2 L603.7 480.6 L606.7 478.7 L610.3 477.5 L613.6 476.1 L616.1 473.3 L618.0 469.8 L620.9 467.7 L624.8 467.0 L628.2 465.6 L631.1 463.4 L633.4 460.5 L635.4 457.1 L638.6 455.4 L643.0 455.5 L646.0 453.5 L647.8 449.8 L651.0 448.1 M696.0 384.8 L699.3 387.2 L698.5 392.4 L703.9 393.5 L704.6 397.7 M704.6 397.7 L703.6 402.7 L705.1 407.6 M705.1 407.6 L703.2 410.7 L700.9 413.4 L697.0 415.0 L696.1 418.9 L693.2 421.1 L691.8 424.6 L691.3 428.8 L687.5 430.3 L685.8 433.6 L682.4 435.5 L679.2 437.6 L678.1 441.2 L675.8 444.0 L674.3 447.4 L672.1 450.3 L669.5 452.7 M669.5 452.7 L665.3 453.7 L662.2 450.2 L658.8 448.5 L655.2 447.1 L651.0 448.1 M601.1 483.2 L603.9 485.9 L605.4 489.5 L608.3 492.0 L610.4 495.1 L612.7 498.1 L615.4 500.7 L618.1 503.4 L621.4 505.5 L621.9 510.0 L623.4 513.6 L627.9 514.8 L630.0 517.9 L632.0 521.1 M632.0 521.1 L635.2 519.4 L638.4 517.7 L641.4 515.6 L643.0 511.4 L647.0 511.0 L651.8 511.8 L653.4 507.5 L656.2 505.2 L659.6 503.7 L661.4 499.9 L666.0 500.3 L670.1 500.0 L671.6 495.6 L674.3 493.1 L677.6 491.6 L681.0 490.1 L684.0 488.2 M669.5 452.7 L672.6 455.2 L674.3 459.1 L676.8 462.2 L680.5 464.2 M680.5 464.2 L681.2 468.1 L683.3 471.9 L684.2 475.9 L680.6 480.5 L683.8 484.1 L684.0 488.2 M1243.9 755.4 L1240.4 753.8 L1236.6 752.5 L1233.8 749.4 L1230.0 748.3 L1226.2 747.1 L1222.4 746.2 L1219.2 743.8 M1219.2 743.8 L1215.7 744.8 L1212.7 746.6 L1209.4 747.8 L1206.3 749.4 L1204.1 752.9 L1201.3 755.0 L1197.8 755.8 L1194.9 758.0 L1191.6 759.1 L1187.4 758.7 L1184.4 760.5 L1181.6 762.8 L1178.4 764.1 L1175.6 766.4 L1172.5 768.1 M1172.5 768.1 L1174.1 771.3 L1175.3 774.6 L1177.3 777.5 L1178.6 780.8 L1180.2 783.9 L1182.4 786.7 L1184.1 789.8 L1186.9 792.3 L1187.8 795.8 L1188.5 799.4 L1190.3 802.4 L1191.1 806.0 L1193.2 808.8 L1194.1 812.3 L1195.6 815.5 L1199.2 817.6 L1200.8 820.7 L1203.2 823.4 L1203.9 827.0 L1204.7 830.5 L1207.2 833.2 L1207.1 837.2 L1208.5 840.4 L1210.0 843.6 L1212.0 846.5 L1215.9 848.4 L1216.8 851.9 L1218.7 854.9 L1220.5 857.9 L1221.4 861.4 L1223.5 864.3 L1222.9 868.5 L1224.3 871.8 L1226.8 874.4 L1228.6 877.4 L1231.6 879.8 L1232.4 883.3 L1234.6 886.2 L1237.1 888.8 L1237.5 892.6 L1238.9 895.8 L1239.3 899.6 L1241.1 902.6 L1243.6 905.2 L1244.7 908.6 L1247.0 911.4 L1248.7 914.4 L1250.7 917.4 L1252.5 920.4 L1253.3 923.9 L1254.9 927.0 L1256.6 930.1 M857.8 294.8 L858.9 298.5 L860.7 301.6 L865.3 302.4 L868.4 304.5 L870.3 307.5 L871.4 311.2 M857.8 294.8 L854.7 292.6 L850.3 294.3 L847.6 291.0 L844.1 290.1 M871.4 311.2 L868.7 313.8 L864.9 314.7 L861.0 315.3 L858.7 318.6 L855.5 320.4 L853.6 324.5 L849.5 324.8 L846.1 326.3 L841.6 325.9 L839.8 330.2 L837.1 332.8 L833.5 333.9 M844.1 290.1 L840.8 292.2 L837.4 294.1 L833.3 294.8 L831.1 298.8 L828.2 301.5 L823.5 301.1 L820.8 304.3 L817.4 306.2 M817.4 306.2 L819.0 309.3 L821.6 311.9 L824.9 314.2 L824.5 318.5 L825.1 322.3 L826.3 325.7 L829.5 328.0 L832.9 330.1 L833.5 333.9 M936.4 153.3 L934.9 156.5 L933.5 159.7 L932.0 162.9 L930.0 165.8 L927.8 168.6 L925.8 171.6 L924.0 174.6 L921.6 177.3 L919.3 180.0 L918.8 183.8 L919.6 188.2 L918.3 191.6 L914.7 193.6 L911.8 196.0 L910.7 199.4 L908.9 202.4 L905.6 204.6 L903.3 207.4 L903.4 211.4 L903.7 215.7 L902.8 219.1 L900.6 222.0 L897.6 224.3 L894.4 226.6 L892.3 229.4 L891.2 232.8 L889.3 235.8 L887.0 238.6 L886.7 242.4 L887.6 247.0 L886.3 250.3 L882.1 252.0 L878.6 254.1 L877.4 257.4 L876.2 260.8 L873.8 263.5 L872.0 266.5 L871.5 270.2 L870.9 274.0 L869.4 277.1 L867.1 279.9 L864.6 282.5 L862.2 285.2 L860.6 288.3 L859.3 291.7 L857.8 294.8 M888.7 310.9 L886.3 313.1 L883.4 314.8 M883.4 314.8 L879.4 313.3 L875.7 311.3 L871.4 311.2 M836.9 246.8 L838.2 250.3 L838.7 253.9 L838.8 257.6 L837.8 261.5 L839.3 265.0 L840.4 268.5 L843.2 271.7 L842.8 275.5 L840.6 279.6 L841.7 283.1 L843.6 286.5 L844.1 290.1 M784.1 293.4 L787.1 295.5 L791.1 295.2 L794.5 296.2 L797.5 298.3 L801.5 297.8 L803.7 301.9 L807.0 303.3 L810.6 304.0 L813.7 306.0 L817.4 306.2 M777.3 1074.7 L778.9 1077.9 L781.1 1080.7 L784.6 1082.6 L785.3 1086.4 L787.1 1089.5 L788.8 1092.6 L791.3 1095.2 M777.3 1074.7 L778.0 1071.1 L776.9 1067.4 L779.3 1063.8 L776.8 1060.1 L777.3 1056.5 L777.8 1052.9 M791.3 1095.2 L794.6 1093.6 L798.3 1092.9 L801.7 1091.5 L805.1 1090.2 L807.8 1087.3 L810.7 1084.7 L814.2 1083.6 L817.3 1081.6 L821.5 1082.0 L825.2 1081.3 L828.2 1079.0 L831.7 1077.9 L834.5 1075.2 L838.0 1073.9 M777.8 1052.9 L781.1 1051.0 L784.9 1050.2 L788.6 1049.4 L791.7 1046.9 L795.1 1045.4 L798.6 1044.0 L801.9 1042.2 L805.7 1041.4 L809.1 1039.8 M809.1 1039.8 L812.4 1041.5 L814.7 1044.5 L817.4 1047.1 L820.5 1049.1 L823.2 1051.5 L827.5 1051.7 L829.9 1054.8 L833.9 1055.4 L835.7 1059.1 L839.1 1060.7 L841.5 1063.6 L844.7 1065.4 M844.7 1065.4 L843.6 1069.2 L839.6 1070.6 L838.0 1073.9 M739.9 1080.7 L743.7 1080.3 L747.3 1078.6 L751.1 1078.4 L754.8 1078.1 L758.8 1079.1 L762.3 1077.1 L766.1 1076.9 L769.7 1075.1 L773.5 1075.2 L777.3 1074.7 M784.8 1112.8 L787.8 1109.9 L786.8 1105.5 L788.0 1102.0 L789.8 1098.6 L791.3 1095.2 M765.1 1044.1 L768.8 1045.5 L770.3 1050.1 L775.2 1049.8 L777.8 1052.9 M835.1 1128.8 L835.7 1125.1 L836.5 1121.5 L836.7 1117.8 L835.5 1114.1 L836.7 1110.5 L833.0 1106.7 L833.9 1103.0 L836.8 1099.5 L836.8 1095.9 L839.4 1092.3 L837.7 1088.6 L838.5 1085.0 L838.7 1081.3 L836.8 1077.5 L838.0 1073.9 M761.4 1017.1 L764.8 1016.1 L768.2 1015.2 L771.9 1015.9 L775.5 1015.8 L778.3 1012.3 L781.7 1011.4 L785.6 1012.9 L788.8 1011.1 L792.2 1010.1 L796.0 1011.2 L799.1 1009.3 L802.5 1008.4 M802.5 1008.4 L803.6 1011.8 L804.4 1015.3 L802.9 1019.3 L804.7 1022.5 L806.5 1025.8 L807.0 1029.3 L808.7 1032.6 L808.8 1036.3 L809.1 1039.8 M1150.2 1100.1 L1147.5 1103.2 L1143.2 1103.4 L1139.7 1105.2 L1136.3 1107.1 L1133.6 1110.1 M1133.6 1110.1 L1133.5 1113.6 L1134.3 1117.1 L1132.9 1120.7 L1134.0 1124.2 L1135.2 1127.7 L1136.1 1131.2 L1133.3 1134.8 L1134.8 1138.3 L1135.3 1141.8 L1132.9 1145.4 L1136.4 1148.8 L1136.9 1152.3 L1136.1 1155.9 L1134.4 1159.5 L1136.4 1163.0 L1135.6 1166.5 L1135.0 1170.1 L1137.8 1173.5 L1136.9 1177.1 L1136.6 1180.6 L1136.9 1184.2 M1072.1 1286.8 L1073.7 1283.6 L1075.9 1280.8 L1077.9 1277.8 L1079.0 1274.3 L1080.6 1271.1 L1082.5 1268.1 L1083.6 1264.7 L1086.4 1262.2 L1089.0 1259.5 L1090.4 1256.2 L1090.7 1252.3 L1093.3 1249.7 L1094.1 1246.1 L1096.4 1243.3 L1099.3 1240.8 L1101.8 1238.1 L1101.7 1234.0 L1103.5 1230.9 L1105.3 1227.9 L1106.5 1224.5 L1109.2 1221.9 L1112.1 1219.5 L1113.3 1216.0 L1113.7 1212.2 L1116.2 1209.5 L1117.3 1206.0 L1119.5 1203.2 L1121.9 1200.4 L1124.1 1197.6 L1124.8 1193.9 L1126.7 1190.9 L1128.5 1187.8 L1130.3 1184.8 M1067.1 1196.0 L1070.7 1195.0 L1074.1 1193.5 L1078.0 1193.9 L1081.6 1192.9 L1084.2 1189.0 L1087.8 1188.2 L1092.0 1189.1 L1095.1 1186.9 L1098.7 1185.9 L1102.9 1187.0 L1106.0 1184.7 L1109.0 1181.8 L1112.8 1181.7 L1116.4 1180.8 M873.2 1140.4 L873.7 1136.9 L872.9 1133.0 L874.0 1129.6 L876.6 1126.4 L877.8 1122.9 L878.0 1119.3 L877.3 1115.5 L876.2 1111.6 L877.9 1108.2 L880.6 1105.0 L880.1 1101.3 M917.1 1135.4 L918.6 1131.9 L919.4 1127.9 L924.7 1126.8 L926.4 1123.5 L926.8 1119.2 L929.3 1116.3 L931.3 1113.1 L933.7 1110.2 M880.1 1101.3 L883.6 1102.6 L887.3 1102.3 L890.8 1103.4 L894.4 1103.9 L898.3 1102.6 L901.7 1104.1 L904.7 1107.8 L908.5 1106.8 L912.5 1104.9 L915.8 1107.4 L919.5 1107.3 L923.0 1108.2 L926.4 1109.9 L930.0 1110.1 L933.7 1110.2 M976.5 1167.6 L974.5 1171.0 L976.1 1174.7 L976.1 1178.3 L977.1 1182.0 L975.1 1185.4 L975.2 1189.1 M976.5 1167.6 L973.6 1165.3 L969.8 1164.8 L966.3 1163.8 L963.4 1161.4 L960.4 1159.2 L957.3 1157.3 L953.7 1156.6 M975.2 1189.1 L971.3 1188.1 L967.6 1190.5 L963.8 1190.7 L960.0 1191.6 L956.0 1189.5 L952.2 1190.6 M952.2 1190.6 L949.7 1187.7 L947.0 1185.0 L946.4 1180.8 L943.4 1178.2 L939.0 1176.7 L938.6 1172.4 L936.7 1169.0 M936.7 1169.0 L939.9 1167.4 L941.3 1163.4 L945.4 1163.1 L948.2 1161.0 L950.7 1158.5 L953.7 1156.6 M1002.3 1148.4 L998.9 1149.8 L996.4 1152.4 L994.6 1156.0 L990.9 1157.0 L988.4 1159.6 L984.3 1160.0 L981.9 1162.8 L979.7 1165.8 L976.5 1167.6 M977.0 1191.0 L975.2 1189.1 M992.0 1094.5 L988.3 1095.9 L984.5 1093.2 L980.9 1094.3 L977.2 1095.1 L973.6 1096.3 L970.0 1098.1 L966.1 1095.3 L962.5 1096.4 M992.0 1094.5 L994.5 1097.3 L996.0 1100.7 L997.2 1104.4 L998.9 1107.6 L1000.2 1111.2 L1003.5 1113.6 L1005.0 1117.0 M962.5 1096.4 L961.8 1099.9 L960.6 1103.3 L962.2 1107.2 L959.9 1110.5 L961.1 1114.3 L959.4 1117.6 L957.8 1121.0 L957.6 1124.6 L958.4 1128.3 L956.4 1131.7 L959.0 1135.7 L955.9 1138.8 L955.5 1142.4 L955.0 1145.9 L954.1 1149.4 L954.1 1153.0 L953.7 1156.6 M942.6 1212.3 L944.6 1208.9 L946.2 1205.2 L946.6 1201.1 L948.9 1197.8 L949.7 1193.8 L952.2 1190.6 M927.1 1168.4 L932.0 1167.8 L936.7 1169.0 M962.5 1096.4 L960.3 1096.5 L958.5 1095.3 M933.7 1110.2 L936.0 1107.0 L939.1 1105.3 L943.6 1105.6 L946.7 1103.9 L949.6 1101.7 L951.8 1098.3 L954.5 1095.8 L958.5 1095.3 M747.1 994.8 L751.2 993.7 L753.1 989.9 L755.6 986.8 L758.3 984.0 L761.5 981.8 L765.0 979.9 M802.5 1008.4 L803.6 1003.6 L806.3 999.4 M806.3 999.4 L804.4 996.2 L804.5 992.0 L800.3 989.8 L800.1 985.8 M800.1 985.8 L796.6 984.9 L792.9 985.3 L789.2 985.9 L785.9 984.4 L782.9 980.5 L779.4 979.8 L775.3 982.8 L771.7 983.0 L768.5 980.6 L765.0 979.9 M742.9 992.5 L740.8 989.3 L740.1 985.4 L738.5 982.0 L734.3 980.1 L732.2 977.0 L731.0 973.3 L727.8 970.9 L727.0 966.9 L726.9 962.6 L723.8 960.1 L721.4 957.1 M740.6 942.3 L737.7 945.2 L733.6 946.4 L730.8 949.4 L726.4 950.3 L724.8 954.9 L721.4 957.1 M740.6 942.3 L743.0 945.3 L746.8 946.3 L751.2 946.4 L752.7 950.8 L755.6 953.0 L758.8 954.8 L761.1 958.0 L765.0 958.9 M765.0 979.9 L763.7 975.7 L764.4 971.5 L764.8 967.3 L765.0 963.1 L765.0 958.9 M800.1 985.8 L800.8 982.2 L799.5 978.3 L801.3 974.8 L803.6 971.5 L804.4 967.9 L803.4 964.1 L802.5 960.2 L804.0 956.8 L806.3 953.4 L805.9 949.7 M765.0 958.9 L768.0 957.1 L771.1 955.3 L774.2 953.6 L777.9 953.2 L780.9 951.2 L783.8 949.1 L786.9 947.5 L789.5 944.7 L793.2 944.3 L796.8 943.6 L799.5 941.0 M799.5 941.0 L802.2 943.4 L803.7 946.8 L805.9 949.7 M711.9 1002.4 L709.7 999.5 L706.9 997.0 L706.3 993.2 L704.7 990.0 L703.7 986.4 L702.4 983.0 L699.8 980.3 L697.6 977.5 M721.4 957.1 L717.5 959.3 L713.8 955.0 L710.0 956.7 M697.6 977.5 L699.8 974.1 L700.3 969.7 L704.9 967.8 L706.0 963.7 L708.3 960.4 L710.0 956.7 M680.0 1046.6 L679.2 1042.8 L680.7 1039.1 L680.5 1035.4 L680.2 1031.7 L680.0 1027.9 M644.8 1021.0 L648.8 1020.5 L652.8 1019.5 L656.8 1022.5 L660.9 1022.6 L664.9 1019.3 L668.9 1021.0 M668.9 1021.0 L672.4 1023.6 L676.3 1025.6 L680.0 1027.9 M705.3 1017.2 L702.0 1019.8 L697.7 1019.6 L693.8 1020.4 L690.1 1021.9 L686.3 1023.1 L682.9 1025.4 M682.9 1025.4 L680.0 1027.9 M697.6 977.5 L694.3 979.5 L691.0 981.8 L687.0 982.5 M682.9 1025.4 L683.2 1021.8 L683.2 1018.2 L683.1 1014.6 L685.0 1011.2 L685.6 1007.6 L685.1 1004.0 L683.6 1000.2 L686.2 996.8 L685.3 993.2 L687.3 989.7 L687.0 986.1 L687.0 982.5 M587.5 977.1 L590.8 975.7 L594.8 975.3 L597.2 972.3 L600.5 970.7 L601.8 965.9 L605.2 964.5 L609.2 964.1 M609.2 964.1 L613.6 964.2 L615.9 968.4 L619.4 970.2 L623.2 971.6 L627.6 971.5 L630.5 974.7 M624.5 1003.5 L625.6 999.7 L626.6 995.8 L631.2 993.4 L631.1 989.1 L631.5 985.0 L633.3 981.5 M630.5 974.7 L631.4 978.3 L633.3 981.5 M668.9 1021.0 L668.0 1017.4 L667.1 1013.8 L665.2 1010.5 L663.2 1007.3 L663.3 1003.3 L662.3 999.8 L662.4 995.9 L659.6 992.9 L658.4 989.4 L657.6 985.7 M633.3 981.5 L636.8 981.8 L640.1 983.4 L643.2 986.0 L647.2 983.8 L651.1 981.9 L654.2 984.9 L657.6 985.7 M687.0 982.5 L683.4 981.0 L679.6 981.2 L675.7 982.2 L672.1 980.7 L668.5 979.6 M657.6 985.7 L662.0 985.0 L664.2 980.4 L668.5 979.6 M555.6 951.2 L558.5 948.9 L562.3 948.2 L566.0 947.1 L567.7 943.1 L570.4 940.7 L573.6 938.9 L575.5 935.2 L579.0 933.8 L583.1 933.4 L586.2 931.5 L589.4 929.8 L591.8 926.8 M556.6 896.3 L559.8 898.3 L562.9 900.6 L566.7 901.6 L570.8 902.0 L572.6 906.5 L575.8 908.6 L579.1 910.4 L581.7 913.4 L586.0 913.6 L589.1 915.8 M589.1 915.8 L590.3 919.4 L590.9 923.2 L591.8 926.8 M609.2 964.1 L607.7 960.7 L607.9 956.7 L607.1 953.1 L606.6 949.4 L604.4 946.2 L602.2 942.9 L602.7 939.0 L600.9 935.6 L600.7 931.8 M591.8 926.8 L597.0 928.0 L600.7 931.8 M527.4 599.0 L530.9 598.1 L534.3 596.9 L537.9 596.1 L541.1 594.0 L545.2 595.5 L549.0 595.8 L551.4 590.6 L555.3 591.3 L558.9 590.9 L562.4 589.6 L566.4 590.6 L569.5 588.1 L572.6 585.9 L576.4 586.2 L580.0 585.4 M632.0 521.1 L634.6 522.9 L633.1 525.6 M633.1 525.6 L630.3 528.0 L628.3 531.1 L626.7 534.6 L623.9 536.9 L620.3 538.6 L617.9 541.3 L615.8 544.3 L613.8 547.4 L612.4 551.0 L610.0 553.7 L605.7 554.8 L602.6 556.8 L601.6 560.9 L600.0 564.3 L597.3 566.8 L595.0 569.5 L591.9 571.7 L588.5 573.5 L586.8 576.9 L585.5 580.5 L582.7 582.9 L580.0 585.4 M673.3 564.0 L670.1 561.9 L667.8 559.0 L665.4 556.2 L662.4 553.9 L661.2 549.8 L656.9 548.9 L654.7 545.9 L651.1 544.3 L648.7 541.4 L646.0 538.9 L644.6 535.0 L641.1 533.3 L639.0 530.1 L635.7 528.3 L633.1 525.6 M673.3 564.0 L673.9 567.6 L672.5 571.0 L670.9 574.4 L670.7 577.9 L670.4 581.4 L671.0 585.1 M580.0 585.4 L583.3 586.9 L586.4 588.8 L590.3 589.1 L593.9 590.1 L596.5 593.0 L598.3 597.4 L602.5 597.1 L605.3 599.8 L608.8 600.8 L612.3 601.9 M671.0 585.1 L669.0 586.5 L667.0 587.9 M612.3 601.9 L615.6 600.3 L618.9 599.0 L622.2 597.9 L626.5 600.3 L629.8 598.9 L633.3 598.3 L636.3 596.1 L640.1 596.6 L642.9 593.4 L645.9 590.7 L649.3 589.8 L653.2 590.9 L656.9 591.3 L660.2 589.6 L663.7 589.4 L667.0 587.9 M752.3 325.2 L754.4 328.1 L756.6 330.9 L760.0 332.7 L761.5 336.0 L763.2 339.2 L766.2 341.3 L767.3 345.0 L769.9 347.5 L771.7 350.6 L774.5 352.9 M704.6 397.7 L708.2 397.7 L711.6 399.0 L714.9 400.9 L718.6 399.7 L722.1 400.1 L725.8 399.3 L729.3 400.3 L732.4 403.4 L735.8 404.1 L739.6 402.8 L743.1 402.9 L746.8 402.0 L750.1 404.0 L753.2 407.1 L757.0 405.9 L760.5 406.5 L764.2 405.6 L767.7 406.1 L771.0 407.9 L774.5 408.1 M774.5 408.1 L775.1 404.4 L775.1 400.8 L773.8 397.1 L773.8 393.4 L774.6 389.7 L774.5 386.0 L774.8 382.3 L775.4 378.7 L774.2 375.0 L773.3 371.3 L774.7 367.6 L775.4 363.9 L774.4 360.2 L774.2 356.6 L774.5 352.9 M833.3 337.6 L833.5 333.9 M833.3 337.6 L830.1 339.4 L827.0 341.1 L823.0 341.3 L819.1 341.4 L816.9 345.1 L814.9 349.1 L811.3 350.0 L807.8 351.1 L804.7 352.8 L800.9 353.3 L797.9 355.3 M774.5 352.9 L778.5 352.7 L782.6 350.7 L786.2 354.4 L789.9 356.1 L794.1 353.9 L797.9 355.3 M1125.9 425.7 L1122.3 426.9 L1118.7 428.2 L1114.5 425.9 L1111.1 428.3 L1107.3 428.6 M1125.9 425.7 L1127.9 422.8 L1129.1 419.2 L1132.4 417.3 L1136.0 415.6 L1137.1 412.0 L1139.5 409.4 L1140.6 405.8 L1141.6 402.1 L1144.9 400.2 L1147.6 397.8 L1149.5 394.8 M1107.3 428.6 L1103.4 428.1 L1099.7 427.2 L1096.6 424.6 L1093.6 421.6 L1089.4 421.9 M1089.4 421.9 L1087.9 418.7 L1086.7 415.4 L1086.3 411.8 L1084.3 408.8 L1084.2 405.1 L1084.5 401.3 L1080.6 398.9 L1078.5 395.9 L1079.9 391.7 L1078.7 388.4 L1077.2 385.2 L1076.7 381.6 L1074.2 378.8 L1072.7 375.5 L1072.8 371.8 L1071.6 368.5 L1070.5 365.2 L1069.2 361.9 M1147.9 367.6 L1146.9 371.6 L1147.3 375.5 L1150.5 379.2 L1149.6 383.1 L1150.7 387.0 L1148.5 391.0 L1149.5 394.8 M1147.9 367.6 L1145.2 365.0 L1141.5 364.0 L1138.8 361.3 L1135.8 359.2 L1131.6 358.9 L1129.4 355.5 L1127.5 351.9 L1123.7 350.8 L1121.0 348.3 L1118.5 345.4 L1114.4 344.9 L1110.9 343.4 L1108.4 340.5 L1105.3 338.6 L1102.4 336.2 M1069.2 361.9 L1070.7 358.7 L1073.1 356.0 L1074.4 352.5 L1076.7 349.7 L1079.9 347.5 L1080.7 343.8 L1082.7 340.9 M1102.4 336.2 L1098.9 338.7 L1094.6 338.5 L1090.6 339.2 L1086.5 339.3 L1082.7 340.9 M1185.5 404.3 L1181.8 403.7 L1178.0 403.3 L1174.9 400.5 L1171.2 399.9 L1167.9 397.9 L1164.0 398.1 L1160.2 398.3 L1156.6 397.3 L1152.9 396.8 L1149.5 394.8 M1230.2 463.9 L1226.6 463.5 L1222.9 464.1 L1219.3 463.5 L1215.7 463.7 L1212.4 460.3 L1208.8 460.1 L1204.8 462.9 L1201.4 461.4 L1197.6 462.9 L1194.1 461.2 L1190.8 457.5 L1187.0 459.1 L1183.4 459.0 L1179.6 461.0 L1175.9 461.2 L1172.7 456.8 L1169.0 457.4 L1165.4 457.2 L1161.8 457.0 L1158.0 458.6 L1154.5 457.1 L1150.9 456.5 M1150.9 456.5 L1148.6 453.7 L1146.1 451.1 L1143.1 448.9 L1141.4 445.6 L1140.6 441.6 L1137.4 439.6 L1136.5 435.7 L1132.0 434.7 L1129.8 431.8 L1128.2 428.5 L1125.9 425.7 M2446.6 -2262.6 L2445.0 -2259.5 L2443.3 -2256.4 L2441.7 -2253.3 L2440.4 -2250.0 L2438.7 -2246.9 L2437.0 -2243.9 L2435.1 -2240.9 L2433.7 -2237.7 L2432.1 -2234.6 L2430.6 -2231.4 L2429.1 -2228.2 L2427.6 -2225.1 L2425.5 -2222.2 L2423.6 -2219.2 L2422.4 -2215.9 L2421.2 -2212.6 L2419.6 -2209.5 L2417.6 -2206.6 L2416.1 -2203.4 L2414.1 -2200.5 L2412.6 -2197.3 L2411.0 -2194.2 L2410.3 -2190.6 L2408.3 -2187.7 L2406.3 -2184.8 L2404.1 -2182.0 L2403.1 -2178.5 L2401.5 -2175.4 L2400.1 -2172.2 L2398.7 -2169.0 L2397.1 -2165.9 L2394.8 -2163.1 L2392.7 -2160.3 L2391.8 -2156.8 L2390.8 -2153.4 L2389.3 -2150.2 L2386.8 -2147.5 L2385.5 -2144.3 L2383.4 -2141.4 L2382.0 -2138.2 L2380.3 -2135.1 L2380.0 -2131.3 L2377.8 -2128.5 L2375.6 -2125.7 L2373.3 -2123.0 L2372.5 -2119.4 L2371.1 -2116.2 L2369.6 -2113.0 L2368.2 -2109.8 L2366.5 -2106.8 L2364.1 -2104.0 L2361.8 -2101.3 L2361.4 -2097.6 L2360.3 -2094.2 L2358.9 -2091.0 L2356.1 -2088.5 L2354.9 -2085.1 L2352.6 -2082.4 L2351.4 -2079.1 L2349.8 -2076.0 L2349.7 -2072.1 L2347.3 -2069.3 L2344.9 -2066.7 L2342.5 -2064.0 L2342.0 -2060.3 L2340.7 -2057.0 L2339.1 -2053.9 L2337.7 -2050.7 L2335.8 -2047.7 L2333.5 -2044.9 L2331.0 -2042.3 L2330.9 -2038.4 L2329.9 -2034.9 L2328.5 -2031.7 L2325.3 -2029.5 L2324.2 -2026.1 L2322.0 -2023.3 L2320.9 -2019.9 L2319.2 -2016.8 L2319.3 -2012.8 L2316.8 -2010.2 L2314.1 -2007.6 L2311.7 -2004.9 L2311.4 -2001.1 L2310.3 -1997.7 L2308.5 -1994.7 L2307.2 -1991.5 L2305.1 -1988.6 L2302.9 -1985.8 L2300.2 -1983.2 L2300.5 -1979.1 L2299.5 -1975.7 L2298.0 -1972.5 L2294.5 -1970.4 L2293.5 -1967.0 L2291.3 -1964.2 L2290.4 -1960.7 L2288.7 -1957.6 L2288.8 -1953.6 L2286.2 -1951.0 L2283.2 -1948.6 L2281.0 -1945.8 L2280.8 -1942.0 L2280.0 -1938.5 L2277.9 -1935.6 L2276.6 -1932.3 L2274.4 -1929.6 L2272.2 -1926.7 L2269.5 -1924.2 L2270.1 -1919.9 L2269.0 -1916.5 L2267.5 -1913.4 L2263.7 -1911.4 L2262.8 -1907.9 L2260.7 -1905.0 L2259.9 -1901.6 L2258.3 -1898.4 L2258.3 -1894.5 L2255.6 -1891.9 L2252.4 -1889.6 L2250.4 -1886.7 L2250.3 -1882.8 L2249.7 -1879.2 L2247.3 -1876.5 L2246.0 -1873.2 L2243.6 -1870.5 L2241.6 -1867.6 L2238.8 -1865.1 L2239.7 -1860.7 L2238.6 -1857.3 L2237.0 -1854.2 L2232.9 -1852.4 L2232.1 -1848.8 L2230.2 -1845.9 L2229.4 -1842.4 L2227.8 -1839.2 L2227.7 -1835.4 L2225.0 -1832.8 L2221.5 -1830.6 L2219.8 -1827.6 L2219.7 -1823.7 L2219.4 -1819.9 L2216.7 -1817.4 L2215.4 -1814.1 L2212.8 -1811.5 L2211.0 -1808.4 L2208.2 -1806.0 L2209.4 -1801.4 L2208.1 -1798.1 L2206.3 -1795.1 L2202.1 -1793.4 L2201.4 -1789.8 L2199.7 -1786.7 L2198.9 -1783.2 L2197.4 -1780.0 L2197.0 -1776.2 L2194.4 -1773.6 L2190.7 -1771.6 L2189.3 -1768.4 L2189.2 -1764.5 L2189.1 -1760.6 L2186.0 -1758.3 L2184.8 -1755.0 L2182.0 -1752.5 L2180.5 -1749.3 L2177.6 -1746.8 L2179.0 -1742.2 L2177.7 -1738.9 L2175.7 -1736.0 L2171.3 -1734.3 L2170.6 -1730.7 L2169.3 -1727.5 L2168.4 -1724.0 L2167.0 -1720.8 L2166.3 -1717.2 L2163.8 -1714.5 L2159.8 -1712.6 L2158.8 -1709.3 L2158.7 -1705.3 L2158.8 -1701.3 L2155.3 -1699.2 L2154.1 -1695.9 L2151.2 -1693.4 L2149.9 -1690.2 L2147.1 -1687.7 L2148.5 -1683.0 L2147.2 -1679.7 L2145.0 -1676.9 L2140.5 -1675.3 L2139.9 -1671.7 L2138.9 -1668.2 L2137.9 -1664.8 L2136.6 -1661.6 L2135.6 -1658.1 L2133.2 -1655.4 L2129.0 -1653.6 L2128.3 -1650.1 L2128.2 -1646.2 L2128.5 -1642.1 L2124.6 -1640.1 L2123.4 -1636.8 L2120.5 -1634.4 L2119.4 -1631.0 L2116.6 -1628.5 L2118.1 -1623.8 L2116.7 -1620.5 L2114.2 -1617.9 L2109.8 -1616.2 L2109.2 -1612.6 L2108.6 -1609.0 L2107.4 -1605.7 L2106.1 -1602.3 L2104.8 -1599.1 L2102.6 -1596.3 L2098.2 -1594.6 L2097.8 -1590.9 L2097.8 -1587.0 L2098.1 -1582.8 L2093.9 -1581.1 L2092.6 -1577.8 L2089.8 -1575.3 L2088.8 -1571.8 L2086.2 -1569.3 L2087.6 -1564.6 L2086.2 -1561.4 L2083.4 -1558.9 L2079.1 -1557.2 L2078.5 -1553.5 L2078.3 -1549.7 L2076.8 -1546.5 L2075.7 -1543.1 L2074.0 -1540.1 L2071.9 -1537.2 L2067.4 -1535.6 L2067.4 -1531.6 L2067.3 -1527.7 L2067.7 -1523.6 L2063.1 -1522.0 L2061.8 -1518.8 L2059.1 -1516.2 L2058.3 -1512.7 L2055.8 -1510.0 L2057.1 -1505.4 L2055.7 -1502.2 L2052.5 -1499.9 L2048.4 -1498.1 L2047.8 -1494.5 L2048.1 -1490.4 L2046.3 -1487.3 L2045.2 -1484.0 L2043.1 -1481.1 L2041.3 -1478.1 L2036.7 -1476.5 L2037.0 -1472.4 L2036.9 -1468.5 L2037.3 -1464.4 L2032.4 -1462.9 L2031.0 -1459.7 L2028.4 -1457.1 L2027.8 -1453.5 L2025.5 -1450.8 L2026.5 -1446.3 L2025.2 -1443.0 L2021.6 -1440.9 L2017.8 -1439.0 L2017.1 -1435.4 L2017.8 -1431.1 L2015.8 -1428.2 L2014.7 -1424.8 L2012.2 -1422.1 L2010.6 -1419.0 L2006.0 -1417.4 L2006.6 -1413.2 L2006.5 -1409.3 L2006.7 -1405.2 L2001.7 -1403.9 L2000.1 -1400.8 L1997.9 -1398.0 L1997.2 -1394.4 L1995.2 -1391.5 L1995.9 -1387.2 L1994.6 -1383.9 L1990.7 -1381.9 L1987.2 -1379.8 L1986.4 -1376.3 L1987.6 -1371.7 L1985.2 -1369.0 L1984.1 -1365.6 L1981.4 -1363.1 L1980.0 -1359.9 L1975.4 -1358.3 L1976.2 -1354.0 L1976.1 -1350.1 L1976.2 -1346.1 L1971.0 -1344.8 L1969.3 -1341.8 L1967.3 -1338.8 L1966.7 -1335.2 L1964.9 -1332.2 L1965.2 -1328.1 L1964.1 -1324.7 L1959.8 -1323.0 L1956.6 -1320.7 L1955.8 -1317.2 L1957.3 -1312.4 L1954.7 -1309.8 L1953.5 -1306.5 L1950.5 -1304.1 L1949.3 -1300.8 L1944.8 -1299.2 L1945.8 -1294.7 L1945.7 -1290.8 L1945.5 -1287.0 L1940.3 -1285.8 L1938.4 -1282.8 L1936.8 -1279.6 L1936.2 -1276.0 L1934.6 -1272.9 L1934.5 -1269.0 L1933.5 -1265.6 L1928.9 -1264.0 L1926.0 -1261.6 L1925.2 -1258.0 L1927.1 -1253.1 L1924.1 -1250.7 L1922.9 -1247.4 L1919.7 -1245.1 L1918.6 -1241.7 L1914.3 -1240.0 L1915.3 -1235.5 L1915.3 -1231.6 L1914.9 -1227.9 L1909.5 -1226.7 L1907.5 -1223.8 L1906.4 -1220.4 L1905.7 -1216.8 L1904.3 -1213.6 L1903.8 -1209.9 L1902.8 -1206.5 L1898.0 -1205.0 L1895.5 -1202.4 L1894.7 -1198.9 L1896.8 -1193.8 L1893.6 -1191.6 L1892.2 -1188.3 L1888.8 -1186.1 L1888.0 -1182.6 L1883.9 -1180.8 L1884.9 -1176.3 L1884.9 -1172.4 L1884.1 -1168.8 L1878.9 -1167.6 L1876.6 -1164.8 L1876.0 -1161.2 L1875.3 -1157.6 L1874.0 -1154.3 L1873.0 -1150.9 L1872.2 -1147.4 L1867.2 -1146.0 L1865.0 -1143.2 L1864.2 -1139.7 L1866.5 -1134.6 L1863.0 -1132.4 L1861.4 -1129.3 L1858.0 -1127.1 L1857.3 -1123.5 L1853.5 -1121.5 L1854.4 -1117.1 L1854.5 -1113.1 L1853.3 -1109.8 L1848.2 -1108.5 L1845.8 -1105.8 L1845.6 -1101.9 L1844.8 -1098.4 L1843.7 -1095.0 L1842.3 -1091.9 L1841.5 -1088.3 L1836.3 -1087.0 L1834.5 -1084.0 L1833.7 -1080.5 L1836.1 -1075.3 L1832.4 -1073.3 L1830.6 -1070.3 L1827.3 -1068.0 L1826.6 -1064.4 L1823.2 -1062.3 L1824.0 -1057.9 L1824.1 -1053.9 L1822.5 -1050.8 L1817.5 -1049.4 L1814.9 -1046.8 L1815.3 -1042.7 L1814.3 -1039.3 L1813.4 -1035.8 L1811.5 -1032.8 L1810.8 -1029.2 L1805.6 -1028.0 L1804.0 -1024.8 L1803.3 -1021.3 L1805.7 -1016.1 L1801.8 -1014.1 L1799.8 -1011.3 L1796.6 -1009.0 L1796.0 -1005.3 L1792.9 -1003.0 L1793.4 -998.8 L1793.6 -994.7 L1791.6 -991.8 L1786.8 -990.3 L1784.1 -987.8 L1785.0 -983.4 L1783.8 -980.1 L1783.0 -976.5 L1780.6 -973.8 L1780.1 -970.2 L1774.8 -968.9 L1773.6 -965.6 L1772.9 -962.0 L1775.3 -956.9 L1771.2 -955.0 L1768.9 -952.3 L1765.9 -949.9 L1765.3 -946.2 L1762.7 -943.7 L1762.9 -939.6 L1763.1 -935.5 L1760.7 -932.8 L1756.2 -931.2 L1753.4 -928.7 L1754.7 -924.1 L1753.4 -920.9 L1752.6 -917.3 L1749.8 -914.8 L1749.3 -911.1 L1744.1 -909.9 L1743.1 -906.4 L1742.6 -902.8 L1744.7 -897.7 L1740.6 -895.9 L1738.0 -893.3 L1735.2 -890.8 L1734.7 -887.1 L1732.4 -884.4 L1732.3 -880.5 L1732.6 -876.4 L1729.8 -873.9 L1725.6 -872.1 L1722.7 -869.7 L1724.4 -864.9 L1722.9 -861.7 L1722.1 -858.1 L1719.0 -855.8 L1718.5 -852.1 L1713.5 -850.7 L1712.7 -847.2 L1712.2 -843.5 L1714.2 -838.6 L1710.0 -836.8 L1707.1 -834.3 L1704.6 -831.7 L1704.1 -828.0 L1702.2 -825.0 L1701.7 -821.3 L1702.1 -817.2 L1698.9 -814.9 L1695.0 -813.0 L1692.0 -810.6 L1694.1 -805.6 L1692.4 -802.5 L1691.5 -799.0 L1688.2 -796.8 L1687.7 -793.1 L1683.0 -791.6 L1682.2 -788.0 L1681.9 -784.2 L1683.5 -779.5 L1679.4 -777.6 L1676.2 -775.4 L1674.1 -772.5 L1673.5 -768.9 L1672.0 -765.7 L1671.1 -762.2 L1671.5 -758.1 L1668.0 -755.9 L1664.4 -753.9 L1661.4 -751.4 L1663.7 -746.3 L1662.0 -743.3 L1660.9 -739.9 L1657.4 -737.8 L1656.9 -734.1 L1652.4 -732.4 L1651.8 -728.8 L1651.6 -725.0 L1652.8 -720.4 L1648.8 -718.5 L1645.3 -716.4 L1643.5 -713.4 L1642.9 -709.7 L1641.8 -706.4 L1640.5 -703.1 L1640.9 -699.0 L1637.1 -697.0 L1633.8 -694.7 L1630.9 -692.3 L1633.4 -687.1 L1631.5 -684.1 L1630.3 -680.8 L1626.6 -678.7 L1626.1 -675.0 L1622.0 -673.2 L1621.3 -669.6 L1621.3 -665.7 L1622.1 -661.3 L1618.2 -659.4 L1614.4 -657.4 L1613.1 -654.2 L1612.4 -650.6 L1611.5 -647.1 L1609.9 -644.0 L1610.2 -639.9 L1606.2 -638.0 L1603.2 -635.6 L1600.4 -633.1 L1603.0 -627.8 L1601.1 -624.9 L1599.6 -621.7 L1595.9 -619.7 L1595.3 -616.0 L1591.6 -614.0 L1590.8 -610.4 L1590.9 -606.4 L1591.3 -602.3 L1587.5 -600.3 L1583.5 -598.5 L1582.6 -595.0 L1581.9 -591.4 L1581.3 -587.8 L1579.2 -584.9 L1579.5 -580.8 L1575.4 -579.0 L1572.6 -576.5 L1570.0 -573.9 L1572.6 -568.6 L1570.6 -565.7 L1568.8 -562.6 L1565.1 -560.6 L1564.5 -557.0 L1561.2 -554.7 L1560.4 -551.2 L1560.6 -547.2 L1560.5 -543.3 L1556.9 -541.2 L1552.7 -539.4 L1552.1 -535.8 L1551.4 -532.2 L1550.9 -528.5 L1548.6 -525.8 L1548.7 -521.7 L1544.6 -520.0 L1542.0 -517.3 L1539.6 -514.7 L1542.1 -509.4 L1540.1 -506.5 L1538.0 -503.6 L1534.4 -501.5 L1533.7 -498.0 L1530.9 -495.5 L1529.9 -492.1 L1530.2 -487.9 L1529.7 -484.3 L1526.2 -482.1 L1521.9 -480.4 L1521.7 -476.6 L1520.9 -473.0 L1520.6 -469.2 L1517.9 -466.7 L1518.0 -462.7 L1513.8 -460.9 L1511.5 -458.2 L1509.2 -455.4 L1511.6 -450.2 L1509.6 -447.3 L1507.2 -444.6 L1503.8 -442.4 L1502.9 -438.9 L1500.6 -436.2 L1499.4 -432.9 L1499.8 -428.7 L1498.8 -425.3 L1495.5 -423.0 L1491.1 -421.4 L1491.3 -417.3 L1490.4 -413.8 L1490.2 -410.0 L1487.2 -407.6 L1487.1 -403.7 L1483.1 -401.8 L1480.9 -399.0 L1478.9 -396.1 L1481.0 -391.1 L1479.1 -388.1 L1476.4 -385.6 L1473.1 -383.3 L1472.2 -379.9 L1470.3 -376.9 L1468.9 -373.7 L1469.3 -369.5 L1468.0 -366.3 L1464.9 -363.9 L1460.4 -362.3 L1460.9 -358.1 L1460.0 -354.6 L1459.7 -350.8 L1456.6 -348.5 L1456.3 -344.7 L1452.4 -342.7 L1450.4 -339.9 L1448.6 -336.8 L1450.5 -331.9 L1448.5 -329.0 L1445.5 -326.6 L1442.5 -324.2 L1441.5 -320.8 L1440.0 -317.6 L1438.4 -314.5 L1438.8 -310.3 L1437.1 -307.3 L1434.2 -304.8 L1429.8 -303.2 L1430.4 -298.9 L1429.5 -295.4 L1429.2 -291.7 L1425.9 -289.4 L1425.4 -285.7 L1421.8 -283.6 L1419.9 -280.7 L1418.3 -277.6 L1419.8 -272.8 L1417.9 -269.9 L1414.7 -267.6 L1411.9 -265.1 L1410.8 -261.7 L1409.7 -258.3 L1407.9 -255.3 L1408.3 -251.2 L1406.2 -248.3 L1403.5 -245.8 L1399.3 -244.0 L1400.0 -239.7 L1399.1 -236.2 L1398.6 -232.5 L1395.2 -230.3 L1394.6 -226.7 L1391.3 -224.5 L1389.4 -221.5 L1388.0 -218.3 L1389.2 -213.7 L1387.3 -210.7 L1383.8 -208.6 L1381.4 -205.9 L1380.2 -202.6 L1379.4 -199.1 L1377.4 -196.1 L1377.6 -192.1 L1375.4 -189.3 L1372.8 -186.7 L1368.8 -184.8 L1369.5 -180.5 L1368.6 -177.0 L1368.0 -173.4 L1364.6 -171.2 L1363.7 -167.7 L1360.7 -165.3 L1358.9 -162.3 L1357.7 -159.0 L1358.5 -154.7 L1356.7 -151.6 L1353.0 -149.6 L1350.8 -146.8 L1349.6 -143.5 L1349.0 -139.8 L1346.9 -137.0 L1347.0 -133.0 L1344.6 -130.3 L1342.2 -127.6 L1338.3 -125.6 L1339.1 -121.3 L1338.2 -117.8 L1337.3 -114.3 L1334.0 -112.1 L1332.9 -108.7 L1330.2 -106.1 L1328.4 -103.2 L1327.4 -99.7 L1327.7 -95.6 L1326.0 -92.5 L1322.3 -90.5 L1320.3 -87.6 L1319.0 -84.3 L1318.6 -80.6 L1316.4 -77.8 L1316.3 -73.9 L1313.8 -71.3 L1311.5 -68.5 L1307.9 -66.4 L1308.6 -62.1 L1307.7 -58.6 L1306.5 -55.3 L1303.3 -53.0 L1302.1 -49.7 L1299.8 -46.9 L1297.9 -44.0 L1297.1 -40.5 L1297.0 -36.6 L1295.3 -33.5 L1291.5 -31.5 L1289.8 -28.4 L1288.5 -25.2 L1288.2 -21.4 L1285.8 -18.6 L1285.6 -14.8 L1283.0 -12.2 L1280.8 -9.4 L1277.6 -7.1 L1278.1 -2.9 L1277.2 0.6 L1275.8 3.8 L1272.7 6.1 L1271.3 9.3 L1269.3 12.3 L1267.4 15.2 L1266.7 18.8 L1266.2 22.5 L1264.6 25.6 L1260.8 27.6 L1259.3 30.8 L1258.0 34.0 L1257.7 37.8 L1255.3 40.5 L1254.8 44.2 L1252.3 46.8 L1250.2 49.7 L1247.3 52.1 L1247.5 56.2 L1246.6 59.7 L1245.0 62.8 L1242.1 65.3 L1240.6 68.4 L1238.9 71.5 L1237.0 74.4 L1236.2 78.0 L1235.4 81.5 L1233.9 84.7 L1230.2 86.7 L1228.8 89.9 L1227.5 93.2 L1227.2 97.0 L1224.8 99.7 L1224.0 103.2 L1221.6 105.9 L1219.6 108.8 L1217.0 111.4 L1217.0 115.4 L1216.0 118.8 L1214.2 121.8 L1211.6 124.4 L1209.9 127.5 L1208.4 130.7 L1206.5 133.6 L1205.7 137.2 L1204.6 140.6 L1203.1 143.7 L1199.7 145.9 L1198.4 149.1 L1197.1 152.4 L1196.6 156.1 L1194.2 158.8 L1193.2 162.3 L1190.9 165.0 L1189.0 168.0 L1186.7 170.7 L1186.4 174.5 L1185.4 177.9 L1183.4 180.9 L1181.0 183.6 L1179.3 186.6 L1177.9 189.9 L1176.1 192.8 L1175.2 196.3 L1173.9 199.6 L1172.3 202.7 L1169.2 205.1 L1167.9 208.4 L1166.6 211.6 L1165.9 215.2 L1163.6 218.0 L1162.4 221.3 L1160.3 224.1 L1158.5 227.1 L1156.4 230.0 L1155.8 233.6 L1154.7 237.0 L1152.7 239.9 L1150.5 242.7 L1148.7 245.8 L1147.5 249.0 L1145.6 252.0 L1144.6 255.4 L1143.1 258.6 L1141.5 261.7 L1138.8 264.3 L1137.5 267.6 L1136.1 270.8 L1135.1 274.2 L1133.1 277.1 L1131.6 280.3 L1129.7 283.3 L1128.0 286.3 L1126.2 289.3 L1125.1 292.7 L1123.8 296.0 L1121.9 298.9 L1120.0 301.9 L1118.3 305.0 L1116.9 308.2 L1115.2 311.3 L1113.9 314.5 L1112.2 317.6 L1110.6 320.7 L1108.6 323.7 L1107.2 326.8 L1105.6 330.0 L1104.1 333.2 L1102.4 336.2 M1059.6 312.0 L1061.9 314.9 L1063.8 318.2 L1067.6 319.8 L1068.8 323.6 L1071.9 325.8 L1072.2 330.4 L1075.7 332.3 L1077.9 335.2 L1080.6 337.8 L1082.7 340.9 M808.4 856.3 L810.8 859.0 L814.1 860.7 L818.1 861.4 L819.5 865.3 L822.0 867.9 L824.8 870.3 L828.4 871.4 L830.9 874.0 M808.4 856.3 L810.3 852.5 L811.6 848.4 L815.3 845.7 L816.7 841.6 M816.7 841.6 L818.8 840.4 L821.2 839.7 M821.2 839.7 L824.3 841.9 L827.7 843.5 L832.0 842.2 L835.8 842.3 L838.7 845.3 L841.7 847.8 L845.2 849.2 L848.9 849.7 L853.0 848.8 L856.7 849.4 L859.4 853.0 L862.5 855.2 L866.5 854.8 M830.9 874.0 L834.0 871.9 L837.6 871.7 L841.7 873.2 L844.9 871.7 L848.3 870.6 L851.4 868.7 L854.1 865.1 L857.9 865.3 L861.7 866.1 L865.1 864.9 M866.5 854.8 L864.5 859.7 L865.1 864.9 M777.8 867.6 L780.1 870.4 L782.2 873.2 L784.1 876.2 L785.8 879.3 L787.0 882.7 L788.9 885.7 L792.5 887.6 L795.8 889.6 L796.5 893.4 L796.6 897.7 L799.0 900.3 L802.5 902.2 L804.6 905.1 L805.9 908.4 L808.1 911.3 L810.1 914.2 M777.8 867.6 L781.4 866.9 L784.2 863.9 L788.1 864.0 L790.9 861.0 L794.8 861.2 L798.8 861.5 L801.7 858.8 L805.2 858.1 L808.4 856.3 M810.1 914.2 L813.3 912.1 L817.0 911.4 L820.8 910.8 L824.3 909.4 L826.9 905.8 L831.0 906.0 L834.7 905.1 M834.7 905.1 L833.9 901.3 L834.4 897.3 L835.6 893.2 L833.2 889.5 L830.8 885.9 L831.5 881.8 L831.7 877.9 L830.9 874.0 M816.7 841.6 L814.5 838.4 L813.1 834.9 L812.7 831.0 L812.7 826.9 L811.7 823.3 L808.4 820.5 L805.2 817.7 L804.5 813.9 L804.5 809.9 L803.4 806.2 L802.1 802.7 L800.3 799.4 M821.2 839.7 L823.7 836.8 L826.7 834.5 L829.3 831.7 L832.8 829.9 L837.7 829.8 L838.2 824.6 L841.3 822.4 L844.3 820.1 L847.3 817.7 L850.1 815.1 M831.9 796.3 L834.3 799.1 L836.5 802.2 L838.8 805.2 L843.7 805.6 L845.6 809.1 L846.5 813.4 L850.1 815.1 M831.9 796.3 L827.8 793.9 L823.4 792.1 M823.4 792.1 L819.3 792.5 L815.6 794.3 L812.2 797.0 L807.7 796.3 L804.2 798.4 L800.3 799.4 M831.9 796.3 L835.3 794.8 L837.9 792.2 L839.2 788.1 L841.9 785.7 L845.8 784.9 L849.1 783.2 L852.5 781.7 L855.6 779.7 L857.1 775.9 L859.2 772.8 L862.8 771.5 M823.4 792.1 L823.2 788.3 L823.8 784.8 L825.0 781.4 L828.2 778.5 L829.6 775.1 L829.4 771.4 L829.6 767.8 L828.5 763.8 L829.2 760.3 L831.2 757.1 L832.3 753.7 M862.8 771.5 L860.0 769.5 L856.8 767.8 L854.1 765.4 L851.3 763.3 L846.8 764.0 L843.5 762.7 L841.9 758.3 L839.0 756.3 L835.5 755.3 L832.3 753.7 M1071.0 1131.3 L1076.0 1131.9 L1080.1 1134.7 M1071.0 1131.3 L1071.4 1127.8 L1071.6 1124.3 L1071.8 1120.7 L1069.3 1117.2 L1070.0 1113.7 L1070.1 1110.1 L1068.9 1106.6 L1072.3 1103.1 L1072.0 1099.5 L1071.6 1096.0 L1073.0 1092.5 L1070.8 1088.9 L1070.6 1085.4 L1071.0 1081.8 M1080.1 1134.7 L1083.0 1132.3 L1086.7 1131.0 L1089.7 1128.8 L1091.3 1124.6 L1094.6 1122.9 L1098.4 1121.8 L1100.7 1118.7 L1104.0 1116.9 L1108.1 1116.1 L1110.3 1112.8 L1112.6 1109.7 L1116.0 1108.0 L1119.1 1105.9 M1119.1 1105.9 L1117.3 1102.6 L1114.3 1100.2 L1110.7 1098.3 L1111.7 1093.0 L1108.9 1090.5 L1108.4 1086.4 L1103.0 1085.8 L1101.2 1082.5 L1099.8 1079.0 M1099.8 1079.0 L1096.2 1079.1 L1092.5 1078.5 L1088.9 1078.5 L1085.5 1081.3 L1081.9 1081.9 L1078.2 1081.1 L1074.6 1081.2 L1071.0 1081.8 M1057.3 1135.9 L1060.8 1134.9 L1063.4 1131.2 L1068.1 1133.9 L1071.0 1131.3 M1116.4 1180.8 L1114.0 1178.0 L1111.4 1175.3 L1109.1 1172.5 L1106.6 1169.8 L1104.2 1167.1 L1104.3 1162.3 L1101.4 1160.0 L1098.9 1157.3 L1096.3 1154.7 L1093.5 1152.2 L1089.7 1150.5 L1088.7 1146.6 L1087.3 1143.0 L1084.7 1140.4 L1082.9 1137.2 L1080.1 1134.7 M1133.6 1110.1 L1130.5 1107.1 L1126.2 1108.3 L1122.7 1106.9 L1119.1 1105.9 M1151.6 1066.8 L1148.0 1065.8 L1144.1 1067.0 L1140.4 1066.7 L1136.9 1064.7 L1133.5 1062.1 L1129.9 1061.1 L1125.6 1064.8 L1122.0 1063.9 L1118.6 1061.8 L1114.9 1061.5 L1111.2 1060.7 M1111.2 1060.7 L1109.8 1064.1 L1108.4 1067.4 L1103.8 1068.7 L1102.5 1072.2 L1100.4 1075.1 L1099.8 1079.0 M527.4 599.0 L530.0 601.3 L532.7 603.5 L535.5 605.7 L538.0 608.1 L541.7 609.3 L542.7 613.4 L545.4 615.6 L547.6 618.4 L551.0 619.8 L552.4 623.6 L557.0 623.7 L559.4 626.2 L562.0 628.5 L563.9 631.7 L567.1 633.3 L568.8 636.8 L571.4 639.1 L574.5 640.9 L577.1 643.2 M577.1 643.2 L576.9 646.8 L575.9 650.3 L576.1 653.9 L575.2 657.4 L575.3 661.0 L577.5 664.8 L576.8 668.3 L573.5 671.7 L573.2 675.2 L574.6 678.9 L574.1 682.5 M458.0 589.4 L460.6 591.8 L461.5 595.6 L464.7 597.5 L466.8 600.4 L469.6 602.6 L472.2 605.1 L474.1 608.1 L474.7 612.2 L478.4 613.7 L479.0 617.8 L483.8 618.4 L485.5 621.6 L487.2 624.8 L489.9 627.1 L490.2 631.4 L493.9 633.0 L496.0 635.8 L498.6 638.2 L500.9 640.9 L502.8 643.9 M502.8 643.9 L505.1 646.7 L508.2 648.7 L511.7 650.2 L514.4 652.5 L516.0 656.2 L519.9 657.3 L520.9 661.5 L523.0 664.6 L526.3 666.4 L529.8 667.8 L531.5 671.3 L536.0 671.7 L538.5 674.4 L540.5 677.5 L543.0 680.1 L545.7 682.5 M574.1 682.5 L570.6 683.5 L567.0 682.4 L563.5 683.2 L559.9 681.0 L556.4 681.7 L552.8 681.1 L549.3 682.9 L545.7 682.5 M777.2 703.4 L774.3 705.9 L772.3 709.1 L770.0 712.1 L769.1 716.1 L768.6 720.2 L764.9 722.3 L762.1 725.0 L760.5 728.4 M777.2 703.4 L780.2 705.8 L784.2 704.7 L787.7 705.2 L790.8 707.3 L794.5 707.2 L797.0 711.2 L800.7 711.1 L804.5 710.7 L807.7 712.3 M807.7 712.3 L808.6 715.8 L805.0 719.3 L807.2 722.9 L807.7 726.4 L810.1 730.0 L806.6 733.4 L806.5 737.0 L807.2 740.5 M807.2 740.5 L803.7 741.1 L800.2 741.2 L796.9 743.3 L793.2 742.3 L789.6 741.5 L786.2 742.9 L782.8 743.7 L779.4 744.9 L775.8 745.1 L772.3 745.1 L768.8 745.6 M768.8 745.6 L767.1 742.2 L766.2 738.4 L762.9 735.7 L761.6 732.1 L760.5 728.4 M777.8 867.6 L775.6 867.4 M799.1 939.0 L801.4 935.7 L800.5 931.1 L803.8 928.3 L806.9 925.5 L806.3 921.0 L808.4 917.7 L810.1 914.2 M799.1 939.0 L795.7 937.7 L793.2 934.8 L790.5 932.4 L786.2 932.6 L782.7 931.5 L780.2 928.7 L777.4 926.3 L774.7 924.0 L771.4 922.3 L767.3 922.4 L764.2 920.7 L761.9 917.5 L758.5 916.2 M775.6 867.4 L772.5 869.3 L770.1 872.0 L766.6 873.4 L764.4 876.4 L761.2 878.1 L758.5 880.4 M758.5 880.4 L758.6 884.0 L759.7 887.6 L760.0 891.1 L758.0 894.7 L757.5 898.3 L757.1 901.9 L757.4 905.4 L759.5 909.0 L759.3 912.6 L758.5 916.2 M740.6 942.3 L740.5 936.8 L743.7 932.4 M799.5 941.0 L799.1 939.0 M743.7 932.4 L746.2 929.7 L750.7 928.9 L750.8 924.0 L752.5 920.6 L755.0 918.0 L758.5 916.2 M518.2 854.0 L514.6 853.4 L511.5 851.3 L508.1 849.9 L504.4 849.7 L500.9 848.9 L497.3 848.2 L493.7 847.8 L490.7 845.0 L487.9 842.1 L483.8 842.9 L479.6 844.4 L476.5 842.2 L473.6 839.4 L470.0 838.6 L466.7 837.2 L463.3 836.1 L459.1 837.3 L455.5 836.7 L452.9 832.9 L449.7 830.9 L445.7 831.7 L442.1 831.3 L438.8 829.6 L435.3 828.6 L431.9 827.4 M546.3 846.0 L547.6 842.6 L550.3 839.7 L552.3 836.6 L553.5 833.1 L554.1 829.3 L553.5 825.0 L555.2 821.8 L556.5 818.3 L560.1 815.8 L562.0 812.7 L563.7 809.4 L564.2 805.6 M564.2 805.6 L560.7 805.5 L557.1 805.3 L553.6 804.6 L550.0 804.8 L546.5 806.3 L542.9 806.2 L539.4 805.1 L535.8 806.2 L532.2 807.4 L528.7 806.0 L525.1 804.5 L521.6 804.7 L518.0 804.8 L514.5 805.2 L510.9 806.2 L507.4 806.1 L503.8 805.5 L500.3 805.6 M500.3 805.6 L496.9 806.9 L493.2 807.0 L490.0 808.9 L486.6 810.1 L483.0 810.4 L480.0 812.8 L476.5 813.8 L473.0 814.5 L469.5 815.4 L465.5 814.6 L462.6 817.5 L459.9 820.6 L455.9 820.0 L452.3 820.6 L448.8 821.4 L445.4 822.4 L442.4 824.7 L438.8 825.3 L435.3 826.2 L431.9 827.4 M577.1 643.2 L581.2 643.7 L584.8 645.9 L589.1 645.6 L592.6 648.3 L596.6 649.1 L600.5 650.1 M612.3 601.9 L613.0 605.6 L615.0 608.8 L617.4 612.0 L617.5 615.8 L616.1 620.2 L618.3 623.4 L620.1 626.7 M600.5 650.1 L603.2 647.4 L603.9 643.0 L608.8 642.1 L612.2 640.0 L610.9 634.0 L615.0 632.4 L618.0 629.9 L620.1 626.7 M667.0 587.9 L664.8 590.9 L664.0 594.7 L662.5 598.2 L659.7 600.9 L657.5 603.9 L655.8 607.3 L653.0 609.9 L650.4 612.8 L650.4 617.1 L650.5 621.4 L647.5 624.0 L643.8 626.2 L642.1 629.5 L640.9 633.1 M620.1 626.7 L623.7 627.2 L626.3 631.2 L630.4 630.1 L634.0 631.0 L638.1 629.9 L640.9 633.1 M1243.9 755.4 L1244.3 751.8 L1244.2 748.1 L1244.8 744.5 L1245.8 741.0 L1246.6 737.4 L1246.9 733.8 L1245.5 730.0 L1245.4 726.3 L1248.2 723.0 L1249.6 719.5 L1248.6 715.7 L1247.2 711.9 L1247.0 708.3 L1249.7 704.9 L1252.2 701.5 L1250.6 697.7 L1248.7 693.9 L1249.7 690.3 L1251.5 686.9 L1253.1 683.4 L1252.7 679.7 L1251.3 675.9 L1252.0 672.3 L1253.5 668.8 L1253.8 665.2 L1254.1 661.6 L1254.3 658.0 M1219.2 743.8 L1216.8 741.2 L1215.1 738.0 L1212.8 735.4 L1209.6 733.6 L1207.9 730.4 L1204.2 729.0 L1201.3 726.9 L1199.4 723.9 L1197.1 721.3 L1196.4 717.1 L1193.5 715.0 L1190.9 712.6 L1188.8 709.8 L1185.7 707.9 L1183.4 705.2 M1254.3 658.0 L1251.2 659.7 L1248.4 662.0 L1244.7 662.8 L1242.4 665.7 L1239.7 668.1 L1236.5 669.6 L1235.0 673.9 L1230.3 673.2 L1228.2 676.4 L1224.3 676.9 L1220.7 677.9 L1219.1 681.9 L1215.2 682.5 L1213.8 686.8 L1210.6 688.4 L1207.4 689.9 L1204.5 691.9 L1200.7 692.7 L1197.6 694.5 L1195.1 697.1 L1192.0 698.8 L1189.6 701.6 L1186.6 703.6 L1183.4 705.2 M802.5 660.4 L800.1 657.5 L796.8 655.5 L795.5 651.3 L791.6 649.9 L787.5 648.8 L785.4 645.5 L782.7 642.9 L782.3 637.8 L777.4 637.5 L774.7 634.8 L772.1 632.1 M802.5 660.4 L800.1 663.3 L796.3 664.3 L792.9 665.8 L790.9 669.2 L788.3 671.8 L786.3 675.3 L782.5 676.4 L778.3 676.9 L776.1 680.0 L773.5 682.6 L770.7 684.9 M770.7 684.9 L766.7 685.3 L764.3 681.7 L761.7 678.8 L757.3 680.5 L754.2 678.7 L751.0 677.3 M751.0 677.3 L751.6 673.4 L752.6 669.5 L751.2 665.7 L751.1 661.8 L748.7 657.9 L751.2 654.0 L750.0 650.1 L752.1 646.3 L751.0 642.4 M751.0 642.4 L754.1 639.9 L758.6 640.1 L762.5 639.2 L764.4 634.0 L768.1 632.8 L772.1 632.1 M728.6 690.0 L731.8 688.2 L734.4 685.4 L738.1 684.5 L740.9 681.9 L745.0 681.6 L748.4 680.2 L751.0 677.3 M728.6 690.0 L728.2 693.7 L729.7 697.0 L731.3 700.2 L730.7 704.0 L735.5 706.4 L734.6 710.2 L734.6 713.9 L734.9 717.4 L736.3 720.7 M777.2 703.4 L774.7 700.1 L774.8 695.9 L773.0 692.3 L773.2 688.1 L770.7 684.9 M736.3 720.7 L739.3 723.3 L743.1 723.3 L746.7 723.9 L750.3 724.6 L753.7 725.9 L756.8 728.2 L760.5 728.4 M680.5 464.2 L684.0 462.5 L687.5 460.6 L690.2 457.1 L694.5 456.9 L699.0 457.4 L702.1 454.7 L705.5 452.8 L708.8 450.6 M684.0 488.2 L687.5 489.4 L691.3 489.7 L695.3 489.6 L698.0 493.5 L701.6 494.4 L704.6 497.3 L709.0 495.7 L713.0 495.3 L716.1 497.9 L719.7 499.0 L722.7 501.9 L726.6 501.8 M726.6 501.8 L726.1 498.1 L725.3 494.6 L722.7 491.7 L720.7 488.5 L719.9 485.0 L719.5 481.3 L719.9 477.4 L718.6 474.0 L714.9 471.4 L713.1 468.2 L713.4 464.3 L713.0 460.6 L711.9 457.2 L710.3 453.9 L708.8 450.6 M705.1 407.6 L706.4 411.1 L708.4 414.4 L707.6 418.7 L710.8 421.5 L710.6 425.5 L713.8 428.4 L713.7 432.3 L715.4 435.7 M715.4 435.7 L714.9 439.9 L711.7 443.0 L710.6 446.9 L708.8 450.6 M673.3 564.0 L677.0 563.7 L680.7 563.3 L682.8 558.9 L686.1 557.5 L689.8 557.2 L693.1 555.7 L696.5 554.7 M726.6 501.8 L728.6 503.2 L730.7 504.5 M730.7 504.5 L730.7 509.1 L728.2 513.4 L729.5 518.0 M696.5 554.7 L699.4 552.5 L701.1 549.4 L703.6 546.9 L705.5 543.8 L707.2 540.6 L711.8 540.0 L714.2 537.4 L714.5 532.9 L717.6 530.9 L719.8 528.2 L722.0 525.5 L725.8 524.1 L727.4 520.8 L729.5 518.0 M1150.9 456.5 L1150.3 459.9 L1150.3 463.6 L1151.2 467.4 L1147.4 470.2 L1147.0 473.7 L1145.2 477.0 L1145.1 480.6 L1142.2 483.6 L1145.6 487.9 L1145.8 491.6 L1145.2 495.1 L1141.5 497.9 L1142.2 501.7 L1139.8 504.8 L1138.9 508.2 L1138.5 511.7 L1138.6 515.4 M1138.6 515.4 L1134.6 516.4 L1131.0 513.8 L1127.3 512.5 L1123.2 513.9 L1119.4 513.4 L1115.5 513.4 L1111.8 511.8 M1107.3 428.6 L1106.7 432.3 L1107.1 436.1 L1105.8 439.6 L1102.7 442.7 L1101.7 446.3 L1102.5 450.2 L1102.0 453.9 L1101.6 457.6 L1102.0 461.4 L1100.7 464.9 L1098.4 468.2 L1097.4 471.7 L1096.3 475.3 L1095.2 478.8 L1096.0 482.7 L1096.5 486.6 L1094.7 490.0 L1093.5 493.5 M1111.8 511.8 L1109.7 508.7 L1105.6 507.5 L1103.1 504.8 L1101.1 501.6 L1100.7 496.8 L1095.8 496.4 L1093.5 493.5 M866.5 854.8 L868.1 851.8 M850.1 815.1 L855.1 812.5 L859.9 815.7 M859.9 815.7 L861.1 819.2 L859.9 823.3 L861.1 826.8 L864.7 829.8 L864.8 833.5 L863.6 837.6 L864.6 841.2 L866.2 844.6 L867.8 848.0 L868.1 851.8 M862.8 771.5 L866.7 771.3 L870.2 772.6 L873.7 774.2 M859.9 815.7 L862.1 812.6 L865.3 810.7 L869.5 810.3 L871.9 807.5 L874.4 804.6 L877.1 802.2 L880.2 800.2 M873.7 774.2 L873.9 778.1 L876.4 781.4 L877.4 785.1 L877.1 789.1 L876.5 793.2 L877.8 796.8 L880.2 800.2 M807.7 712.3 L810.3 707.6 L815.0 705.0 M815.0 705.0 L813.7 701.5 L812.4 697.9 L814.9 693.9 L815.2 690.1 L811.2 687.0 L810.1 683.4 L811.0 679.6 L813.0 675.6 L810.3 672.3 L809.4 668.7 L809.3 665.0 M802.5 660.4 L803.5 660.5 M803.5 660.5 L806.2 663.0 L809.3 665.0 M815.0 705.0 L818.9 703.4 L822.8 705.1 L826.6 705.2 L830.5 706.7 L834.4 704.3 L838.3 705.9 L842.1 705.0 M809.3 665.0 L813.0 664.5 L816.7 663.4 L820.4 665.9 L824.2 667.3 L827.9 665.7 L831.6 665.9 L835.3 663.5 L839.0 662.3 L842.8 665.1 L846.5 665.6 L850.2 665.7 L853.9 665.0 M853.9 665.0 L855.2 667.5 L857.6 669.0 M842.1 705.0 L842.4 701.2 L844.9 698.4 L846.1 695.1 L847.9 692.0 L851.5 689.7 L851.1 685.6 L851.6 681.9 L853.1 678.7 L853.5 675.0 L855.7 672.1 L857.6 669.0 M807.2 740.5 L810.6 742.1 L811.9 745.6 M811.9 745.6 L815.2 747.0 L818.6 748.3 L821.9 749.7 L826.1 748.7 L828.6 752.1 L832.1 753.1 M832.1 753.1 L833.9 749.8 L836.9 747.4 L839.0 744.3 L841.3 741.3 L845.0 739.5 L846.5 735.8 L847.8 732.1 L850.8 729.6 L852.9 726.5 L855.6 723.9 M842.1 705.0 L845.5 707.3 L848.1 710.2 L846.7 716.0 L850.0 718.4 L853.5 720.7 L855.6 723.9 M832.3 753.7 L832.1 753.1 M882.9 760.3 L880.7 763.9 L876.9 766.3 L875.3 770.3 L873.7 774.2 M882.9 760.3 L880.3 757.3 L879.5 753.6 L879.8 749.5 L878.5 746.0 L879.4 741.7 L875.0 739.4 L873.1 736.1 L871.8 732.6 L870.4 729.2 L869.9 725.4 M869.9 725.4 L866.6 723.0 L862.7 725.3 L859.2 724.8 L855.6 723.9 M1056.3 779.9 L1055.4 783.7 L1054.6 787.4 L1055.4 791.3 L1055.5 795.2 L1052.6 798.6 L1052.4 802.4 L1053.0 806.3 L1052.0 810.0 M1056.3 779.9 L1053.8 777.4 L1050.5 775.7 L1049.1 772.1 L1044.9 771.3 L1042.6 768.6 L1043.1 762.9 L1038.2 763.0 L1034.0 762.2 L1033.6 757.5 L1029.8 756.3 L1027.4 753.7 L1026.6 749.4 L1022.5 748.6 L1020.0 746.1 M1052.0 810.0 L1048.4 809.8 L1044.8 809.9 L1041.2 809.6 L1037.8 811.9 L1034.4 813.2 L1030.6 811.0 L1027.0 810.7 L1023.5 811.7 L1020.0 812.3 M1020.0 812.3 L1018.9 808.6 L1019.7 805.0 L1020.0 801.3 L1021.2 797.6 L1023.3 793.9 L1020.6 790.2 L1020.0 786.6 L1017.8 782.9 L1016.7 779.2 L1019.9 775.5 L1019.5 771.8 L1021.6 768.2 L1021.6 764.5 L1020.2 760.8 L1021.2 757.1 L1019.6 753.4 L1019.6 749.7 L1020.0 746.1 M1095.6 807.6 L1095.5 803.6 L1093.8 800.0 L1092.2 796.4 L1089.1 793.3 L1090.6 788.9 L1091.4 784.6 L1089.1 781.2 L1087.4 777.7 L1086.7 773.9 M1095.6 807.6 L1099.1 806.7 L1101.8 803.8 L1104.7 801.7 L1108.8 802.1 L1112.5 801.6 L1115.4 799.4 L1118.4 797.3 L1121.3 795.0 L1124.6 793.7 L1128.5 793.8 L1131.8 792.3 L1134.7 790.2 M1135.3 783.2 L1136.1 786.8 L1134.7 790.2 M1135.3 783.2 L1132.2 781.4 L1129.3 779.2 L1126.6 776.6 L1124.4 773.3 L1119.7 774.0 L1116.8 772.0 L1113.3 770.7 L1109.1 770.6 L1107.2 766.7 L1103.9 765.3 L1101.3 762.6 L1098.8 759.7 L1095.0 759.0 M1095.0 759.0 L1092.9 762.7 L1092.4 767.2 L1089.2 770.4 L1086.7 773.8 M1095.1 809.1 L1091.6 810.5 L1088.3 812.3 L1084.5 812.9 L1080.1 811.5 L1077.5 815.5 L1074.2 817.3 L1070.3 817.6 L1066.6 818.1 L1063.2 819.7 M1095.1 809.1 L1095.6 807.6 M1056.3 779.9 L1060.2 779.7 L1064.2 779.9 L1067.4 775.9 L1071.5 776.8 L1075.1 774.8 L1079.0 774.8 L1083.2 775.9 L1086.8 773.9 M1063.2 819.7 L1060.7 816.9 L1058.7 813.5 L1053.2 814.3 L1052.0 810.0 M1156.1 758.4 L1160.1 759.0 L1162.5 762.4 L1166.1 764.0 L1168.7 767.2 L1172.5 768.1 M1156.1 758.4 L1153.4 760.8 L1151.4 763.8 L1148.2 765.9 L1147.1 769.6 L1146.8 774.0 L1142.5 775.1 L1138.6 776.5 L1137.3 780.2 L1135.3 783.2 M1216.1 925.7 L1213.9 922.9 L1212.9 919.4 L1211.4 916.2 L1209.0 913.6 L1208.3 909.9 L1206.1 907.1 L1203.3 904.7 L1200.6 902.2 L1199.9 898.6 L1195.9 896.9 L1194.6 893.6 L1194.6 889.5 L1192.5 886.6 L1191.1 883.3 L1190.8 879.4 L1189.8 875.9 L1185.0 874.7 L1184.9 870.7 L1181.7 868.5 L1178.0 866.6 L1176.0 863.7 L1175.7 859.8 L1173.1 857.3 L1171.4 854.2 L1173.3 849.0 L1170.0 846.9 L1168.6 843.6 L1167.2 840.4 L1165.2 837.4 L1160.4 836.2 L1159.4 832.7 L1157.6 829.7 L1153.9 827.8 L1153.7 823.8 L1152.9 820.2 L1151.4 817.0 L1149.2 814.2 L1149.5 810.0 L1146.3 807.8 L1143.9 805.2 L1142.4 802.0 L1140.0 799.3 L1137.6 796.6 L1136.1 793.4 L1134.7 790.2 M1095.0 756.8 L1092.3 754.2 L1090.4 750.7 L1085.5 751.1 L1082.4 749.0 L1079.6 746.6 L1078.5 742.0 L1075.2 740.3 L1071.4 739.3 L1068.4 737.1 L1065.7 734.6 M1095.0 756.8 L1095.0 759.0 M1065.7 734.6 L1062.0 734.9 L1058.5 737.6 L1054.6 736.8 L1050.9 737.0 L1046.8 734.8 L1043.0 734.2 L1039.6 738.0 L1035.9 738.6 L1032.5 741.5 L1028.5 739.8 L1024.6 738.6 L1020.9 739.4 L1017.2 740.4 M1017.2 740.4 L1017.8 743.6 L1020.0 746.1 M912.3 794.2 L913.2 790.6 L915.3 787.5 L919.6 785.4 L917.4 780.4 L918.6 776.9 L921.1 774.0 M912.3 794.2 L908.7 795.8 L905.0 797.2 L900.3 794.1 L896.9 796.8 L893.2 798.1 L889.8 800.9 L885.4 798.7 L881.8 800.8 M882.9 760.3 L886.6 759.5 L890.2 757.7 L893.9 756.6 L897.4 754.8 L902.1 757.9 L905.6 756.1 L909.5 755.7 L912.9 753.5 M881.8 800.8 L880.2 800.2 M921.1 774.0 L921.0 770.1 L918.0 767.3 L916.7 763.9 L915.1 760.6 L915.2 756.6 L912.9 753.5 M1065.7 734.6 L1067.3 731.4 L1069.5 728.5 L1071.2 725.4 L1070.6 721.0 L1073.4 718.5 L1077.0 716.5 L1077.7 712.8 L1079.6 709.8 L1081.1 706.5 M1081.1 706.5 L1078.9 703.6 L1074.9 702.3 L1073.8 698.3 L1071.9 695.1 L1069.1 692.7 L1067.5 689.2 L1062.4 688.8 L1061.2 685.1 L1059.9 681.3 L1056.6 679.3 L1054.7 676.1 L1051.8 673.8 M1051.8 673.8 L1048.7 675.5 L1046.6 678.8 L1043.4 680.4 L1039.0 680.2 L1036.5 682.9 L1033.7 685.1 L1030.5 686.7 L1028.9 690.9 L1025.3 691.7 L1020.8 691.3 L1018.7 694.6 L1015.8 696.8 M1006.4 732.8 L1009.2 736.5 L1013.3 738.3 L1017.2 740.4 M1006.4 732.8 L1004.1 729.4 L1004.1 725.3 L1003.0 721.5 M1015.8 696.8 L1014.0 700.3 L1010.2 702.8 L1011.4 707.9 L1009.8 711.6 L1007.8 715.1 L1003.4 717.3 L1003.0 721.5 M868.1 851.8 L872.1 852.0 L875.5 849.9 L879.5 850.0 L882.5 846.5 L886.5 846.6 L890.0 844.9 L894.0 845.0 L897.8 844.2 L901.4 842.9 M881.8 800.8 L884.3 803.7 L886.3 806.9 L888.5 810.0 L888.6 814.4 L891.2 817.2 L894.0 819.9 L895.9 823.2 L899.2 825.5 L900.2 829.4 L901.7 832.9 L904.1 835.9 M901.4 842.9 L903.1 839.5 L904.1 835.9 M936.8 816.5 L934.2 814.0 L932.0 810.9 L930.3 807.3 L926.7 805.8 L921.3 806.2 L920.7 801.4 L917.8 799.2 L915.6 796.1 L912.3 794.2 M936.8 816.5 L936.9 819.8 L937.4 823.1 M904.1 835.9 L907.4 834.4 L911.0 833.8 L913.6 830.7 L916.6 828.6 L921.2 830.7 L924.0 828.1 L928.2 829.1 L930.8 825.7 L933.8 823.6 L937.4 823.1 M1095.1 809.1 L1097.2 812.0 L1098.7 815.3 L1100.1 818.6 L1101.7 821.9 L1103.7 824.9 L1105.7 827.9 L1107.3 831.1 L1110.8 833.2 L1113.1 836.0 L1114.1 839.6 L1116.8 842.1 L1118.0 845.6 L1118.5 849.5 L1119.9 852.9 L1121.5 856.1 L1123.8 858.9 L1125.2 862.3 L1128.2 864.6 L1131.8 866.6 L1132.7 870.3 L1135.0 873.1 L1137.4 875.8 L1137.7 879.9 L1138.9 883.3 L1140.3 886.6 L1142.3 889.7 L1144.0 892.8 L1145.9 895.9 L1149.2 898.1 L1151.0 901.2 L1152.6 904.4 L1154.9 907.2 L1156.3 910.5 L1157.9 913.8 M1063.2 819.7 L1063.0 823.4 L1062.4 827.0 L1061.8 830.7 L1061.9 834.4 L1063.0 838.2 L1062.4 841.8 L1062.3 845.5 L1062.9 849.2 L1060.9 852.8 L1059.6 856.5 L1061.4 860.2 L1061.5 863.9 L1060.8 867.6 M1060.8 867.6 L1062.9 870.7 L1066.0 872.8 L1069.7 874.2 L1071.8 877.3 L1076.7 877.3 L1076.8 882.6 L1080.5 884.0 L1081.5 888.3 L1083.7 891.4 L1087.5 892.7 L1090.0 895.4 L1093.7 896.6 L1096.7 898.8 L1098.8 902.0 M992.0 1094.5 L992.8 1090.6 L995.7 1088.2 L997.9 1085.3 L1002.5 1084.1 L1004.6 1081.1 L1004.1 1076.2 L1006.7 1073.6 L1009.3 1071.0 M1071.0 1081.8 L1068.5 1079.3 L1065.3 1077.8 L1061.2 1077.4 L1059.4 1074.0 L1059.0 1068.7 L1054.9 1068.3 L1049.4 1069.8 L1047.7 1066.3 L1046.7 1061.8 L1043.5 1060.2 L1040.0 1059.1 L1037.0 1057.2 L1034.4 1054.8 M1009.3 1071.0 L1012.9 1069.6 L1016.4 1068.2 L1017.7 1063.3 L1020.8 1061.2 L1025.1 1061.0 L1028.2 1058.9 L1031.9 1057.8 L1034.4 1054.8 M1107.7 1040.9 L1104.6 1038.7 L1101.0 1038.0 L1096.8 1039.1 L1093.6 1037.4 L1090.7 1034.7 L1087.0 1034.3 L1083.9 1032.4 L1081.0 1029.8 L1077.2 1029.7 L1073.4 1029.6 L1070.1 1028.0 M1107.7 1040.9 L1110.1 1038.3 L1112.5 1035.8 L1115.3 1033.6 L1117.4 1030.7 L1120.2 1028.5 L1122.1 1025.5 L1123.8 1022.3 L1125.7 1019.3 L1128.9 1017.4 L1133.2 1016.7 L1135.6 1014.2 L1137.1 1010.7 L1136.7 1005.6 L1139.8 1003.7 L1143.1 1001.9 L1148.1 1001.8 L1149.4 998.2 L1151.4 995.3 L1152.3 991.3 L1155.4 989.4 L1157.2 986.4 L1159.9 984.0 L1163.0 982.1 L1166.5 980.7 L1169.6 978.7 L1169.7 974.0 L1170.8 970.2 L1172.4 966.9 L1177.9 967.3 L1181.2 965.6 L1184.2 963.5 L1183.7 958.3 L1185.8 955.5 L1188.0 952.7 L1191.9 951.6 L1194.3 949.0 L1196.9 946.6 L1199.3 944.1 L1201.6 941.4 L1203.6 938.5 L1205.1 935.1 L1208.0 933.0 L1210.8 930.8 L1213.8 928.8 L1215.6 925.7 M1070.1 1028.0 L1072.1 1024.8 L1073.4 1021.4 L1075.0 1018.0 L1076.0 1014.5 L1075.1 1010.2 L1077.0 1007.0 L1078.2 1003.5 L1080.0 1000.3 L1083.3 997.5 L1083.7 993.8 L1085.0 990.3 L1085.9 986.7 L1087.0 983.2 M1087.0 983.2 L1090.2 981.4 L1093.0 979.1 L1095.2 975.9 L1098.6 974.5 L1102.3 973.5 L1105.4 971.6 L1108.0 969.1 L1110.7 966.6 L1114.6 965.8 L1116.4 962.1 L1119.0 959.5 L1121.3 956.4 L1126.6 957.8 L1129.6 955.7 L1132.6 953.7 L1133.8 949.2 L1137.6 948.2 L1140.4 946.0 L1143.2 943.6 L1145.7 940.9 L1149.5 940.1 L1153.7 939.8 L1156.0 936.8 L1158.3 933.6 L1160.4 930.4 L1164.4 929.8 L1167.2 927.5 L1170.4 925.8 L1173.1 923.4 L1176.2 921.5 M1111.2 1060.7 L1112.8 1056.3 L1108.4 1053.0 L1107.7 1049.0 L1109.1 1044.7 L1107.7 1040.9 M1034.4 1054.8 L1036.2 1051.1 L1037.4 1047.1 M1037.4 1047.1 L1040.7 1045.3 L1044.6 1044.4 L1047.7 1042.2 L1050.2 1039.0 L1052.9 1036.0 L1056.6 1034.9 L1060.5 1034.0 L1063.4 1031.6 L1067.1 1030.4 L1070.1 1028.0 M901.4 842.9 L904.3 845.5 L904.4 849.3 L906.4 852.3 L906.0 856.3 L907.0 859.7 L908.0 863.1 L909.2 866.5 L914.2 868.2 L914.2 872.0 L916.1 875.1 L916.6 878.7 M937.4 823.1 L939.5 825.9 L941.6 828.7 L946.0 829.4 L947.0 833.3 M947.0 833.3 L946.6 836.9 L946.4 840.7 L944.6 844.1 L944.5 847.9 L942.9 851.4 L944.3 855.4 L943.7 859.0 L942.2 862.6 L941.5 866.2 M941.5 866.2 L938.3 868.6 L934.3 869.7 L930.6 871.0 L927.1 873.0 L923.9 875.6 L920.3 877.3 L916.6 878.7 M834.7 905.1 L839.1 907.3 L843.7 909.2 M865.1 864.9 L867.2 868.1 L869.1 871.5 L872.4 874.0 L875.1 876.9 L874.0 882.0 L875.7 885.5 L878.5 888.3 M843.7 909.2 L846.8 907.1 L850.1 905.5 L854.1 905.0 L855.8 900.7 L859.6 899.8 L861.5 895.8 L866.7 897.2 L869.3 894.4 L872.5 892.7 L875.1 889.7 L878.5 888.3 M844.7 1065.4 L847.0 1064.8 M880.1 1101.3 L878.3 1098.0 L878.2 1094.0 L875.2 1091.3 L873.0 1088.2 L873.6 1083.9 L871.2 1080.9 L870.3 1077.3 L867.3 1074.5 L866.7 1070.8 M847.0 1064.8 L851.1 1065.5 L855.0 1066.9 L858.8 1068.4 L862.9 1069.0 L866.7 1070.8 M775.6 867.4 L774.2 863.9 L772.4 860.6 L769.9 857.6 L770.7 853.4 L772.2 848.9 L769.2 846.0 L765.8 843.3 L765.6 839.4 L764.2 836.0 L761.2 833.1 L760.7 829.4 L760.3 825.6 M800.3 799.4 L797.3 798.9 L794.7 797.3 M760.3 825.6 L763.1 823.1 L765.4 820.1 L769.2 818.9 L772.7 817.2 L774.4 813.5 L777.3 811.2 L780.8 809.6 L782.6 805.9 L785.1 803.2 L789.5 802.7 L792.5 800.5 L794.7 797.3 M811.9 745.6 L810.1 748.8 L808.8 752.2 L806.8 755.3 L804.4 758.3 L804.3 762.3 L802.0 765.3 L800.7 768.7 L799.8 772.3 L796.6 774.9 L795.5 778.4 L793.7 781.6 L791.8 784.8 L790.6 788.3 M768.8 745.6 L767.6 749.0 L767.0 752.5 L763.9 755.2 L765.1 759.4 L762.5 762.3 L761.6 765.8 M761.6 765.8 L764.9 767.6 L767.1 770.7 L770.1 772.8 L771.6 776.9 L778.2 774.4 L779.0 779.3 L782.0 781.5 L784.2 784.6 L787.1 786.8 L790.6 788.3 M794.7 797.3 L793.3 792.5 L790.6 788.3 M632.6 762.4 L636.3 760.9 L640.1 760.2 L644.1 760.8 M632.6 762.4 L630.5 759.0 L628.9 755.2 L627.7 751.3 L623.5 749.3 L621.8 745.6 M644.1 760.8 L644.2 757.1 L646.0 753.7 L646.8 750.2 L643.8 746.2 L645.2 742.7 L648.8 739.5 L648.2 735.8 L647.7 732.1 M621.8 745.6 L624.0 742.5 L622.6 737.6 L628.1 736.1 L628.6 732.1 M647.7 732.1 L643.9 731.8 L640.1 729.1 L636.2 733.5 L632.4 732.3 L628.5 732.1 M678.1 763.8 L680.0 760.3 L681.0 756.5 L678.9 751.5 L682.9 748.8 L685.2 745.5 L686.0 741.6 M678.1 763.8 L674.9 765.6 L670.6 764.3 L667.7 766.8 L664.3 768.2 L661.0 769.7 M661.0 769.7 L657.1 768.9 L654.2 766.2 L651.3 763.5 L648.4 760.8 L644.1 760.8 M686.0 741.6 L683.3 738.6 L678.5 739.5 L675.6 737.1 L672.8 734.1 L669.7 732.1 L667.2 728.7 L662.4 729.6 L658.6 728.6 L656.2 725.2 M656.2 725.2 L654.0 728.3 L650.8 730.2 L647.7 732.1 M661.0 769.7 L659.4 772.9 L656.8 775.8 L657.5 779.7 L657.4 783.4 L656.9 787.0 L654.7 790.0 L654.0 793.5 L652.8 796.8 L649.1 799.3 L647.3 802.4 L646.8 806.0 L649.4 810.6 L647.6 813.7 L646.2 817.0 L643.8 819.9 L643.2 823.5 L641.8 826.7 M598.3 801.0 L600.9 798.5 L603.4 795.7 L606.7 793.7 L609.6 791.4 L610.3 787.0 L611.1 782.8 L614.3 780.7 L617.5 778.7 L619.8 775.8 L623.3 773.9 L626.9 772.2 L628.5 768.6 L629.8 764.9 L632.6 762.4 M598.3 801.0 L601.1 803.4 L603.7 806.0 L606.0 808.9 L607.6 812.4 L610.5 814.8 L614.3 816.1 L616.3 819.4 L618.7 822.2 M641.8 826.7 L637.9 826.4 L633.7 827.3 L630.1 825.1 L626.9 821.1 L622.6 822.6 L618.7 822.2 M569.2 866.9 L573.2 866.1 L577.6 868.4 L581.5 866.6 L585.4 864.8 L589.3 863.2 L593.5 864.3 M589.1 915.8 L589.5 911.9 L592.9 909.4 L595.5 906.6 L595.0 902.2 L596.9 899.0 L599.8 896.2 L600.0 892.2 L601.3 888.7 L603.7 885.7 M593.5 864.3 L595.2 867.9 L596.4 871.7 L599.6 874.6 L600.2 878.6 L601.6 882.3 L603.7 885.7 M693.0 737.4 L689.8 740.0 L686.0 741.6 M693.0 737.4 L692.3 733.8 L692.8 730.3 L692.6 726.8 L696.2 723.3 L694.6 719.7 L692.0 716.1 L692.4 712.6 L692.2 709.1 L694.3 705.6 L694.5 702.0 L693.8 698.5 M656.2 725.2 L655.7 721.0 L655.0 716.8 M655.0 716.8 L656.9 713.6 L657.1 709.5 L659.2 706.4 L662.6 703.9 L664.3 700.5 L664.9 696.7 L666.7 693.4 M666.7 693.4 L670.8 693.0 L674.4 695.1 L678.4 695.3 L681.9 698.0 L686.4 695.5 L690.0 697.4 L693.8 698.5 M728.6 690.0 L724.4 691.2 L722.5 685.7 L718.9 685.0 L715.4 684.3 L711.6 684.4 M736.3 720.7 L733.8 723.2 L730.9 725.4 L729.7 729.2 L727.0 731.4 L722.7 732.2 L721.0 735.4 L718.9 738.4 L716.3 740.7 M716.3 740.7 L712.4 740.3 L708.7 738.1 L704.4 740.6 L700.7 738.9 L696.9 738.2 L693.0 737.4 M711.6 684.4 L709.3 687.6 L706.5 690.2 L701.2 689.5 L699.9 694.0 L698.0 697.6 L693.8 698.5 M646.0 667.7 L642.2 667.9 L638.5 667.7 L635.2 665.3 L631.6 664.3 L627.8 665.0 L624.1 664.9 L620.4 664.5 L616.8 663.8 L613.3 662.4 L609.6 662.2 M646.0 667.7 L643.4 670.5 L642.3 674.1 L641.7 678.0 L639.1 680.8 L636.9 683.7 L633.1 685.8 L632.1 689.5 L631.7 693.5 L630.0 696.7 L628.0 699.8 L625.5 702.6 M625.5 702.6 L622.1 704.5 L618.4 705.8 M609.6 662.2 L608.9 666.3 L607.9 670.2 L605.2 673.5 M605.2 673.5 L605.3 677.5 L608.8 680.3 L609.3 684.1 L609.6 688.0 L612.1 691.2 L611.0 695.5 L612.9 698.9 L614.4 702.4 M618.4 705.8 L616.4 704.0 L614.4 702.4 M600.5 650.1 L602.5 653.4 L606.8 654.9 L607.4 659.2 L609.6 662.2 M640.9 633.1 L643.0 636.5 L643.7 640.4 L645.0 644.1 L645.6 648.1 L648.2 651.2 L651.3 654.2 L650.9 658.6 L652.6 662.1 M652.6 662.1 L650.1 663.3 L650.3 666.1 M650.3 666.1 L648.2 667.0 L646.0 667.7 M655.0 716.8 L652.1 714.3 L648.7 713.0 L644.9 712.7 L641.2 711.9 L638.4 709.3 L636.0 706.1 L632.5 704.9 L628.6 704.6 L625.5 702.6 M666.7 693.4 L664.8 690.4 L663.0 687.4 L660.5 684.7 L657.5 682.4 L657.5 678.3 L655.5 675.4 L654.7 671.7 L653.1 668.6 L650.3 666.1 M616.1 714.6 L619.2 716.8 L620.0 720.6 L622.7 723.1 L623.3 727.0 L626.1 729.4 L628.5 732.1 M616.1 714.6 L615.5 709.7 L618.4 705.8 M574.1 682.5 L575.7 687.7 L580.7 689.9 M580.7 689.9 L584.1 688.4 L587.4 686.7 L589.6 683.4 L592.9 681.7 L595.0 678.1 L599.1 677.7 L602.3 675.8 L605.2 673.5 M580.7 689.9 L582.2 693.5 L581.7 697.5 M581.7 697.5 L585.3 697.7 L589.0 698.2 L592.6 698.5 L596.5 697.6 L599.8 700.5 L603.2 702.7 L607.1 701.4 L610.7 702.2 L614.4 702.4 M1225.2 624.5 L1228.8 626.1 L1232.5 627.0 L1236.7 625.6 L1240.0 627.9 L1244.0 627.4 L1247.6 628.8 L1250.7 632.3 L1254.8 631.2 L1258.5 632.2 L1262.2 632.6 L1266.1 632.6 L1269.6 634.4 M1225.2 624.5 L1222.2 622.6 L1220.0 619.5 L1216.8 617.9 L1212.9 617.2 L1210.8 614.0 L1208.3 611.4 L1204.7 610.2 L1202.4 607.3 L1199.8 604.8 L1195.9 604.1 L1193.1 601.8 L1190.6 599.3 M1190.6 599.3 L1190.6 595.6 L1189.6 592.0 L1190.2 588.3 L1189.6 584.7 L1188.5 581.2 L1186.2 577.7 L1189.4 573.8 L1189.2 570.2 L1188.1 566.6 L1185.2 563.2 L1187.4 559.4 L1185.7 555.9 L1186.4 552.1 L1186.0 548.5 L1186.8 544.8 L1184.0 541.4 L1184.4 537.7 L1184.4 534.0 M1274.1 632.6 L1271.7 630.0 L1270.2 626.7 L1268.6 623.6 L1266.5 620.7 L1263.9 618.3 L1262.3 615.2 L1260.1 612.5 L1257.6 609.9 L1255.1 607.4 L1254.7 603.4 L1253.5 599.9 L1250.9 597.5 L1247.2 595.8 L1245.5 592.7 L1244.1 589.5 L1242.1 586.5 L1239.8 583.9 L1239.0 580.2 L1237.6 576.9 L1234.5 574.8 L1230.7 573.2 L1229.2 570.0 L1228.7 566.1 L1227.1 562.9 L1224.4 560.5 L1222.4 557.6 L1220.8 554.5 L1218.1 552.1 L1215.2 549.9 L1213.7 546.6 L1213.1 542.8 L1211.1 539.9 L1208.4 537.5 L1206.0 534.9 L1204.3 531.8 L1202.3 529.0 L1200.4 526.1 M1200.4 526.1 L1197.4 528.2 L1194.5 530.4 L1190.9 531.1 L1187.5 532.2 L1184.4 534.0 M1251.6 475.5 L1249.1 478.2 L1246.8 481.0 L1244.4 483.7 L1241.0 485.3 L1237.7 487.1 L1235.8 490.3 L1233.7 493.2 L1230.7 495.3 L1228.8 498.5 L1227.5 502.3 L1224.4 504.3 L1220.4 505.4 L1217.9 508.0 L1215.7 510.9 L1212.4 512.6 L1209.7 515.0 L1208.3 518.8 L1206.2 521.7 L1203.0 523.7 L1200.4 526.1 M1254.3 658.0 L1256.2 655.0 L1259.7 653.1 L1260.4 649.4 L1261.0 645.6 L1263.3 642.8 L1265.5 640.1 L1268.2 637.6 L1269.6 634.4 M1138.6 515.4 L1140.2 518.9 L1144.8 519.0 L1146.6 522.2 L1148.9 524.9 L1152.6 526.0 L1153.7 530.2 L1157.0 531.7 M1157.0 531.7 L1161.0 531.1 L1164.8 532.0 L1168.8 531.6 L1172.6 533.4 L1176.4 535.6 L1180.5 533.8 L1184.4 534.0 M1183.4 705.2 L1179.3 704.2 L1175.0 704.2 M1225.2 624.5 L1222.2 626.4 L1219.5 629.0 L1216.1 630.4 L1212.2 630.9 L1208.6 631.7 L1206.5 635.4 L1203.7 637.8 L1200.8 640.0 L1197.3 641.3 L1193.7 642.2 L1189.6 642.4 L1187.3 645.5 L1184.9 648.6 L1181.8 650.5 L1178.1 651.4 L1175.0 653.2 M1175.0 704.2 L1175.6 700.5 L1175.0 696.9 L1176.4 693.3 L1176.0 689.6 L1173.9 686.0 L1174.4 682.3 L1172.4 678.7 L1174.6 675.1 L1176.1 671.4 L1175.1 667.8 L1176.5 664.1 L1175.2 660.5 L1175.2 656.9 L1175.0 653.2 M1156.1 758.4 L1155.1 754.8 L1153.3 751.3 L1154.3 747.3 L1151.5 744.1 L1154.2 739.7 L1151.5 736.4 L1150.6 732.8 L1150.2 729.1 L1146.9 726.0 L1148.8 721.7 L1146.9 718.3 L1146.6 714.6 M1175.0 704.2 L1171.2 704.8 L1167.8 706.6 L1164.5 708.4 L1161.4 711.1 L1157.2 710.5 L1153.9 712.7 L1149.7 712.1 L1146.6 714.6 M1081.1 706.5 L1084.8 706.2 L1088.4 704.6 L1092.1 704.7 L1095.9 705.6 L1099.8 707.7 L1103.3 705.2 L1107.0 703.9 L1110.6 702.7 L1114.4 704.2 L1118.3 705.5 L1121.9 703.9 L1125.5 703.1 L1129.3 703.1 M1051.8 673.8 L1051.9 670.0 L1054.9 667.7 M1062.3 661.0 L1057.5 663.1 L1054.9 667.7 M1062.3 661.0 L1066.0 660.7 L1069.6 661.9 L1073.2 662.0 L1076.9 661.4 L1080.5 661.2 L1084.2 658.6 L1087.8 659.9 L1091.4 660.9 L1095.1 662.2 L1098.7 663.6 L1102.3 660.9 L1106.0 660.3 L1109.6 659.7 L1113.2 660.4 L1116.9 661.0 M1129.3 703.1 L1127.6 699.8 L1126.0 696.4 L1128.0 692.0 L1125.7 688.9 L1126.0 685.0 L1122.4 682.2 L1120.4 679.0 L1120.7 675.1 L1118.9 671.8 L1120.3 667.6 L1117.9 664.5 L1116.9 661.0 M1095.0 756.8 L1097.5 754.1 L1100.1 751.6 L1102.0 748.3 L1104.1 745.3 L1107.2 743.3 L1109.7 740.6 L1113.5 739.2 L1115.6 736.2 L1118.3 733.7 L1119.9 730.2 L1121.6 726.7 L1124.6 724.6 L1126.5 721.4 L1130.3 720.0 L1132.8 717.3 L1135.2 714.5 L1137.5 711.7 M1129.3 703.1 L1132.1 705.9 L1133.2 710.3 L1137.5 711.7 M1146.6 714.6 L1142.6 711.4 L1137.5 711.7 M1159.5 607.3 L1157.6 604.2 L1155.0 601.5 L1153.7 598.0 L1153.1 594.2 L1151.3 591.0 L1150.4 587.4 L1146.3 585.4 L1143.1 583.1 L1143.5 578.7 L1143.0 574.8 L1141.4 571.5 L1138.0 569.2 L1136.5 565.9 M1159.5 607.3 L1156.0 609.1 L1155.3 613.3 L1152.8 615.9 L1150.7 619.0 L1147.0 620.6 L1144.5 623.3 L1142.1 626.0 L1141.0 629.9 L1137.9 632.0 M1127.6 635.0 L1130.9 633.4 L1134.5 633.2 L1137.9 632.0 M1127.6 635.0 L1124.6 632.5 L1123.5 628.4 L1121.7 624.9 L1118.2 622.8 L1116.1 619.6 L1111.2 618.8 L1110.3 614.5 L1107.4 611.9 L1104.9 609.0 M1104.9 609.0 L1105.5 605.3 L1103.9 601.1 L1107.3 597.9 L1107.4 594.0 L1110.0 590.6 L1110.4 586.8 L1109.6 582.8 L1110.6 579.1 M1110.6 579.1 L1113.2 576.2 L1117.0 575.7 L1120.3 574.2 L1124.5 574.4 L1128.0 573.2 L1129.6 568.3 L1133.0 567.0 L1136.5 565.9 M1157.0 531.7 L1155.2 534.9 L1153.4 538.1 L1150.4 540.5 L1148.9 543.8 L1149.3 548.2 L1145.2 550.0 L1144.4 553.7 L1141.9 556.5 L1139.0 559.0 L1139.0 563.1 L1136.5 565.9 M1175.0 653.2 L1171.6 652.0 L1168.7 649.8 L1166.0 647.4 L1163.5 644.6 L1159.9 643.7 L1155.3 644.6 L1152.4 642.5 L1150.8 638.3 L1147.9 636.0 L1144.3 635.2 L1140.9 633.9 L1137.9 632.0 M1116.9 661.0 L1118.5 657.9 L1121.8 655.4 L1121.0 651.3 L1119.7 646.9 L1122.9 644.5 L1124.0 641.1 L1126.8 638.4 L1127.6 635.0 M1065.5 612.8 L1064.6 616.5 L1064.9 620.2 L1066.5 624.1 L1064.9 627.7 L1062.7 631.3 L1063.8 635.0 L1064.0 638.8 L1064.3 642.5 L1063.4 646.2 L1062.0 649.8 L1063.2 653.6 L1063.1 657.3 L1062.3 661.0 M1065.5 612.8 L1069.2 613.8 L1072.5 611.0 L1076.0 609.8 L1079.9 612.0 L1083.7 613.8 L1086.9 610.0 L1090.5 609.9 L1094.1 609.3 L1097.7 609.2 L1101.4 610.3 L1104.9 609.0 M1056.0 556.0 L1059.4 554.5 L1062.7 553.1 L1066.6 555.6 L1070.4 558.2 L1073.5 554.5 L1076.8 552.6 L1080.4 553.3 M1056.0 556.0 L1055.6 559.6 L1054.3 563.1 L1052.8 566.5 L1054.4 570.4 L1052.9 573.9 L1053.7 577.7 L1052.8 581.2 L1049.6 584.3 L1050.4 588.1 L1049.6 591.7 L1049.7 595.4 L1048.8 598.9 M1080.4 553.3 L1082.8 556.0 L1085.1 558.9 L1088.3 560.7 L1092.8 561.0 L1095.5 563.4 L1096.1 568.2 L1098.4 571.1 L1102.1 572.3 L1105.1 574.4 L1108.0 576.5 L1110.6 579.1 M1065.5 612.8 L1062.8 610.4 L1060.6 607.4 L1056.9 606.2 L1052.5 605.8 L1052.1 600.7 L1048.8 598.9 M1111.8 511.8 L1109.2 514.5 L1106.9 517.4 L1104.9 520.5 L1103.7 524.3 L1101.7 527.5 L1097.4 528.8 L1095.6 532.1 L1093.1 534.9 L1092.3 539.0 L1090.7 542.4 L1086.6 544.0 L1084.7 547.2 L1082.2 550.0 L1080.4 553.3 M883.4 314.8 L884.4 318.3 L884.0 322.0 L885.1 325.5 L883.7 329.2 L882.6 332.9 L884.9 336.4 L884.9 340.0 L885.1 343.6 M833.3 337.6 L836.2 340.1 L837.6 343.6 L839.0 347.2 L841.7 349.8 L842.8 353.6 L846.7 355.4 L849.4 358.0 L850.4 361.9 L852.9 364.7 L854.8 367.9 M885.1 343.6 L883.1 346.7 L879.5 347.9 L877.9 351.6 L874.0 352.3 L870.0 353.0 L868.4 356.6 L865.0 358.1 L863.2 361.5 L861.2 364.6 L857.7 365.9 L854.8 367.9 M936.7 319.4 L934.9 322.8 L935.5 326.7 L935.1 330.4 L935.3 334.2 L934.1 337.7 L930.1 340.7 L929.8 344.4 L930.7 348.4 L930.2 352.0 L929.1 355.6 M929.1 355.6 L925.6 357.0 L922.0 357.8 L918.4 355.4 L914.8 355.1 L911.2 355.6 L907.6 356.0 M885.1 343.6 L888.1 345.8 L891.1 347.9 L895.4 347.8 L897.9 350.8 L901.5 352.0 L904.1 354.9 L907.6 356.0 M759.9 546.0 L758.8 549.6 L759.0 553.7 L756.7 557.0 L754.0 560.2 L755.0 564.4 L753.8 568.1 L754.3 572.2 L751.1 575.2 L748.6 578.5 L750.2 582.9 L748.4 586.3 M759.9 546.0 L763.5 546.7 L767.0 546.0 L770.5 544.9 L774.1 545.0 L777.6 544.5 L781.1 546.8 L784.7 548.5 L788.2 546.5 L791.8 546.5 L795.3 544.7 L798.8 543.7 L802.4 546.0 L805.9 546.7 L809.4 547.0 L813.0 546.5 L816.5 546.0 M818.5 563.2 L818.7 559.6 L820.5 555.9 L816.5 552.3 L818.5 548.7 M818.5 563.2 L815.6 565.4 L812.5 567.1 L808.5 567.4 L806.2 570.5 L803.6 573.0 L801.2 575.9 L797.5 576.8 L794.1 578.1 L791.4 580.6 L786.8 580.0 L785.0 583.8 L782.9 587.2 L779.5 588.4 L776.3 590.1 L772.7 591.1 L770.0 593.5 L766.9 595.4 M766.9 595.4 L763.2 593.7 L759.9 591.1 L755.7 590.2 L751.9 588.5 L748.4 586.3 M816.5 546.0 L818.5 548.7 M696.5 554.7 L699.3 557.2 L702.3 559.3 L705.5 561.0 L710.1 560.7 L711.5 565.1 L715.8 565.3 L716.1 571.5 L720.5 571.4 L723.6 573.3 L727.3 574.3 L731.4 574.8 L732.6 579.6 L736.1 581.0 L738.3 584.2 L742.0 585.3 L745.2 587.1 M729.5 518.0 L732.4 520.5 L733.9 524.4 L737.9 525.6 L739.5 529.4 L744.4 529.6 L746.5 532.9 L749.9 534.7 L752.1 537.8 L753.9 541.5 L757.0 543.6 L759.9 546.0 M745.2 587.1 L748.4 586.3 M730.7 504.5 L733.5 501.6 L737.3 499.9 L740.5 497.4 L743.5 494.7 L746.8 492.3 M810.5 506.2 L807.8 505.0 L807.5 502.0 M810.5 506.2 L810.7 509.8 L812.3 513.3 L813.0 516.9 L814.6 520.4 L814.9 524.0 L812.5 528.1 L811.8 531.9 L813.9 535.3 L815.4 538.8 L816.3 542.3 L816.5 546.0 M746.8 492.3 L750.3 492.9 L753.9 493.4 L757.2 495.5 L760.9 495.5 L764.9 493.2 L768.3 494.9 L771.8 496.4 L775.3 497.4 L778.5 499.9 L782.5 497.7 L786.4 496.4 L789.6 499.0 L793.2 499.8 L796.6 501.2 L800.2 502.0 L804.0 500.9 L807.5 502.0 M775.2 622.0 L775.0 617.8 L772.9 614.3 L770.2 611.0 L771.0 606.6 L769.4 603.0 L768.9 598.9 L766.9 595.4 M775.2 622.0 L774.7 625.5 L772.6 628.5 L772.1 632.1 M732.8 603.4 L732.7 607.1 L733.1 610.9 L729.6 614.4 L730.7 618.2 L732.3 622.1 L733.4 626.0 L730.3 629.5 L730.4 633.2 M732.8 603.4 L735.0 599.8 L736.2 595.7 L742.1 595.1 L742.4 590.1 L745.2 587.1 M730.4 633.2 L733.5 635.4 L737.7 635.1 L740.8 637.5 L743.4 640.8 L747.4 641.1 L751.0 642.4 M775.2 622.0 L778.9 622.0 L782.1 619.6 L785.4 618.2 L789.0 617.6 L792.7 617.2 L796.7 617.8 L799.3 613.8 L803.0 613.3 L806.8 613.5 L810.0 611.5 L813.6 611.0 M818.5 563.2 L819.3 566.3 L821.1 569.0 M821.1 569.0 L819.6 572.4 L820.2 576.1 L820.4 579.7 L818.1 582.9 L819.7 586.8 L816.6 589.9 L815.3 593.2 L816.6 597.1 L814.2 600.3 L815.6 604.1 L814.9 607.6 L813.6 611.0 M803.5 660.5 L804.9 657.1 L805.1 653.3 L808.6 651.0 L810.7 648.0 L813.0 645.1 L813.8 641.5 L811.8 636.5 L816.0 634.5 L819.1 632.0 L820.4 628.7 L821.2 625.0 M813.6 611.0 L815.4 614.5 L817.1 618.2 L819.6 621.4 L821.2 625.0 M853.9 665.0 L854.4 661.2 L854.5 657.5 L852.9 653.8 L854.0 650.0 L850.6 646.4 L853.8 642.5 L852.4 638.8 L853.4 635.0 L852.4 631.3 M821.2 625.0 L824.9 624.6 L828.5 624.8 L831.5 627.8 L834.8 629.5 L838.1 630.8 L842.2 628.6 L845.9 628.1 L849.1 629.8 L852.4 631.3 M992.0 749.0 L990.7 752.5 L991.1 756.3 L990.0 759.8 L988.5 763.2 L988.5 766.9 L985.7 770.0 L984.4 773.4 L985.1 777.4 L983.6 780.8 L983.5 784.5 L983.4 788.2 L981.4 791.5 L980.5 795.0 M992.0 749.0 L987.9 748.8 L984.8 751.3 L981.7 753.6 L978.9 757.1 L974.4 755.7 L970.5 755.9 L966.3 755.3 L963.5 758.5 L960.2 760.5 L956.5 761.5 M956.5 761.5 L953.3 764.2 L951.7 768.0 L950.4 772.0 L947.7 775.2 L945.4 778.5 M980.5 795.0 L976.8 794.8 L973.1 793.7 L969.3 795.8 L965.6 795.9 L961.9 796.4 L958.2 795.6 L954.4 793.3 L950.7 795.0 M950.7 795.0 L948.8 791.1 L948.3 786.7 L947.3 782.5 L945.4 778.5 M1006.4 732.8 L1003.8 735.3 L999.8 736.6 L1000.4 741.9 L998.5 745.1 L994.6 746.5 L992.0 749.0 M1003.0 721.5 L999.4 719.7 L995.8 717.9 L991.5 717.9 L988.1 715.5 M988.1 715.5 L984.5 716.0 L980.8 716.3 L977.1 712.9 L973.4 715.0 L969.8 714.3 L966.1 718.0 L962.4 715.6 L958.8 715.5 M958.8 715.5 L955.8 717.8 L953.5 721.1 L951.2 724.3 L947.9 726.3 L943.3 726.7 L939.7 728.3 L937.4 731.5 L934.5 733.9 L931.4 736.2 L929.4 739.7 L926.1 741.7 M926.1 741.7 L929.0 743.8 L932.8 744.6 L936.4 745.7 L937.1 751.3 L940.4 752.9 L943.7 754.5 L949.1 752.8 L950.6 757.2 L953.3 759.8 L956.5 761.5 M921.1 774.0 L924.6 774.7 L928.1 774.8 L931.3 777.2 L934.7 778.4 L938.8 775.3 L942.2 776.7 L945.4 778.5 M912.9 753.5 L916.4 750.7 L916.0 745.6 L919.3 742.7 M919.3 742.7 L922.5 741.1 L926.1 741.7 M936.8 816.5 L938.9 813.5 L941.2 810.6 L941.4 806.4 L943.8 803.6 L946.3 800.8 L949.3 798.4 L950.7 795.0 M929.0 669.8 L925.8 667.1 L921.8 666.4 L918.3 664.5 L913.3 666.1 L910.8 661.7 L907.0 660.5 L903.3 659.0 M929.0 669.8 L928.8 673.6 L929.6 677.4 L931.5 681.2 L931.2 685.0 L928.4 689.0 L929.9 692.8 L930.4 696.6 M930.4 696.6 L927.6 699.4 L924.0 701.1 L921.2 703.8 L917.3 705.2 L914.4 707.8 L912.3 711.7 L908.2 712.5 L905.0 714.7 M882.8 673.9 L882.9 677.6 L884.4 681.0 L885.2 684.6 L888.0 687.7 L887.2 691.7 L887.6 695.3 L887.8 699.0 L888.0 702.7 L890.2 706.0 L890.7 709.6 M882.8 673.9 L885.2 671.0 L888.3 669.2 L890.7 666.3 L894.8 665.8 L898.6 664.8 L900.6 661.5 L903.3 659.0 M890.7 709.6 L894.7 709.8 L897.2 713.9 L901.1 714.4 L905.0 714.7 M902.7 626.2 L902.1 629.9 L902.5 633.5 L903.1 637.2 L903.6 640.8 L904.1 644.4 L901.5 648.1 L903.0 651.8 L903.6 655.4 L903.3 659.0 M902.7 626.2 L905.8 624.5 L908.6 622.3 L913.1 623.4 L915.6 620.7 L917.8 617.1 L921.6 617.0 L924.5 614.7 L928.2 614.4 L931.1 612.3 M931.1 612.3 L933.9 614.6 L935.4 617.9 L936.7 621.3 L940.0 623.2 L940.9 627.0 L942.7 630.0 L947.5 630.7 L948.5 634.4 L950.2 637.5 L953.1 639.8 L954.3 643.2 L955.9 646.4 L958.8 648.7 M958.8 648.7 L955.0 651.3 L956.4 656.7 L952.9 659.4 M952.9 659.4 L950.0 661.9 L946.9 664.2 L943.0 664.5 L939.4 665.6 L934.6 663.8 L932.4 668.1 L929.0 669.8 M952.9 659.4 L954.5 662.8 L957.0 665.5 L960.0 668.0 L961.8 671.2 L960.9 676.1 L964.2 678.3 L965.8 681.7 L970.0 683.5 L971.7 686.7 L973.3 690.0 L971.8 695.4 L976.1 697.0 L978.7 699.7 L981.3 702.4 L982.9 705.8 L984.0 709.4 L985.4 712.9 L988.1 715.5 M958.8 715.5 L955.0 714.3 L951.7 712.4 L949.2 709.3 L946.4 706.8 L944.8 702.2 L940.5 701.9 L937.4 699.7 L933.0 699.5 L930.4 696.6 M919.3 742.7 L917.6 739.2 L915.7 735.7 L912.2 733.1 L910.8 729.4 L912.2 724.3 L908.3 721.9 L906.5 718.4 L905.0 714.7 M869.9 725.4 L873.2 723.5 L875.0 719.7 L878.9 718.6 L882.4 717.1 L885.3 714.8 L887.1 710.9 L890.7 709.6 M857.6 669.0 L861.1 670.3 L864.6 671.5 L868.3 671.7 L871.7 673.1 L875.9 670.9 L879.3 672.6 L882.8 673.9 M902.7 626.2 L899.7 624.3 L897.2 621.7 L893.0 621.7 L889.6 620.4 L889.2 614.6 L885.6 613.5 L882.4 612.0 L878.4 611.6 L875.3 610.0 L873.0 607.0 M852.4 631.3 L854.2 628.1 L856.2 625.2 L860.3 624.0 L862.4 621.2 L864.4 618.3 L865.4 614.5 L867.6 611.7 L870.6 609.7 L873.0 607.0 M964.0 646.6 L967.6 647.6 L971.1 649.1 L975.1 648.9 L978.6 650.1 L981.4 653.9 L985.4 653.7 L989.4 653.4 L992.7 655.5 L996.4 656.2 L999.8 657.7 M964.0 646.6 L966.2 643.7 L968.0 640.5 L969.0 636.9 L973.3 635.2 L973.5 631.1 L973.2 626.7 L976.9 624.7 L979.0 621.7 L980.7 618.5 M999.8 657.7 L1001.2 654.4 L1002.7 651.2 L1005.0 648.4 L1008.2 645.9 L1007.3 641.6 L1006.8 637.4 L1009.9 634.9 L1011.5 631.7 L1013.4 628.7 L1014.9 625.5 M980.7 618.5 L984.5 619.0 L988.2 618.6 L992.0 618.6 L995.7 618.3 L999.5 616.3 L1003.2 619.8 L1007.0 618.9 L1010.7 619.5 L1014.5 618.5 M1014.9 625.5 L1013.2 622.1 L1014.5 618.5 M958.8 648.7 L961.1 647.0 L964.0 646.6 M1015.8 696.8 L1014.2 693.6 L1012.6 690.5 L1013.3 686.4 L1012.1 683.1 L1009.8 680.2 L1007.6 677.3 L1004.1 675.0 L1004.3 671.1 L1003.2 667.7 L1003.6 663.8 L1001.9 660.6 L999.8 657.7 M971.4 604.0 L974.2 607.3 L977.5 610.3 L977.9 615.2 L980.7 618.5 M971.4 604.0 L967.5 603.9 L964.9 599.6 L961.1 599.3 L956.4 601.9 L953.2 599.5 L949.8 597.8 L946.2 596.6 M931.1 612.3 L932.8 608.1 L934.9 604.1 M934.9 604.1 L939.4 602.7 L941.9 598.3 L946.2 596.6 M1054.9 667.7 L1051.8 665.6 L1049.4 662.9 L1047.6 659.6 L1046.4 655.8 L1042.2 654.7 L1039.8 652.0 L1037.4 649.3 L1034.1 647.4 L1031.7 644.6 L1030.0 641.3 L1029.4 636.8 L1024.9 636.1 L1021.8 634.0 L1019.5 631.2 L1017.4 628.1 L1014.9 625.5 M994.6 573.0 L992.5 575.8 L991.0 579.0 L989.5 582.3 L987.7 585.4 L983.9 586.9 L980.6 588.8 L978.6 591.7 L976.9 594.9 L975.9 598.5 L974.5 601.9 L971.4 604.0 M994.6 573.0 L998.1 575.0 L999.2 578.7 L1000.4 582.4 L1003.6 584.6 L1005.6 587.7 L1009.5 589.3 L1011.5 592.3 L1010.6 597.7 L1014.0 599.8 L1017.5 601.6 L1019.8 604.5 L1021.7 607.6 M1021.7 607.6 L1018.9 611.0 L1018.4 615.9 L1014.5 618.5 M1048.8 598.9 L1045.3 599.6 L1042.1 601.3 L1038.6 602.1 L1035.9 605.1 L1032.1 605.0 L1027.8 603.3 L1025.1 606.5 L1021.7 607.6 M1020.0 812.3 L1018.5 814.7 L1016.0 815.9 M980.5 795.0 L981.8 798.4 L983.4 801.6 L987.4 803.6 L985.6 808.5 L988.4 811.2 L990.2 814.3 M1016.0 815.9 L1012.3 815.9 L1008.6 815.5 L1004.9 815.9 L1001.3 813.5 L997.5 815.5 L993.9 813.7 L990.2 814.3 M947.0 833.3 L950.6 832.6 L954.2 833.0 L957.8 831.3 L961.4 831.8 L965.2 835.1 L968.6 832.2 L972.2 831.9 L975.8 832.0 M975.8 832.0 L978.4 829.2 L981.0 826.4 L984.6 824.5 L984.6 819.5 L987.1 816.7 L990.2 814.3 M1037.4 1047.1 L1035.7 1043.7 L1034.9 1040.0 L1037.3 1035.3 L1032.2 1033.1 L1029.4 1030.1 L1029.7 1026.1 L1029.0 1022.4 L1028.0 1018.9 M1087.0 983.2 L1083.6 982.5 L1080.1 981.7 L1076.3 982.9 L1072.7 983.1 L1069.5 980.6 L1066.1 979.1 L1062.4 979.7 L1058.8 980.1 L1055.2 979.7 L1051.7 979.4 L1048.2 979.1 L1044.8 977.6 L1041.3 976.8 L1037.6 977.2 M1028.0 1018.9 L1028.6 1015.3 L1029.5 1011.9 L1028.7 1008.0 L1030.8 1004.9 L1032.1 1001.5 L1033.3 998.1 L1036.2 995.1 L1034.0 991.0 L1034.4 987.4 L1035.8 984.1 L1036.0 980.4 L1037.6 977.2 M1041.3 928.8 L1044.5 927.4 L1047.3 925.2 L1051.0 924.7 L1054.6 924.1 L1057.3 921.4 L1060.5 920.1 L1063.2 917.5 L1066.4 915.9 L1069.9 915.2 L1073.7 915.0 L1076.7 913.0 L1079.8 911.3 L1082.8 909.5 L1085.3 906.3 L1089.3 906.7 L1092.4 904.9 L1095.7 903.6 L1098.8 902.0 M1041.3 928.8 L1041.3 932.5 L1042.0 936.2 L1040.8 939.7 L1040.6 943.3 L1038.4 946.8 L1037.9 950.3 L1037.7 953.9 L1037.4 957.6 L1038.8 961.3 L1038.0 964.9 L1038.4 968.6 L1037.3 972.1 L1036.7 975.7 M1036.7 975.7 L1037.6 977.2 M805.9 949.7 L809.6 949.2 L813.2 951.1 L817.0 950.7 L820.6 951.7 L824.1 954.0 L828.1 951.3 L831.7 953.4 L835.6 951.9 L839.2 952.8 L843.0 952.7 L846.6 954.0 L850.1 955.5 L854.0 954.8 L857.6 955.5 M843.7 909.2 L845.0 912.5 L845.7 916.1 L845.9 919.9 L848.3 922.8 L851.5 925.4 L852.0 929.0 L854.8 931.8 L855.6 935.3 L853.7 939.9 L855.4 943.1 L857.7 946.1 L859.7 949.1 L860.9 952.5 M857.6 955.5 L859.4 954.1 L860.9 952.5 M806.3 999.4 L810.0 999.7 L813.6 998.9 L817.4 999.9 L820.7 995.6 L824.4 995.7 L828.4 998.6 L831.9 996.9 L835.7 998.2 L839.0 994.4 L842.6 993.9 L846.5 995.6 L850.1 994.6 M857.6 955.5 L855.5 958.8 L856.4 962.7 L856.7 966.4 L855.5 969.9 L855.6 973.6 L851.6 976.5 L851.0 980.0 L853.5 984.2 L851.9 987.6 L851.1 991.1 L850.1 994.6 M847.0 1064.8 L847.2 1061.0 L848.1 1057.5 L848.9 1053.9 L848.8 1050.1 L852.3 1047.0 L852.1 1043.3 L852.3 1039.5 L854.3 1036.2 L851.6 1031.9 L853.4 1028.5 L855.1 1025.1 L854.4 1021.2 L857.9 1018.1 L857.8 1014.4 L857.7 1010.6 L858.6 1007.0 M850.1 994.6 L852.2 997.7 L854.1 1001.0 L857.2 1003.4 L858.6 1007.0 M545.7 682.5 L546.3 686.5 L545.6 690.8 L549.7 694.2 L549.6 698.4 L549.4 702.6 M581.7 697.5 L580.7 699.8 M549.4 702.6 L552.9 706.0 L558.2 705.5 L562.0 708.3 M580.7 699.8 L577.0 701.5 L573.8 704.4 L570.0 706.1 L565.0 705.0 L562.0 708.3 M758.5 880.4 L754.8 879.4 L750.9 880.7 L747.1 881.0 L743.6 877.3 L739.8 877.5 L735.9 879.1 L732.2 878.9 L728.4 879.5 L724.7 877.7 L721.0 877.4 M760.3 825.6 L758.4 824.5 M721.0 877.4 L718.9 874.3 L718.9 870.2 L716.7 867.1 L715.9 863.4 L712.1 861.2 L711.0 857.6 M711.0 857.6 L710.5 853.7 L710.9 850.1 L713.9 847.1 L715.3 843.7 L716.9 840.4 L715.4 836.3 L716.5 832.9 M716.5 832.9 L719.8 831.1 L723.5 831.4 L727.2 831.9 L730.5 830.2 L734.1 829.9 L737.4 828.2 L740.7 826.5 L744.4 827.1 L748.4 829.0 L751.4 825.8 L754.7 824.2 L758.4 824.5 M678.1 763.8 L680.6 766.5 L681.4 770.5 L684.7 772.6 L688.2 774.5 L689.2 778.5 L691.7 781.1 L694.6 783.6 L695.2 787.7 L697.9 790.3 L701.4 792.3 L703.0 795.7 M641.8 826.7 L643.9 827.4 L645.5 829.0 M645.5 829.0 L649.0 828.0 L652.5 827.0 L655.3 824.3 L658.5 822.5 L662.2 821.9 L665.4 820.1 L668.6 818.5 L672.5 818.2 L676.1 817.4 L679.2 815.5 L682.1 813.0 L685.3 811.1 L688.9 810.4 L692.3 809.1 L695.5 807.4 L699.0 806.3 M703.0 795.7 L702.5 799.5 L701.2 803.1 L699.0 806.3 M743.7 932.4 L741.2 929.9 L737.5 928.9 L735.1 926.3 L731.2 925.5 L728.8 922.9 L727.4 919.1 L724.2 917.5 L722.9 913.4 L719.6 911.9 L716.0 910.9 L713.3 908.6 L709.4 907.9 L707.1 905.2 L704.7 902.6 M721.0 877.4 L718.6 880.2 L714.5 881.5 L714.2 886.1 L712.0 888.9 L709.3 891.4 L707.4 894.7 L704.5 896.9 M704.7 902.6 L706.8 899.7 L704.5 896.9 M675.0 651.6 L679.0 651.1 L682.5 653.7 L686.2 654.7 L690.1 654.8 L694.4 652.7 L697.8 655.6 L701.6 656.2 M675.0 651.6 L674.6 648.0 L675.0 644.5 L675.3 640.9 L676.5 637.3 L675.1 633.7 L673.8 630.1 L673.8 626.6 L675.0 623.0 L675.5 619.4 L677.3 615.8 L674.3 612.2 L674.3 608.7 L674.2 605.1 L674.5 601.5 L676.1 597.9 L675.3 594.3 L675.0 590.8 M675.0 590.8 L677.9 592.8 L681.1 594.3 L683.8 596.7 M683.8 596.7 L686.4 599.3 L688.6 602.3 L689.9 606.0 L692.7 608.6 L693.2 612.8 L697.1 614.6 L699.6 617.3 L701.7 620.4 L705.9 621.9 L705.4 626.9 L709.1 628.8 L709.7 633.0 L712.4 635.6 L715.0 638.3 M715.0 638.3 L712.1 640.8 L709.7 643.6 L708.3 647.2 L707.9 651.6 L703.6 653.0 L701.6 656.2 M652.6 662.1 L655.2 659.2 L658.9 658.9 L662.9 659.0 L665.3 655.9 L668.6 654.6 L671.7 652.8 L675.0 651.6 M711.6 684.4 L710.3 680.9 L710.6 676.9 L707.9 673.8 L706.6 670.3 L704.1 667.2 L704.1 663.2 L702.8 659.7 L701.6 656.2 M671.0 585.1 L674.6 586.8 L675.0 590.8 M732.8 603.4 L729.2 604.0 L725.9 602.2 L722.3 602.1 L718.9 600.6 L715.6 599.1 L711.7 601.5 L708.1 601.5 L704.8 599.5 L701.1 600.6 L698.1 596.1 L694.3 597.8 L690.7 597.8 L687.2 597.3 L683.8 596.7 M730.4 633.2 L726.1 633.3 L722.0 633.7 L719.2 638.1 L715.0 638.3 M797.9 355.3 L800.3 357.9 L802.2 361.0 L804.8 363.5 L808.5 364.9 L809.6 368.8 L813.2 370.4 L815.0 373.6 L815.8 377.6 L819.6 379.0 L820.8 382.7 L823.8 384.8 L827.2 386.5 L828.9 389.9 L831.7 392.1 L833.7 395.1 M854.8 367.9 L855.3 371.8 L854.2 375.6 L854.0 379.4 L852.4 383.1 L852.4 387.0 L852.0 390.8 M833.7 395.1 L837.3 394.1 L841.3 394.7 L844.6 392.2 L848.1 390.9 L852.0 390.8 M996.0 327.5 L997.4 331.3 L996.9 335.2 L997.5 339.1 L995.5 343.2 L996.9 347.0 L998.1 350.9 M929.1 355.6 L933.1 358.1 L936.3 361.3 L937.5 366.0 M937.5 366.0 L941.2 365.7 L944.9 365.0 L948.1 363.0 L951.6 361.6 L955.2 361.1 L958.8 360.3 L962.6 360.3 L966.5 360.7 L969.7 358.4 L972.7 355.2 L976.3 354.7 L980.4 355.8 L984.1 355.4 L987.6 354.2 L991.0 353.0 L994.4 351.4 L998.1 350.9 M1069.2 361.9 L1065.5 362.4 L1062.0 364.1 L1058.3 364.1 L1054.3 363.4 L1051.0 365.6 L1047.3 365.9 L1043.7 366.8 L1040.5 369.6 L1036.6 368.9 L1032.8 368.8 L1029.3 370.6 L1025.3 369.1 L1021.9 371.3 L1018.4 372.5 L1014.7 372.9 M1014.7 372.9 L1010.1 371.2 L1007.8 366.9 M998.1 350.9 L999.2 354.6 L1002.5 356.9 L1003.8 360.5 L1004.8 364.3 L1007.8 366.9 M1089.4 421.9 L1086.4 424.4 L1082.2 423.9 L1078.9 425.4 L1075.6 427.2 L1072.3 428.8 L1069.5 431.8 L1064.5 429.1 L1060.9 429.9 L1058.9 434.9 L1055.2 435.8 L1051.5 436.3 M1014.7 372.9 L1013.4 376.6 L1014.9 380.2 L1017.0 383.7 L1016.3 387.4 L1015.8 391.0 L1012.4 394.6 L1014.7 398.2 L1013.2 401.9 L1014.7 405.5 L1016.7 409.0 L1015.1 412.7 M1051.5 436.3 L1048.3 434.5 L1045.2 432.7 L1042.1 430.8 L1038.0 430.5 L1035.6 427.6 L1034.8 422.3 L1031.5 420.6 L1027.1 420.7 L1024.5 418.2 L1021.4 416.4 L1017.4 415.8 L1015.1 412.7 M810.5 506.2 L813.8 504.6 L817.0 502.6 L820.7 502.0 L824.0 500.3 L827.6 499.3 L831.5 499.2 L834.1 495.8 L836.8 492.8 L841.3 493.8 L845.1 493.4 L847.8 490.4 L851.3 489.1 L854.7 487.7 L857.8 485.6 L861.5 485.0 L864.9 483.5 M864.9 483.5 L867.6 486.3 L869.9 489.5 L874.4 490.6 L875.7 494.8 L878.7 497.3 L880.1 501.3 L883.7 503.3 M818.5 548.7 L822.0 548.4 L825.4 547.4 L828.8 546.6 L832.1 545.0 L835.4 543.6 L839.2 544.8 L842.8 544.6 L846.0 543.0 L849.5 542.3 L852.6 540.2 L856.0 539.4 L859.8 540.4 L863.3 539.6 L866.6 538.4 L870.0 537.5 M870.0 537.5 L871.0 534.0 L873.8 531.1 L871.9 526.3 L875.4 523.8 L875.8 520.0 L878.5 517.1 L881.4 514.3 L880.6 510.0 L883.4 507.1 L883.7 503.3 M1028.0 1018.9 L1024.9 1017.1 L1022.1 1014.8 L1018.6 1013.6 L1016.4 1010.4 L1012.8 1009.5 L1007.9 1010.8 L1005.7 1007.5 L1003.8 1003.6 L1000.2 1002.7 L997.2 1000.8 L994.1 999.1 L990.7 997.8 M1036.7 975.7 L1033.3 974.1 L1029.5 975.4 L1025.7 976.5 L1022.7 972.8 L1019.2 971.8 L1015.7 970.9 L1011.6 974.1 L1008.2 973.1 L1005.0 970.2 L1001.3 970.5 L997.9 969.3 L994.2 969.6 M990.7 997.8 L991.8 994.3 L990.4 990.6 L992.2 987.2 L992.2 983.6 L993.0 980.2 L993.3 976.6 L993.5 973.1 L994.2 969.6 M1041.3 928.8 L1038.1 926.6 L1034.4 926.8 L1031.2 924.8 L1027.1 926.9 L1023.7 925.5 L1020.3 924.3 M1020.3 924.3 L1017.7 926.9 L1015.8 930.2 L1013.5 933.1 L1010.6 935.5 L1007.8 938.0 L1003.9 939.4 L1002.1 942.8 L999.3 945.3 L998.4 949.4 L995.9 952.2 L993.3 954.8 L990.3 957.1 L987.6 959.7 M994.2 969.6 L991.5 966.6 L989.5 963.2 L987.6 959.7 M987.3 858.8 L990.6 856.5 L994.5 857.2 L998.2 857.1 L1001.4 854.9 L1005.5 856.5 L1008.8 854.2 L1011.6 850.2 L1015.8 852.2 L1019.6 852.3 L1022.9 850.5 M987.3 858.8 L988.1 862.9 L984.0 865.2 L983.7 869.0 M983.7 869.0 L985.8 872.0 L988.6 874.6 L991.4 877.1 L993.7 880.1 L993.5 885.0 L998.1 886.1 L1000.4 889.1 L1003.7 891.2 L1004.9 895.0 M1004.9 895.0 L1007.5 892.6 L1009.3 889.4 L1012.9 888.1 L1016.7 887.0 L1017.7 883.0 L1020.0 880.2 L1023.2 878.5 L1024.5 874.8 L1027.8 873.2 L1032.0 872.6 L1033.6 869.1 L1035.7 866.2 L1038.5 864.1 M1038.5 864.1 L1034.2 862.8 L1032.4 858.4 L1029.8 855.2 L1026.6 852.6 L1022.9 850.5 M1016.0 815.9 L1016.9 819.3 L1016.1 823.0 L1017.0 826.5 L1019.7 829.5 L1020.0 833.1 L1022.0 836.3 L1018.7 840.5 L1020.6 843.7 L1022.8 846.9 L1022.9 850.5 M975.8 832.0 L978.5 834.8 L978.6 838.7 L980.2 842.0 L979.4 846.3 L983.9 848.4 L984.6 852.0 L987.0 855.0 L987.3 858.8 M941.5 866.2 L944.7 868.8 L948.8 869.6 L952.0 871.9 L956.3 872.3 L958.7 876.2 L962.5 877.6 M962.5 877.6 L966.0 876.0 L968.7 872.5 L973.7 874.7 L976.8 872.2 L980.7 871.8 L983.7 869.0 M962.5 877.6 L962.6 881.1 L962.2 884.7 L960.7 888.3 L961.6 891.9 L961.7 895.4 L963.4 899.0 L965.4 902.6 L962.8 906.2 L962.1 909.8 L961.8 913.3 L962.5 916.9 M962.5 916.9 L965.7 915.0 L969.2 914.1 L973.1 914.6 L976.8 914.5 L980.5 914.6 L983.6 912.2 L986.6 909.5 L990.0 908.3 L993.3 906.8 L997.3 907.6 L1001.0 907.8 L1004.3 905.9 M1004.3 905.9 L1005.0 902.3 L1002.5 898.5 L1004.9 895.0 M1060.8 867.6 L1057.1 867.1 L1053.7 864.7 L1050.0 864.1 L1045.7 867.1 L1042.1 865.4 L1038.5 864.1 M1020.3 924.3 L1017.6 921.3 L1014.3 918.8 L1010.9 916.4 L1009.5 912.2 L1008.2 907.9 L1004.3 905.9 M958.5 1095.3 L956.5 1092.8 M866.7 1070.8 L870.0 1069.2 L874.2 1070.0 L876.6 1066.3 L879.4 1063.6 L883.1 1063.2 L887.0 1063.1 L890.5 1062.1 L893.4 1059.6 M956.5 1092.8 L953.4 1090.9 L950.2 1089.4 L947.5 1086.8 L944.3 1085.4 L939.6 1086.6 L937.3 1083.4 L934.1 1081.6 L931.9 1078.3 L929.2 1075.7 L924.4 1077.2 L921.1 1075.9 L918.1 1073.8 L915.3 1071.5 L913.6 1067.2 L909.3 1067.6 L905.7 1066.9 L902.6 1065.1 L899.1 1064.0 L897.0 1060.5 L893.4 1059.6 M184.4 486.1 L187.3 488.0 L190.0 490.3 L192.8 492.6 L195.5 494.7 L198.4 496.9 L201.4 498.7 L204.3 500.7 L207.2 502.7 L210.5 504.2 L213.2 506.4 L215.4 509.5 L217.9 512.0 L220.9 513.9 L224.1 515.6 L227.6 516.7 L230.5 518.7 L232.8 521.5 L235.7 523.6 L238.5 525.7 L240.7 528.6 L243.4 531.0 L246.7 532.5 L250.0 533.9 L253.6 534.9 L256.5 537.0 L258.1 540.7 L260.4 543.6 L263.6 545.2 L266.5 547.2 L269.6 549.0 L272.9 550.4 L275.9 552.3 L279.0 554.0 L281.9 556.1 L283.4 560.0 L285.4 563.2 L289.1 564.2 L292.7 565.3 L296.1 566.6 L299.2 568.3 L301.3 571.3 L303.7 574.1 L306.8 575.8 L309.0 578.8 L311.3 581.7 L315.0 582.5 L318.9 583.2 L322.1 584.8 L324.9 587.0 L326.5 590.8 L328.3 594.3 L331.8 595.5 L335.1 596.9 L337.8 599.2 L341.3 600.5 L344.6 601.9 L347.3 604.2 L349.9 606.6 L351.7 610.1 L353.5 613.6 L357.3 614.5 L361.5 614.7 L364.5 616.6 L367.3 618.8 L369.8 621.2 L372.0 624.3 L374.8 626.4 L377.5 628.7 L379.7 631.6 L383.3 632.7 L387.5 632.9 L390.5 634.9 L392.7 637.8 L394.8 640.9 L396.8 644.2 L399.9 645.8 L403.7 646.7 L406.4 648.9 L409.4 650.9 L413.0 652.0 L415.6 654.3 L417.8 657.3 L420.1 660.2 L422.4 663.0 L425.7 664.5 L429.8 664.8 L432.9 666.6 L435.2 669.4 L437.9 671.6 L440.5 674.1 L443.0 676.7 L445.9 678.7 L448.6 680.9 L451.7 682.7 L455.5 683.5 L458.5 685.3 L460.6 688.5 L463.0 691.2 L465.7 693.5 L468.6 695.5 L471.9 696.9 L474.9 698.8 L477.6 701.1 L480.7 702.8 L483.6 704.8 L486.0 707.5 L488.6 709.9 L491.5 712.0 L494.5 713.9 L497.6 715.6 L500.5 717.6 L503.2 719.9 M502.8 643.9 L503.7 647.4 L505.2 650.7 L505.5 654.5 L508.8 657.1 L510.6 660.3 L512.1 663.6 L510.1 668.2 L512.5 671.2 L513.8 674.5 L517.2 677.1 L517.9 680.7 L520.2 683.7 L518.4 688.3 L519.8 691.6 L521.8 694.7 L525.5 697.2 L525.5 701.1 L526.7 704.5 L527.3 708.1 L529.0 711.3 M503.2 719.9 L507.1 719.5 L509.9 715.6 L513.8 715.0 L517.9 714.9 L522.4 716.1 L525.4 712.8 L529.0 711.3 M468.6 775.1 L471.8 773.3 L474.5 770.8 L476.4 767.5 L478.7 764.5 L481.8 762.5 L485.8 761.6 L488.7 759.3 L491.4 756.9 L492.7 752.9 L494.7 749.6 L498.9 748.9 L501.7 746.5 L505.3 745.1 L507.5 742.1 L509.3 738.7 L512.6 736.8 M503.2 719.9 L505.6 723.0 L506.8 726.8 L508.0 730.5 L510.7 733.4 L512.6 736.8 M549.4 702.6 L546.7 705.0 L543.6 707.1 L543.3 712.1 L538.9 712.9 L536.4 715.6 M529.0 711.3 L532.1 714.5 L536.4 715.6 M616.1 714.6 L613.7 717.4 L611.0 719.7 L607.1 720.4 L604.7 723.1 M580.7 699.8 L580.6 703.9 L581.8 707.7 L584.9 710.9 L584.9 715.0 M604.7 723.1 L600.7 723.3 L598.4 719.5 L595.0 718.5 L591.4 717.8 L587.8 717.2 L584.9 715.0 M709.8 792.1 L713.1 794.1 L716.6 794.1 L720.0 795.0 L724.0 792.3 L727.6 792.3 L731.0 793.3 L734.3 795.3 L737.3 798.4 L741.0 797.9 L744.6 797.4 M709.8 792.1 L711.8 789.1 L711.2 784.7 L713.3 781.7 L715.4 778.7 L719.0 776.4 L722.1 773.9 L721.7 769.6 L723.1 766.2 L723.2 762.2 L726.1 759.6 M744.6 797.4 L747.1 794.4 L747.5 790.3 L748.5 786.5 L750.6 783.3 L754.9 781.1 L755.4 777.1 L756.7 773.4 L757.7 769.6 L760.1 766.5 M726.1 759.6 L730.0 759.6 L734.0 759.4 L737.0 763.8 L741.0 763.4 L745.1 762.7 L748.9 763.2 L752.6 764.7 L756.0 767.0 L760.1 766.5 M716.5 832.9 L714.0 830.3 L711.2 827.9 L710.9 823.9 L708.5 821.2 L707.0 818.0 L706.9 813.8 L703.1 812.0 L700.2 809.7 L699.0 806.3 M758.4 824.5 L756.4 821.3 L754.0 818.2 L753.5 814.3 L752.0 810.7 L751.3 806.8 L747.9 804.3 L746.3 800.8 L744.6 797.4 M703.0 795.7 L705.9 793.0 L709.8 792.1 M716.3 740.7 L718.1 743.8 L720.4 746.6 L721.0 750.2 L722.1 753.7 L724.2 756.5 L726.1 759.6 M761.6 765.8 L760.1 766.5 M710.0 956.7 L706.5 954.5 L703.5 951.9 L702.9 947.0 L699.4 944.7 L696.3 942.3 L693.3 939.6 M668.5 979.6 L667.9 975.7 L670.6 971.7 L667.9 967.8 L668.7 963.8 L668.2 959.9 L669.2 955.9 L668.5 952.0 M693.3 939.6 L689.3 940.5 L687.0 944.7 L683.1 945.9 L679.6 947.7 L675.5 948.4 L671.5 949.1 L668.5 952.0 M704.7 902.6 L703.2 905.8 L700.0 908.3 L701.6 912.6 L700.4 915.9 L699.7 919.4 L700.1 923.3 L695.2 925.2 L694.4 928.6 L693.1 931.9 L692.7 935.5 M693.3 939.6 L693.6 937.4 L692.7 935.5 M630.5 974.7 L632.7 971.8 L634.6 968.7 L637.4 966.1 L636.4 961.3 L639.6 959.0 L639.7 954.9 L643.0 952.5 L644.8 949.3 L646.5 946.1 M668.5 952.0 L664.6 951.9 L661.5 948.8 L657.8 948.2 L654.2 947.0 L650.0 947.8 L646.5 946.1 M600.7 931.8 L604.2 930.9 L608.0 931.4 L611.3 929.5 L615.0 929.4 L617.9 926.1 L621.3 924.7 L625.5 926.4 L628.8 924.8 L632.6 925.1 L635.9 923.4 L639.3 922.2 M646.5 946.1 L645.9 942.6 L644.6 939.3 L643.4 935.9 L641.5 932.7 L642.0 928.8 L640.5 925.5 L639.3 922.2 M677.7 890.9 L674.2 892.5 L672.1 895.8 L669.2 898.1 L667.3 901.8 L663.9 903.4 L660.8 905.5 L657.6 907.6 L654.8 910.0 L652.0 912.5 M677.7 890.9 L676.5 887.6 L674.0 884.9 L671.9 882.0 L672.1 878.0 L670.6 874.8 L669.4 871.4 L665.5 869.4 L662.8 866.8 L664.9 861.8 L663.2 858.7 L660.2 856.3 L658.3 853.3 L657.2 849.9 M657.2 849.9 L654.4 847.9 M654.4 847.9 L652.2 851.0 L651.8 854.9 L650.9 858.6 L649.0 861.8 L646.6 864.8 L643.8 867.5 L641.0 870.3 L640.0 873.9 L640.5 878.3 L639.8 882.1 L637.4 885.0 L634.9 887.9 L633.3 891.3 M633.3 891.3 L634.9 894.5 L637.1 897.4 L639.0 900.4 L639.8 904.0 L639.7 908.0 L642.2 910.7 L644.0 913.8 M644.0 913.8 L647.9 912.7 L652.0 912.5 M704.5 896.9 L700.5 896.9 L696.3 897.6 L693.1 894.1 L689.3 892.8 L685.1 894.0 L681.3 892.7 L677.7 890.9 M692.7 935.5 L689.6 933.5 L686.9 931.1 L682.4 931.7 L679.6 929.3 L677.2 926.3 L673.2 926.1 L671.6 921.7 L668.6 919.7 L664.3 920.0 L661.7 917.3 L658.0 916.6 L654.7 915.0 L652.0 912.5 M711.0 857.6 L707.5 856.8 L703.9 856.6 L700.4 854.8 L696.7 855.7 L693.0 855.8 L689.5 854.4 L685.7 855.4 L682.3 853.7 L678.8 852.3 L675.2 851.9 L671.6 851.6 L668.1 850.5 L664.3 851.4 L660.7 850.7 L657.2 849.9 M645.5 829.0 L647.2 832.8 L647.1 837.5 L651.8 839.9 L653.2 843.9 L654.4 847.9 M618.7 822.2 L617.5 825.6 L615.3 828.3 L613.4 831.3 L612.7 834.9 L608.9 836.8 L607.4 839.9 L606.9 843.7 L602.7 845.3 L601.6 848.7 L601.5 852.8 L598.9 855.3 L598.1 858.9 L596.1 861.8 L593.5 864.3 M603.7 885.7 L607.2 887.6 L611.3 886.1 L615.3 885.3 L618.2 890.1 L621.8 891.1 L626.0 889.3 L629.6 890.3 L633.3 891.3 M639.3 922.2 L643.5 919.0 L644.0 913.8 M907.6 356.0 L906.1 359.4 L905.9 363.3 L904.1 366.5 L901.5 369.3 L899.7 372.5 L897.3 375.4 L896.4 379.0 L894.0 382.0 L893.9 385.9 L894.0 390.0 L892.0 393.1 L890.2 396.3 L887.7 399.2 L886.4 402.6 M852.0 390.8 L855.5 392.3 L858.4 394.6 L859.7 398.9 L862.7 401.1 L865.6 403.4 L870.1 403.7 L871.9 407.4 M886.4 402.6 L882.4 402.6 L879.1 404.7 L876.0 407.6 L871.9 407.4 M937.5 366.0 L936.6 369.7 L938.5 373.2 L938.5 376.9 L938.3 380.5 L939.1 384.1 L935.8 387.9 L938.9 391.4 L938.9 395.0 L938.9 398.6 L939.6 402.2 L939.0 405.9 M886.4 402.6 L890.0 402.6 L893.5 401.9 L897.0 403.2 L900.5 402.9 L904.0 403.0 L907.4 404.2 L910.9 405.2 L914.3 407.1 L917.9 404.8 L921.5 403.8 L925.0 403.9 L928.5 404.5 L931.9 405.6 L935.5 405.3 L939.0 405.9 M1007.8 366.9 L1004.8 368.8 L1002.0 371.1 L998.0 371.4 L995.4 373.9 L992.7 376.3 L989.8 378.5 L987.6 381.6 L984.5 383.4 L980.0 383.1 L977.7 386.0 L973.5 386.1 L971.4 389.4 L969.4 392.9 L966.1 394.4 L963.2 396.4 L959.9 397.9 L955.6 397.8 L953.4 401.1 L950.4 402.9 L947.7 405.3 L945.0 407.7 L941.6 409.0 M939.0 405.9 L939.2 408.3 L941.6 409.0 M808.7 467.0 L805.1 466.3 L801.4 465.9 L797.8 465.4 L794.6 462.7 L790.7 463.4 L787.4 461.1 L783.8 460.3 L780.1 460.3 L776.2 460.7 L773.0 458.5 L769.0 459.2 L765.6 457.4 L762.2 455.9 L758.6 455.3 L755.0 454.7 M808.7 467.0 L811.8 463.7 L811.7 459.0 L813.4 455.1 L815.8 451.5 M815.8 451.5 L814.4 448.1 L813.0 444.8 L812.2 441.2 L812.4 437.2 L807.9 435.0 L808.0 431.0 L806.2 427.8 L806.2 423.9 L804.6 420.6 L802.9 417.3 M802.9 417.3 L799.1 416.5 L795.0 417.1 L791.2 416.5 L787.6 414.7 L784.6 410.9 L780.3 412.2 L776.6 410.9 M776.6 410.9 L775.3 414.4 L773.3 417.5 L772.5 421.2 L768.4 423.3 L766.2 426.3 L767.2 431.0 L764.3 433.6 L763.4 437.3 L764.1 441.8 L759.8 443.8 L757.5 446.7 L756.7 450.5 L754.8 453.6 M754.8 453.6 L755.0 454.7 M746.8 492.3 L746.6 488.4 L748.2 484.8 L750.4 481.3 L749.8 477.2 L751.3 473.6 L750.6 469.5 L751.9 465.9 L754.6 462.5 L754.4 458.5 L755.0 454.7 M807.5 502.0 L806.8 498.5 L808.4 495.0 L808.1 491.5 L809.9 488.1 L809.0 484.5 L808.1 481.0 L807.9 477.5 L806.8 473.9 L808.4 470.5 L808.7 467.0 M864.9 483.5 L864.7 479.6 L865.6 475.7 L863.3 472.0 L863.3 468.1 L865.3 464.1 L863.2 460.4 L863.9 456.5 L863.8 452.6 M863.8 452.6 L860.1 452.8 L856.4 452.0 L852.7 451.3 L849.0 452.8 L845.3 453.6 L841.6 451.9 L838.0 451.0 L834.3 451.6 L830.6 451.9 L826.9 452.3 L823.2 452.3 L819.5 451.3 L815.8 451.5 M863.8 452.6 L866.8 450.2 L867.9 446.5 L869.8 443.2 L872.8 440.9 M833.7 395.1 L831.0 397.8 L828.6 401.0 L825.1 402.6 L820.6 402.9 L817.8 405.5 L815.4 408.6 L812.5 411.1 L809.7 413.7 L805.9 415.0 L802.9 417.3 M872.8 440.9 L872.0 437.2 L873.1 433.5 L874.3 429.7 L872.2 426.0 L872.2 422.3 L870.6 418.6 L872.3 414.8 L871.9 411.1 L871.9 407.4 M774.5 408.1 L776.6 410.9 M715.4 435.7 L719.2 436.0 L722.0 438.6 L724.4 442.0 L728.1 442.7 L731.3 444.3 L734.6 445.8 L738.9 445.0 L742.4 445.9 L745.6 447.8 L748.5 450.0 L751.1 452.9 L754.8 453.6 M994.6 573.0 L992.9 569.4 L994.5 565.1 L992.8 561.5 L993.4 557.4 L990.1 554.1 L990.3 550.1 M957.3 553.3 L957.1 557.1 L956.2 560.7 L953.7 563.9 L953.8 567.8 L951.6 571.1 L950.4 574.6 L952.4 579.0 L950.6 582.4 L949.4 585.9 L949.0 589.6 L946.4 592.8 L946.2 596.6 M957.3 553.3 L960.9 552.3 L964.2 550.1 L967.8 549.1 L971.5 548.6 L975.8 549.8 L978.8 546.7 L982.3 545.6 M990.3 550.1 L985.1 550.0 L982.3 545.6 M1056.0 556.0 L1052.3 554.4 L1049.5 552.0 L1047.6 548.5 L1047.4 543.5 L1043.4 542.2 L1040.2 540.2 M990.3 550.1 L994.0 550.1 L997.3 548.3 L1000.9 547.5 L1004.4 546.6 L1007.8 545.0 L1011.9 547.1 L1015.5 546.7 L1019.0 545.6 L1022.3 543.4 L1025.5 541.2 L1029.4 542.2 L1033.0 541.2 L1036.7 541.2 L1040.2 540.2 M1093.5 493.5 L1089.8 492.7 L1086.1 493.1 L1082.4 494.7 L1078.6 494.5 L1074.9 494.3 L1071.2 493.7 L1067.5 491.4 L1063.8 491.9 L1060.1 494.2 L1056.3 494.2 L1052.6 494.2 L1048.9 494.0 L1045.2 493.5 M1040.2 540.2 L1040.1 536.5 L1041.8 533.1 L1042.2 529.5 L1042.6 525.9 L1043.6 522.4 L1042.1 518.6 L1040.5 514.8 L1042.1 511.3 L1043.5 507.8 L1043.9 504.3 L1045.3 500.8 L1045.8 497.2 L1045.2 493.5 M1051.5 436.3 L1050.8 439.8 L1048.4 443.0 L1047.2 446.4 L1048.5 450.4 L1048.6 454.2 L1046.3 457.3 L1045.2 460.8 L1045.1 464.5 L1042.8 467.6 L1040.4 470.7 L1041.0 474.6 L1041.9 478.6 L1040.4 481.9 L1038.8 485.2 M1045.2 493.5 L1039.8 491.1 L1038.8 485.2 M1009.3 1071.0 L1007.2 1068.2 L1004.8 1065.6 L1004.2 1061.6 L1001.7 1059.1 L1000.0 1056.0 L997.5 1053.4 L993.8 1051.8 L992.1 1048.7 L988.6 1046.9 L987.7 1043.1 L986.2 1039.9 L984.7 1036.6 L983.6 1033.0 L981.0 1030.6 L978.5 1028.0 L976.2 1025.4 L973.3 1023.1 L971.8 1019.8 M990.7 997.8 L988.0 1001.1 L983.3 1001.2 L979.9 1003.5 L976.7 1006.0 L973.8 1008.9 M971.8 1019.8 L971.3 1016.0 L974.3 1012.8 L973.8 1008.9 M916.6 878.7 L914.1 882.0 L913.3 886.1 L909.4 888.6 L909.8 893.4 L906.9 896.4 M962.5 916.9 L960.5 919.3 M960.5 919.3 L957.0 918.2 L953.9 916.2 L951.3 912.9 L946.8 914.3 L943.4 913.0 L939.9 911.9 L936.4 910.7 L934.8 905.2 L930.8 905.5 L927.0 905.0 L923.4 904.2 L919.4 904.3 L917.2 900.1 L914.0 898.4 L910.4 897.4 L906.9 896.4 M878.5 888.3 L881.7 890.7 L885.4 891.6 L889.6 891.5 L893.0 893.5 L896.7 894.5 L899.6 897.6 L903.3 898.6 M869.0 951.0 L864.8 951.3 L860.9 952.5 M869.0 951.0 L871.5 948.3 L873.9 945.6 L876.4 942.8 L880.2 941.3 L881.7 937.7 L882.7 933.5 L886.9 932.4 L890.1 930.4 L891.6 926.7 L894.4 924.3 L896.8 921.5 L899.4 918.8 M899.4 918.8 L898.1 914.4 L900.3 910.6 L904.5 907.2 L903.2 902.8 L903.3 898.6 M906.9 896.4 L905.2 897.6 L903.3 898.6 M621.8 745.6 L617.7 745.9 L613.6 746.0 L609.5 744.1 L605.3 746.2 L601.2 745.6 M604.7 723.1 L604.7 727.3 L604.1 731.4 L601.1 734.7 L599.2 738.4 L599.1 742.6 M601.2 745.6 L599.1 742.6 M598.3 801.0 L597.4 800.6 M601.2 745.6 L601.2 749.3 L600.4 752.9 L599.7 756.6 L598.7 760.2 L599.0 763.9 L600.1 767.6 L599.8 771.3 L601.8 775.1 L599.0 778.6 L600.0 782.4 L597.2 785.9 L597.3 789.6 L597.3 793.3 L597.1 796.9 L597.4 800.6 M981.8 437.4 L981.3 441.1 L981.7 444.6 L983.0 448.0 L985.7 451.2 L987.2 454.6 L984.7 458.6 L986.6 462.0 L986.3 465.6 L984.5 469.5 L986.0 472.9 L987.4 476.3 L988.3 479.8 M981.8 437.4 L978.6 435.8 L975.6 433.6 L972.5 431.8 L968.4 432.2 L964.9 431.1 L962.0 429.0 L960.0 424.8 L956.3 424.1 L951.9 425.2 L949.2 422.5 L946.1 420.7 M946.1 420.7 L945.0 424.5 L942.8 427.5 L938.6 429.1 L936.5 432.2 L933.9 434.8 L933.8 439.4 L933.6 443.8 L928.5 444.7 L925.6 447.2 L923.9 450.6 L922.1 453.8 L920.2 457.1 M977.8 490.9 L979.6 487.4 L983.0 485.3 L986.1 483.0 L988.3 479.8 M977.8 490.9 L974.2 490.1 L970.5 489.8 L966.8 489.9 L963.2 490.9 L959.4 493.1 L955.9 489.7 L952.3 488.6 L948.6 488.8 L944.9 488.9 L941.2 491.9 L937.6 490.5 L934.0 489.0 L930.3 488.7 L926.6 489.2 M926.6 489.2 L926.0 485.6 L926.1 481.9 L924.8 478.4 L923.3 475.0 L922.0 471.6 L921.5 467.9 L922.7 464.0 L921.7 460.5 L920.2 457.1 M1015.1 412.7 L1011.6 414.2 L1009.3 417.4 L1006.9 420.6 L1003.4 422.2 L1000.4 424.5 L996.0 424.9 L992.5 426.5 L991.2 431.0 L988.3 433.4 L984.8 435.1 L981.8 437.4 M1038.8 485.2 L1035.2 484.8 L1031.7 483.8 L1028.0 483.7 L1024.5 482.8 L1020.8 482.8 L1017.0 484.2 L1013.5 483.6 L1009.9 482.6 L1006.3 482.3 L1002.8 480.5 L999.3 479.6 L995.6 480.3 L991.9 480.1 L988.3 479.8 M941.6 409.0 L942.7 413.0 L943.7 417.1 L946.1 420.7 M872.8 440.9 L876.4 441.7 L879.4 443.8 L882.9 444.6 L886.1 446.2 L889.6 447.1 L893.8 445.9 L896.7 448.3 L899.5 451.4 L903.2 451.6 L906.5 452.9 L910.0 453.7 L913.9 453.5 L916.9 455.8 L920.2 457.1 M982.3 545.6 L982.5 541.9 L980.8 538.4 L980.5 534.8 L980.6 531.1 L982.8 527.2 L982.0 523.6 L978.8 520.2 L978.4 516.6 L978.5 512.9 L981.4 509.0 L980.5 505.4 L977.9 501.9 L977.4 498.3 L977.5 494.6 L977.8 490.9 M957.3 553.3 L953.4 553.6 L950.2 551.7 L946.9 549.9 L943.8 547.8 L940.1 547.4 M920.2 497.0 L921.5 500.6 L923.5 504.1 L921.9 508.3 L921.7 512.2 L924.7 515.4 L924.8 519.3 L925.7 523.0 L927.8 526.4 L926.8 530.5 L927.9 534.1 M920.2 497.0 L922.7 492.5 L926.6 489.2 M940.1 547.4 L937.9 544.5 L935.1 542.2 L931.8 540.3 L929.8 537.3 L927.9 534.1 M883.7 503.3 L887.2 501.8 L890.6 499.8 L894.4 500.3 L898.4 501.7 L902.1 501.1 L906.0 501.8 L909.4 499.9 L912.8 497.6 L916.5 497.4 L920.2 497.0 M911.5 576.0 L911.5 574.5 M911.5 576.0 L908.4 578.2 L905.3 580.2 L903.0 583.4 L900.1 585.7 L896.9 587.7 L893.9 589.9 L889.7 590.6 L887.4 593.7 L883.7 595.0 L881.8 598.8 L878.7 600.9 L875.9 603.3 L872.6 605.2 M911.5 574.5 L908.3 572.4 L907.3 568.0 L903.3 566.6 L902.0 562.5 L897.1 562.0 L895.0 558.8 L892.3 556.1 L890.0 553.1 L887.4 550.4 M872.6 605.2 L872.5 605.0 M872.5 605.0 L873.0 601.5 L875.3 598.3 L874.4 594.6 L874.4 591.0 L874.9 587.5 L874.7 583.9 L878.5 581.0 L878.8 577.4 L878.8 573.8 L878.8 570.2 L877.6 566.4 L880.0 563.2 L881.2 559.8 L882.2 556.4 L882.6 552.9 L882.8 549.3 M882.8 549.3 L885.4 548.2 L887.4 550.4 M934.9 604.1 L932.1 601.6 L929.2 599.3 L927.4 596.0 L924.6 593.7 L924.6 588.8 L921.6 586.6 L919.4 583.7 L916.4 581.4 L913.2 579.4 L911.5 576.0 M940.1 547.4 L937.1 549.4 L935.6 553.0 L933.6 556.2 L929.2 556.8 L926.0 558.5 L923.5 561.2 L922.5 565.2 L920.6 568.5 L916.7 569.6 L913.7 571.6 L911.5 574.5 M873.0 607.0 L872.6 605.2 M927.9 534.1 L924.6 535.6 L920.3 534.8 L917.7 538.1 L914.4 539.6 L911.0 541.0 L908.9 545.3 L904.1 543.2 L901.2 545.8 L897.2 545.5 L893.5 546.1 L890.8 549.1 L887.4 550.4 M821.1 569.0 L824.2 571.1 L826.9 573.6 L830.0 575.7 L834.1 576.2 L837.0 578.5 L839.0 582.0 L842.0 584.1 L844.8 586.7 L847.5 589.2 L851.1 590.5 L854.4 592.3 L857.6 594.1 L861.3 595.2 L863.8 598.1 L866.0 601.4 L869.3 603.1 L872.5 605.0 M870.0 537.5 L872.9 540.8 L877.6 542.1 L878.6 547.5 L882.8 549.3 M956.5 1092.8 L954.3 1089.6 L954.9 1085.7 L955.0 1081.9 L954.0 1078.5 L953.1 1074.9 L948.9 1072.2 L949.6 1068.3 L949.3 1064.7 L947.8 1061.3 L949.7 1057.1 L947.4 1053.9 L945.5 1050.6 L945.0 1047.0 M971.8 1019.8 L969.0 1023.6 L963.8 1022.7 L960.5 1025.3 L956.8 1027.4 M945.0 1047.0 L947.3 1043.9 L949.6 1040.9 L952.6 1038.2 L952.0 1033.4 L954.1 1030.2 L956.8 1027.4 M960.5 919.3 L957.7 923.5 L960.0 927.9 M899.4 918.8 L901.9 921.5 L903.9 924.6 L906.3 927.4 L908.4 930.3 L912.2 931.8 L915.3 933.8 L916.7 937.5 L919.3 940.0 L921.6 942.9 L923.8 945.8 L926.5 948.3 M926.5 948.3 L930.3 947.6 L932.5 944.4 L934.2 940.3 L937.9 939.6 L942.2 939.8 L945.8 938.8 L949.0 937.2 L950.7 933.2 L952.7 929.5 L956.6 929.1 L960.0 927.9 M987.6 959.7 L984.2 957.4 L979.8 958.0 L976.3 956.0 M976.3 956.0 L975.8 952.1 L972.2 950.0 L970.6 946.8 L968.8 943.7 L968.7 939.5 L965.5 937.3 L962.3 934.9 L961.3 931.3 L960.0 927.9 M564.2 805.6 L567.2 805.0 L568.2 802.2 M500.3 805.6 L502.7 803.1 L505.8 801.2 L507.3 797.7 L509.7 795.1 L511.6 792.1 L514.8 790.3 L518.8 789.2 L519.4 784.9 L521.5 782.1 L523.5 779.1 L527.0 777.5 L530.7 776.2 L531.5 772.2 L533.8 769.5 L536.3 766.9 L539.0 764.7 M568.2 802.2 L565.9 799.3 L564.6 795.8 L561.3 793.7 L558.2 791.4 L555.1 789.2 L557.0 783.1 L553.8 781.0 L549.8 779.4 L546.1 777.7 L546.2 773.0 L543.6 770.4 L541.6 767.3 L539.0 764.7 M597.4 800.6 L593.4 799.2 L589.2 799.6 M568.2 802.2 L571.7 802.1 L575.2 801.7 L578.4 798.2 L582.0 799.1 L585.7 800.3 L589.2 799.6 M468.6 775.1 L472.1 774.5 L475.8 774.8 L478.8 772.2 L482.5 772.4 L485.7 770.4 L489.1 769.6 L492.1 767.0 L496.3 769.3 L499.4 766.9 L503.2 767.7 L506.6 766.8 L510.5 767.6 L513.1 763.6 L517.0 764.3 L520.1 762.0 L523.5 761.3 L526.8 759.6 L530.7 760.7 L533.9 759.1 L537.4 758.6 M539.0 764.7 L541.1 760.9 L537.4 758.6 M512.6 736.8 L515.9 738.1 L518.7 740.7 L522.2 741.5 L526.4 740.4 L529.9 741.1 L532.3 744.7 L535.4 746.6 L539.1 746.7 M537.4 758.6 L536.4 754.4 L536.9 750.4 L539.1 746.7 M536.4 715.6 L538.0 719.1 L536.9 723.0 L536.8 726.7 L538.9 730.1 L539.7 733.6 L540.7 737.2 L539.3 741.1 L541.2 744.5 M541.2 744.5 L539.1 746.7 M575.6 731.8 L578.9 733.7 L582.5 735.3 L585.0 738.4 L587.8 741.0 M575.6 731.8 L571.0 732.1 L566.4 731.6 L562.0 733.1 M587.8 741.0 L585.4 743.6 L584.0 746.9 L582.6 750.3 L578.9 751.9 L577.7 755.4 L575.4 758.1 M575.4 758.1 L572.7 755.5 L569.6 753.5 L566.6 751.3 L562.4 751.0 L558.9 749.6 L557.1 745.6 L554.2 743.3 L550.8 741.7 M562.0 733.1 L558.9 734.9 L556.1 737.0 L552.6 738.3 L550.8 741.7 M584.9 715.0 L582.8 718.2 L582.2 722.3 L580.2 725.5 L577.6 728.5 L575.6 731.8 M599.1 742.6 L595.0 743.9 L591.6 741.3 L587.8 741.0 M562.0 708.3 L563.2 711.8 L564.1 715.4 L560.0 718.9 L560.6 722.5 L561.6 726.0 L562.9 729.6 L562.0 733.1 M589.2 799.6 L587.6 796.3 L585.9 793.0 L586.6 788.9 L585.5 785.5 L583.6 782.3 L583.4 778.5 L580.7 775.5 L578.1 772.5 L578.9 768.4 L578.0 764.9 L576.0 761.7 L575.4 758.1 M541.2 744.5 L546.3 744.0 L550.8 741.7 M893.4 1059.6 L895.6 1056.6 L897.4 1053.5 L896.8 1049.1 L898.5 1045.9 L901.7 1043.4 L904.0 1040.4 L905.7 1037.2 L905.8 1033.2 L907.8 1030.1 M945.0 1047.0 L942.2 1044.8 L939.4 1042.5 L934.8 1043.3 L932.9 1039.6 L930.0 1037.5 L926.5 1036.5 L924.5 1033.0 L920.5 1032.7 L917.7 1030.6 M907.8 1030.1 L912.6 1033.4 L917.7 1030.6 M956.8 1027.4 L953.3 1025.9 L950.4 1023.5 L948.7 1019.3 L944.5 1018.9 L940.6 1018.0 L938.2 1014.9 M917.7 1030.6 L921.2 1029.2 L922.5 1024.8 L927.2 1024.9 L929.9 1022.3 L933.6 1021.1 L934.6 1016.4 L938.2 1014.9 M897.9 1007.9 L899.5 1004.2 L899.0 1000.3 L896.7 996.2 L898.2 992.6 L898.8 988.8 L902.1 985.4 L903.5 981.7 L902.2 977.7 L902.3 973.8 M897.9 1007.9 L898.7 1008.7 M898.7 1008.7 L902.3 1007.9 L905.3 1005.4 L908.8 1004.5 L912.4 1003.6 L915.9 1002.9 L919.7 1002.4 L922.8 1000.4 L926.3 999.4 L929.6 997.8 L932.6 995.4 L936.5 995.4 L940.0 994.2 M902.3 973.8 L905.7 971.7 L909.2 969.8 L913.6 970.4 L917.2 968.8 L921.4 968.6 L924.5 965.5 M924.5 965.5 L927.5 967.8 L930.9 969.5 L933.0 973.0 L935.4 976.1 L939.3 977.2 L942.3 979.6 L945.4 981.7 M940.0 994.2 L942.2 989.7 L945.9 986.2 M945.9 986.2 L945.4 984.0 L945.4 981.7 M869.0 951.0 L871.5 953.8 L875.4 954.7 L879.4 955.4 L881.5 958.7 L884.0 961.5 L886.9 963.8 L889.0 967.2 L892.5 968.6 L896.7 968.9 L899.5 971.4 L902.3 973.8 M858.6 1007.0 L862.2 1007.2 L865.7 1007.8 L869.3 1006.7 L872.9 1005.2 L876.4 1008.7 L880.0 1009.5 L883.6 1006.4 L887.2 1006.9 L890.7 1007.6 L894.3 1007.8 L897.9 1007.9 M907.8 1030.1 L906.0 1026.7 L903.1 1023.7 L902.8 1019.6 L902.1 1015.7 L900.2 1012.3 L898.7 1008.7 M938.2 1014.9 L937.9 1010.7 L939.4 1006.7 L939.9 1002.6 L940.6 998.5 L940.0 994.2 M926.5 948.3 L927.2 952.7 L924.7 956.8 L923.9 961.1 L924.5 965.5 M976.3 956.0 L973.2 957.9 L970.5 960.3 L969.1 964.4 L965.4 965.7 L961.6 966.8 L959.2 969.7 L955.8 971.4 L954.6 975.6 L952.0 978.1 L947.8 978.8 L945.4 981.7 M973.8 1008.9 L971.0 1006.6 L968.8 1003.6 L966.5 1000.8 L963.3 998.9 L958.6 999.0 L955.4 997.2 L954.2 993.1 L952.1 989.9 L949.3 987.7 L945.9 986.2"/>
</g>
<g fill="#d9e7c1" stroke="#fff" stroke-width="1.4" stroke-linejoin="round">
<path d="M879.9 763.0 L880.5 766.4 L878.2 769.2 L875.4 771.4 L871.8 772.1 L868.6 770.3 L865.9 769.4 L861.4 769.5 L858.4 766.8 L859.9 763.0 L861.7 760.3 L862.8 757.6 L865.4 755.8 L868.3 754.4 L872.0 752.6 L875.9 753.8 L876.7 757.9 L877.2 760.6 L879.9 763.0Z M971.8 767.0 L971.3 770.0 L969.6 771.9 L968.2 774.1 L966.4 777.5 L963.5 777.8 L961.8 774.2 L960.7 771.7 L958.7 769.9 L957.8 767.0 L958.1 763.8 L958.8 760.3 L961.2 758.5 L964.0 759.8 L966.0 760.0 L968.8 758.6 L971.4 760.1 L971.9 763.8 L971.8 767.0Z M997.4 775.0 L997.2 778.3 L997.1 782.5 L994.8 785.4 L991.3 783.9 L988.9 782.5 L986.1 783.3 L983.2 782.2 L982.0 778.7 L981.4 775.0 L982.1 771.4 L984.9 769.6 L986.8 768.1 L988.5 764.2 L991.7 762.8 L994.1 766.0 L995.4 769.3 L997.0 771.8 L997.4 775.0Z M805.1 716.0 L804.0 718.2 L802.4 720.1 L799.5 721.2 L796.3 720.7 L793.7 721.1 L789.7 722.1 L786.6 720.7 L786.8 718.0 L787.1 716.0 L787.0 714.1 L788.6 712.4 L790.5 710.8 L793.1 708.9 L796.8 709.2 L798.7 711.7 L800.4 713.0 L803.7 713.9 L805.1 716.0Z M1026.2 863.0 L1025.9 865.1 L1025.1 867.3 L1023.3 868.8 L1021.3 870.5 L1018.5 871.4 L1016.5 869.1 L1016.0 866.4 L1014.2 865.1 L1012.2 863.0 L1012.7 860.3 L1014.4 858.3 L1016.3 856.6 L1018.9 856.7 L1021.0 857.6 L1023.5 857.0 L1026.7 857.4 L1027.4 860.3 L1026.2 863.0Z M942.0 869.0 L940.2 870.9 L937.5 871.9 L935.7 873.0 L933.3 873.6 L930.7 873.6 L927.5 873.8 L924.5 872.9 L924.6 870.7 L926.0 869.0 L925.2 867.4 L925.2 865.4 L927.7 864.3 L930.5 863.8 L933.5 863.7 L935.5 865.2 L936.7 866.5 L939.7 867.3 L942.0 869.0Z M996.9 919.0 L998.1 921.5 L995.9 923.3 L993.3 923.8 L991.1 924.6 L988.9 924.4 L986.9 923.6 L984.1 923.3 L981.8 921.6 L982.9 919.0 L984.9 917.4 L985.2 915.5 L986.3 913.5 L988.7 912.7 L991.3 912.6 L993.9 913.3 L994.8 915.5 L995.0 917.5 L996.9 919.0Z M931.7 927.0 L931.2 928.6 L930.0 929.8 L929.2 931.6 L927.3 933.2 L924.9 932.2 L923.6 930.5 L922.0 929.8 L920.2 928.8 L919.7 927.0 L919.9 925.1 L920.8 923.3 L923.2 922.9 L925.2 923.3 L927.0 922.4 L929.6 921.8 L931.2 923.4 L931.4 925.4 L931.7 927.0Z M1054.0 958.0 L1053.0 960.0 L1053.4 962.8 L1051.7 965.6 L1047.7 965.3 L1044.7 963.7 L1042.0 963.4 L1039.1 962.5 L1037.5 960.4 L1036.0 958.0 L1036.1 955.2 L1039.6 953.8 L1042.7 953.5 L1044.5 951.5 L1047.8 949.9 L1051.0 951.3 L1052.9 953.5 L1054.4 955.6 L1054.0 958.0Z M1023.2 990.0 L1023.1 992.2 L1021.7 994.1 L1019.9 995.8 L1017.2 995.9 L1015.1 994.6 L1013.0 994.5 L1009.7 994.5 L1008.2 992.4 L1009.2 990.0 L1010.0 988.1 L1011.0 986.4 L1012.9 985.4 L1014.8 984.1 L1017.5 982.8 L1020.0 984.1 L1020.4 986.8 L1021.3 988.3 L1023.2 990.0Z M866.9 904.0 L866.9 906.1 L866.2 908.1 L865.3 910.0 L863.7 910.2 L862.5 908.6 L861.3 908.3 L859.5 908.4 L858.5 906.4 L858.9 904.0 L859.4 902.0 L860.1 900.4 L861.3 899.6 L862.3 898.3 L863.8 896.8 L865.3 897.9 L865.7 900.7 L866.1 902.3 L866.9 904.0Z M903.8 1015.0 L904.3 1018.4 L901.3 1020.3 L898.6 1021.3 L896.3 1022.4 L893.7 1022.1 L891.2 1021.6 L887.8 1021.0 L886.0 1018.3 L887.8 1015.0 L889.2 1012.9 L889.1 1010.0 L890.6 1007.4 L893.5 1006.6 L896.5 1006.4 L899.2 1007.7 L900.1 1010.8 L901.0 1012.8 L903.8 1015.0Z M841.7 943.0 L841.0 946.3 L840.0 949.1 L838.6 951.0 L836.7 950.4 L835.3 950.2 L833.2 951.6 L831.2 950.2 L831.2 946.1 L831.7 943.0 L831.6 940.1 L832.4 937.5 L833.6 935.4 L835.0 932.7 L837.0 932.5 L838.2 936.0 L838.9 938.6 L840.6 940.0 L841.7 943.0Z M537.4 934.0 L536.9 937.9 L535.7 941.8 L533.5 944.7 L530.2 943.7 L528.0 942.1 L525.1 943.4 L521.5 942.6 L520.7 938.2 L521.4 934.0 L521.8 930.4 L523.5 927.6 L525.5 925.6 L527.5 922.1 L530.7 920.5 L533.1 924.3 L533.8 928.5 L535.7 930.6 L537.4 934.0Z M638.8 988.0 L639.3 990.4 L637.9 992.5 L635.9 994.6 L632.9 996.2 L629.4 994.9 L627.6 992.5 L624.9 992.0 L621.3 990.8 L620.8 988.0 L622.4 985.6 L624.1 983.5 L626.9 982.4 L629.7 982.4 L632.6 981.1 L636.6 980.4 L638.7 983.0 L638.2 986.0 L638.8 988.0Z M669.8 1025.0 L668.3 1026.3 L668.3 1028.0 L667.3 1029.7 L665.1 1030.2 L662.9 1030.3 L660.8 1029.7 L660.0 1027.8 L659.7 1026.3 L657.8 1025.0 L657.0 1022.9 L659.1 1021.5 L661.3 1021.0 L663.0 1020.4 L665.0 1020.5 L666.8 1021.0 L669.2 1021.4 L670.9 1022.9 L669.8 1025.0Z M622.3 1024.0 L622.1 1026.2 L621.2 1028.4 L618.9 1029.0 L616.8 1028.4 L615.0 1029.4 L612.4 1030.2 L610.7 1028.4 L610.5 1026.0 L610.3 1024.0 L610.8 1022.1 L612.1 1020.7 L612.9 1018.6 L614.7 1016.6 L617.1 1017.6 L618.4 1019.8 L619.9 1020.7 L621.8 1021.9 L622.3 1024.0Z M728.1 1074.0 L725.3 1076.3 L723.8 1078.0 L723.1 1081.1 L720.6 1083.0 L717.5 1082.3 L714.8 1081.3 L712.9 1079.1 L712.9 1076.2 L712.1 1074.0 L710.2 1070.8 L711.5 1067.7 L715.1 1067.3 L717.8 1067.2 L720.3 1066.6 L722.8 1067.4 L725.2 1068.8 L727.9 1070.7 L728.1 1074.0Z M675.4 1091.0 L676.4 1094.0 L676.6 1098.2 L673.9 1099.8 L671.1 1099.1 L668.9 1099.1 L666.7 1098.3 L665.1 1096.3 L662.9 1094.3 L661.4 1091.0 L663.3 1087.9 L665.9 1086.6 L666.9 1084.2 L668.7 1081.3 L671.3 1081.4 L673.7 1082.7 L675.8 1084.8 L676.0 1088.2 L675.4 1091.0Z M636.7 1201.0 L636.5 1204.8 L632.4 1206.6 L629.3 1207.6 L626.6 1209.4 L623.3 1209.5 L619.9 1208.9 L615.9 1207.9 L614.3 1204.5 L616.7 1201.0 L617.7 1198.6 L617.0 1195.0 L619.3 1192.1 L623.2 1191.6 L626.8 1191.8 L629.9 1193.3 L631.2 1196.3 L633.1 1198.3 L636.7 1201.0Z M844.7 1153.2 L842.7 1156.5 L839.6 1158.3 L836.8 1159.6 L834.1 1158.9 L832.2 1157.1 L829.2 1156.8 L826.0 1154.9 L826.8 1150.7 L829.6 1147.7 L830.9 1145.0 L832.5 1142.0 L835.2 1140.5 L838.2 1139.4 L841.5 1139.6 L842.7 1143.3 L841.9 1147.1 L843.3 1149.4 L844.7 1153.2Z M860.4 1206.0 L860.6 1208.9 L859.9 1211.5 L859.1 1214.0 L857.8 1216.6 L856.2 1215.8 L855.4 1212.3 L854.6 1210.6 L853.0 1209.3 L852.4 1206.0 L853.0 1202.8 L853.8 1200.0 L855.1 1198.4 L856.4 1198.9 L857.6 1198.1 L859.4 1196.7 L860.7 1199.0 L860.5 1203.1 L860.4 1206.0Z M876.3 1243.0 L877.9 1245.9 L876.4 1248.4 L873.3 1248.7 L871.1 1249.0 L868.8 1249.5 L866.7 1248.8 L864.5 1247.6 L862.1 1245.9 L862.3 1243.0 L864.7 1241.1 L865.7 1239.4 L866.3 1236.6 L868.6 1235.2 L871.3 1235.8 L873.7 1236.6 L875.2 1238.6 L875.2 1241.1 L876.3 1243.0Z M905.1 1222.0 L905.6 1224.9 L904.3 1227.1 L902.0 1227.0 L900.7 1227.4 L899.1 1229.2 L897.2 1228.9 L896.0 1226.7 L895.1 1224.5 L895.1 1222.0 L896.2 1220.1 L896.6 1218.1 L897.0 1214.8 L898.9 1213.6 L900.8 1215.4 L902.2 1216.8 L903.6 1217.7 L904.5 1219.7 L905.1 1222.0Z M1057.1 1117.3 L1056.8 1119.0 L1058.5 1120.6 L1056.7 1123.5 L1051.2 1125.6 L1047.0 1126.5 L1043.3 1128.1 L1039.5 1129.0 L1036.7 1128.7 L1033.5 1128.3 L1033.2 1126.2 L1037.7 1123.2 L1041.2 1121.1 L1043.0 1118.6 L1047.0 1115.7 L1051.4 1114.8 L1054.8 1114.7 L1057.4 1115.3 L1057.1 1117.3Z M1094.5 1072.0 L1095.0 1073.8 L1094.5 1075.9 L1091.2 1076.5 L1088.1 1075.8 L1085.8 1076.2 L1082.6 1076.7 L1080.2 1075.6 L1079.1 1073.8 L1078.5 1072.0 L1080.0 1070.4 L1082.2 1069.5 L1083.2 1067.9 L1085.3 1065.9 L1088.6 1066.3 L1090.6 1068.1 L1092.5 1069.1 L1094.1 1070.4 L1094.5 1072.0Z M1175.4 1115.0 L1174.6 1116.6 L1172.1 1117.4 L1170.2 1118.2 L1168.1 1118.7 L1165.9 1118.5 L1163.4 1118.6 L1160.3 1118.2 L1159.9 1116.5 L1161.4 1115.0 L1161.5 1113.9 L1161.4 1112.3 L1163.2 1111.3 L1165.7 1110.8 L1168.3 1110.6 L1170.4 1111.7 L1171.1 1113.0 L1173.0 1113.7 L1175.4 1115.0Z M1050.3 1225.0 L1050.1 1227.2 L1049.3 1229.3 L1047.3 1229.8 L1045.6 1229.4 L1044.2 1230.7 L1042.0 1231.3 L1040.7 1229.3 L1040.5 1226.9 L1040.3 1225.0 L1040.7 1223.1 L1041.6 1221.6 L1042.3 1219.4 L1043.9 1217.6 L1045.9 1218.9 L1047.0 1220.9 L1048.4 1221.6 L1049.9 1222.8 L1050.3 1225.0Z M1036.9 780.0 L1037.2 783.1 L1036.6 786.5 L1035.1 788.8 L1033.2 791.2 L1030.8 791.3 L1029.4 787.6 L1028.6 784.8 L1026.3 783.4 L1024.9 780.0 L1025.9 776.3 L1027.4 773.6 L1029.1 771.5 L1031.1 771.5 L1032.9 771.6 L1035.4 770.2 L1037.7 772.0 L1037.6 776.6 L1036.9 780.0Z M917.1 822.0 L917.8 824.5 L916.2 826.2 L914.3 826.7 L912.8 827.5 L911.2 827.5 L909.7 826.8 L907.7 826.3 L906.2 824.5 L907.1 822.0 L908.4 820.4 L908.5 818.5 L909.3 816.3 L911.1 815.7 L912.9 815.7 L914.7 816.4 L915.4 818.6 L915.6 820.4 L917.1 822.0Z M929.5 1154.0 L929.2 1158.5 L927.7 1162.2 L925.8 1165.3 L923.2 1165.2 L921.1 1163.1 L918.7 1163.7 L915.5 1163.4 L914.4 1158.8 L915.5 1154.0 L916.1 1150.3 L917.0 1146.7 L918.8 1144.5 L920.7 1141.6 L923.5 1139.4 L925.7 1142.9 L926.2 1148.0 L927.5 1150.6 L929.5 1154.0Z"/>
</g>
<g stroke="#fff" stroke-width="2.4" stroke-linejoin="round" fill-rule="evenodd" paint-order="stroke">
<path fill="#5cb134" d="M761.7 270.0 L764.7 267.0 L768.3 268.7 L771.7 271.7 L776.7 273.7 L780.0 275.0 L783.3 272.5 L785.0 276.7 L784.7 283.3 L791.7 280.0 L796.7 280.3 L798.3 286.7 L798.0 296.7 L791.7 300.0 L787.5 303.3 L786.7 315.0 L785.8 323.3 L781.7 328.3 L778.3 334.2 L777.5 337.8 L765.0 337.8 L760.0 335.8 L755.0 328.3 L750.8 321.7 L748.3 316.7 L753.3 314.2 L760.0 310.0 L761.7 305.0 L758.3 301.7 L750.0 300.8 L746.7 293.3 L750.0 284.2 L758.3 280.8Z"/>
<path fill="#aad07b" d="M795.0 206.7 L798.3 204.2 L800.0 200.8 L802.5 203.3 L805.8 202.5 L805.0 207.5 L801.7 210.8 L796.7 210.8Z"/>
<path fill="#5cb134" d="M1202.5 476.7 L1206.7 477.5 L1205.8 481.7 L1207.5 485.8 L1215.0 490.0 L1223.3 496.7 L1230.0 503.3 L1236.7 510.0 L1245.0 514.2 L1250.8 520.0 L1250.0 528.3 L1251.7 533.3 L1246.7 540.0 L1244.2 547.0 L1236.7 547.5 L1230.0 550.8 L1225.0 548.3 L1221.7 540.0 L1216.7 535.0 L1211.7 538.3 L1203.3 537.5 L1196.7 539.2 L1188.3 542.5 L1180.0 544.2 L1175.0 541.7 L1171.7 536.7 L1166.7 533.3 L1164.2 528.3 L1173.3 520.0 L1181.7 514.2 L1185.0 508.3 L1181.7 506.7 L1176.7 509.2 L1174.2 501.7 L1183.3 498.3 L1190.0 491.7 L1196.7 484.2 L1202.5 482.5Z"/>
<path fill="#5cb134" d="M1133.3 516.7 L1135.8 519.2 L1141.7 520.0 L1146.7 517.5 L1150.0 514.2 L1153.3 516.7 L1151.7 521.7 L1155.8 525.0 L1160.0 527.5 L1164.2 530.8 L1166.7 535.0 L1164.2 540.0 L1168.3 542.5 L1173.3 544.2 L1175.8 546.7 L1173.3 551.7 L1170.0 557.5 L1166.7 553.3 L1160.0 552.5 L1153.3 551.7 L1148.3 550.0 L1146.7 554.2 L1141.7 551.7 L1136.7 551.7 L1131.7 552.5 L1126.7 551.7 L1120.8 552.5 L1118.3 551.7 L1121.7 545.8 L1120.8 540.0 L1123.3 535.0 L1122.5 530.0 L1126.7 525.0 L1129.2 520.8 L1133.3 520.0Z"/>
<path fill="#90c24a" d="M1055.8 548.3 L1058.3 547.5 L1060.8 550.0 L1063.3 546.7 L1070.0 547.5 L1075.0 548.3 L1080.0 546.7 L1081.7 550.0 L1080.0 554.2 L1075.8 555.0 L1073.3 560.0 L1069.2 561.7 L1065.0 564.2 L1060.8 565.8 L1058.3 560.0 L1056.7 553.3Z"/>
<path fill="#d9e7c1" stroke="none" d="M1230.8 626.7 L1236.7 627.5 L1240.0 631.7 L1246.7 636.7 L1244.2 641.7 L1245.0 647.5 L1240.0 650.8 L1233.3 652.5 L1229.2 646.7 L1226.7 640.0 L1227.5 633.3Z"/>
<path fill="#aad07b" d="M1209.2 628.3 L1216.7 624.2 L1223.3 621.7 L1233.3 615.0 L1236.7 606.7 L1241.7 602.5 L1245.0 606.7 L1250.0 604.2 L1256.7 601.7 L1264.2 603.3 L1264.2 611.7 L1261.7 620.0 L1257.5 626.7 L1255.8 632.5 L1260.0 636.7 L1262.5 643.3 L1266.7 646.7 L1270.8 655.0 L1271.7 661.7 L1266.7 669.2 L1260.0 670.8 L1255.0 668.3 L1250.0 671.7 L1241.7 673.3 L1233.3 676.7 L1225.0 674.2 L1218.3 672.5 L1220.8 665.0 L1216.7 658.3 L1211.7 653.3 L1213.3 640.0 L1211.7 633.3ZM1230.8 626.7 L1236.7 627.5 L1240.0 631.7 L1246.7 636.7 L1244.2 641.7 L1245.0 647.5 L1240.0 650.8 L1233.3 652.5 L1229.2 646.7 L1226.7 640.0 L1227.5 633.3Z"/>
<path fill="#aad07b" d="M1133.3 700.8 L1143.3 695.8 L1150.0 694.2 L1158.3 697.5 L1163.3 703.3 L1173.3 702.5 L1190.0 703.0 L1189.2 711.7 L1187.5 723.3 L1185.0 730.8 L1180.0 738.3 L1175.0 742.5 L1168.3 744.2 L1166.7 747.5 L1156.7 749.2 L1148.3 751.7 L1141.7 753.3 L1139.2 740.0 L1135.8 730.0 L1134.2 716.7Z"/>
<path fill="#aad07b" d="M1012.5 917.5 L1020.0 913.3 L1033.3 911.7 L1043.3 909.2 L1048.3 905.0 L1053.3 901.3 L1060.0 904.2 L1068.3 908.3 L1073.3 911.7 L1075.0 918.3 L1079.2 921.7 L1078.3 926.7 L1073.3 931.7 L1072.5 938.3 L1068.3 943.3 L1060.0 942.5 L1053.3 941.7 L1048.3 935.0 L1045.8 930.8 L1041.7 933.3 L1036.7 939.2 L1031.7 940.0 L1026.7 936.7 L1021.7 938.3 L1016.7 933.3 L1015.0 925.0Z"/>
<path fill="#5cb134" d="M936.7 979.0 L940.0 983.7 L944.2 984.5 L947.0 981.8 L949.0 986.7 L950.7 991.7 L952.3 996.3 L953.8 1000.0 L949.7 1001.5 L947.2 1004.0 L944.5 1007.5 L940.5 1006.7 L938.5 1002.0 L935.8 995.0 L937.7 990.0 L938.5 985.8Z"/>
<path fill="#d9e7c1" stroke="none" d="M1035.0 1051.7 L1040.0 1048.3 L1042.5 1045.0 L1045.8 1046.7 L1046.7 1051.7 L1050.0 1056.7 L1046.7 1061.7 L1040.0 1061.7 L1035.8 1058.3 L1034.2 1054.2Z"/>
<path fill="#5cb134" d="M1000.8 1046.7 L1008.3 1040.0 L1010.8 1034.2 L1016.7 1031.7 L1025.0 1029.2 L1031.7 1030.8 L1038.3 1035.0 L1045.0 1030.0 L1046.7 1024.2 L1050.0 1028.3 L1056.7 1033.3 L1060.8 1036.7 L1061.7 1043.3 L1068.3 1041.7 L1071.7 1046.7 L1075.8 1053.3 L1073.3 1060.0 L1074.2 1068.3 L1068.3 1076.7 L1060.0 1075.0 L1053.3 1080.0 L1043.3 1086.7 L1042.5 1076.7 L1045.0 1071.7 L1040.0 1065.8 L1033.3 1063.3 L1026.7 1064.2 L1023.3 1057.5 L1016.7 1053.3 L1010.0 1058.3 L1003.3 1054.2ZM1035.0 1051.7 L1040.0 1048.3 L1042.5 1045.0 L1045.8 1046.7 L1046.7 1051.7 L1050.0 1056.7 L1046.7 1061.7 L1040.0 1061.7 L1035.8 1058.3 L1034.2 1054.2Z"/>
<path fill="#5cb134" d="M995.0 1057.5 L1003.3 1054.2 L1010.0 1058.3 L1016.7 1053.3 L1023.3 1057.5 L1026.7 1064.2 L1033.3 1063.3 L1040.0 1065.8 L1045.0 1071.7 L1042.5 1076.7 L1043.3 1086.7 L1041.7 1089.2 L1036.7 1090.8 L1028.3 1095.0 L1023.3 1101.7 L1022.5 1110.0 L1023.3 1117.5 L1013.3 1113.3 L1006.7 1114.2 L1004.2 1111.7 L1003.3 1101.7 L1001.7 1094.2 L1004.2 1090.0 L1006.7 1085.0 L1008.3 1080.0 L1006.7 1073.3 L1000.0 1066.7 L995.8 1062.5Z"/>
<path fill="#90c24a" d="M935.8 1078.3 L941.7 1073.3 L945.0 1066.7 L950.0 1063.3 L955.0 1057.5 L958.3 1051.7 L961.7 1056.7 L970.0 1057.5 L976.7 1051.7 L981.7 1049.2 L985.8 1048.3 L987.5 1052.5 L991.7 1060.0 L995.8 1063.3 L1000.0 1067.5 L1006.7 1073.3 L1005.8 1080.0 L1001.7 1086.7 L995.8 1085.0 L993.3 1090.0 L990.0 1094.2 L986.7 1090.0 L983.3 1086.7 L976.7 1084.2 L973.3 1088.3 L966.7 1089.2 L961.7 1090.0 L956.7 1087.5 L950.0 1088.3 L944.2 1086.7 L940.0 1082.5Z"/>
<path fill="#aad07b" d="M935.8 1086.7 L940.0 1085.8 L944.2 1087.5 L950.0 1088.7 L956.7 1088.0 L961.7 1090.8 L966.7 1095.8 L971.7 1100.0 L976.7 1103.3 L980.8 1105.0 L980.0 1108.3 L975.8 1111.7 L970.8 1115.8 L973.3 1120.0 L970.0 1123.3 L971.7 1126.7 L966.7 1135.0 L964.2 1135.0 L958.3 1126.7 L953.3 1118.3 L948.3 1115.8 L941.7 1113.3 L939.2 1110.0 L936.7 1101.7 L936.7 1093.3Z"/>
<path fill="#4dac33" d="M996.7 1085.8 L1000.0 1089.2 L1001.7 1094.2 L1003.3 1101.7 L1004.2 1111.7 L1001.7 1115.0 L1000.0 1121.7 L998.3 1128.3 L996.7 1135.8 L990.8 1132.5 L986.7 1138.3 L981.7 1140.0 L977.5 1143.3 L974.2 1139.2 L966.7 1135.0 L971.7 1126.7 L970.0 1123.3 L973.3 1120.0 L970.8 1115.8 L975.8 1111.7 L980.8 1108.3 L980.0 1105.0 L981.7 1098.3 L986.7 1096.7 L990.8 1091.7 L994.2 1087.5Z"/>
<path fill="#90c24a" d="M1004.2 1114.2 L1013.3 1113.3 L1023.3 1117.5 L1028.3 1119.2 L1029.2 1126.7 L1031.7 1133.3 L1033.3 1137.5 L1029.2 1137.5 L1023.3 1140.8 L1016.7 1145.8 L1012.5 1150.0 L1010.8 1155.0 L1010.0 1161.7 L1003.3 1164.2 L998.3 1163.3 L994.2 1160.0 L992.5 1153.3 L990.0 1150.0 L987.5 1145.0 L985.8 1140.0 L990.8 1132.5 L996.7 1135.8 L998.3 1128.3 L1000.0 1121.7 L1001.7 1115.0Z"/>
<path fill="#4dac33" d="M757.5 1101.7 L762.5 1104.2 L767.5 1100.8 L768.3 1095.8 L773.3 1092.5 L783.3 1092.5 L788.3 1091.7 L792.5 1094.2 L790.8 1100.0 L793.3 1105.8 L796.7 1110.8 L800.8 1115.0 L801.7 1120.8 L798.3 1125.8 L793.3 1127.5 L788.3 1125.8 L781.7 1124.2 L777.5 1120.8 L775.0 1119.2 L768.3 1120.0 L765.0 1116.7 L760.8 1114.2 L762.5 1109.2 L760.0 1105.8Z"/>
<path fill="#aad07b" d="M865.8 1130.0 L868.3 1134.2 L876.7 1135.0 L880.0 1130.0 L882.5 1135.0 L890.0 1137.5 L892.5 1141.7 L890.8 1148.3 L889.2 1155.0 L891.7 1160.0 L895.8 1163.3 L895.0 1169.2 L892.5 1172.5 L886.7 1173.3 L880.0 1178.3 L875.8 1180.8 L871.7 1176.7 L868.3 1171.7 L869.2 1163.3 L868.3 1156.7 L863.3 1151.7 L859.2 1146.7 L858.3 1140.0 L861.7 1135.8Z"/>
<path fill="#90c24a" d="M806.7 1089.2 L810.8 1085.8 L817.5 1084.2 L819.2 1077.5 L816.7 1070.8 L811.7 1069.2 L813.3 1064.2 L820.0 1066.7 L825.0 1070.0 L831.7 1068.3 L835.0 1063.3 L840.0 1060.8 L841.7 1053.3 L846.7 1052.5 L851.7 1053.3 L857.5 1050.0 L860.0 1052.5 L866.7 1052.5 L873.3 1055.0 L878.3 1060.0 L882.5 1065.8 L884.7 1073.3 L884.2 1081.7 L882.5 1088.3 L880.8 1095.0 L875.0 1096.7 L870.0 1094.2 L863.3 1090.8 L858.3 1090.0 L856.7 1093.3 L850.0 1092.5 L843.3 1095.8 L836.7 1096.7 L830.8 1097.5 L825.0 1095.8 L820.0 1091.7 L815.0 1090.0Z"/>
<path fill="#aad07b" d="M1089.2 1154.2 L1093.3 1151.7 L1098.3 1153.3 L1105.0 1154.2 L1111.7 1156.7 L1116.7 1161.7 L1120.0 1167.5 L1121.7 1170.8 L1115.8 1173.3 L1111.7 1180.0 L1106.7 1186.7 L1102.5 1191.7 L1098.3 1195.0 L1094.2 1193.3 L1090.0 1187.5 L1087.5 1182.5 L1090.8 1176.7 L1089.2 1170.0 L1090.0 1163.3Z"/>
<path fill="#90c24a" d="M780.8 1223.3 L784.2 1218.3 L783.3 1213.3 L790.0 1211.7 L795.0 1209.2 L798.3 1210.0 L799.2 1205.8 L801.7 1206.7 L802.5 1210.0 L813.3 1210.8 L823.3 1210.8 L830.0 1209.2 L836.7 1210.8 L841.7 1213.3 L849.2 1210.8 L850.8 1218.3 L850.8 1226.7 L851.7 1232.5 L848.3 1237.5 L850.8 1241.7 L852.5 1248.3 L850.8 1253.3 L845.8 1254.2 L841.7 1252.5 L835.0 1255.0 L828.3 1254.2 L823.3 1255.0 L816.7 1260.8 L811.7 1263.3 L810.8 1260.0 L815.0 1255.0 L814.2 1250.8 L808.3 1248.3 L801.7 1245.0 L795.0 1243.3 L790.8 1241.7 L788.3 1236.7 L785.8 1233.3 L784.2 1228.3Z"/>
<path fill="#aad07b" d="M823.3 1255.0 L828.3 1254.2 L835.0 1255.0 L841.7 1252.5 L845.8 1254.2 L846.7 1258.3 L845.8 1265.8 L840.0 1268.3 L835.8 1273.3 L830.0 1273.3 L825.0 1272.5 L823.3 1267.5 L820.0 1266.7 L817.5 1262.5 L820.0 1258.3Z"/>
<path fill="#aad07b" d="M802.5 1267.5 L808.3 1263.3 L815.0 1265.0 L815.8 1269.2 L814.2 1271.7 L808.3 1270.0Z"/>
<path fill="#5cb134" d="M669.2 895.0 L673.3 890.8 L680.0 887.5 L686.7 885.8 L688.3 890.0 L691.7 896.7 L690.0 903.3 L685.8 907.5 L681.7 904.2 L676.7 901.7 L672.5 899.2Z"/>
<path fill="#aad07b" d="M702.5 893.3 L710.0 890.0 L715.0 884.2 L721.7 879.2 L725.0 883.3 L730.0 885.8 L726.7 893.3 L723.3 900.0 L713.3 900.8 L708.3 900.8 L705.0 896.7Z"/>
<path fill="#aad07b" d="M670.8 909.2 L675.8 903.3 L681.7 905.8 L685.8 910.8 L687.5 915.0 L680.0 915.8 L675.0 911.7Z"/>
<path fill="#5cb134" d="M685.8 909.2 L695.0 908.3 L701.7 905.0 L705.0 900.8 L706.7 898.3 L709.2 902.5 L707.5 905.8 L712.5 907.5 L713.3 913.3 L710.0 918.3 L706.7 925.0 L705.0 931.7 L705.8 940.0 L707.5 947.5 L700.0 947.5 L698.3 941.7 L693.3 936.7 L691.7 930.0 L690.0 921.7 L688.3 915.0Z"/>
<path fill="#5cb134" d="M711.7 914.2 L715.0 915.0 L713.3 921.7 L710.8 928.3 L708.3 935.0 L705.8 935.8 L706.7 928.3 L708.3 921.7Z"/>
<path fill="#5cb134" d="M726.7 918.3 L733.3 916.7 L740.0 913.3 L746.7 910.8 L750.8 911.7 L751.7 921.7 L750.0 930.0 L746.7 935.8 L740.0 939.2 L733.3 943.3 L730.0 948.3 L723.3 945.0 L718.3 943.3 L713.3 946.7 L708.3 947.5 L706.7 940.0 L708.3 935.0 L713.3 933.3 L716.7 938.3 L720.8 935.8 L723.3 930.0 L725.8 923.3Z"/>
<path fill="#aad07b" d="M690.0 951.7 L700.0 948.3 L708.3 948.0 L720.0 946.7 L723.3 945.8 L730.0 949.2 L731.7 956.7 L735.8 960.8 L737.5 970.0 L738.3 979.2 L733.3 980.8 L726.7 978.3 L721.7 975.0 L720.0 966.7 L718.3 963.3 L713.3 964.2 L710.0 966.7 L711.7 973.3 L708.3 976.7 L703.3 972.5 L698.3 969.2 L694.2 968.3 L692.5 960.0Z"/>
<path fill="#5cb134" d="M694.5 969.7 L698.7 968.7 L704.0 973.0 L707.3 978.0 L709.3 980.8 L706.0 985.0 L709.3 989.2 L708.3 993.0 L703.3 994.8 L700.3 990.7 L696.0 988.7 L698.7 983.3 L696.0 978.3 L694.3 974.2Z"/>
<path fill="#5cb134" d="M682.0 985.0 L686.7 983.0 L689.7 978.0 L692.5 974.3 L695.5 979.2 L698.2 985.0 L696.3 990.7 L690.5 991.5 L688.0 987.2 L684.7 986.3Z"/>
<path fill="#aad07b" d="M734.2 986.7 L738.3 985.8 L742.5 988.3 L738.3 993.3 L733.3 996.7 L730.8 995.0 L732.5 990.8Z"/>
<path fill="#90c24a" d="M676.7 1015.8 L685.0 1012.5 L689.2 1016.7 L690.8 1021.7 L688.3 1027.5 L686.7 1035.0 L685.0 1043.3 L681.7 1050.0 L680.0 1056.7 L675.0 1059.2 L668.3 1058.3 L660.0 1055.0 L660.0 1047.5 L665.0 1043.3 L664.2 1036.7 L670.0 1038.3 L676.7 1037.5 L677.5 1030.0 L674.2 1028.3 L675.0 1023.3 L676.7 1020.0Z"/>
<path fill="#5cb134" d="M680.8 1055.0 L684.2 1046.7 L688.3 1044.7 L693.3 1045.8 L695.0 1049.2 L699.2 1050.0 L700.0 1056.7 L702.5 1061.7 L698.3 1064.2 L693.3 1061.7 L688.3 1058.3 L683.3 1056.7Z"/>
<path fill="#5cb134" d="M754.2 1027.5 L760.0 1026.7 L765.0 1029.2 L770.0 1033.3 L773.3 1038.3 L770.8 1040.8 L765.0 1041.7 L761.7 1041.7 L760.8 1035.8 L757.5 1031.7Z"/>
<path fill="#5cb134" d="M546.7 673.3 L550.0 672.5 L555.0 675.8 L557.5 680.0 L558.3 688.3 L556.7 695.0 L556.7 701.7 L550.0 702.5 L546.7 703.3 L543.3 698.3 L542.5 691.7 L544.2 686.7 L543.3 680.0Z"/>
<path fill="#5cb134" d="M575.8 664.2 L580.0 665.8 L583.3 669.2 L586.7 671.7 L587.5 675.8 L585.8 680.8 L585.0 684.2 L580.8 681.7 L577.5 678.3 L575.8 673.3 L575.0 668.3Z"/>
<path fill="#90c24a" d="M566.7 685.0 L573.3 681.7 L576.7 680.0 L580.8 683.3 L584.2 687.5 L585.0 693.3 L583.3 700.8 L576.7 701.7 L570.0 703.3 L567.5 701.7 L570.0 696.7 L570.0 690.0Z"/>
<path fill="#aad07b" d="M569.2 671.7 L573.3 667.5 L575.8 673.3 L573.3 675.8Z"/>
<path fill="#aad07b" d="M615.0 653.3 L617.5 650.8 L621.7 655.0 L623.3 657.5 L628.3 655.0 L635.0 654.2 L637.5 658.3 L636.7 665.0 L639.2 668.3 L645.0 667.5 L648.3 673.3 L649.2 681.7 L648.3 687.5 L640.0 688.3 L633.3 689.2 L629.2 690.0 L630.0 699.2 L625.0 698.3 L620.0 695.8 L623.3 691.7 L627.5 686.7 L630.8 682.5 L632.5 678.3 L630.0 673.3 L626.7 670.8 L620.8 670.0 L616.7 670.8 L615.8 665.0 L616.7 660.0Z"/>
<path fill="#90c24a" d="M639.2 653.3 L646.7 650.8 L653.3 651.7 L658.3 655.0 L662.5 657.5 L660.0 661.7 L658.3 666.7 L656.7 670.8 L650.8 672.5 L648.3 670.0 L645.0 667.5 L639.2 668.3 L636.7 665.0 L637.5 658.3Z"/>
<path fill="#5cb134" d="M607.5 705.0 L610.0 700.0 L616.7 697.5 L623.3 698.3 L625.8 703.3 L625.0 711.7 L623.3 716.7 L619.2 718.3 L618.3 713.3 L616.7 710.0 L613.3 709.2 L610.8 711.7 L611.7 707.5Z"/>
<path fill="#aad07b" d="M536.7 713.3 L542.5 710.0 L546.7 706.7 L545.8 715.0 L547.5 723.3 L550.0 730.0 L555.0 734.2 L560.0 739.2 L556.7 742.5 L553.3 746.7 L548.3 747.5 L546.7 750.8 L540.0 750.0 L531.7 749.2 L528.3 745.0 L523.3 743.3 L521.7 739.2 L523.3 734.2 L528.3 730.8 L526.7 723.3 L528.3 720.0 L533.3 718.3Z"/>
<path fill="#5cb134" d="M523.3 750.0 L528.3 745.8 L530.8 749.2 L540.0 750.8 L546.7 750.8 L549.2 746.7 L553.3 748.3 L555.0 755.0 L553.3 761.7 L556.7 766.7 L560.0 771.7 L562.5 776.7 L566.7 781.7 L570.8 783.3 L570.0 785.0 L563.3 785.0 L556.7 786.7 L551.7 789.2 L548.3 794.2 L544.2 792.5 L541.7 786.7 L544.2 781.7 L543.3 777.5 L536.7 778.3 L532.5 775.8 L530.0 770.0 L526.7 765.0 L524.2 758.3 L523.0 753.3Z"/>
<path fill="#5cb134" d="M573.3 782.5 L575.0 780.0 L581.7 776.7 L588.3 773.3 L593.3 769.2 L600.0 770.8 L606.7 767.5 L610.0 765.8 L612.5 770.8 L613.3 775.0 L618.3 780.0 L623.3 785.0 L630.0 785.8 L631.7 789.2 L627.5 790.8 L623.3 791.7 L620.8 795.8 L613.3 797.5 L606.7 800.0 L605.0 806.7 L600.0 809.2 L593.3 810.8 L589.2 810.0 L586.7 804.2 L585.8 799.2 L588.3 795.0 L586.7 790.8 L581.7 788.3 L575.0 788.3 L571.7 791.7 L571.7 800.0 L570.8 806.7 L573.3 810.8 L578.3 807.5 L583.3 807.5 L585.8 810.0 L581.7 813.3 L576.7 815.0 L574.2 812.5 L570.8 815.0 L566.7 820.0 L562.5 818.3 L559.2 813.3 L560.8 808.3 L558.3 804.2 L557.5 798.3 L560.0 793.3 L559.2 787.5 L563.3 785.3 L570.0 785.0Z"/>
<path fill="#5cb134" d="M588.3 813.3 L593.3 811.7 L600.0 810.0 L604.2 806.7 L603.3 800.8 L608.3 800.0 L610.8 805.0 L610.0 813.3 L611.7 819.2 L615.8 821.7 L619.2 818.3 L618.3 813.3 L623.3 810.0 L628.3 810.8 L630.8 814.2 L629.2 820.0 L631.7 823.3 L630.8 828.3 L627.5 833.3 L623.3 835.0 L620.0 836.7 L616.7 841.7 L613.3 843.3 L608.3 840.0 L604.2 836.7 L599.2 833.3 L596.7 826.7 L594.2 821.7 L590.8 817.5Z"/>
<path fill="#5cb134" d="M634.2 800.0 L638.3 797.5 L642.5 800.8 L645.8 802.5 L650.0 804.2 L652.5 800.8 L656.7 804.2 L660.8 805.8 L670.0 805.0 L670.8 813.3 L672.5 819.2 L670.0 825.0 L666.7 826.7 L665.0 822.5 L661.7 825.0 L658.3 830.0 L656.7 836.7 L655.0 843.3 L650.0 845.8 L647.5 851.7 L643.3 854.2 L639.2 850.0 L636.7 846.7 L632.5 850.8 L628.3 847.5 L626.7 841.7 L623.3 836.7 L628.3 834.2 L631.7 828.3 L632.5 823.3 L630.0 819.2 L631.7 814.2 L633.3 806.7Z"/>
<path fill="#aad07b" d="M496.7 760.0 L499.2 764.2 L498.3 768.3 L505.0 771.7 L508.3 776.7 L506.7 783.3 L510.0 786.7 L505.8 793.3 L503.3 800.0 L510.0 804.2 L513.3 806.7 L511.7 813.3 L509.2 818.3 L507.5 824.2 L495.0 823.3 L493.0 818.3 L496.7 813.3 L500.8 810.8 L497.5 804.2 L494.2 798.3 L490.0 792.5 L481.7 790.8 L480.8 785.0 L478.3 781.7 L482.5 774.2 L487.5 768.3 L493.3 764.2Z"/>
<path fill="#5cb134" d="M603.0 445.8 L608.3 445.0 L616.7 447.5 L625.0 450.0 L630.0 455.8 L634.2 457.5 L638.3 455.8 L643.3 459.2 L646.7 463.3 L647.5 470.0 L651.7 474.2 L655.0 476.7 L652.5 481.7 L646.7 485.0 L644.2 490.0 L642.5 496.7 L638.3 503.3 L640.0 508.3 L642.5 513.3 L636.7 518.3 L635.0 526.7 L635.0 536.7 L631.7 543.3 L630.0 553.3 L623.3 556.7 L616.7 561.7 L610.0 566.7 L606.7 565.0 L604.2 558.3 L601.7 550.0 L600.8 543.3 L605.0 536.7 L605.8 531.7 L600.0 528.3 L595.0 523.3 L590.0 519.2 L583.3 516.3 L586.7 515.8 L588.0 500.0 L590.0 490.0 L593.3 480.0 L597.5 471.7 L601.7 463.3 L602.5 453.3Z"/>
<path fill="#d9e7c1" stroke="none" d="M664.2 567.5 L667.5 563.7 L673.3 565.8 L680.0 567.5 L685.0 570.8 L681.7 575.0 L680.0 580.8 L675.0 578.3 L670.0 579.2 L665.0 576.7Z"/>
<path fill="#90c24a" d="M636.7 519.2 L642.5 514.2 L650.0 511.7 L656.7 508.3 L661.7 511.7 L667.5 510.8 L673.3 514.2 L676.7 520.0 L673.3 526.7 L672.5 535.0 L675.0 541.7 L680.0 546.7 L685.0 548.3 L690.0 544.2 L695.8 542.5 L696.7 551.7 L703.3 556.7 L708.3 561.7 L708.3 570.0 L708.3 578.3 L708.3 584.2 L711.7 587.5 L706.7 591.7 L702.5 595.8 L693.3 594.2 L686.7 596.7 L680.0 600.8 L673.3 602.5 L668.3 603.3 L664.2 605.8 L659.2 600.0 L664.2 596.7 L670.0 593.3 L670.8 587.5 L665.0 585.0 L660.8 580.8 L662.5 575.0 L662.5 568.3 L665.0 563.3 L661.7 557.5 L655.0 556.7 L648.3 553.3 L643.3 549.2 L640.0 543.3 L636.3 538.3 L635.8 528.3ZM664.2 567.5 L667.5 563.7 L673.3 565.8 L680.0 567.5 L685.0 570.8 L681.7 575.0 L680.0 580.8 L675.0 578.3 L670.0 579.2 L665.0 576.7Z"/>
<path fill="#5cb134" d="M729.2 465.0 L733.3 461.7 L740.0 462.5 L746.7 464.2 L751.7 465.8 L750.0 470.0 L751.7 475.0 L754.2 481.7 L758.3 482.5 L761.7 478.3 L765.8 482.5 L766.7 486.7 L761.7 490.0 L760.8 495.0 L761.7 503.3 L760.0 510.0 L756.7 516.7 L750.0 520.0 L746.7 525.0 L747.5 531.7 L740.0 534.2 L731.7 538.3 L723.3 536.7 L715.0 539.2 L708.3 541.7 L707.5 545.8 L696.7 546.3 L696.3 536.7 L699.2 531.7 L697.5 523.3 L697.5 516.7 L701.7 511.7 L708.3 508.3 L711.7 503.3 L710.8 496.7 L716.7 493.3 L723.3 490.0 L726.7 485.0 L727.5 480.0 L730.8 476.7 L728.3 470.0Z"/>
<path fill="#5cb134" d="M715.8 434.2 L721.7 436.7 L728.3 440.8 L733.3 440.0 L738.3 443.3 L745.0 446.7 L751.7 449.2 L755.0 446.7 L755.8 453.3 L755.8 460.8 L751.7 464.2 L746.7 462.5 L740.0 460.0 L736.7 460.8 L734.2 457.5 L731.7 451.7 L729.2 446.7 L723.3 442.5 L719.2 439.2Z"/>
<path fill="#5cb134" d="M780.0 536.7 L788.3 533.3 L790.0 527.5 L796.7 524.2 L801.7 520.8 L805.8 520.0 L808.3 516.7 L810.8 521.7 L813.3 526.7 L820.0 525.0 L823.3 523.3 L831.7 527.5 L840.0 530.0 L843.3 533.3 L850.0 536.7 L856.7 540.0 L863.3 542.5 L868.3 544.2 L870.8 547.5 L865.0 551.7 L860.0 556.7 L856.7 558.3 L856.7 566.7 L851.7 568.3 L850.0 571.7 L843.3 574.2 L835.0 575.8 L828.3 578.3 L825.0 581.7 L827.5 585.0 L825.0 589.2 L821.7 588.3 L819.2 591.7 L816.7 595.0 L811.7 595.8 L806.7 591.7 L801.7 590.0 L802.5 583.3 L798.3 578.3 L795.0 573.3 L793.3 566.7 L795.0 560.0 L791.7 553.3 L789.2 555.0 L786.7 558.3 L785.0 555.8 L788.3 551.7 L781.7 550.0 L780.8 543.3Z"/>
<path fill="#aad07b" d="M586.7 574.2 L588.3 580.0 L591.7 586.7 L598.3 591.7 L601.7 594.2 L600.8 600.8 L593.3 602.5 L586.7 606.7 L581.7 609.2 L585.0 613.3 L583.3 620.0 L581.7 625.0 L585.0 631.7 L589.2 635.8 L585.0 640.0 L580.0 641.7 L573.3 640.0 L568.3 642.5 L565.0 646.7 L560.0 645.0 L555.0 641.7 L548.3 640.0 L540.0 636.7 L533.3 634.2 L526.7 635.0 L523.3 625.8 L530.0 626.7 L540.0 621.7 L546.7 619.2 L553.3 622.5 L560.0 616.7 L563.3 611.7 L558.3 606.7 L553.3 601.7 L551.7 598.3 L556.7 595.0 L563.3 590.8 L570.0 585.0 L578.3 578.3Z"/>
<path fill="#5cb134" d="M660.0 360.3 L668.3 359.7 L676.7 360.3 L677.5 365.0 L676.7 370.8 L680.3 371.7 L676.7 375.0 L675.8 380.0 L677.5 386.7 L678.3 393.3 L679.2 398.3 L685.0 399.2 L688.3 401.7 L690.8 406.7 L690.0 410.8 L686.7 413.3 L684.2 415.8 L680.0 415.0 L675.8 416.7 L672.5 418.7 L668.3 415.0 L664.2 410.8 L662.5 405.8 L666.7 402.5 L670.0 399.2 L670.8 394.2 L669.2 390.0 L665.0 388.3 L659.2 388.3 L660.0 382.5 L663.3 377.5 L662.5 370.0 L660.8 364.2Z"/>
<path fill="#5cb134" d="M676.3 375.3 L682.7 373.7 L685.7 377.0 L687.3 383.0 L688.3 387.5 L684.7 390.7 L679.7 390.0 L677.7 384.7Z"/>
<path fill="#aad07b" d="M695.0 386.7 L695.8 380.0 L700.0 376.7 L703.3 377.5 L706.7 382.5 L713.3 385.8 L720.8 387.0 L720.0 390.8 L716.7 395.0 L714.7 400.0 L715.0 410.0 L715.8 420.0 L714.2 428.3 L715.8 435.0 L720.0 439.2 L725.0 443.3 L728.3 449.2 L725.8 450.0 L718.3 448.3 L711.7 446.7 L707.5 447.5 L705.8 442.5 L700.0 440.8 L699.2 433.3 L697.5 426.7 L695.0 421.7 L691.7 418.3 L689.2 415.8 L692.5 412.5 L696.7 406.7 L700.0 400.0 L700.8 393.3 L699.2 389.2Z"/>
<path fill="#5cb134" d="M721.2 379.7 L723.3 380.3 L723.7 385.0 L721.3 385.8Z"/>
<path fill="#5cb134" d="M825.0 378.3 L828.3 383.3 L833.3 380.0 L840.0 373.3 L846.7 370.0 L853.3 369.2 L855.0 364.2 L860.8 361.7 L858.3 367.5 L861.7 373.3 L863.3 378.3 L860.8 383.3 L858.3 386.7 L860.0 391.7 L865.0 397.5 L871.7 405.0 L866.7 408.3 L861.7 410.8 L855.0 405.0 L850.8 400.8 L846.7 404.2 L843.3 407.5 L838.3 405.0 L835.8 400.8 L830.0 397.5 L827.5 391.7 L826.7 385.0Z"/>
<path fill="#5cb134" d="M865.8 592.5 L873.3 590.8 L878.3 588.3 L881.7 585.0 L884.2 587.5 L888.3 590.0 L885.0 595.0 L882.5 600.0 L883.3 605.0 L886.7 608.3 L881.7 610.0 L877.5 613.3 L873.3 610.8 L875.0 605.0 L871.7 600.8 L867.5 597.5Z"/>
<path fill="#d9e7c1" stroke="none" d="M1011.7 684.2 L1016.7 682.5 L1024.2 681.7 L1026.7 685.0 L1027.5 689.2 L1032.5 689.2 L1030.0 693.3 L1026.7 698.3 L1025.0 703.3 L1020.0 701.7 L1016.7 696.7 L1012.5 691.7 L1010.8 687.5Z"/>
<path fill="#90c24a" d="M1000.0 668.3 L1010.8 666.7 L1011.7 665.0 L1013.3 667.5 L1026.7 668.3 L1026.7 675.8 L1035.0 677.5 L1040.0 682.5 L1041.7 689.2 L1039.2 695.8 L1040.0 704.2 L1041.7 711.7 L1039.2 716.7 L1040.0 720.8 L1035.0 722.5 L1030.0 720.0 L1025.0 721.7 L1018.3 722.5 L1016.7 725.8 L1008.3 725.8 L1005.0 722.5 L1000.0 721.7 L995.0 719.2 L990.0 715.8 L985.0 720.0 L978.3 717.5 L973.3 711.7 L976.7 706.7 L983.3 701.7 L990.0 696.7 L996.7 700.8 L1002.5 698.3 L1006.7 694.2 L1000.0 688.3 L999.2 684.2 L997.5 680.0 L1000.0 675.0ZM1011.7 684.2 L1016.7 682.5 L1024.2 681.7 L1026.7 685.0 L1027.5 689.2 L1032.5 689.2 L1030.0 693.3 L1026.7 698.3 L1025.0 703.3 L1020.0 701.7 L1016.7 696.7 L1012.5 691.7 L1010.8 687.5Z"/>
<path fill="#aad07b" d="M969.2 730.0 L973.3 723.3 L978.3 717.5 L985.0 720.0 L990.0 715.8 L995.0 719.2 L1000.0 721.7 L1005.0 722.5 L1008.3 725.8 L1016.7 725.8 L1018.3 722.5 L1025.0 721.7 L1030.0 720.0 L1035.0 722.5 L1040.0 720.8 L1041.7 728.3 L1043.3 738.3 L1045.8 746.7 L1050.0 749.2 L1050.8 758.3 L1047.5 765.0 L1045.0 769.2 L1041.7 765.0 L1033.3 765.8 L1027.5 765.0 L1025.0 759.2 L1018.3 755.8 L1010.0 754.2 L1000.0 753.3 L997.5 746.7 L986.7 745.8 L977.5 746.7 L977.5 738.3 L975.0 733.3Z"/>
<path fill="#90c24a" d="M731.7 883.3 L734.2 875.8 L738.3 869.2 L740.8 868.0 L746.7 870.8 L755.0 873.3 L763.3 871.7 L768.3 868.3 L771.7 862.5 L775.0 857.5 L777.5 850.0 L779.2 841.7 L782.5 845.0 L783.3 850.8 L788.3 851.7 L793.3 845.8 L798.3 850.0 L805.0 853.3 L810.0 854.2 L816.7 857.5 L819.2 860.8 L815.8 865.8 L810.8 870.0 L807.5 875.8 L801.7 874.2 L796.7 875.0 L795.8 881.7 L796.7 888.3 L797.5 895.0 L791.7 896.7 L787.5 895.8 L785.0 890.8 L776.7 888.3 L768.3 890.0 L765.0 894.2 L760.0 891.7 L750.0 893.3 L743.3 896.7 L738.3 894.2 L735.8 888.3Z"/>
<path fill="#90c24a" d="M881.7 885.0 L887.5 880.0 L891.7 876.7 L895.0 880.0 L901.7 878.3 L908.3 880.0 L911.7 877.5 L914.2 883.3 L915.0 888.3 L920.0 890.0 L923.3 888.3 L921.7 895.0 L918.3 898.3 L917.5 903.3 L914.2 905.0 L913.3 913.3 L910.0 920.0 L905.0 925.8 L900.0 930.8 L895.0 926.7 L890.0 921.7 L885.0 915.0 L881.7 908.3 L880.0 903.3 L882.5 898.3 L878.3 895.8 L880.8 890.0Z"/>
<path fill="#5cb134" d="M858.3 930.0 L862.5 927.5 L868.3 928.3 L869.2 931.7 L875.0 932.5 L877.5 930.0 L881.7 936.7 L884.2 940.0 L888.3 942.5 L893.3 943.3 L890.0 945.8 L883.3 947.5 L878.3 950.8 L875.8 955.8 L876.7 963.3 L875.0 965.0 L865.0 965.0 L860.0 965.0 L858.3 969.2 L855.8 965.0 L850.8 964.2 L850.0 961.7 L855.0 958.3 L853.3 953.3 L849.2 950.0 L847.5 945.0 L848.3 938.3 L853.3 934.2Z"/>
<path fill="#90c24a" d="M483.3 630.0 L490.0 627.5 L500.0 625.8 L500.3 620.0 L504.2 623.7 L511.7 625.8 L518.3 629.2 L523.3 633.3 L526.7 635.8 L530.8 635.0 L531.7 640.0 L526.7 643.3 L522.5 644.7 L521.7 646.7 L518.3 653.3 L512.5 658.3 L515.0 661.7 L518.3 666.7 L520.0 670.8 L526.7 670.0 L528.3 671.7 L525.0 676.7 L526.7 685.0 L528.3 691.7 L521.7 691.7 L516.7 695.0 L510.0 698.3 L505.0 697.5 L503.3 691.7 L502.5 681.7 L500.8 673.3 L497.5 665.0 L493.3 656.7 L489.2 650.0 L490.0 643.3 L483.3 640.0Z"/>
<path fill="#90c24a" d="M531.7 635.8 L540.0 637.5 L548.3 640.8 L555.0 642.5 L560.0 645.8 L565.0 647.5 L568.3 644.2 L569.2 651.7 L566.7 658.3 L563.3 662.5 L561.7 666.7 L556.7 670.8 L553.3 675.0 L548.3 673.3 L546.7 676.7 L543.3 680.0 L544.2 688.3 L542.5 695.0 L535.8 694.2 L530.8 691.7 L528.3 685.0 L525.8 675.8 L529.2 671.7 L520.0 670.0 L513.3 659.2 L519.2 653.3 L522.5 646.7 L522.5 644.7 L526.7 643.3 L531.7 640.0Z"/>
<path fill="#90c24a" d="M569.2 643.3 L573.3 640.8 L580.0 642.5 L585.8 640.0 L590.0 637.5 L596.7 638.3 L599.2 645.0 L603.3 651.7 L608.3 656.7 L613.3 660.8 L616.7 665.0 L613.3 669.2 L608.3 670.8 L606.7 675.8 L604.2 680.0 L600.0 675.0 L596.7 672.5 L590.0 675.0 L586.7 673.3 L585.0 669.2 L581.7 665.0 L578.3 664.2 L573.3 661.7 L568.3 660.0 L569.2 651.7Z"/>
</g>
<path fill="#fff" d="M1173.3 308.3 L1180.0 306.7 L1185.0 310.0 L1189.2 315.0 L1186.7 323.3 L1181.7 325.0 L1180.0 320.0 L1175.0 316.7 L1171.7 311.7Z"/>
<path fill="none" stroke="#fff" stroke-width="2.2" d="M1162.5 293.0 L1166.7 300.0 L1169.2 306.7 L1166.7 311.7 L1173.3 316.7 L1180.0 323.3 L1181.7 326.7 L1175.0 331.7 L1173.3 337.5 L1178.3 340.8 L1182.0 338.7"/>
</svg>
<div class="t" style="left:241px;top:79.9px;font-size:42px;font-weight:700;color:#878787;transform:scaleX(0.9845)">Reported WEB hydrogen supply in 2032 for category 1 projects</div>
<div class="t" style="left:433px;top:208.4px;font-size:35px;font-weight:700;color:#575757;transform:scaleX(0.9611)">Hydrogen</div>
<div class="t" style="left:433px;top:245.9px;font-size:35px;font-weight:700;color:#575757;transform:scaleX(0.9575)">supply</div>
<div class="t" style="left:1343px;top:861.1px;font-size:30px;font-weight:700;color:#575757;transform:scaleX(1.0329)">Market enquiry WEB - Category 1</div>
<div class="t" style="left:1343px;top:899.3px;font-size:30px;font-weight:700;color:#575757;transform:scaleX(1.0323)">hydrogen supply 2032</div>
<div class="t" style="left:1342px;top:935.6px;font-size:30px;font-weight:400;color:#6a6a6a;transform:scaleX(1.0337)">absolute quantities at district level in TWh</div>
<div class="t" style="left:1392px;top:990.3px;font-size:31px;font-weight:400;color:#1d1d1b;transform:scaleX(0.9748)">less than 0,1 TWh</div>
<div class="t" style="left:1392px;top:1035.8px;font-size:31px;font-weight:400;color:#1d1d1b;transform:scaleX(0.9900)">from 0.1 to less than 0.5 TWh</div>
<div class="t" style="left:1392px;top:1082.8px;font-size:31px;font-weight:400;color:#1d1d1b;transform:scaleX(0.9900)">from 0,5 to less than 1,0 TWh</div>
<div class="t" style="left:1392px;top:1129.8px;font-size:31px;font-weight:400;color:#1d1d1b;transform:scaleX(0.9900)">from 1,0 to less than 5,0 TWh</div>
<div class="t" style="left:1392px;top:1177.6px;font-size:31px;font-weight:400;color:#1d1d1b;transform:scaleX(0.9785)">higher than 5 TWh</div>
<div class="t" style="left:117px;top:1357.6px;font-size:28.5px;font-weight:400;color:#8c8c8c;transform:scaleX(1.0465)">Quelle: Fernleitungsnetzbetreiber</div>
<div class="sw" style="top:988.6px;background:#d9e7c1;box-sizing:border-box;border:1px solid #c6c6c6;"></div>
<div class="sw" style="top:1036.7px;background:#aad07b;"></div>
<div class="sw" style="top:1084.0px;background:#90c24a;"></div>
<div class="sw" style="top:1131.0px;background:#5cb134;"></div>
<div class="sw" style="top:1178.2px;background:#4dac33;"></div>
</body></html>
